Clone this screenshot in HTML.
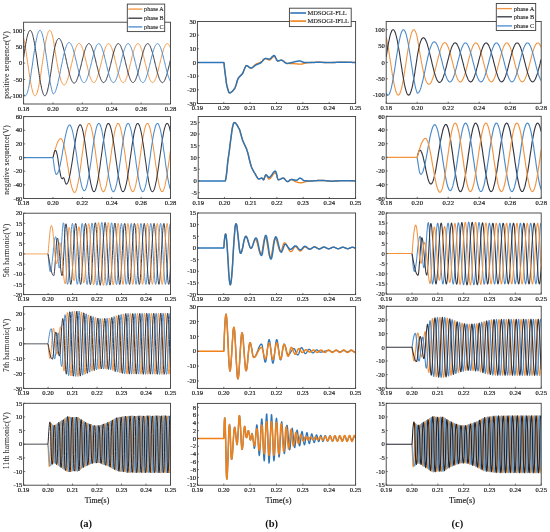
<!DOCTYPE html><html><head><meta charset="utf-8"><style>html,body{margin:0;padding:0;background:#fff;width:550px;height:532px;overflow:hidden}svg{display:block}</style></head><body><svg width="550" height="532" viewBox="0 0 550 532">
<rect width="550" height="532" fill="#fff"/>
<clipPath id="cpa0"><rect x="23.60" y="22.20" width="146.90" height="81.80"/></clipPath>
<g clip-path="url(#cpa0)" fill="none" stroke-linejoin="round">
<path d="M23.6 37.9L23.9 39.2 24.2 40.6 24.5 42.1 24.7 43.7 25.0 45.3 25.3 47.1 25.6 48.8 25.9 50.7 26.2 52.5 26.5 54.5 26.7 56.4 27.0 58.4 27.3 60.4 27.6 62.4 27.9 64.4 28.2 66.4 28.5 68.4 28.8 70.3 29.0 72.3 29.3 74.2 29.6 76.0 29.9 77.8 30.2 79.6 30.5 81.3 30.8 82.9 31.0 84.5 31.3 86.0 31.6 87.4 31.9 88.7 32.2 89.9 32.5 91.0 32.8 92.0 33.0 92.8 33.3 93.6 33.6 94.3 33.9 94.8 34.2 95.3 34.5 95.6 34.8 95.8 35.1 95.8 35.3 95.8 35.6 95.6 35.9 95.3 36.2 94.9 36.5 94.3 36.8 93.6 37.1 92.9 37.3 92.0 37.6 91.0 37.9 89.9 38.2 88.7 38.5 87.4 38.8 86.0 39.1 84.5 39.3 83.0 39.6 81.4 39.9 79.7 40.2 77.9 40.5 76.1 40.8 74.2 41.1 72.3 41.4 70.4 41.6 68.4 41.9 66.4 42.2 64.4 42.5 62.4 42.8 60.4 43.1 58.4 43.4 56.5 43.6 54.5 43.9 52.6 44.2 50.7 44.5 48.9 44.8 47.1 45.1 45.4 45.4 43.7 45.6 42.2 45.9 40.7 46.2 39.3 46.5 37.9 46.8 36.7 47.1 35.6 47.4 34.5 47.7 33.6 47.9 32.8 48.2 32.1 48.5 31.5 48.8 31.1 49.1 30.7 49.4 30.5 49.7 30.4 49.9 30.4 50.2 30.6 50.5 30.8 50.8 31.2 51.1 31.7 51.4 32.3 51.7 33.1 51.9 33.9 52.2 34.9 52.5 36.0 52.8 37.1 53.1 38.6 53.4 40.3 53.7 42.1 54.0 43.9 54.2 45.7 54.5 47.5 54.8 49.3 55.1 51.1 55.4 52.9 55.7 54.6 56.0 56.4 56.2 58.1 56.5 59.8 56.8 61.5 57.1 63.2 57.4 64.8 57.7 66.3 58.0 67.9 58.2 69.3 58.5 70.7 58.8 72.1 59.1 73.4 59.4 74.7 59.7 75.9 60.0 77.0 60.3 78.0 60.5 79.0 60.8 79.9 61.1 80.8 61.4 81.6 61.7 82.2 62.0 82.9 62.3 83.4 62.5 83.9 62.8 84.2 63.1 84.5 63.4 84.8 63.7 84.9 64.0 85.0 64.3 85.0 64.5 84.9 64.8 84.7 65.1 84.5 65.4 84.1 65.7 83.7 66.0 83.3 66.3 82.7 66.6 82.1 66.8 81.5 67.1 80.7 67.4 80.0 67.7 79.1 68.0 78.2 68.3 77.3 68.6 76.3 68.8 75.3 69.1 74.2 69.4 73.1 69.7 71.9 70.0 70.8 70.3 69.6 70.6 68.4 70.8 67.1 71.1 65.9 71.4 64.7 71.7 63.4 72.0 62.2 72.3 61.0 72.6 59.7 72.9 58.5 73.1 57.4 73.4 56.2 73.7 55.1 74.0 54.0 74.3 52.9 74.6 51.9 74.9 50.9 75.1 50.0 75.4 49.1 75.7 48.3 76.0 47.5 76.3 46.8 76.6 46.1 76.9 45.6 77.1 45.0 77.4 44.6 77.7 44.2 78.0 43.9 78.3 43.7 78.6 43.5 78.9 43.4 79.2 43.4 79.4 43.4 79.7 43.6 80.0 43.8 80.3 44.0 80.6 44.4 80.9 44.8 81.2 45.3 81.4 45.8 81.7 46.4 82.0 47.1 82.3 47.8 82.6 48.6 82.9 49.5 83.2 50.3 83.4 51.3 83.7 52.3 84.0 53.3 84.3 54.3 84.6 55.4 84.9 56.6 85.2 57.7 85.5 58.9 85.7 60.0 86.0 61.2 86.3 62.4 86.6 63.6 86.9 64.8 87.2 66.0 87.5 67.2 87.7 68.3 88.0 69.5 88.3 70.6 88.6 71.7 88.9 72.7 89.2 73.8 89.5 74.7 89.7 75.7 90.0 76.6 90.3 77.4 90.6 78.2 90.9 78.9 91.2 79.6 91.5 80.2 91.8 80.7 92.0 81.2 92.3 81.6 92.6 82.0 92.9 82.2 93.2 82.4 93.5 82.5 93.8 82.6 94.0 82.6 94.3 82.5 94.6 82.3 94.9 82.1 95.2 81.8 95.5 81.4 95.8 80.9 96.0 80.4 96.3 79.8 96.6 79.2 96.9 78.5 97.2 77.7 97.5 76.9 97.8 76.0 98.1 75.1 98.3 74.2 98.6 73.2 98.9 72.1 99.2 71.0 99.5 69.9 99.8 68.8 100.1 67.7 100.3 66.5 100.6 65.3 100.9 64.1 101.2 62.9 101.5 61.7 101.8 60.6 102.1 59.4 102.3 58.2 102.6 57.1 102.9 56.0 103.2 54.9 103.5 53.8 103.8 52.8 104.1 51.8 104.4 50.8 104.6 49.9 104.9 49.1 105.2 48.3 105.5 47.5 105.8 46.8 106.1 46.2 106.4 45.7 106.6 45.2 106.9 44.7 107.2 44.4 107.5 44.1 107.8 43.9 108.1 43.7 108.4 43.6 108.6 43.6 108.9 43.7 109.2 43.9 109.5 44.1 109.8 44.4 110.1 44.7 110.4 45.1 110.7 45.6 110.9 46.2 111.2 46.8 111.5 47.5 111.8 48.3 112.1 49.0 112.4 49.9 112.7 50.8 112.9 51.7 113.2 52.7 113.5 53.8 113.8 54.8 114.1 55.9 114.4 57.0 114.7 58.2 114.9 59.4 115.2 60.5 115.5 61.7 115.8 62.9 116.1 64.1 116.4 65.3 116.7 66.5 117.0 67.6 117.2 68.8 117.5 69.9 117.8 71.0 118.1 72.1 118.4 73.1 118.7 74.1 119.0 75.1 119.2 76.0 119.5 76.9 119.8 77.7 120.1 78.5 120.4 79.2 120.7 79.8 121.0 80.4 121.2 80.9 121.5 81.3 121.8 81.7 122.1 82.0 122.4 82.3 122.7 82.4 123.0 82.5 123.3 82.6 123.5 82.5 123.8 82.4 124.1 82.2 124.4 81.9 124.7 81.6 125.0 81.2 125.3 80.7 125.5 80.2 125.8 79.6 126.1 78.9 126.4 78.2 126.7 77.4 127.0 76.6 127.3 75.7 127.5 74.7 127.8 73.8 128.1 72.7 128.4 71.7 128.7 70.6 129.0 69.5 129.3 68.4 129.6 67.2 129.8 66.0 130.1 64.8 130.4 63.7 130.7 62.5 131.0 61.3 131.3 60.1 131.6 58.9 131.8 57.8 132.1 56.6 132.4 55.5 132.7 54.4 133.0 53.4 133.3 52.4 133.6 51.4 133.8 50.5 134.1 49.6 134.4 48.7 134.7 48.0 135.0 47.2 135.3 46.6 135.6 46.0 135.9 45.5 136.1 45.0 136.4 44.6 136.7 44.2 137.0 44.0 137.3 43.8 137.6 43.7 137.9 43.6 138.1 43.7 138.4 43.8 138.7 43.9 139.0 44.2 139.3 44.5 139.6 44.9 139.9 45.3 140.1 45.9 140.4 46.4 140.7 47.1 141.0 47.8 141.3 48.6 141.6 49.4 141.9 50.3 142.2 51.2 142.4 52.1 142.7 53.1 143.0 54.2 143.3 55.3 143.6 56.4 143.9 57.5 144.2 58.7 144.4 59.8 144.7 61.0 145.0 62.2 145.3 63.4 145.6 64.6 145.9 65.8 146.2 66.9 146.4 68.1 146.7 69.2 147.0 70.4 147.3 71.4 147.6 72.5 147.9 73.5 148.2 74.5 148.5 75.5 148.7 76.4 149.0 77.2 149.3 78.0 149.6 78.7 149.9 79.4 150.2 80.0 150.5 80.6 150.7 81.1 151.0 81.5 151.3 81.9 151.6 82.1 151.9 82.4 152.2 82.5 152.5 82.6 152.7 82.6 153.0 82.5 153.3 82.3 153.6 82.1 153.9 81.8 154.2 81.4 154.5 81.0 154.8 80.5 155.0 79.9 155.3 79.3 155.6 78.6 155.9 77.9 156.2 77.1 156.5 76.2 156.8 75.3 157.0 74.4 157.3 73.4 157.6 72.3 157.9 71.3 158.2 70.2 158.5 69.0 158.8 67.9 159.0 66.7 159.3 65.6 159.6 64.4 159.9 63.2 160.2 62.0 160.5 60.8 160.8 59.6 161.1 58.5 161.3 57.3 161.6 56.2 161.9 55.1 162.2 54.0 162.5 53.0 162.8 52.0 163.1 51.0 163.3 50.1 163.6 49.2 163.9 48.4 164.2 47.7 164.5 47.0 164.8 46.3 165.1 45.8 165.3 45.3 165.6 44.8 165.9 44.4 166.2 44.1 166.5 43.9 166.8 43.7 167.1 43.7 167.4 43.6 167.6 43.7 167.9 43.8 168.2 44.0 168.5 44.3 168.8 44.6 169.1 45.1 169.4 45.5 169.6 46.1 169.9 46.7 170.2 47.4 170.5 48.1" stroke="#F29440" stroke-width="1.0"/>
<path d="M23.6 57.6L23.9 55.7 24.2 53.7 24.5 51.8 24.7 50.0 25.0 48.2 25.3 46.4 25.6 44.7 25.9 43.1 26.2 41.6 26.5 40.1 26.7 38.7 27.0 37.4 27.3 36.2 27.6 35.1 27.9 34.1 28.2 33.3 28.5 32.5 28.8 31.9 29.0 31.3 29.3 30.9 29.6 30.6 29.9 30.4 30.2 30.4 30.5 30.5 30.8 30.6 31.0 31.0 31.3 31.4 31.6 32.0 31.9 32.6 32.2 33.4 32.5 34.3 32.8 35.3 33.0 36.4 33.3 37.6 33.6 38.9 33.9 40.3 34.2 41.8 34.5 43.4 34.8 45.0 35.1 46.7 35.3 48.5 35.6 50.3 35.9 52.2 36.2 54.1 36.5 56.0 36.8 58.0 37.1 60.0 37.3 62.0 37.6 64.0 37.9 66.0 38.2 68.0 38.5 69.9 38.8 71.9 39.1 73.8 39.3 75.7 39.6 77.5 39.9 79.3 40.2 81.0 40.5 82.6 40.8 84.2 41.1 85.7 41.4 87.1 41.6 88.4 41.9 89.6 42.2 90.7 42.5 91.8 42.8 92.7 43.1 93.5 43.4 94.2 43.6 94.7 43.9 95.2 44.2 95.5 44.5 95.7 44.8 95.8 45.1 95.8 45.4 95.6 45.6 95.3 45.9 94.9 46.2 94.4 46.5 93.8 46.8 93.0 47.1 92.2 47.4 91.2 47.7 90.1 47.9 88.9 48.2 87.7 48.5 86.3 48.8 84.8 49.1 83.3 49.4 81.7 49.7 80.0 49.9 78.3 50.2 76.5 50.5 74.6 50.8 72.7 51.1 70.8 51.4 68.8 51.7 66.8 51.9 64.8 52.2 62.8 52.5 60.8 52.8 58.8 53.1 56.9 53.4 55.1 53.7 53.4 54.0 51.8 54.2 50.2 54.5 48.8 54.8 47.4 55.1 46.2 55.4 45.0 55.7 44.0 56.0 43.0 56.2 42.1 56.5 41.3 56.8 40.7 57.1 40.1 57.4 39.6 57.7 39.2 58.0 38.8 58.2 38.6 58.5 38.5 58.8 38.5 59.1 38.5 59.4 38.6 59.7 38.8 60.0 39.1 60.3 39.5 60.5 39.9 60.8 40.5 61.1 41.1 61.4 41.7 61.7 42.5 62.0 43.3 62.3 44.1 62.5 45.0 62.8 46.0 63.1 47.0 63.4 48.0 63.7 49.1 64.0 50.3 64.3 51.5 64.5 52.7 64.8 53.9 65.1 55.1 65.4 56.4 65.7 57.7 66.0 59.0 66.3 60.3 66.6 61.6 66.8 62.9 67.1 64.2 67.4 65.5 67.7 66.7 68.0 68.0 68.3 69.2 68.6 70.3 68.8 71.5 69.1 72.6 69.4 73.7 69.7 74.7 70.0 75.7 70.3 76.6 70.6 77.5 70.8 78.4 71.1 79.1 71.4 79.8 71.7 80.5 72.0 81.0 72.3 81.6 72.6 82.0 72.9 82.4 73.1 82.7 73.4 82.9 73.7 83.0 74.0 83.1 74.3 83.1 74.6 83.0 74.9 82.9 75.1 82.7 75.4 82.4 75.7 82.0 76.0 81.6 76.3 81.1 76.6 80.5 76.9 79.9 77.1 79.2 77.4 78.4 77.7 77.6 78.0 76.8 78.3 75.9 78.6 74.9 78.9 73.9 79.2 72.9 79.4 71.8 79.7 70.7 80.0 69.6 80.3 68.4 80.6 67.2 80.9 66.1 81.2 64.9 81.4 63.7 81.7 62.5 82.0 61.3 82.3 60.1 82.6 58.9 82.9 57.7 83.2 56.6 83.4 55.5 83.7 54.4 84.0 53.3 84.3 52.3 84.6 51.3 84.9 50.4 85.2 49.5 85.5 48.7 85.7 47.9 86.0 47.2 86.3 46.5 86.6 45.9 86.9 45.4 87.2 44.9 87.5 44.5 87.7 44.2 88.0 43.9 88.3 43.7 88.6 43.6 88.9 43.6 89.2 43.6 89.5 43.7 89.7 43.9 90.0 44.1 90.3 44.5 90.6 44.8 90.9 45.3 91.2 45.8 91.5 46.4 91.8 47.1 92.0 47.8 92.3 48.5 92.6 49.4 92.9 50.2 93.2 51.2 93.5 52.1 93.8 53.1 94.0 54.2 94.3 55.3 94.6 56.4 94.9 57.5 95.2 58.6 95.5 59.8 95.8 61.0 96.0 62.2 96.3 63.4 96.6 64.6 96.9 65.8 97.2 66.9 97.5 68.1 97.8 69.2 98.1 70.4 98.3 71.5 98.6 72.5 98.9 73.5 99.2 74.5 99.5 75.5 99.8 76.4 100.1 77.2 100.3 78.0 100.6 78.7 100.9 79.4 101.2 80.0 101.5 80.6 101.8 81.1 102.1 81.5 102.3 81.9 102.6 82.2 102.9 82.4 103.2 82.5 103.5 82.6 103.8 82.6 104.1 82.5 104.4 82.3 104.6 82.1 104.9 81.8 105.2 81.4 105.5 81.0 105.8 80.5 106.1 79.9 106.4 79.3 106.6 78.6 106.9 77.9 107.2 77.1 107.5 76.2 107.8 75.3 108.1 74.4 108.4 73.4 108.6 72.3 108.9 71.3 109.2 70.2 109.5 69.0 109.8 67.9 110.1 66.7 110.4 65.6 110.7 64.4 110.9 63.2 111.2 62.0 111.5 60.8 111.8 59.6 112.1 58.5 112.4 57.3 112.7 56.2 112.9 55.1 113.2 54.0 113.5 53.0 113.8 52.0 114.1 51.0 114.4 50.1 114.7 49.2 114.9 48.4 115.2 47.7 115.5 47.0 115.8 46.3 116.1 45.8 116.4 45.3 116.7 44.8 117.0 44.4 117.2 44.1 117.5 43.9 117.8 43.7 118.1 43.6 118.4 43.6 118.7 43.7 119.0 43.8 119.2 44.0 119.5 44.3 119.8 44.6 120.1 45.1 120.4 45.5 120.7 46.1 121.0 46.7 121.2 47.4 121.5 48.1 121.8 48.9 122.1 49.7 122.4 50.6 122.7 51.6 123.0 52.5 123.3 53.6 123.5 54.6 123.8 55.7 124.1 56.8 124.4 58.0 124.7 59.1 125.0 60.3 125.3 61.5 125.5 62.7 125.8 63.9 126.1 65.0 126.4 66.2 126.7 67.4 127.0 68.6 127.3 69.7 127.5 70.8 127.8 71.9 128.1 72.9 128.4 73.9 128.7 74.9 129.0 75.8 129.3 76.7 129.6 77.5 129.8 78.3 130.1 79.0 130.4 79.7 130.7 80.3 131.0 80.8 131.3 81.3 131.6 81.7 131.8 82.0 132.1 82.2 132.4 82.4 132.7 82.5 133.0 82.6 133.3 82.5 133.6 82.4 133.8 82.2 134.1 82.0 134.4 81.7 134.7 81.3 135.0 80.8 135.3 80.3 135.6 79.7 135.9 79.0 136.1 78.3 136.4 77.6 136.7 76.7 137.0 75.9 137.3 74.9 137.6 74.0 137.9 73.0 138.1 71.9 138.4 70.8 138.7 69.7 139.0 68.6 139.3 67.4 139.6 66.3 139.9 65.1 140.1 63.9 140.4 62.7 140.7 61.5 141.0 60.3 141.3 59.2 141.6 58.0 141.9 56.9 142.2 55.7 142.4 54.6 142.7 53.6 143.0 52.6 143.3 51.6 143.6 50.6 143.9 49.8 144.2 48.9 144.4 48.1 144.7 47.4 145.0 46.7 145.3 46.1 145.6 45.6 145.9 45.1 146.2 44.7 146.4 44.3 146.7 44.0 147.0 43.8 147.3 43.7 147.6 43.6 147.9 43.6 148.2 43.7 148.5 43.9 148.7 44.1 149.0 44.4 149.3 44.8 149.6 45.2 149.9 45.7 150.2 46.3 150.5 47.0 150.7 47.7 151.0 48.4 151.3 49.2 151.6 50.1 151.9 51.0 152.2 51.9 152.5 52.9 152.7 54.0 153.0 55.0 153.3 56.1 153.6 57.3 153.9 58.4 154.2 59.6 154.5 60.8 154.8 62.0 155.0 63.1 155.3 64.3 155.6 65.5 155.9 66.7 156.2 67.9 156.5 69.0 156.8 70.1 157.0 71.2 157.3 72.3 157.6 73.3 157.9 74.3 158.2 75.3 158.5 76.2 158.8 77.0 159.0 77.8 159.3 78.6 159.6 79.3 159.9 79.9 160.2 80.5 160.5 81.0 160.8 81.4 161.1 81.8 161.3 82.1 161.6 82.3 161.9 82.5 162.2 82.6 162.5 82.6 162.8 82.5 163.1 82.4 163.3 82.2 163.6 81.9 163.9 81.5 164.2 81.1 164.5 80.6 164.8 80.1 165.1 79.4 165.3 78.8 165.6 78.0 165.9 77.2 166.2 76.4 166.5 75.5 166.8 74.5 167.1 73.6 167.4 72.5 167.6 71.5 167.9 70.4 168.2 69.3 168.5 68.1 168.8 67.0 169.1 65.8 169.4 64.6 169.6 63.4 169.9 62.2 170.2 61.0 170.5 59.9" stroke="#33353F" stroke-width="1.0"/>
<path d="M23.6 93.8L23.9 94.4 24.2 94.9 24.5 95.3 24.7 95.6 25.0 95.8 25.3 95.8 25.6 95.7 25.9 95.5 26.2 95.2 26.5 94.8 26.7 94.2 27.0 93.5 27.3 92.7 27.6 91.8 27.9 90.8 28.2 89.7 28.5 88.4 28.8 87.1 29.0 85.7 29.3 84.2 29.6 82.7 29.9 81.0 30.2 79.3 30.5 77.5 30.8 75.7 31.0 73.8 31.3 71.9 31.6 70.0 31.9 68.0 32.2 66.0 32.5 64.0 32.8 62.0 33.0 60.0 33.3 58.0 33.6 56.1 33.9 54.1 34.2 52.2 34.5 50.4 34.8 48.5 35.1 46.8 35.3 45.1 35.6 43.4 35.9 41.9 36.2 40.4 36.5 39.0 36.8 37.7 37.1 36.5 37.3 35.3 37.6 34.3 37.9 33.4 38.2 32.6 38.5 32.0 38.8 31.4 39.1 31.0 39.3 30.7 39.6 30.5 39.9 30.4 40.2 30.4 40.5 30.6 40.8 30.9 41.1 31.3 41.4 31.8 41.6 32.5 41.9 33.2 42.2 34.1 42.5 35.1 42.8 36.2 43.1 37.4 43.4 38.7 43.6 40.1 43.9 41.5 44.2 43.1 44.5 44.7 44.8 46.4 45.1 48.1 45.4 49.9 45.6 51.8 45.9 53.7 46.2 55.6 46.5 57.6 46.8 59.6 47.1 61.6 47.4 63.6 47.7 65.6 47.9 67.6 48.2 69.5 48.5 71.5 48.8 73.4 49.1 75.3 49.4 77.1 49.7 78.9 49.9 80.6 50.2 82.3 50.5 83.9 50.8 85.4 51.1 86.8 51.4 88.1 51.7 89.4 51.9 90.5 52.2 91.6 52.5 92.5 52.8 93.3 53.1 93.8 53.4 93.9 53.7 93.8 54.0 93.7 54.2 93.4 54.5 93.0 54.8 92.6 55.1 92.0 55.4 91.4 55.7 90.7 56.0 89.9 56.2 89.1 56.5 88.1 56.8 87.1 57.1 86.1 57.4 85.0 57.7 83.8 58.0 82.6 58.2 81.4 58.5 80.1 58.8 78.7 59.1 77.4 59.4 76.0 59.7 74.6 60.0 73.2 60.3 71.8 60.5 70.3 60.8 68.9 61.1 67.5 61.4 66.0 61.7 64.6 62.0 63.2 62.3 61.8 62.5 60.4 62.8 59.1 63.1 57.8 63.4 56.5 63.7 55.2 64.0 54.0 64.3 52.9 64.5 51.8 64.8 50.7 65.1 49.7 65.4 48.8 65.7 47.9 66.0 47.0 66.3 46.3 66.6 45.6 66.8 44.9 67.1 44.4 67.4 43.9 67.7 43.5 68.0 43.1 68.3 42.9 68.6 42.7 68.8 42.5 69.1 42.5 69.4 42.5 69.7 42.6 70.0 42.8 70.3 43.1 70.6 43.4 70.8 43.8 71.1 44.3 71.4 44.8 71.7 45.4 72.0 46.1 72.3 46.8 72.6 47.6 72.9 48.4 73.1 49.3 73.4 50.2 73.7 51.2 74.0 52.2 74.3 53.3 74.6 54.4 74.9 55.5 75.1 56.7 75.4 57.8 75.7 59.0 76.0 60.2 76.3 61.4 76.6 62.7 76.9 63.9 77.1 65.1 77.4 66.3 77.7 67.5 78.0 68.6 78.3 69.8 78.6 70.9 78.9 72.0 79.2 73.1 79.4 74.1 79.7 75.0 80.0 76.0 80.3 76.9 80.6 77.7 80.9 78.5 81.2 79.2 81.4 79.8 81.7 80.4 82.0 80.9 82.3 81.4 82.6 81.8 82.9 82.1 83.2 82.4 83.4 82.6 83.7 82.7 84.0 82.7 84.3 82.6 84.6 82.5 84.9 82.3 85.2 82.1 85.5 81.8 85.7 81.4 86.0 80.9 86.3 80.4 86.6 79.8 86.9 79.1 87.2 78.4 87.5 77.6 87.7 76.8 88.0 75.9 88.3 75.0 88.6 74.0 88.9 73.0 89.2 71.9 89.5 70.8 89.7 69.7 90.0 68.6 90.3 67.4 90.6 66.3 90.9 65.1 91.2 63.9 91.5 62.7 91.8 61.5 92.0 60.3 92.3 59.1 92.6 58.0 92.9 56.8 93.2 55.7 93.5 54.6 93.8 53.6 94.0 52.6 94.3 51.6 94.6 50.6 94.9 49.7 95.2 48.9 95.5 48.1 95.8 47.4 96.0 46.7 96.3 46.1 96.6 45.5 96.9 45.1 97.2 44.6 97.5 44.3 97.8 44.0 98.1 43.8 98.3 43.7 98.6 43.6 98.9 43.6 99.2 43.7 99.5 43.9 99.8 44.1 100.1 44.4 100.3 44.8 100.6 45.2 100.9 45.7 101.2 46.3 101.5 47.0 101.8 47.6 102.1 48.4 102.3 49.2 102.6 50.1 102.9 51.0 103.2 51.9 103.5 52.9 103.8 54.0 104.1 55.0 104.4 56.1 104.6 57.3 104.9 58.4 105.2 59.6 105.5 60.8 105.8 62.0 106.1 63.1 106.4 64.3 106.6 65.5 106.9 66.7 107.2 67.9 107.5 69.0 107.8 70.1 108.1 71.2 108.4 72.3 108.6 73.3 108.9 74.3 109.2 75.3 109.5 76.2 109.8 77.0 110.1 77.9 110.4 78.6 110.7 79.3 110.9 79.9 111.2 80.5 111.5 81.0 111.8 81.4 112.1 81.8 112.4 82.1 112.7 82.3 112.9 82.5 113.2 82.6 113.5 82.6 113.8 82.5 114.1 82.4 114.4 82.2 114.7 81.9 114.9 81.5 115.2 81.1 115.5 80.6 115.8 80.1 116.1 79.4 116.4 78.8 116.7 78.0 117.0 77.2 117.2 76.4 117.5 75.5 117.8 74.5 118.1 73.6 118.4 72.5 118.7 71.5 119.0 70.4 119.2 69.3 119.5 68.1 119.8 67.0 120.1 65.8 120.4 64.6 120.7 63.4 121.0 62.2 121.2 61.0 121.5 59.9 121.8 58.7 122.1 57.5 122.4 56.4 122.7 55.3 123.0 54.2 123.3 53.2 123.5 52.2 123.8 51.2 124.1 50.3 124.4 49.4 124.7 48.6 125.0 47.8 125.3 47.1 125.5 46.5 125.8 45.9 126.1 45.4 126.4 44.9 126.7 44.5 127.0 44.2 127.3 43.9 127.5 43.8 127.8 43.7 128.1 43.6 128.4 43.7 128.7 43.8 129.0 44.0 129.3 44.2 129.6 44.6 129.8 45.0 130.1 45.4 130.4 46.0 130.7 46.6 131.0 47.2 131.3 47.9 131.6 48.7 131.8 49.6 132.1 50.4 132.4 51.4 132.7 52.3 133.0 53.4 133.3 54.4 133.6 55.5 133.8 56.6 134.1 57.7 134.4 58.9 134.7 60.1 135.0 61.2 135.3 62.4 135.6 63.6 135.9 64.8 136.1 66.0 136.4 67.2 136.7 68.3 137.0 69.5 137.3 70.6 137.6 71.7 137.9 72.7 138.1 73.7 138.4 74.7 138.7 75.6 139.0 76.5 139.3 77.4 139.6 78.2 139.9 78.9 140.1 79.6 140.4 80.2 140.7 80.7 141.0 81.2 141.3 81.6 141.6 81.9 141.9 82.2 142.2 82.4 142.4 82.5 142.7 82.6 143.0 82.5 143.3 82.5 143.6 82.3 143.9 82.0 144.2 81.7 144.4 81.4 144.7 80.9 145.0 80.4 145.3 79.8 145.6 79.2 145.9 78.5 146.2 77.7 146.4 76.9 146.7 76.0 147.0 75.1 147.3 74.2 147.6 73.2 147.9 72.1 148.2 71.0 148.5 69.9 148.7 68.8 149.0 67.7 149.3 66.5 149.6 65.3 149.9 64.1 150.2 62.9 150.5 61.7 150.7 60.6 151.0 59.4 151.3 58.2 151.6 57.1 151.9 56.0 152.2 54.9 152.5 53.8 152.7 52.8 153.0 51.8 153.3 50.8 153.6 49.9 153.9 49.1 154.2 48.3 154.5 47.5 154.8 46.8 155.0 46.2 155.3 45.7 155.6 45.2 155.9 44.7 156.2 44.4 156.5 44.1 156.8 43.9 157.0 43.7 157.3 43.6 157.6 43.6 157.9 43.7 158.2 43.9 158.5 44.1 158.8 44.4 159.0 44.7 159.3 45.1 159.6 45.6 159.9 46.2 160.2 46.8 160.5 47.5 160.8 48.3 161.1 49.1 161.3 49.9 161.6 50.8 161.9 51.7 162.2 52.7 162.5 53.8 162.8 54.8 163.1 55.9 163.3 57.0 163.6 58.2 163.9 59.4 164.2 60.5 164.5 61.7 164.8 62.9 165.1 64.1 165.3 65.3 165.6 66.5 165.9 67.6 166.2 68.8 166.5 69.9 166.8 71.0 167.1 72.1 167.4 73.1 167.6 74.1 167.9 75.1 168.2 76.0 168.5 76.9 168.8 77.7 169.1 78.5 169.4 79.2 169.6 79.8 169.9 80.4 170.2 80.9 170.5 81.3" stroke="#4A8ACB" stroke-width="1.0"/>
</g>
<rect x="23.60" y="22.20" width="146.90" height="81.80" fill="none" stroke="#3C3C3C" stroke-width="0.9"/>
<path d="M23.60 95.82h1.6M23.60 79.46h1.6M23.60 63.10h1.6M23.60 46.74h1.6M23.60 30.38h1.6M23.60 104.00v-1.6M52.98 104.00v-1.6M82.36 104.00v-1.6M111.74 104.00v-1.6M141.12 104.00v-1.6M170.50 104.00v-1.6" stroke="#3C3C3C" stroke-width="0.7" fill="none"/>
<g font-family="'Liberation Serif','Times New Roman',serif" font-size="6.6" fill="#222" stroke="#222" stroke-width="0.2">
<text x="22.30" y="98.02" text-anchor="end">-100</text>
<text x="22.30" y="81.66" text-anchor="end">-50</text>
<text x="22.30" y="65.30" text-anchor="end">0</text>
<text x="22.30" y="48.94" text-anchor="end">50</text>
<text x="22.30" y="32.58" text-anchor="end">100</text>
<text x="23.60" y="110.60" text-anchor="middle">0.18</text>
<text x="52.98" y="110.60" text-anchor="middle">0.20</text>
<text x="82.36" y="110.60" text-anchor="middle">0.22</text>
<text x="111.74" y="110.60" text-anchor="middle">0.24</text>
<text x="141.12" y="110.60" text-anchor="middle">0.26</text>
<text x="170.50" y="110.60" text-anchor="middle">0.28</text>
</g>
<clipPath id="cpa1"><rect x="23.60" y="116.60" width="146.90" height="81.90"/></clipPath>
<g clip-path="url(#cpa1)" fill="none" stroke-linejoin="round">
<path d="M52.8 157.6L53.1 157.1 53.4 156.0 53.7 154.9 54.0 153.9 54.2 152.8 54.5 151.7 54.8 150.7 55.1 149.7 55.4 148.7 55.7 147.8 56.0 146.9 56.2 146.0 56.5 145.1 56.8 144.3 57.1 143.6 57.4 142.9 57.7 142.2 58.0 141.6 58.2 141.0 58.5 140.5 58.8 140.1 59.1 139.7 59.4 139.4 59.7 139.1 60.0 138.9 60.3 138.7 60.5 138.7 60.8 138.6 61.1 138.7 61.4 138.9 61.7 139.2 62.0 139.6 62.3 140.2 62.5 140.8 62.8 141.6 63.1 142.4 63.4 143.3 63.7 144.4 64.0 145.5 64.3 146.7 64.5 148.0 64.8 149.4 65.1 150.8 65.4 152.3 65.7 153.8 66.0 155.4 66.3 157.1 66.6 158.8 66.8 160.5 67.1 162.2 67.4 163.9 67.7 165.7 68.0 167.4 68.3 169.2 68.6 170.9 68.8 172.6 69.1 174.3 69.4 175.9 69.7 177.5 70.0 179.0 70.3 180.5 70.6 181.9 70.8 183.3 71.1 184.5 71.4 185.7 71.7 186.8 72.0 187.9 72.3 188.8 72.6 189.6 72.9 190.3 73.1 190.9 73.4 191.4 73.7 191.8 74.0 192.1 74.3 192.3 74.6 192.4 74.9 192.3 75.1 192.1 75.4 191.8 75.7 191.3 76.0 190.7 76.3 190.0 76.6 189.1 76.9 188.2 77.1 187.1 77.4 185.9 77.7 184.5 78.0 183.1 78.3 181.6 78.6 180.0 78.9 178.3 79.2 176.5 79.4 174.7 79.7 172.8 80.0 170.8 80.3 168.8 80.6 166.7 80.9 164.6 81.2 162.5 81.4 160.4 81.7 158.2 82.0 156.1 82.3 153.9 82.6 151.8 82.9 149.7 83.2 147.6 83.4 145.6 83.7 143.6 84.0 141.7 84.3 139.8 84.6 138.0 84.9 136.3 85.2 134.6 85.5 133.1 85.7 131.6 86.0 130.3 86.3 129.1 86.6 127.9 86.9 126.9 87.2 126.0 87.5 125.3 87.7 124.7 88.0 124.1 88.3 123.8 88.6 123.5 88.9 123.4 89.2 123.5 89.5 123.6 89.7 123.9 90.0 124.3 90.3 124.9 90.6 125.6 90.9 126.4 91.2 127.3 91.5 128.4 91.8 129.5 92.0 130.8 92.3 132.2 92.6 133.6 92.9 135.2 93.2 136.9 93.5 138.6 93.8 140.4 94.0 142.3 94.3 144.2 94.6 146.2 94.9 148.2 95.2 150.3 95.5 152.4 95.8 154.5 96.0 156.7 96.3 158.8 96.6 160.9 96.9 163.0 97.2 165.1 97.5 167.2 97.8 169.2 98.1 171.2 98.3 173.1 98.6 175.0 98.9 176.8 99.2 178.5 99.5 180.1 99.8 181.7 100.1 183.2 100.3 184.5 100.6 185.8 100.9 186.9 101.2 187.9 101.5 188.8 101.8 189.6 102.1 190.3 102.3 190.8 102.6 191.2 102.9 191.5 103.2 191.7 103.5 191.7 103.8 191.5 104.1 191.3 104.4 190.9 104.6 190.4 104.9 189.8 105.2 189.1 105.5 188.2 105.8 187.2 106.1 186.1 106.4 184.9 106.6 183.6 106.9 182.2 107.2 180.8 107.5 179.2 107.8 177.5 108.1 175.8 108.4 174.0 108.6 172.1 108.9 170.2 109.2 168.3 109.5 166.2 109.8 164.2 110.1 162.2 110.4 160.1 110.7 158.0 110.9 155.9 111.2 153.8 111.5 151.7 111.8 149.7 112.1 147.7 112.4 145.7 112.7 143.8 112.9 141.9 113.2 140.1 113.5 138.3 113.8 136.6 114.1 135.0 114.4 133.5 114.7 132.0 114.9 130.7 115.2 129.5 115.5 128.3 115.8 127.3 116.1 126.4 116.4 125.6 116.7 124.9 117.0 124.4 117.2 123.9 117.5 123.6 117.8 123.5 118.1 123.4 118.4 123.5 118.7 123.7 119.0 124.1 119.2 124.5 119.5 125.1 119.8 125.8 120.1 126.6 120.4 127.6 120.7 128.6 121.0 129.8 121.2 131.1 121.5 132.4 121.8 133.9 122.1 135.4 122.4 137.1 122.7 138.8 123.0 140.6 123.3 142.4 123.5 144.3 123.8 146.3 124.1 148.2 124.4 150.3 124.7 152.3 125.0 154.4 125.3 156.5 125.5 158.6 125.8 160.7 126.1 162.7 126.4 164.8 126.7 166.8 127.0 168.8 127.3 170.8 127.5 172.7 127.8 174.5 128.1 176.3 128.4 178.0 128.7 179.6 129.0 181.2 129.3 182.6 129.6 184.0 129.8 185.3 130.1 186.4 130.4 187.5 130.7 188.4 131.0 189.3 131.3 190.0 131.6 190.6 131.8 191.0 132.1 191.4 132.4 191.6 132.7 191.7 133.0 191.6 133.3 191.5 133.6 191.2 133.8 190.7 134.1 190.2 134.4 189.5 134.7 188.7 135.0 187.8 135.3 186.8 135.6 185.7 135.9 184.4 136.1 183.1 136.4 181.7 136.7 180.1 137.0 178.5 137.3 176.8 137.6 175.1 137.9 173.3 138.1 171.4 138.4 169.4 138.7 167.5 139.0 165.4 139.3 163.4 139.6 161.3 139.9 159.2 140.1 157.2 140.4 155.1 140.7 153.0 141.0 150.9 141.3 148.9 141.6 146.9 141.9 144.9 142.2 143.0 142.4 141.1 142.7 139.3 143.0 137.6 143.3 136.0 143.6 134.4 143.9 132.9 144.2 131.5 144.4 130.2 144.7 129.0 145.0 127.9 145.3 126.9 145.6 126.1 145.9 125.3 146.2 124.7 146.4 124.2 146.7 123.8 147.0 123.6 147.3 123.4 147.6 123.4 147.9 123.6 148.2 123.8 148.5 124.2 148.7 124.7 149.0 125.4 149.3 126.1 149.6 127.0 149.9 128.0 150.2 129.1 150.5 130.3 150.7 131.6 151.0 133.0 151.3 134.5 151.6 136.1 151.9 137.7 152.2 139.5 152.5 141.3 152.7 143.2 153.0 145.1 153.3 147.0 153.6 149.1 153.9 151.1 154.2 153.2 154.5 155.2 154.8 157.3 155.0 159.4 155.3 161.5 155.6 163.6 155.9 165.6 156.2 167.6 156.5 169.6 156.8 171.5 157.0 173.4 157.3 175.2 157.6 177.0 157.9 178.7 158.2 180.3 158.5 181.8 158.8 183.2 159.0 184.5 159.3 185.8 159.6 186.9 159.9 187.9 160.2 188.8 160.5 189.6 160.8 190.2 161.1 190.8 161.3 191.2 161.6 191.5 161.9 191.6 162.2 191.7 162.5 191.6 162.8 191.4 163.1 191.0 163.3 190.5 163.6 189.9 163.9 189.2 164.2 188.4 164.5 187.4 164.8 186.4 165.1 185.2 165.3 183.9 165.6 182.5 165.9 181.1 166.2 179.5 166.5 177.9 166.8 176.1 167.1 174.4 167.4 172.5 167.6 170.6 167.9 168.6 168.2 166.7 168.5 164.6 168.8 162.6 169.1 160.5 169.4 158.4 169.6 156.3 169.9 154.2 170.2 152.2 170.5 150.1" stroke="#F29440" stroke-width="1.05"/>
<path d="M52.8 157.6L53.1 157.0 53.4 155.8 53.7 154.5 54.0 153.4 54.2 152.4 54.5 151.6 54.8 151.0 55.1 150.6 55.4 150.4 55.7 150.4 56.0 150.8 56.2 151.3 56.5 152.1 56.8 153.2 57.1 154.4 57.4 155.8 57.7 157.4 58.0 159.2 58.2 161.0 58.5 162.9 58.8 164.8 59.1 166.7 59.4 168.6 59.7 170.4 60.0 172.1 60.3 173.7 60.5 175.0 60.8 176.2 61.1 177.2 61.4 178.0 61.7 178.4 62.0 178.7 62.3 178.7 62.5 178.4 62.8 178.1 63.1 177.8 63.4 177.7 63.7 177.8 64.0 178.3 64.3 178.9 64.5 179.8 64.8 180.8 65.1 181.8 65.4 182.7 65.7 183.4 66.0 183.9 66.3 184.2 66.6 184.1 66.8 184.0 67.1 183.7 67.4 183.3 67.7 182.8 68.0 182.1 68.3 181.4 68.6 180.5 68.8 179.5 69.1 178.4 69.4 177.2 69.7 175.9 70.0 174.5 70.3 173.1 70.6 171.5 70.8 169.9 71.1 168.2 71.4 166.5 71.7 164.7 72.0 162.9 72.3 161.0 72.6 159.1 72.9 157.2 73.1 155.2 73.4 153.3 73.7 151.4 74.0 149.5 74.3 147.6 74.6 145.7 74.9 143.9 75.1 142.1 75.4 140.4 75.7 138.7 76.0 137.1 76.3 135.6 76.6 134.1 76.9 132.7 77.1 131.5 77.4 130.3 77.7 129.2 78.0 128.3 78.3 127.4 78.6 126.7 78.9 126.1 79.2 125.6 79.4 125.2 79.7 124.9 80.0 124.8 80.3 124.8 80.6 124.9 80.9 125.2 81.2 125.7 81.4 126.2 81.7 126.9 82.0 127.7 82.3 128.7 82.6 129.8 82.9 131.0 83.2 132.3 83.4 133.7 83.7 135.3 84.0 136.9 84.3 138.6 84.6 140.4 84.9 142.3 85.2 144.3 85.5 146.3 85.7 148.3 86.0 150.4 86.3 152.6 86.6 154.7 86.9 156.9 87.2 159.1 87.5 161.2 87.7 163.4 88.0 165.5 88.3 167.7 88.6 169.7 88.9 171.7 89.2 173.7 89.5 175.6 89.7 177.4 90.0 179.2 90.3 180.8 90.6 182.4 90.9 183.8 91.2 185.2 91.5 186.4 91.8 187.5 92.0 188.5 92.3 189.4 92.6 190.1 92.9 190.7 93.2 191.1 93.5 191.5 93.8 191.6 94.0 191.7 94.3 191.6 94.6 191.3 94.9 191.0 95.2 190.5 95.5 189.8 95.8 189.1 96.0 188.2 96.3 187.2 96.6 186.1 96.9 184.9 97.2 183.6 97.5 182.1 97.8 180.6 98.1 179.0 98.3 177.3 98.6 175.5 98.9 173.7 99.2 171.7 99.5 169.8 99.8 167.8 100.1 165.7 100.3 163.6 100.6 161.5 100.9 159.4 101.2 157.3 101.5 155.1 101.8 153.0 102.1 150.9 102.3 148.8 102.6 146.8 102.9 144.8 103.2 142.8 103.5 140.9 103.8 139.1 104.1 137.4 104.4 135.7 104.6 134.1 104.9 132.6 105.2 131.2 105.5 129.9 105.8 128.7 106.1 127.6 106.4 126.6 106.6 125.8 106.9 125.1 107.2 124.5 107.5 124.0 107.8 123.7 108.1 123.5 108.4 123.4 108.6 123.5 108.9 123.7 109.2 124.0 109.5 124.4 109.8 125.0 110.1 125.7 110.4 126.5 110.7 127.4 110.9 128.5 111.2 129.6 111.5 130.9 111.8 132.2 112.1 133.7 112.4 135.2 112.7 136.8 112.9 138.5 113.2 140.3 113.5 142.1 113.8 144.0 114.1 146.0 114.4 148.0 114.7 150.0 114.9 152.0 115.2 154.1 115.5 156.2 115.8 158.3 116.1 160.4 116.4 162.4 116.7 164.5 117.0 166.5 117.2 168.5 117.5 170.5 117.8 172.4 118.1 174.2 118.4 176.0 118.7 177.8 119.0 179.4 119.2 181.0 119.5 182.4 119.8 183.8 120.1 185.1 120.4 186.3 120.7 187.4 121.0 188.3 121.2 189.2 121.5 189.9 121.8 190.5 122.1 191.0 122.4 191.3 122.7 191.6 123.0 191.7 123.3 191.6 123.5 191.5 123.8 191.2 124.1 190.8 124.4 190.3 124.7 189.6 125.0 188.8 125.3 188.0 125.5 186.9 125.8 185.8 126.1 184.6 126.4 183.3 126.7 181.9 127.0 180.4 127.3 178.8 127.5 177.1 127.8 175.3 128.1 173.5 128.4 171.6 128.7 169.7 129.0 167.7 129.3 165.7 129.6 163.7 129.8 161.6 130.1 159.5 130.4 157.4 130.7 155.4 131.0 153.3 131.3 151.2 131.6 149.2 131.8 147.2 132.1 145.2 132.4 143.3 132.7 141.4 133.0 139.6 133.3 137.9 133.6 136.2 133.8 134.6 134.1 133.1 134.4 131.7 134.7 130.4 135.0 129.2 135.3 128.1 135.6 127.1 135.9 126.2 136.1 125.4 136.4 124.8 136.7 124.3 137.0 123.9 137.3 123.6 137.6 123.4 137.9 123.4 138.1 123.6 138.4 123.8 138.7 124.2 139.0 124.7 139.3 125.3 139.6 126.0 139.9 126.9 140.1 127.8 140.4 128.9 140.7 130.1 141.0 131.4 141.3 132.8 141.6 134.3 141.9 135.9 142.2 137.5 142.4 139.2 142.7 141.0 143.0 142.9 143.3 144.8 143.6 146.8 143.9 148.8 144.2 150.8 144.4 152.9 144.7 154.9 145.0 157.0 145.3 159.1 145.6 161.2 145.9 163.3 146.2 165.3 146.4 167.3 146.7 169.3 147.0 171.3 147.3 173.1 147.6 175.0 147.9 176.7 148.2 178.4 148.5 180.0 148.7 181.6 149.0 183.0 149.3 184.3 149.6 185.6 149.9 186.7 150.2 187.8 150.5 188.7 150.7 189.5 151.0 190.1 151.3 190.7 151.6 191.1 151.9 191.4 152.2 191.6 152.5 191.7 152.7 191.6 153.0 191.4 153.3 191.1 153.6 190.6 153.9 190.0 154.2 189.3 154.5 188.5 154.8 187.6 155.0 186.5 155.3 185.4 155.6 184.1 155.9 182.7 156.2 181.3 156.5 179.7 156.8 178.1 157.0 176.4 157.3 174.6 157.6 172.8 157.9 170.9 158.2 168.9 158.5 166.9 158.8 164.9 159.0 162.9 159.3 160.8 159.6 158.7 159.9 156.6 160.2 154.5 160.5 152.5 160.8 150.4 161.1 148.4 161.3 146.4 161.6 144.4 161.9 142.5 162.2 140.7 162.5 138.9 162.8 137.2 163.1 135.5 163.3 134.0 163.6 132.5 163.9 131.1 164.2 129.9 164.5 128.7 164.8 127.6 165.1 126.7 165.3 125.9 165.6 125.1 165.9 124.5 166.2 124.1 166.5 123.7 166.8 123.5 167.1 123.4 167.4 123.5 167.6 123.6 167.9 123.9 168.2 124.3 168.5 124.9 168.8 125.6 169.1 126.3 169.4 127.2 169.6 128.3 169.9 129.4 170.2 130.6 170.5 132.0" stroke="#33353F" stroke-width="1.05"/>
<path d="M23.6 157.6L23.9 157.6 24.2 157.6 24.5 157.6 24.7 157.6 25.0 157.6 25.3 157.6 25.6 157.6 25.9 157.6 26.2 157.6 26.5 157.6 26.7 157.6 27.0 157.6 27.3 157.6 27.6 157.6 27.9 157.6 28.2 157.6 28.5 157.6 28.8 157.6 29.0 157.6 29.3 157.6 29.6 157.6 29.9 157.6 30.2 157.6 30.5 157.6 30.8 157.6 31.0 157.6 31.3 157.6 31.6 157.6 31.9 157.6 32.2 157.6 32.5 157.6 32.8 157.6 33.0 157.6 33.3 157.6 33.6 157.6 33.9 157.6 34.2 157.6 34.5 157.6 34.8 157.6 35.1 157.6 35.3 157.6 35.6 157.6 35.9 157.6 36.2 157.6 36.5 157.6 36.8 157.6 37.1 157.6 37.3 157.6 37.6 157.6 37.9 157.6 38.2 157.6 38.5 157.6 38.8 157.6 39.1 157.6 39.3 157.6 39.6 157.6 39.9 157.6 40.2 157.6 40.5 157.6 40.8 157.6 41.1 157.6 41.4 157.6 41.6 157.6 41.9 157.6 42.2 157.6 42.5 157.6 42.8 157.6 43.1 157.6 43.4 157.6 43.6 157.6 43.9 157.6 44.2 157.6 44.5 157.6 44.8 157.6 45.1 157.6 45.4 157.6 45.6 157.6 45.9 157.6 46.2 157.6 46.5 157.6 46.8 157.6 47.1 157.6 47.4 157.6 47.7 157.6 47.9 157.6 48.2 157.6 48.5 157.6 48.8 157.6 49.1 157.6 49.4 157.6 49.7 157.6 49.9 157.6 50.2 157.6 50.5 157.6 50.8 157.6 51.1 157.6 51.4 157.6 51.7 157.6 51.9 157.6 52.2 157.6 52.5 157.6 52.8 157.6 53.1 158.4 53.4 160.7 53.7 162.8 54.0 164.9 54.2 166.9 54.5 168.7 54.8 170.2 55.1 171.6 55.4 172.7 55.7 173.6 56.0 174.1 56.2 174.4 56.5 174.4 56.8 174.3 57.1 174.0 57.4 173.7 57.7 173.2 58.0 172.6 58.2 172.0 58.5 171.2 58.8 170.3 59.1 169.3 59.4 168.3 59.7 167.1 60.0 165.9 60.3 164.6 60.5 163.2 60.8 161.7 61.1 160.3 61.4 158.7 61.7 157.1 62.0 155.5 62.3 153.9 62.5 152.2 62.8 150.5 63.1 148.8 63.4 147.2 63.7 145.5 64.0 143.8 64.3 142.2 64.5 140.6 64.8 139.1 65.1 137.6 65.4 136.2 65.7 134.8 66.0 133.5 66.3 132.3 66.6 131.1 66.8 130.0 67.1 129.1 67.4 128.2 67.7 127.4 68.0 126.7 68.3 126.2 68.6 125.7 68.8 125.4 69.1 125.1 69.4 125.0 69.7 125.0 70.0 125.1 70.3 125.4 70.6 125.7 70.8 126.2 71.1 126.8 71.4 127.5 71.7 128.3 72.0 129.3 72.3 130.3 72.6 131.5 72.9 132.7 73.1 134.1 73.4 135.5 73.7 137.0 74.0 138.6 74.3 140.3 74.6 142.0 74.9 143.8 75.1 145.6 75.4 147.5 75.7 149.5 76.0 151.4 76.3 153.4 76.6 155.4 76.9 157.4 77.1 159.4 77.4 161.4 77.7 163.4 78.0 165.4 78.3 167.3 78.6 169.2 78.9 171.1 79.2 172.9 79.4 174.7 79.7 176.4 80.0 178.0 80.3 179.6 80.6 181.0 80.9 182.4 81.2 183.7 81.4 184.9 81.7 186.0 82.0 187.0 82.3 187.9 82.6 188.6 82.9 189.3 83.2 189.8 83.4 190.2 83.7 190.5 84.0 190.7 84.3 190.7 84.6 190.6 84.9 190.4 85.2 190.1 85.5 189.6 85.7 189.0 86.0 188.3 86.3 187.5 86.6 186.6 86.9 185.5 87.2 184.3 87.5 183.1 87.7 181.7 88.0 180.2 88.3 178.7 88.6 177.0 88.9 175.3 89.2 173.5 89.5 171.7 89.7 169.8 90.0 167.8 90.3 165.8 90.6 163.8 90.9 161.8 91.2 159.7 91.5 157.6 91.8 155.5 92.0 153.5 92.3 151.4 92.6 149.4 92.9 147.4 93.2 145.4 93.5 143.5 93.8 141.6 94.0 139.8 94.3 138.0 94.6 136.3 94.9 134.7 95.2 133.2 95.5 131.8 95.8 130.5 96.0 129.3 96.3 128.1 96.6 127.1 96.9 126.2 97.2 125.5 97.5 124.8 97.8 124.3 98.1 123.9 98.3 123.6 98.6 123.5 98.9 123.4 99.2 123.5 99.5 123.8 99.8 124.2 100.1 124.6 100.3 125.3 100.6 126.0 100.9 126.9 101.2 127.9 101.5 129.0 101.8 130.2 102.1 131.5 102.3 132.9 102.6 134.4 102.9 136.0 103.2 137.7 103.5 139.4 103.8 141.3 104.1 143.1 104.4 145.1 104.6 147.1 104.9 149.1 105.2 151.2 105.5 153.2 105.8 155.3 106.1 157.4 106.4 159.6 106.6 161.7 106.9 163.7 107.2 165.8 107.5 167.8 107.8 169.8 108.1 171.8 108.4 173.7 108.6 175.5 108.9 177.3 109.2 178.9 109.5 180.5 109.8 182.1 110.1 183.5 110.4 184.8 110.7 186.0 110.9 187.1 111.2 188.1 111.5 189.0 111.8 189.8 112.1 190.4 112.4 190.9 112.7 191.3 112.9 191.5 113.2 191.7 113.5 191.7 113.8 191.5 114.1 191.3 114.4 190.9 114.7 190.4 114.9 189.7 115.2 189.0 115.5 188.1 115.8 187.1 116.1 186.0 116.4 184.8 116.7 183.5 117.0 182.1 117.2 180.6 117.5 179.0 117.8 177.3 118.1 175.6 118.4 173.8 118.7 171.9 119.0 170.0 119.2 168.0 119.5 166.0 119.8 164.0 120.1 161.9 120.4 159.8 120.7 157.7 121.0 155.7 121.2 153.6 121.5 151.5 121.8 149.5 122.1 147.4 122.4 145.5 122.7 143.5 123.0 141.7 123.3 139.8 123.5 138.1 123.8 136.4 124.1 134.8 124.4 133.3 124.7 131.9 125.0 130.5 125.3 129.3 125.5 128.2 125.8 127.2 126.1 126.3 126.4 125.5 126.7 124.9 127.0 124.3 127.3 123.9 127.5 123.6 127.8 123.5 128.1 123.4 128.4 123.5 128.7 123.8 129.0 124.1 129.3 124.6 129.6 125.2 129.8 125.9 130.1 126.7 130.4 127.7 130.7 128.8 131.0 129.9 131.3 131.2 131.6 132.6 131.8 134.1 132.1 135.6 132.4 137.3 132.7 139.0 133.0 140.8 133.3 142.6 133.6 144.5 133.8 146.5 134.1 148.5 134.4 150.5 134.7 152.6 135.0 154.6 135.3 156.7 135.6 158.8 135.9 160.9 136.1 163.0 136.4 165.0 136.7 167.1 137.0 169.0 137.3 171.0 137.6 172.9 137.9 174.7 138.1 176.5 138.4 178.2 138.7 179.8 139.0 181.4 139.3 182.8 139.6 184.2 139.9 185.4 140.1 186.6 140.4 187.6 140.7 188.5 141.0 189.4 141.3 190.1 141.6 190.6 141.9 191.1 142.2 191.4 142.4 191.6 142.7 191.7 143.0 191.6 143.3 191.4 143.6 191.1 143.9 190.7 144.2 190.1 144.4 189.4 144.7 188.6 145.0 187.7 145.3 186.7 145.6 185.5 145.9 184.3 146.2 182.9 146.4 181.5 146.7 180.0 147.0 178.3 147.3 176.6 147.6 174.9 147.9 173.0 148.2 171.1 148.5 169.2 148.7 167.2 149.0 165.2 149.3 163.2 149.6 161.1 149.9 159.0 150.2 156.9 150.5 154.8 150.7 152.7 151.0 150.7 151.3 148.7 151.6 146.7 151.9 144.7 152.2 142.8 152.5 140.9 152.7 139.1 153.0 137.4 153.3 135.8 153.6 134.2 153.9 132.7 154.2 131.3 154.5 130.0 154.8 128.9 155.0 127.8 155.3 126.8 155.6 126.0 155.9 125.2 156.2 124.6 156.5 124.1 156.8 123.8 157.0 123.5 157.3 123.4 157.6 123.5 157.9 123.6 158.2 123.9 158.5 124.3 158.8 124.8 159.0 125.5 159.3 126.2 159.6 127.1 159.9 128.1 160.2 129.2 160.5 130.4 160.8 131.8 161.1 133.2 161.3 134.7 161.6 136.3 161.9 137.9 162.2 139.7 162.5 141.5 162.8 143.4 163.1 145.3 163.3 147.3 163.6 149.3 163.9 151.3 164.2 153.4 164.5 155.5 164.8 157.6 165.1 159.7 165.3 161.7 165.6 163.8 165.9 165.8 166.2 167.9 166.5 169.8 166.8 171.7 167.1 173.6 167.4 175.4 167.6 177.2 167.9 178.8 168.2 180.4 168.5 181.9 168.8 183.4 169.1 184.7 169.4 185.9 169.6 187.0 169.9 188.0 170.2 188.9 170.5 189.7" stroke="#4A8ACB" stroke-width="1.05"/>
</g>
<rect x="23.60" y="116.60" width="146.90" height="81.90" fill="none" stroke="#3C3C3C" stroke-width="0.9"/>
<path d="M23.60 198.50h1.6M23.60 184.85h1.6M23.60 171.20h1.6M23.60 157.55h1.6M23.60 143.90h1.6M23.60 130.25h1.6M23.60 116.60h1.6M23.60 198.50v-1.6M52.98 198.50v-1.6M82.36 198.50v-1.6M111.74 198.50v-1.6M141.12 198.50v-1.6M170.50 198.50v-1.6" stroke="#3C3C3C" stroke-width="0.7" fill="none"/>
<g font-family="'Liberation Serif','Times New Roman',serif" font-size="6.6" fill="#222" stroke="#222" stroke-width="0.2">
<text x="22.30" y="200.70" text-anchor="end">-60</text>
<text x="22.30" y="187.05" text-anchor="end">-40</text>
<text x="22.30" y="173.40" text-anchor="end">-20</text>
<text x="22.30" y="159.75" text-anchor="end">0</text>
<text x="22.30" y="146.10" text-anchor="end">20</text>
<text x="22.30" y="132.45" text-anchor="end">40</text>
<text x="22.30" y="118.80" text-anchor="end">60</text>
<text x="23.60" y="205.10" text-anchor="middle">0.18</text>
<text x="52.98" y="205.10" text-anchor="middle">0.20</text>
<text x="82.36" y="205.10" text-anchor="middle">0.22</text>
<text x="111.74" y="205.10" text-anchor="middle">0.24</text>
<text x="141.12" y="205.10" text-anchor="middle">0.26</text>
<text x="170.50" y="205.10" text-anchor="middle">0.28</text>
</g>
<clipPath id="cpa2"><rect x="23.60" y="213.20" width="146.90" height="81.40"/></clipPath>
<g clip-path="url(#cpa2)" fill="none" stroke-linejoin="round">
<path d="M47.9 253.9L48.2 255.7 48.5 259.3 48.8 262.6 49.1 265.6 49.4 268.1 49.7 270.0 49.9 271.3 50.2 271.8 50.5 271.6 50.8 271.0 51.1 269.9 51.4 268.4 51.7 266.4 51.9 264.2 52.2 261.6 52.5 258.9 52.8 256.0 53.1 253.0 53.4 250.1 53.7 247.3 54.0 244.7 54.2 242.4 54.5 240.4 54.8 238.8 55.1 237.6 55.4 236.8 55.7 236.6 56.0 237.1 56.2 238.4 56.5 240.7 56.8 243.6 57.1 247.0 57.4 250.8 57.7 254.6 58.0 258.3 58.2 261.7 58.5 264.5 58.8 266.6 59.1 267.8 59.4 268.1 59.7 267.4 60.0 265.7 60.3 263.0 60.5 259.5 60.8 255.4 61.1 250.8 61.4 245.9 61.7 241.1 62.0 236.4 62.3 232.1 62.5 228.5 62.8 225.7 63.1 223.7 63.4 222.8 63.7 223.1 64.0 224.8 64.3 228.0 64.5 232.4 64.8 237.9 65.1 244.2 65.4 251.0 65.7 257.9 66.0 264.6 66.3 270.7 66.6 276.0 66.8 280.1 67.1 282.9 67.4 284.3 67.7 284.2 68.0 283.1 68.3 281.0 68.6 277.9 68.8 274.1 69.1 269.6 69.4 264.5 69.7 259.1 70.0 253.5 70.3 248.0 70.6 242.6 70.8 237.6 71.1 233.2 71.4 229.4 71.7 226.5 72.0 224.5 72.3 223.5 72.6 223.5 72.9 224.5 73.1 226.6 73.4 229.5 73.7 233.3 74.0 237.7 74.3 242.7 74.6 248.1 74.9 253.7 75.1 259.3 75.4 264.7 75.7 269.7 76.0 274.2 76.3 278.0 76.6 281.0 76.9 283.1 77.1 284.2 77.4 284.3 77.7 283.4 78.0 281.5 78.3 278.6 78.6 274.9 78.9 270.5 79.2 265.6 79.4 260.2 79.7 254.7 80.0 249.1 80.3 243.7 80.6 238.6 80.9 234.0 81.2 230.1 81.4 227.0 81.7 224.8 82.0 223.6 82.3 223.4 82.6 224.3 82.9 226.1 83.2 228.9 83.4 232.5 83.7 236.8 84.0 241.7 84.3 247.0 84.6 252.6 84.9 258.2 85.2 263.6 85.5 268.8 85.7 273.4 86.0 277.4 86.3 280.6 86.6 282.8 86.9 284.2 87.2 284.5 87.5 283.7 87.7 282.0 88.0 279.3 88.3 275.7 88.6 271.4 88.9 266.5 89.2 261.2 89.5 255.6 89.7 250.0 90.0 244.5 90.3 239.3 90.6 234.6 90.9 230.5 91.2 227.2 91.5 224.8 91.8 223.4 92.0 223.0 92.3 223.6 92.6 225.3 92.9 227.9 93.2 231.5 93.5 235.7 93.8 240.6 94.0 246.0 94.3 251.6 94.6 257.3 94.9 262.9 95.2 268.2 95.5 273.1 95.8 277.2 96.0 280.7 96.3 283.2 96.6 284.7 96.9 285.2 97.2 284.7 97.5 283.1 97.8 280.5 98.1 277.1 98.3 272.8 98.6 267.9 98.9 262.6 99.2 256.9 99.5 251.1 99.8 245.4 100.1 240.0 100.3 235.1 100.6 230.8 100.9 227.3 101.2 224.6 101.5 223.0 101.8 222.4 102.1 222.8 102.3 224.3 102.6 226.8 102.9 230.1 103.2 234.3 103.5 239.2 103.8 244.5 104.1 250.2 104.4 255.9 104.6 261.6 104.9 267.1 105.2 272.1 105.5 276.4 105.8 280.1 106.1 282.8 106.4 284.6 106.6 285.3 106.9 285.0 107.2 283.6 107.5 281.2 107.8 277.9 108.1 273.9 108.4 269.1 108.6 263.8 108.9 258.3 109.2 252.5 109.5 246.8 109.8 241.4 110.1 236.4 110.4 232.0 110.7 228.3 110.9 225.5 111.2 223.6 111.5 222.8 111.8 223.0 112.1 224.3 112.4 226.5 112.7 229.7 112.9 233.7 113.2 238.3 113.5 243.5 113.8 249.0 114.1 254.6 114.4 260.3 114.7 265.7 114.9 270.7 115.2 275.2 115.5 278.9 115.8 281.8 116.1 283.7 116.4 284.6 116.7 284.5 117.0 283.3 117.2 281.2 117.5 278.2 117.8 274.3 118.1 269.8 118.4 264.7 118.7 259.3 119.0 253.7 119.2 248.1 119.5 242.7 119.8 237.7 120.1 233.2 120.4 229.5 120.7 226.5 121.0 224.5 121.2 223.5 121.5 223.5 121.8 224.5 122.1 226.6 122.4 229.5 122.7 233.3 123.0 237.7 123.3 242.7 123.5 248.1 123.8 253.7 124.1 259.3 124.4 264.7 124.7 269.7 125.0 274.2 125.3 278.0 125.5 281.0 125.8 283.1 126.1 284.2 126.4 284.3 126.7 283.4 127.0 281.5 127.3 278.6 127.5 274.9 127.8 270.5 128.1 265.6 128.4 260.2 128.7 254.7 129.0 249.1 129.3 243.7 129.6 238.6 129.8 234.0 130.1 230.1 130.4 227.0 130.7 224.8 131.0 223.6 131.3 223.4 131.6 224.3 131.8 226.1 132.1 228.9 132.4 232.5 132.7 236.8 133.0 241.7 133.3 247.0 133.6 252.6 133.8 258.2 134.1 263.6 134.4 268.7 134.7 273.4 135.0 277.3 135.3 280.5 135.6 282.8 135.9 284.1 136.1 284.4 136.4 283.7 136.7 281.9 137.0 279.3 137.3 275.7 137.6 271.5 137.9 266.6 138.1 261.3 138.4 255.8 138.7 250.2 139.0 244.7 139.3 239.6 139.6 234.9 139.9 230.8 140.1 227.6 140.4 225.2 140.7 223.8 141.0 223.4 141.3 224.0 141.6 225.6 141.9 228.2 142.2 231.7 142.4 235.9 142.7 240.7 143.0 245.9 143.3 251.5 143.6 257.1 143.9 262.5 144.2 267.7 144.4 272.5 144.7 276.6 145.0 279.9 145.3 282.4 145.6 283.9 145.9 284.4 146.2 283.9 146.4 282.4 146.7 279.9 147.0 276.5 147.3 272.4 147.6 267.6 147.9 262.4 148.2 256.9 148.5 251.3 148.7 245.8 149.0 240.6 149.3 235.8 149.6 231.6 149.9 228.2 150.2 225.6 150.5 224.0 150.7 223.4 151.0 223.8 151.3 225.2 151.6 227.6 151.9 230.9 152.2 235.0 152.5 239.7 152.7 244.9 153.0 250.3 153.3 255.9 153.6 261.5 153.9 266.7 154.2 271.6 154.5 275.8 154.8 279.3 155.0 282.0 155.3 283.7 155.6 284.4 155.9 284.1 156.2 282.7 156.5 280.4 156.8 277.2 157.0 273.2 157.3 268.6 157.6 263.5 157.9 258.0 158.2 252.4 158.5 246.9 158.8 241.6 159.0 236.7 159.3 232.4 159.6 228.8 159.9 226.0 160.2 224.2 160.5 223.4 160.8 223.6 161.1 224.9 161.3 227.1 161.6 230.2 161.9 234.1 162.2 238.7 162.5 243.8 162.8 249.2 163.1 254.8 163.3 260.4 163.6 265.7 163.9 270.7 164.2 275.0 164.5 278.7 164.8 281.5 165.1 283.4 165.3 284.3 165.6 284.2 165.9 283.1 166.2 281.0 166.5 277.9 166.8 274.1 167.1 269.6 167.4 264.5 167.6 259.1 167.9 253.5 168.2 248.0 168.5 242.6 168.8 237.6 169.1 233.2 169.4 229.4 169.6 226.5 169.9 224.5 170.2 223.5 170.5 223.5" stroke="#4A8ACB" stroke-width="0.95"/>
<path d="M47.9 253.9L48.2 254.8 48.5 256.5 48.8 258.2 49.1 259.9 49.4 261.6 49.7 263.2 49.9 264.7 50.2 266.2 50.5 267.6 50.8 268.9 51.1 270.1 51.4 271.2 51.7 272.2 51.9 273.1 52.2 273.8 52.5 274.5 52.8 275.0 53.1 275.3 53.4 275.6 53.7 275.7 54.0 275.3 54.2 273.8 54.5 271.3 54.8 268.0 55.1 263.9 55.4 259.5 55.7 254.9 56.0 250.4 56.2 246.3 56.5 242.9 56.8 240.2 57.1 238.6 57.4 238.0 57.7 238.4 58.0 239.4 58.2 241.1 58.5 243.4 58.8 246.2 59.1 249.4 59.4 252.8 59.7 256.4 60.0 260.1 60.3 263.6 60.5 266.8 60.8 269.7 61.1 272.1 61.4 273.9 61.7 275.1 62.0 275.7 62.3 275.3 62.5 273.6 62.8 270.6 63.1 266.6 63.4 261.6 63.7 256.1 64.0 250.2 64.3 244.3 64.5 238.6 64.8 233.6 65.1 229.4 65.4 226.3 65.7 224.4 66.0 223.8 66.3 224.4 66.6 226.0 66.8 228.6 67.1 232.1 67.4 236.3 67.7 241.1 68.0 246.4 68.3 252.0 68.6 257.6 68.8 263.1 69.1 268.3 69.4 273.0 69.7 277.0 70.0 280.3 70.3 282.7 70.6 284.1 70.8 284.4 71.1 283.7 71.4 282.1 71.7 279.4 72.0 276.0 72.3 271.7 72.6 266.9 72.9 261.6 73.1 256.1 73.4 250.5 73.7 245.0 74.0 239.8 74.3 235.1 74.6 231.0 74.9 227.7 75.1 225.3 75.4 223.8 75.7 223.4 76.0 223.9 76.3 225.5 76.6 228.1 76.9 231.5 77.1 235.6 77.4 240.4 77.7 245.6 78.0 251.1 78.3 256.7 78.6 262.2 78.9 267.5 79.2 272.2 79.4 276.4 79.7 279.8 80.0 282.3 80.3 283.9 80.6 284.4 80.9 284.0 81.2 282.5 81.4 280.0 81.7 276.7 82.0 272.6 82.3 267.9 82.6 262.7 82.9 257.2 83.2 251.6 83.4 246.1 83.7 240.8 84.0 236.0 84.3 231.8 84.6 228.3 84.9 225.7 85.2 224.0 85.5 223.4 85.7 223.7 86.0 225.1 86.3 227.5 86.6 230.7 86.9 234.8 87.2 239.5 87.5 244.6 87.7 250.1 88.0 255.7 88.3 261.3 88.6 266.6 88.9 271.5 89.2 275.8 89.5 279.4 89.7 282.1 90.0 283.9 90.3 284.6 90.6 284.4 90.9 283.1 91.2 280.8 91.5 277.6 91.8 273.6 92.0 268.9 92.3 263.7 92.6 258.2 92.9 252.5 93.2 246.9 93.5 241.5 93.8 236.5 94.0 232.1 94.3 228.4 94.6 225.5 94.9 223.6 95.2 222.8 95.5 222.9 95.8 224.1 96.0 226.4 96.3 229.5 96.6 233.5 96.9 238.2 97.2 243.4 97.5 248.9 97.8 254.7 98.1 260.4 98.3 265.9 98.6 271.0 98.9 275.5 99.2 279.3 99.5 282.3 99.8 284.3 100.1 285.3 100.3 285.2 100.6 284.1 100.9 282.0 101.2 278.9 101.5 275.0 101.8 270.4 102.1 265.2 102.3 259.6 102.6 253.9 102.9 248.1 103.2 242.6 103.5 237.4 103.8 232.8 104.1 228.9 104.4 225.8 104.6 223.7 104.9 222.6 105.2 222.5 105.5 223.5 105.8 225.6 106.1 228.5 106.4 232.4 106.6 236.9 106.9 242.0 107.2 247.5 107.5 253.2 107.8 259.0 108.1 264.5 108.4 269.7 108.6 274.4 108.9 278.4 109.2 281.5 109.5 283.7 109.8 284.9 110.1 285.1 110.4 284.2 110.7 282.3 110.9 279.4 111.2 275.7 111.5 271.3 111.8 266.2 112.1 260.8 112.4 255.2 112.7 249.5 112.9 243.9 113.2 238.7 113.5 234.1 113.8 230.0 114.1 226.8 114.4 224.6 114.7 223.3 114.9 223.0 115.2 223.8 115.5 225.6 115.8 228.3 116.1 231.9 116.4 236.2 116.7 241.1 117.0 246.5 117.2 252.1 117.5 257.7 117.8 263.2 118.1 268.4 118.4 273.1 118.7 277.1 119.0 280.4 119.2 282.7 119.5 284.1 119.8 284.5 120.1 283.8 120.4 282.1 120.7 279.5 121.0 276.0 121.2 271.8 121.5 266.9 121.8 261.7 122.1 256.1 122.4 250.5 122.7 245.0 123.0 239.8 123.3 235.1 123.5 231.0 123.8 227.7 124.1 225.3 124.4 223.8 124.7 223.4 125.0 223.9 125.3 225.5 125.5 228.1 125.8 231.5 126.1 235.6 126.4 240.4 126.7 245.6 127.0 251.1 127.3 256.7 127.5 262.2 127.8 267.5 128.1 272.2 128.4 276.4 128.7 279.8 129.0 282.3 129.3 283.9 129.6 284.4 129.8 284.0 130.1 282.5 130.4 280.0 130.7 276.7 131.0 272.6 131.3 267.9 131.6 262.7 131.8 257.2 132.1 251.6 132.4 246.1 132.7 240.8 133.0 236.0 133.3 231.8 133.6 228.3 133.8 225.7 134.1 224.0 134.4 223.4 134.7 223.8 135.0 225.1 135.3 227.5 135.6 230.7 135.9 234.7 136.1 239.4 136.4 244.6 136.7 250.0 137.0 255.6 137.3 261.2 137.6 266.4 137.9 271.3 138.1 275.6 138.4 279.2 138.7 281.9 139.0 283.6 139.3 284.4 139.6 284.1 139.9 282.9 140.1 280.6 140.4 277.4 140.7 273.5 141.0 268.9 141.3 263.8 141.6 258.3 141.9 252.7 142.2 247.2 142.4 241.9 142.7 236.9 143.0 232.6 143.3 229.0 143.6 226.2 143.9 224.3 144.2 223.4 144.4 223.6 144.7 224.8 145.0 226.9 145.3 230.0 145.6 233.9 145.9 238.4 146.2 243.5 146.4 248.9 146.7 254.5 147.0 260.1 147.3 265.4 147.6 270.4 147.9 274.8 148.2 278.5 148.5 281.4 148.7 283.4 149.0 284.3 149.3 284.3 149.6 283.2 149.9 281.1 150.2 278.1 150.5 274.3 150.7 269.9 151.0 264.8 151.3 259.4 151.6 253.9 151.9 248.3 152.2 242.9 152.5 237.9 152.7 233.4 153.0 229.6 153.3 226.6 153.6 224.6 153.9 223.5 154.2 223.5 154.5 224.5 154.8 226.4 155.0 229.3 155.3 233.0 155.6 237.5 155.9 242.4 156.2 247.8 156.5 253.4 156.8 259.0 157.0 264.4 157.3 269.4 157.6 274.0 157.9 277.8 158.2 280.9 158.5 283.0 158.8 284.2 159.0 284.4 159.3 283.5 159.6 281.6 159.9 278.8 160.2 275.2 160.5 270.8 160.8 265.9 161.1 260.5 161.3 255.0 161.6 249.4 161.9 244.0 162.2 238.9 162.5 234.3 162.8 230.3 163.1 227.2 163.3 224.9 163.6 223.7 163.9 223.4 164.2 224.2 164.5 226.0 164.8 228.7 165.1 232.2 165.3 236.5 165.6 241.4 165.9 246.7 166.2 252.3 166.5 257.8 166.8 263.3 167.1 268.5 167.4 273.1 167.6 277.1 167.9 280.4 168.2 282.7 168.5 284.1 168.8 284.4 169.1 283.7 169.4 282.1 169.6 279.4 169.9 276.0 170.2 271.7 170.5 266.9" stroke="#33353F" stroke-width="0.95"/>
<path d="M23.6 253.9L23.9 253.9 24.2 253.9 24.5 253.9 24.7 253.9 25.0 253.9 25.3 253.9 25.6 253.9 25.9 253.9 26.2 253.9 26.5 253.9 26.7 253.9 27.0 253.9 27.3 253.9 27.6 253.9 27.9 253.9 28.2 253.9 28.5 253.9 28.8 253.9 29.0 253.9 29.3 253.9 29.6 253.9 29.9 253.9 30.2 253.9 30.5 253.9 30.8 253.9 31.0 253.9 31.3 253.9 31.6 253.9 31.9 253.9 32.2 253.9 32.5 253.9 32.8 253.9 33.0 253.9 33.3 253.9 33.6 253.9 33.9 253.9 34.2 253.9 34.5 253.9 34.8 253.9 35.1 253.9 35.3 253.9 35.6 253.9 35.9 253.9 36.2 253.9 36.5 253.9 36.8 253.9 37.1 253.9 37.3 253.9 37.6 253.9 37.9 253.9 38.2 253.9 38.5 253.9 38.8 253.9 39.1 253.9 39.3 253.9 39.6 253.9 39.9 253.9 40.2 253.9 40.5 253.9 40.8 253.9 41.1 253.9 41.4 253.9 41.6 253.9 41.9 253.9 42.2 253.9 42.5 253.9 42.8 253.9 43.1 253.9 43.4 253.9 43.6 253.9 43.9 253.9 44.2 253.9 44.5 253.9 44.8 253.9 45.1 253.9 45.4 253.9 45.6 253.9 45.9 253.9 46.2 253.9 46.5 253.9 46.8 253.9 47.1 253.9 47.4 253.9 47.7 253.9 47.9 253.9 48.2 252.0 48.5 248.3 48.8 244.7 49.1 241.3 49.4 238.0 49.7 235.1 49.9 232.4 50.2 230.2 50.5 228.3 50.8 226.9 51.1 225.9 51.4 225.5 51.7 225.5 51.9 226.1 52.2 227.3 52.5 228.9 52.8 231.1 53.1 233.7 53.4 236.6 53.7 239.7 54.0 243.0 54.2 246.4 54.5 249.7 54.8 252.8 55.1 255.7 55.4 258.2 55.7 260.3 56.0 262.0 56.2 263.1 56.5 263.6 56.8 263.5 57.1 262.6 57.4 261.0 57.7 258.8 58.0 256.1 58.2 253.1 58.5 250.2 58.8 247.5 59.1 245.3 59.4 243.7 59.7 242.8 60.0 242.8 60.3 243.3 60.5 244.4 60.8 246.1 61.1 248.2 61.4 250.7 61.7 253.6 62.0 256.8 62.3 260.1 62.5 263.6 62.8 267.0 63.1 270.3 63.4 273.5 63.7 276.3 64.0 278.8 64.3 280.9 64.5 282.4 64.8 283.5 65.1 284.0 65.4 283.7 65.7 282.0 66.0 279.0 66.3 274.7 66.6 269.5 66.8 263.5 67.1 257.2 67.4 250.7 67.7 244.5 68.0 238.9 68.3 234.2 68.6 230.5 68.8 228.2 69.1 227.3 69.4 227.6 69.7 228.9 70.0 230.9 70.3 233.8 70.6 237.3 70.8 241.4 71.1 246.0 71.4 250.8 71.7 255.7 72.0 260.5 72.3 265.1 72.6 269.4 72.9 273.1 73.1 276.2 73.4 278.6 73.7 280.1 74.0 280.7 74.3 280.5 74.6 279.3 74.9 277.3 75.1 274.5 75.4 270.9 75.7 266.8 76.0 262.3 76.3 257.5 76.6 252.5 76.9 247.6 77.1 242.9 77.4 238.5 77.7 234.7 78.0 231.5 78.3 229.0 78.6 227.4 78.9 226.6 79.2 226.8 79.4 227.9 79.7 230.0 80.0 232.8 80.3 236.4 80.6 240.6 80.9 245.3 81.2 250.3 81.4 255.5 81.7 260.6 82.0 265.6 82.3 270.2 82.6 274.2 82.9 277.6 83.2 280.3 83.4 282.1 83.7 282.9 84.0 282.8 84.3 281.7 84.6 279.7 84.9 276.8 85.2 273.1 85.5 268.7 85.7 263.8 86.0 258.5 86.3 253.1 86.6 247.7 86.9 242.4 87.2 237.6 87.5 233.2 87.7 229.5 88.0 226.7 88.3 224.7 88.6 223.7 88.9 223.7 89.2 224.7 89.5 226.7 89.7 229.6 90.0 233.4 90.3 237.9 90.6 242.9 90.9 248.3 91.2 253.9 91.5 259.5 91.8 264.9 92.0 270.0 92.3 274.5 92.6 278.4 92.9 281.4 93.2 283.6 93.5 284.7 93.8 284.8 94.0 283.9 94.3 282.0 94.6 279.1 94.9 275.3 95.2 270.8 95.5 265.8 95.8 260.3 96.0 254.6 96.3 248.9 96.6 243.4 96.9 238.1 97.2 233.5 97.5 229.5 97.8 226.3 98.1 224.0 98.3 222.7 98.6 222.5 98.9 223.3 99.2 225.2 99.5 228.0 99.8 231.7 100.1 236.2 100.3 241.2 100.6 246.7 100.9 252.4 101.2 258.2 101.5 263.8 101.8 269.1 102.1 273.9 102.3 278.0 102.6 281.3 102.9 283.7 103.2 285.1 103.5 285.4 103.8 284.7 104.1 282.9 104.4 280.2 104.6 276.6 104.9 272.2 105.2 267.2 105.5 261.8 105.8 256.1 106.1 250.3 106.4 244.7 106.6 239.4 106.9 234.5 107.2 230.4 107.5 227.0 107.8 224.5 108.1 223.0 108.4 222.6 108.6 223.2 108.9 224.8 109.2 227.5 109.5 231.0 109.8 235.2 110.1 240.1 110.4 245.5 110.7 251.1 110.9 256.8 111.2 262.4 111.5 267.8 111.8 272.6 112.1 276.8 112.4 280.3 112.7 282.8 112.9 284.4 113.2 284.9 113.5 284.4 113.8 282.9 114.1 280.4 114.4 277.0 114.7 272.9 114.9 268.1 115.2 262.8 115.5 257.3 115.8 251.6 116.1 246.1 116.4 240.8 116.7 235.9 117.0 231.6 117.2 228.2 117.5 225.5 117.8 223.9 118.1 223.3 118.4 223.6 118.7 225.1 119.0 227.4 119.2 230.7 119.5 234.8 119.8 239.4 120.1 244.6 120.4 250.1 120.7 255.7 121.0 261.3 121.2 266.6 121.5 271.4 121.8 275.7 122.1 279.2 122.4 281.9 122.7 283.7 123.0 284.4 123.3 284.1 123.5 282.8 123.8 280.5 124.1 277.3 124.4 273.4 124.7 268.8 125.0 263.6 125.3 258.2 125.5 252.6 125.8 247.0 126.1 241.7 126.4 236.8 126.7 232.5 127.0 228.9 127.3 226.1 127.5 224.3 127.8 223.4 128.1 223.6 128.4 224.8 128.7 227.0 129.0 230.1 129.3 234.0 129.6 238.6 129.8 243.6 130.1 249.1 130.4 254.7 130.7 260.2 131.0 265.6 131.3 270.5 131.6 274.9 131.8 278.6 132.1 281.5 132.4 283.4 132.7 284.3 133.0 284.2 133.3 283.1 133.6 281.0 133.8 278.0 134.1 274.2 134.4 269.7 134.7 264.7 135.0 259.3 135.3 253.7 135.6 248.1 135.9 242.8 136.1 237.8 136.4 233.3 136.7 229.5 137.0 226.6 137.3 224.6 137.6 223.5 137.9 223.5 138.1 224.5 138.4 226.5 138.7 229.4 139.0 233.2 139.3 237.6 139.6 242.6 139.9 248.0 140.1 253.5 140.4 259.1 140.7 264.5 141.0 269.6 141.3 274.1 141.6 277.9 141.9 281.0 142.2 283.1 142.4 284.2 142.7 284.3 143.0 283.4 143.3 281.5 143.6 278.7 143.9 275.0 144.2 270.7 144.4 265.7 144.7 260.4 145.0 254.8 145.3 249.2 145.6 243.8 145.9 238.7 146.2 234.1 146.4 230.2 146.7 227.1 147.0 224.9 147.3 223.6 147.6 223.4 147.9 224.2 148.2 226.0 148.5 228.8 148.7 232.4 149.0 236.7 149.3 241.6 149.6 246.9 149.9 252.4 150.2 258.0 150.5 263.5 150.7 268.6 151.0 273.2 151.3 277.2 151.6 280.4 151.9 282.7 152.2 284.1 152.5 284.4 152.7 283.7 153.0 282.0 153.3 279.3 153.6 275.8 153.9 271.6 154.2 266.8 154.5 261.5 154.8 255.9 155.0 250.3 155.3 244.9 155.6 239.7 155.9 235.0 156.2 230.9 156.5 227.7 156.8 225.2 157.0 223.8 157.3 223.4 157.6 224.0 157.9 225.6 158.2 228.1 158.5 231.6 158.8 235.8 159.0 240.5 159.3 245.8 159.6 251.3 159.9 256.9 160.2 262.4 160.5 267.6 160.8 272.4 161.1 276.5 161.3 279.9 161.6 282.4 161.9 283.9 162.2 284.4 162.5 283.9 162.8 282.4 163.1 280.0 163.3 276.6 163.6 272.5 163.9 267.8 164.2 262.6 164.5 257.1 164.8 251.5 165.1 245.9 165.3 240.7 165.6 235.9 165.9 231.7 166.2 228.2 166.5 225.7 166.8 224.0 167.1 223.4 167.4 223.8 167.6 225.2 167.9 227.6 168.2 230.8 168.5 234.9 168.8 239.5 169.1 244.7 169.4 250.2 169.6 255.8 169.9 261.3 170.2 266.6 170.5 271.5" stroke="#F29440" stroke-width="0.95"/>
</g>
<rect x="23.60" y="213.20" width="146.90" height="81.40" fill="none" stroke="#3C3C3C" stroke-width="0.9"/>
<path d="M23.60 294.60h1.6M23.60 284.43h1.6M23.60 274.25h1.6M23.60 264.07h1.6M23.60 253.90h1.6M23.60 243.72h1.6M23.60 233.55h1.6M23.60 223.38h1.6M23.60 213.20h1.6M23.60 294.60v-1.6M48.08 294.60v-1.6M72.57 294.60v-1.6M97.05 294.60v-1.6M121.53 294.60v-1.6M146.02 294.60v-1.6M170.50 294.60v-1.6" stroke="#3C3C3C" stroke-width="0.7" fill="none"/>
<g font-family="'Liberation Serif','Times New Roman',serif" font-size="6.6" fill="#222" stroke="#222" stroke-width="0.2">
<text x="22.30" y="296.80" text-anchor="end">-20</text>
<text x="22.30" y="286.62" text-anchor="end">-15</text>
<text x="22.30" y="276.45" text-anchor="end">-10</text>
<text x="22.30" y="266.27" text-anchor="end">-5</text>
<text x="22.30" y="256.10" text-anchor="end">0</text>
<text x="22.30" y="245.92" text-anchor="end">5</text>
<text x="22.30" y="235.75" text-anchor="end">10</text>
<text x="22.30" y="225.57" text-anchor="end">15</text>
<text x="22.30" y="215.40" text-anchor="end">20</text>
<text x="23.60" y="301.20" text-anchor="middle">0.19</text>
<text x="48.08" y="301.20" text-anchor="middle">0.20</text>
<text x="72.57" y="301.20" text-anchor="middle">0.21</text>
<text x="97.05" y="301.20" text-anchor="middle">0.22</text>
<text x="121.53" y="301.20" text-anchor="middle">0.23</text>
<text x="146.02" y="301.20" text-anchor="middle">0.24</text>
<text x="170.50" y="301.20" text-anchor="middle">0.25</text>
</g>
<clipPath id="cpa3"><rect x="23.60" y="306.60" width="146.90" height="81.80"/></clipPath>
<g clip-path="url(#cpa3)" fill="none" stroke-linejoin="round">
<path d="M47.9 343.8L48.2 345.5 48.5 348.9 48.8 352.0 49.1 354.6 49.4 356.7 49.7 358.0 49.9 358.6 50.2 358.3 50.5 357.0 50.8 354.9 51.1 351.9 51.4 348.5 51.7 344.6 51.9 340.7 52.2 337.0 52.5 333.7 52.8 331.0 53.1 329.2 53.4 328.3 53.7 328.3 54.0 329.2 54.2 330.9 54.5 333.3 54.8 336.2 55.1 339.4 55.4 342.8 55.7 346.0 56.0 348.9 56.2 351.4 56.5 353.1 56.8 354.1 57.1 354.2 57.4 353.4 57.7 351.8 58.0 349.4 58.2 346.4 58.5 343.1 58.8 339.5 59.1 336.1 59.4 332.9 59.7 330.2 60.0 328.2 60.3 327.0 60.5 326.7 60.8 327.6 61.1 330.0 61.4 333.6 61.7 338.2 62.0 343.5 62.3 349.1 62.5 354.8 62.8 360.0 63.1 364.6 63.4 368.1 63.7 370.3 64.0 371.1 64.3 370.3 64.5 367.5 64.8 363.1 65.1 357.3 65.4 350.5 65.7 343.0 66.0 335.5 66.3 328.4 66.6 322.2 66.8 317.3 67.1 314.0 67.4 312.5 67.7 312.9 68.0 315.5 68.3 319.9 68.6 325.9 68.8 333.1 69.1 341.1 69.4 349.3 69.7 357.1 70.0 364.1 70.3 369.8 70.6 373.8 70.8 375.8 71.1 375.8 71.4 373.7 71.7 369.5 72.0 363.7 72.3 356.6 72.6 348.6 72.9 340.3 73.1 332.2 73.4 324.8 73.7 318.7 74.0 314.2 74.3 311.7 74.6 311.2 74.9 312.9 75.1 316.7 75.4 322.2 75.7 329.1 76.0 337.0 76.3 345.4 76.6 353.6 76.9 361.2 77.1 367.7 77.4 372.6 77.7 375.6 78.0 376.5 78.3 375.2 78.6 372.0 78.9 366.9 79.2 360.3 79.4 352.6 79.7 344.4 80.0 336.2 80.3 328.5 80.6 321.8 80.9 316.6 81.2 313.2 81.4 311.9 81.7 312.6 82.0 315.4 82.3 320.0 82.6 326.1 82.9 333.3 83.2 341.2 83.4 349.2 83.7 356.8 84.0 363.5 84.3 368.9 84.6 372.5 84.9 374.3 85.2 374.0 85.5 371.7 85.7 367.7 86.0 362.2 86.3 355.4 86.6 348.0 86.9 340.4 87.2 333.0 87.5 326.4 87.7 320.9 88.0 317.1 88.3 315.0 88.6 314.9 88.9 316.6 89.2 320.1 89.5 325.0 89.7 331.2 90.0 338.1 90.3 345.4 90.6 352.5 90.9 358.9 91.2 364.3 91.5 368.4 91.8 370.7 92.0 371.2 92.3 369.9 92.6 367.0 92.9 362.5 93.2 356.9 93.5 350.4 93.8 343.5 94.0 336.7 94.3 330.4 94.6 325.0 94.9 320.9 95.2 318.3 95.5 317.4 95.8 318.3 96.0 320.8 96.3 324.8 96.6 330.0 96.9 336.1 97.2 342.7 97.5 349.3 97.8 355.5 98.1 360.9 98.3 365.2 98.6 368.0 98.9 369.2 99.2 368.7 99.5 366.6 99.8 363.0 100.1 358.1 100.3 352.3 100.6 345.9 100.9 339.4 101.2 333.2 101.5 327.7 101.8 323.2 102.1 320.2 102.3 318.6 102.6 318.8 102.9 320.5 103.2 323.9 103.5 328.5 103.8 334.1 104.1 340.4 104.4 346.9 104.6 353.3 104.9 358.9 105.2 363.6 105.5 367.0 105.8 368.9 106.1 369.1 106.4 367.7 106.6 364.7 106.9 360.2 107.2 354.7 107.5 348.5 107.8 341.9 108.1 335.5 108.4 329.6 108.6 324.6 108.9 320.8 109.2 318.6 109.5 318.0 109.8 319.1 110.1 321.9 110.4 326.2 110.7 331.6 110.9 337.9 111.2 344.6 111.5 351.3 111.8 357.5 112.1 362.9 112.4 367.0 112.7 369.6 112.9 370.6 113.2 369.8 113.5 367.3 113.8 363.1 114.1 357.7 114.4 351.3 114.7 344.3 114.9 337.3 115.2 330.7 115.5 324.8 115.8 320.2 116.1 317.1 116.4 315.7 116.7 316.1 117.0 318.4 117.2 322.4 117.5 327.8 117.8 334.3 118.1 341.5 118.4 348.8 118.7 355.8 119.0 362.1 119.2 367.2 119.5 370.8 119.8 372.7 120.1 372.7 120.4 370.7 120.7 367.0 121.0 361.7 121.2 355.2 121.5 347.9 121.8 340.3 122.1 332.9 122.4 326.2 122.7 320.6 123.0 316.6 123.3 314.3 123.5 313.9 123.8 315.4 124.1 318.9 124.4 324.0 124.7 330.4 125.0 337.7 125.3 345.4 125.5 353.0 125.8 360.0 126.1 366.0 126.4 370.5 126.7 373.3 127.0 374.1 127.3 373.0 127.5 369.9 127.8 365.1 128.1 358.9 128.4 351.7 128.7 344.0 129.0 336.2 129.3 329.0 129.6 322.7 129.8 317.9 130.1 314.7 130.4 313.4 130.7 314.1 131.0 316.8 131.3 321.3 131.6 327.2 131.8 334.3 132.1 341.9 132.4 349.7 132.7 357.1 133.0 363.6 133.3 368.8 133.6 372.4 133.8 374.1 134.1 373.8 134.4 371.5 134.7 367.4 135.0 361.7 135.3 354.9 135.6 347.3 135.9 339.5 136.1 332.0 136.4 325.2 136.7 319.7 137.0 315.8 137.3 313.7 137.6 313.5 137.9 315.4 138.1 319.1 138.4 324.5 138.7 331.1 139.0 338.6 139.3 346.4 139.6 354.0 139.9 361.0 140.1 366.8 140.4 371.1 140.7 373.7 141.0 374.2 141.3 372.8 141.6 369.4 141.9 364.4 142.2 358.0 142.4 350.6 142.7 342.9 143.0 335.1 143.3 328.0 143.6 321.9 143.9 317.2 144.2 314.3 144.4 313.3 144.7 314.3 145.0 317.3 145.3 322.0 145.6 328.1 145.9 335.3 146.2 343.0 146.4 350.8 146.7 358.1 147.0 364.5 147.3 369.5 147.6 372.9 147.9 374.3 148.2 373.7 148.5 371.1 148.7 366.8 149.0 360.9 149.3 353.9 149.6 346.2 149.9 338.4 150.2 330.9 150.5 324.3 150.7 319.0 151.0 315.3 151.3 313.4 151.6 313.6 151.9 315.7 152.2 319.7 152.5 325.3 152.7 332.1 153.0 339.7 153.3 347.5 153.6 355.1 153.9 361.9 154.2 367.6 154.5 371.7 154.8 373.9 155.0 374.2 155.3 372.5 155.6 368.9 155.9 363.6 156.2 357.0 156.5 349.6 156.8 341.7 157.0 334.1 157.3 327.0 157.6 321.0 157.9 316.6 158.2 313.9 158.5 313.2 158.8 314.5 159.0 317.8 159.3 322.7 159.6 329.0 159.9 336.3 160.2 344.1 160.5 351.9 160.8 359.1 161.1 365.4 161.3 370.2 161.6 373.2 161.9 374.4 162.2 373.5 162.5 370.7 162.8 366.0 163.1 360.0 163.3 352.8 163.6 345.1 163.9 337.3 164.2 329.9 164.5 323.4 164.8 318.3 165.1 314.8 165.3 313.3 165.6 313.7 165.9 316.1 166.2 320.4 166.5 326.2 166.8 333.1 167.1 340.8 167.4 348.6 167.6 356.1 167.9 362.9 168.2 368.3 168.5 372.2 168.8 374.1 169.1 374.1 169.4 372.1 169.6 368.2 169.9 362.7 170.2 356.0 170.5 348.5" stroke="#F29440" stroke-width="1.0"/>
<path d="M47.9 343.8L48.2 342.7 48.5 340.5 48.8 338.3 49.1 336.3 49.4 334.5 49.7 332.8 49.9 331.4 50.2 330.2 50.5 329.4 50.8 328.8 51.1 328.6 51.4 328.8 51.7 330.0 51.9 332.1 52.2 335.0 52.5 338.4 52.8 342.2 53.1 346.1 53.4 349.9 53.7 353.2 54.0 355.9 54.2 357.8 54.5 358.8 54.8 358.8 55.1 357.9 55.4 356.3 55.7 353.9 56.0 351.1 56.2 347.8 56.5 344.5 56.8 341.2 57.1 338.2 57.4 335.8 57.7 334.0 58.0 333.0 58.2 332.8 58.5 333.7 58.8 335.6 59.1 338.4 59.4 342.0 59.7 346.1 60.0 350.4 60.3 354.7 60.5 358.6 60.8 362.0 61.1 364.5 61.4 366.0 61.7 366.5 62.0 365.5 62.3 362.9 62.5 358.8 62.8 353.5 63.1 347.4 63.4 340.8 63.7 334.2 64.0 328.0 64.3 322.7 64.5 318.5 64.8 315.8 65.1 314.7 65.4 315.5 65.7 318.2 66.0 322.6 66.3 328.6 66.6 335.6 66.8 343.3 67.1 351.1 67.4 358.5 67.7 365.1 68.0 370.3 68.3 373.9 68.6 375.6 68.8 375.3 69.1 372.8 69.4 368.5 69.7 362.5 70.0 355.3 70.3 347.3 70.6 339.0 70.8 331.1 71.1 323.9 71.4 318.1 71.7 313.9 72.0 311.7 72.3 311.6 72.6 313.6 72.9 317.5 73.1 323.3 73.4 330.4 73.7 338.3 74.0 346.7 74.3 354.8 74.6 362.3 74.9 368.5 75.1 373.1 75.4 375.8 75.7 376.4 76.0 374.9 76.3 371.3 76.6 365.9 76.9 359.0 77.1 351.2 77.4 342.9 77.7 334.6 78.0 327.0 78.3 320.4 78.6 315.4 78.9 312.3 79.2 311.2 79.4 312.3 79.7 315.4 80.0 320.3 80.3 326.8 80.6 334.3 80.9 342.4 81.2 350.6 81.4 358.3 81.7 365.0 82.0 370.2 82.3 373.7 82.6 375.2 82.9 374.6 83.2 372.0 83.4 367.6 83.7 361.7 84.0 354.6 84.3 346.9 84.6 339.0 84.9 331.5 85.2 324.8 85.5 319.4 85.7 315.6 86.0 313.8 86.3 313.9 86.6 316.0 86.9 319.8 87.2 325.2 87.5 331.7 87.7 339.0 88.0 346.5 88.3 353.8 88.6 360.4 88.9 365.8 89.2 369.8 89.5 371.9 89.7 372.2 90.0 370.6 90.3 367.3 90.6 362.5 90.9 356.5 91.2 349.8 91.5 342.7 91.8 335.7 92.0 329.3 92.3 323.8 92.6 319.8 92.9 317.4 93.2 316.7 93.5 317.9 93.8 320.7 94.0 325.0 94.3 330.5 94.6 336.8 94.9 343.5 95.2 350.3 95.5 356.6 95.8 362.0 96.0 366.1 96.3 368.8 96.6 369.8 96.9 369.0 97.2 366.7 97.5 362.8 97.8 357.7 98.1 351.7 98.3 345.2 98.6 338.7 98.9 332.5 99.2 327.1 99.5 322.7 99.8 319.8 100.1 318.5 100.3 318.9 100.6 320.9 100.9 324.4 101.2 329.2 101.5 335.0 101.8 341.3 102.1 347.8 102.3 354.0 102.6 359.6 102.9 364.1 103.2 367.3 103.5 368.9 103.8 368.9 104.1 367.2 104.4 364.0 104.6 359.4 104.9 353.8 105.2 347.6 105.5 341.0 105.8 334.7 106.1 328.9 106.4 324.1 106.6 320.6 106.9 318.6 107.2 318.3 107.5 319.6 107.8 322.6 108.1 326.9 108.4 332.4 108.6 338.7 108.9 345.3 109.2 351.8 109.5 357.8 109.8 362.9 110.1 366.7 110.4 369.1 110.7 369.8 110.9 368.8 111.2 366.1 111.5 361.9 111.8 356.4 112.1 350.1 112.4 343.3 112.7 336.5 112.9 330.2 113.2 324.7 113.5 320.4 113.8 317.6 114.1 316.5 114.4 317.2 114.7 319.6 114.9 323.7 115.2 329.2 115.5 335.6 115.8 342.6 116.1 349.8 116.4 356.5 116.7 362.5 117.0 367.3 117.2 370.6 117.5 372.1 117.8 371.8 118.1 369.7 118.4 365.8 118.7 360.4 119.0 353.9 119.2 346.7 119.5 339.2 119.8 332.1 120.1 325.7 120.4 320.4 120.7 316.6 121.0 314.6 121.2 314.5 121.5 316.3 121.8 320.0 122.1 325.2 122.4 331.7 122.7 339.0 123.0 346.7 123.3 354.2 123.5 361.0 123.8 366.7 124.1 370.9 124.4 373.4 124.7 373.9 125.0 372.5 125.3 369.2 125.5 364.2 125.8 357.8 126.1 350.5 126.4 342.8 126.7 335.1 127.0 328.0 127.3 322.0 127.5 317.3 127.8 314.4 128.1 313.4 128.4 314.4 128.7 317.4 129.0 322.1 129.3 328.2 129.6 335.3 129.8 343.0 130.1 350.8 130.4 358.1 130.7 364.4 131.0 369.4 131.3 372.7 131.6 374.1 131.8 373.5 132.1 371.0 132.4 366.7 132.7 360.8 133.0 353.8 133.3 346.2 133.6 338.4 133.8 331.0 134.1 324.4 134.4 319.1 134.7 315.4 135.0 313.5 135.3 313.7 135.6 315.8 135.9 319.8 136.1 325.4 136.4 332.1 136.7 339.7 137.0 347.5 137.3 355.1 137.6 361.9 137.9 367.5 138.1 371.6 138.4 373.8 138.7 374.1 139.0 372.4 139.3 368.8 139.6 363.5 139.9 357.0 140.1 349.5 140.4 341.7 140.7 334.1 141.0 327.0 141.3 321.1 141.6 316.7 141.9 314.0 142.2 313.3 142.4 314.6 142.7 317.8 143.0 322.8 143.3 329.1 143.6 336.4 143.9 344.1 144.2 351.9 144.4 359.1 144.7 365.3 145.0 370.1 145.3 373.2 145.6 374.3 145.9 373.4 146.2 370.6 146.4 366.0 146.7 359.9 147.0 352.8 147.3 345.1 147.6 337.3 147.9 329.9 148.2 323.5 148.5 318.3 148.7 314.9 149.0 313.3 149.3 313.8 149.6 316.2 149.9 320.4 150.2 326.2 150.5 333.1 150.7 340.8 151.0 348.6 151.3 356.1 151.6 362.8 151.9 368.3 152.2 372.1 152.5 374.1 152.7 374.1 153.0 372.1 153.3 368.2 153.6 362.7 153.9 356.0 154.2 348.5 154.5 340.6 154.8 333.0 155.0 326.1 155.3 320.3 155.6 316.1 155.9 313.7 156.2 313.3 156.5 314.9 156.8 318.4 157.0 323.5 157.3 330.0 157.6 337.4 157.9 345.3 158.2 353.0 158.5 360.1 158.8 366.1 159.0 370.7 159.3 373.5 159.6 374.4 159.9 373.2 160.2 370.1 160.5 365.3 160.8 359.0 161.1 351.8 161.3 344.0 161.6 336.2 161.9 328.9 162.2 322.6 162.5 317.7 162.8 314.5 163.1 313.2 163.3 313.9 163.6 316.6 163.9 321.1 164.2 327.1 164.5 334.2 164.8 341.9 165.1 349.7 165.3 357.2 165.6 363.7 165.9 369.0 166.2 372.6 166.5 374.3 166.8 374.0 167.1 371.7 167.4 367.5 167.6 361.9 167.9 355.0 168.2 347.4 168.5 339.5 168.8 331.9 169.1 325.1 169.4 319.6 169.6 315.6 169.9 313.5 170.2 313.4 170.5 315.2" stroke="#4A8ACB" stroke-width="1.0"/>
<path d="M23.6 343.8L23.9 343.8 24.2 343.8 24.5 343.8 24.7 343.8 25.0 343.8 25.3 343.8 25.6 343.8 25.9 343.8 26.2 343.8 26.5 343.8 26.7 343.8 27.0 343.8 27.3 343.8 27.6 343.8 27.9 343.8 28.2 343.8 28.5 343.8 28.8 343.8 29.0 343.8 29.3 343.8 29.6 343.8 29.9 343.8 30.2 343.8 30.5 343.8 30.8 343.8 31.0 343.8 31.3 343.8 31.6 343.8 31.9 343.8 32.2 343.8 32.5 343.8 32.8 343.8 33.0 343.8 33.3 343.8 33.6 343.8 33.9 343.8 34.2 343.8 34.5 343.8 34.8 343.8 35.1 343.8 35.3 343.8 35.6 343.8 35.9 343.8 36.2 343.8 36.5 343.8 36.8 343.8 37.1 343.8 37.3 343.8 37.6 343.8 37.9 343.8 38.2 343.8 38.5 343.8 38.8 343.8 39.1 343.8 39.3 343.8 39.6 343.8 39.9 343.8 40.2 343.8 40.5 343.8 40.8 343.8 41.1 343.8 41.4 343.8 41.6 343.8 41.9 343.8 42.2 343.8 42.5 343.8 42.8 343.8 43.1 343.8 43.4 343.8 43.6 343.8 43.9 343.8 44.2 343.8 44.5 343.8 44.8 343.8 45.1 343.8 45.4 343.8 45.6 343.8 45.9 343.8 46.2 343.8 46.5 343.8 46.8 343.8 47.1 343.8 47.4 343.8 47.7 343.8 47.9 343.8 48.2 344.6 48.5 346.2 48.8 347.8 49.1 349.4 49.4 350.9 49.7 352.3 49.9 353.6 50.2 354.8 50.5 355.9 50.8 356.9 51.1 357.7 51.4 358.3 51.7 358.8 51.9 359.1 52.2 359.3 52.5 359.1 52.8 358.1 53.1 356.2 53.4 353.7 53.7 350.6 54.0 347.2 54.2 343.7 54.5 340.4 54.8 337.3 55.1 334.9 55.4 333.1 55.7 332.2 56.0 332.1 56.2 332.8 56.5 334.3 56.8 336.4 57.1 339.0 57.4 342.0 57.7 345.1 58.0 348.1 58.2 350.8 58.5 353.1 58.8 354.8 59.1 355.8 59.4 356.0 59.7 355.1 60.0 353.1 60.3 350.0 60.5 346.0 60.8 341.5 61.1 336.7 61.4 331.9 61.7 327.5 62.0 323.8 62.3 320.9 62.5 319.1 62.8 318.5 63.1 319.4 63.4 322.1 63.7 326.4 64.0 332.0 64.3 338.6 64.5 345.6 64.8 352.7 65.1 359.4 65.4 365.3 65.7 369.8 66.0 372.9 66.3 374.2 66.6 373.6 66.8 370.9 67.1 366.5 67.4 360.5 67.7 353.3 68.0 345.4 68.3 337.4 68.6 329.8 68.8 323.0 69.1 317.5 69.4 313.7 69.7 311.8 70.0 312.0 70.3 314.3 70.6 318.5 70.8 324.4 71.1 331.6 71.4 339.6 71.7 347.9 72.0 355.9 72.3 363.2 72.6 369.2 72.9 373.5 73.1 375.9 73.4 376.2 73.7 374.3 74.0 370.5 74.3 364.8 74.6 357.8 74.9 349.9 75.1 341.5 75.4 333.3 75.7 325.8 76.0 319.4 76.3 314.7 76.6 311.8 76.9 311.1 77.1 312.5 77.4 315.9 77.7 321.2 78.0 327.9 78.3 335.7 78.6 343.9 78.9 352.2 79.2 359.9 79.4 366.5 79.7 371.6 80.0 374.9 80.3 376.1 80.6 375.1 80.9 372.2 81.2 367.4 81.4 361.2 81.7 353.8 82.0 345.8 82.3 337.7 82.6 330.0 82.9 323.3 83.2 318.0 83.4 314.4 83.7 312.8 84.0 313.3 84.3 315.7 84.6 319.9 84.9 325.6 85.2 332.5 85.5 340.1 85.7 347.9 86.0 355.3 86.3 362.0 86.6 367.4 86.9 371.2 87.2 373.2 87.5 373.2 87.7 371.3 88.0 367.6 88.3 362.5 88.6 356.1 88.9 349.0 89.2 341.7 89.5 334.5 89.7 327.9 90.0 322.5 90.3 318.5 90.6 316.3 90.9 315.9 91.2 317.3 91.5 320.4 91.8 325.1 92.0 330.9 92.3 337.5 92.6 344.5 92.9 351.4 93.2 357.7 93.5 363.1 93.8 367.2 94.0 369.7 94.3 370.5 94.6 369.5 94.9 366.8 95.2 362.7 95.5 357.3 95.8 351.1 96.0 344.5 96.3 337.8 96.6 331.6 96.9 326.2 97.2 321.9 97.5 319.2 97.8 318.1 98.1 318.7 98.3 321.0 98.6 324.7 98.9 329.7 99.2 335.6 99.5 342.0 99.8 348.5 100.1 354.7 100.3 360.2 100.6 364.6 100.9 367.5 101.2 369.0 101.5 368.7 101.8 366.8 102.1 363.4 102.3 358.7 102.6 353.0 102.9 346.7 103.2 340.2 103.5 333.9 103.8 328.3 104.1 323.7 104.4 320.4 104.6 318.6 104.9 318.5 105.2 320.1 105.5 323.2 105.8 327.7 106.1 333.3 106.4 339.5 106.6 346.1 106.9 352.5 107.2 358.3 107.5 363.2 107.8 366.8 108.1 368.9 108.4 369.4 108.6 368.2 108.9 365.3 109.2 361.0 109.5 355.5 109.8 349.3 110.1 342.6 110.4 336.0 110.7 329.9 110.9 324.7 111.2 320.7 111.5 318.2 111.8 317.4 112.1 318.3 112.4 320.9 112.7 325.1 112.9 330.5 113.2 336.9 113.5 343.8 113.8 350.7 114.1 357.2 114.4 362.8 114.7 367.3 114.9 370.2 115.2 371.5 115.5 370.9 115.8 368.6 116.1 364.5 116.4 359.1 116.7 352.6 117.0 345.5 117.2 338.3 117.5 331.4 117.8 325.2 118.1 320.3 118.4 316.9 118.7 315.2 119.0 315.3 119.2 317.4 119.5 321.2 119.8 326.5 120.1 333.1 120.4 340.3 120.7 347.8 121.0 355.1 121.2 361.7 121.5 367.1 121.8 371.0 122.1 373.1 122.4 373.4 122.7 371.7 123.0 368.1 123.3 363.0 123.5 356.5 123.8 349.2 124.1 341.5 124.4 333.9 124.7 327.0 125.0 321.2 125.3 316.8 125.5 314.2 125.8 313.5 126.1 314.8 126.4 318.0 126.7 322.9 127.0 329.2 127.3 336.4 127.5 344.2 127.8 351.9 128.1 359.0 128.4 365.2 128.7 370.0 129.0 373.0 129.3 374.1 129.6 373.3 129.8 370.5 130.1 365.9 130.4 359.9 130.7 352.8 131.0 345.1 131.3 337.3 131.6 330.0 131.8 323.5 132.1 318.4 132.4 315.0 132.7 313.5 133.0 313.9 133.3 316.3 133.6 320.5 133.8 326.3 134.1 333.2 134.4 340.8 134.7 348.6 135.0 356.1 135.3 362.8 135.6 368.2 135.9 372.0 136.1 374.0 136.4 374.0 136.7 372.0 137.0 368.1 137.3 362.6 137.6 355.9 137.9 348.4 138.1 340.6 138.4 333.0 138.7 326.1 139.0 320.4 139.3 316.2 139.6 313.8 139.9 313.4 140.1 315.0 140.4 318.5 140.7 323.6 141.0 330.1 141.3 337.5 141.6 345.3 141.9 353.0 142.2 360.1 142.4 366.1 142.7 370.6 143.0 373.4 143.3 374.3 143.6 373.1 143.9 370.0 144.2 365.2 144.4 359.0 144.7 351.7 145.0 344.0 145.3 336.2 145.6 328.9 145.9 322.7 146.2 317.7 146.4 314.6 146.7 313.3 147.0 314.0 147.3 316.7 147.6 321.2 147.9 327.2 148.2 334.2 148.5 341.9 148.7 349.7 149.0 357.1 149.3 363.7 149.6 368.9 149.9 372.5 150.2 374.2 150.5 373.9 150.7 371.6 151.0 367.5 151.3 361.8 151.6 354.9 151.9 347.3 152.2 339.5 152.5 332.0 152.7 325.2 153.0 319.6 153.3 315.7 153.6 313.5 153.9 313.4 154.2 315.3 154.5 319.0 154.8 324.4 155.0 331.1 155.3 338.5 155.6 346.4 155.9 354.0 156.2 361.0 156.5 366.9 156.8 371.2 157.0 373.7 157.3 374.3 157.6 372.9 157.9 369.5 158.2 364.4 158.5 358.0 158.8 350.7 159.0 342.9 159.3 335.1 159.6 327.9 159.9 321.8 160.2 317.1 160.5 314.2 160.8 313.2 161.1 314.2 161.3 317.2 161.6 321.9 161.9 328.1 162.2 335.3 162.5 343.0 162.8 350.8 163.1 358.2 163.3 364.6 163.6 369.6 163.9 372.9 164.2 374.3 164.5 373.7 164.8 371.2 165.1 366.8 165.3 360.9 165.6 353.9 165.9 346.2 166.2 338.4 166.5 330.9 166.8 324.3 167.1 318.9 167.4 315.2 167.6 313.4 167.9 313.5 168.2 315.7 168.5 319.7 168.8 325.3 169.1 332.1 169.4 339.6 169.6 347.5 169.9 355.1 170.2 362.0 170.5 367.6" stroke="#33353F" stroke-width="1.0"/>
</g>
<rect x="23.60" y="306.60" width="146.90" height="81.80" fill="none" stroke="#3C3C3C" stroke-width="0.9"/>
<path d="M23.60 388.40h1.6M23.60 373.53h1.6M23.60 358.65h1.6M23.60 343.78h1.6M23.60 328.91h1.6M23.60 314.04h1.6M23.60 388.40v-1.6M48.08 388.40v-1.6M72.57 388.40v-1.6M97.05 388.40v-1.6M121.53 388.40v-1.6M146.02 388.40v-1.6M170.50 388.40v-1.6" stroke="#3C3C3C" stroke-width="0.7" fill="none"/>
<g font-family="'Liberation Serif','Times New Roman',serif" font-size="6.6" fill="#222" stroke="#222" stroke-width="0.2">
<text x="22.30" y="390.60" text-anchor="end">-30</text>
<text x="22.30" y="375.73" text-anchor="end">-20</text>
<text x="22.30" y="360.85" text-anchor="end">-10</text>
<text x="22.30" y="345.98" text-anchor="end">0</text>
<text x="22.30" y="331.11" text-anchor="end">10</text>
<text x="22.30" y="316.24" text-anchor="end">20</text>
<text x="23.60" y="395.00" text-anchor="middle">0.19</text>
<text x="48.08" y="395.00" text-anchor="middle">0.20</text>
<text x="72.57" y="395.00" text-anchor="middle">0.21</text>
<text x="97.05" y="395.00" text-anchor="middle">0.22</text>
<text x="121.53" y="395.00" text-anchor="middle">0.23</text>
<text x="146.02" y="395.00" text-anchor="middle">0.24</text>
<text x="170.50" y="395.00" text-anchor="middle">0.25</text>
</g>
<clipPath id="cpa4"><rect x="23.60" y="403.30" width="146.90" height="81.90"/></clipPath>
<g clip-path="url(#cpa4)" fill="none" stroke-linejoin="round">
<path d="M47.9 444.2L48.2 448.8 48.5 457.2 48.8 463.4 49.1 466.6 49.4 466.5 49.7 464.3 49.9 459.9 50.2 451.6 50.5 434.0 50.8 428.0 51.1 424.6 51.4 423.3 51.7 423.9 51.9 426.4 52.2 431.0 52.5 441.1 52.8 455.1 53.1 460.0 53.4 462.6 53.7 463.4 54.0 462.4 54.2 459.6 54.5 454.4 54.8 439.3 55.1 431.2 55.4 427.0 55.7 424.8 56.0 424.5 56.2 426.0 56.5 429.5 56.8 435.7 57.1 452.7 57.4 459.8 57.7 463.7 58.0 465.5 58.2 465.5 58.5 463.4 58.8 459.1 59.1 451.3 59.4 433.1 59.7 426.6 60.0 422.9 60.3 421.4 60.5 422.0 60.8 424.7 61.1 429.9 61.4 440.2 61.7 458.0 62.0 464.1 62.3 467.4 62.5 468.5 62.8 467.5 63.1 464.0 63.4 457.7 63.7 439.4 64.0 427.7 64.3 422.1 64.5 419.1 64.8 418.4 65.1 420.1 65.4 424.4 65.7 432.0 66.0 453.7 66.3 463.4 66.6 468.7 66.8 471.3 67.1 471.5 67.4 469.1 67.7 464.1 68.0 454.9 68.3 432.1 68.6 423.5 68.8 418.7 69.1 416.6 69.4 417.0 69.7 419.9 70.0 425.7 70.3 436.6 70.6 458.3 70.8 465.8 71.1 469.9 71.4 471.4 71.7 470.5 72.0 467.0 72.3 460.6 72.6 444.3 72.9 428.1 73.1 421.6 73.4 418.2 73.7 417.2 74.0 418.7 74.3 422.8 74.6 430.2 74.9 451.6 75.1 462.4 75.4 468.1 75.7 471.0 76.0 471.3 76.3 469.3 76.6 464.6 76.9 456.1 77.1 433.7 77.4 424.7 77.7 419.7 78.0 417.4 78.3 417.5 78.6 420.1 78.9 425.3 79.2 434.9 79.4 456.3 79.7 463.8 80.0 468.0 80.3 469.7 80.6 469.0 80.9 466.1 81.2 460.5 81.4 449.0 81.7 431.0 82.0 424.8 82.3 421.4 82.6 420.4 82.9 421.5 83.2 424.8 83.4 430.7 83.7 448.3 84.0 458.5 84.3 463.6 84.6 466.3 84.9 466.8 85.2 465.3 85.5 461.7 85.7 455.2 86.0 437.1 86.3 429.4 86.6 425.1 86.9 423.0 87.2 423.0 87.5 424.8 87.7 428.8 88.0 436.0 88.3 453.3 88.6 459.6 88.9 463.2 89.2 464.7 89.5 464.3 89.7 462.1 90.0 457.8 90.3 449.4 90.6 433.8 90.9 428.5 91.2 425.6 91.5 424.5 91.8 425.3 92.0 427.8 92.3 432.6 92.6 446.0 92.9 455.7 93.2 460.2 93.5 462.6 93.8 463.2 94.0 462.0 94.3 459.1 94.6 453.9 94.9 438.7 95.2 431.5 95.5 427.7 95.8 425.7 96.0 425.5 96.3 427.1 96.6 430.4 96.9 436.5 97.2 452.0 97.5 458.1 97.8 461.4 98.1 463.0 98.3 462.8 98.6 460.8 98.9 457.0 99.2 449.8 99.5 434.5 99.8 429.3 100.1 426.3 100.3 425.2 100.6 425.8 100.9 428.2 101.2 432.7 101.5 442.6 101.8 456.2 102.1 460.9 102.3 463.5 102.6 464.3 102.9 463.2 103.2 460.3 103.5 454.9 103.8 439.0 104.1 430.5 104.4 426.1 104.6 423.8 104.9 423.5 105.2 425.0 105.5 428.6 105.8 435.0 106.1 452.5 106.4 459.8 106.6 463.8 106.9 465.7 107.2 465.6 107.5 463.5 107.8 459.3 108.1 451.4 108.4 433.4 108.6 426.9 108.9 423.2 109.2 421.7 109.5 422.2 109.8 424.9 110.1 430.0 110.4 440.2 110.7 457.8 110.9 463.8 111.2 467.0 111.5 468.1 111.8 467.1 112.1 463.7 112.4 457.6 112.7 439.6 112.9 428.3 113.2 422.7 113.5 419.8 113.8 419.2 114.1 420.8 114.4 424.9 114.7 432.3 114.9 453.2 115.2 462.6 115.5 467.7 115.8 470.2 116.1 470.4 116.4 468.1 116.7 463.2 117.0 454.4 117.2 432.4 117.5 424.1 117.8 419.4 118.1 417.4 118.4 417.8 118.7 420.7 119.0 426.4 119.2 437.1 119.5 458.6 119.8 466.0 120.1 470.1 120.4 471.6 120.7 470.7 121.0 467.1 121.2 460.6 121.5 444.1 121.8 427.6 122.1 421.0 122.4 417.5 122.7 416.6 123.0 418.1 123.3 422.3 123.5 429.9 123.8 451.9 124.1 462.9 124.4 468.8 124.7 471.7 125.0 472.1 125.3 470.0 125.5 465.1 125.8 456.3 126.1 433.1 126.4 423.7 126.7 418.6 127.0 416.2 127.3 416.4 127.5 419.1 127.8 424.8 128.1 435.1 128.4 458.2 128.7 466.3 129.0 470.8 129.3 472.6 129.6 471.8 129.8 468.5 130.1 462.0 130.4 448.9 130.7 428.1 131.0 420.9 131.3 417.1 131.6 415.8 131.8 417.2 132.1 421.2 132.4 428.5 132.7 450.0 133.0 462.4 133.3 468.7 133.6 472.0 133.8 472.6 134.1 470.7 134.4 466.0 134.7 457.6 135.0 434.3 135.3 424.3 135.6 418.8 135.9 416.1 136.1 416.1 136.4 418.6 136.7 424.0 137.0 433.7 137.3 457.1 137.6 465.7 137.9 470.6 138.1 472.6 138.4 472.1 138.7 468.9 139.0 462.8 139.3 451.0 139.6 428.9 139.9 421.4 140.1 417.2 140.4 415.8 140.7 416.9 141.0 420.6 141.3 427.6 141.6 447.4 141.9 461.7 142.2 468.3 142.4 471.9 142.7 472.7 143.0 471.0 143.3 466.6 143.6 458.7 143.9 435.8 144.2 424.9 144.4 419.1 144.7 416.2 145.0 415.9 145.3 418.2 145.6 423.3 145.9 432.5 146.2 456.1 146.4 465.2 146.7 470.3 147.0 472.6 147.3 472.3 147.6 469.4 147.9 463.6 148.2 452.7 148.5 429.8 148.7 421.9 149.0 417.4 149.3 415.7 149.6 416.6 149.9 420.1 150.2 426.8 150.5 441.1 150.7 460.9 151.0 467.9 151.3 471.7 151.6 472.8 151.9 471.3 152.2 467.2 152.5 459.6 152.7 437.4 153.0 425.6 153.3 419.5 153.6 416.3 153.9 415.8 154.2 417.8 154.5 422.7 154.8 431.3 155.0 454.9 155.3 464.6 155.6 470.0 155.9 472.5 156.2 472.5 156.5 469.8 156.8 464.3 157.0 454.2 157.3 430.8 157.6 422.4 157.9 417.7 158.2 415.7 158.5 416.4 158.8 419.7 159.0 426.0 159.3 438.4 159.6 460.1 159.9 467.5 160.2 471.5 160.5 472.9 160.8 471.6 161.1 467.7 161.3 460.5 161.6 439.6 161.9 426.3 162.2 419.9 162.5 416.4 162.8 415.7 163.1 417.5 163.3 422.1 163.6 430.3 163.9 453.5 164.2 464.0 164.5 469.7 164.8 472.5 165.1 472.6 165.3 470.2 165.6 464.9 165.9 455.5 166.2 431.8 166.5 422.9 166.8 418.0 167.1 415.8 167.4 416.2 167.6 419.2 167.9 425.2 168.2 436.6 168.5 459.2 168.8 467.0 169.1 471.3 169.4 472.9 169.6 471.9 169.9 468.2 170.2 461.4 170.5 444.2" stroke="#F08A25" stroke-width="1.0"/>
<path d="M47.9 444.2L48.2 446.1 48.5 449.8 48.8 453.4 49.1 456.6 49.4 459.5 49.7 462.0 49.9 463.9 50.2 465.2 50.5 465.9 50.8 465.8 51.1 464.1 51.4 460.3 51.7 453.5 51.9 436.4 52.2 430.0 52.5 426.4 52.8 424.8 53.1 425.1 53.4 427.2 53.7 431.2 54.0 439.0 54.2 454.4 54.5 459.6 54.8 462.6 55.1 463.6 55.4 462.9 55.7 460.4 56.0 455.6 56.2 443.5 56.5 431.4 56.8 426.6 57.1 424.0 57.4 423.3 57.7 424.5 58.0 427.8 58.2 433.7 58.5 450.8 58.8 459.4 59.1 464.0 59.4 466.3 59.7 466.6 60.0 464.8 60.3 460.8 60.5 453.6 60.8 434.5 61.1 426.8 61.4 422.6 61.7 420.6 62.0 420.8 62.3 423.2 62.5 428.1 62.8 437.0 63.1 457.0 63.4 464.0 63.7 467.9 64.0 469.5 64.3 468.8 64.5 465.7 64.8 459.8 65.1 447.6 65.4 428.5 65.7 421.9 66.0 418.4 66.3 417.2 66.6 418.5 66.8 422.4 67.1 429.5 67.4 450.2 67.7 462.2 68.0 468.3 68.3 471.4 68.6 472.0 68.8 470.1 69.1 465.6 69.4 457.5 69.7 434.9 70.0 425.1 70.3 419.8 70.6 417.2 70.8 417.1 71.1 419.5 71.4 424.7 71.7 434.0 72.0 456.4 72.3 464.6 72.6 469.2 72.9 471.2 73.1 470.7 73.4 467.7 73.7 461.9 74.0 450.6 74.3 429.6 74.6 422.4 74.9 418.5 75.1 417.1 75.4 418.1 75.7 421.7 76.0 428.4 76.3 447.3 76.6 461.0 76.9 467.3 77.1 470.7 77.4 471.5 77.7 469.9 78.0 465.8 78.3 458.4 78.6 436.9 78.9 426.8 79.2 421.3 79.4 418.6 79.7 418.3 80.0 420.4 80.3 424.9 80.6 432.9 80.9 453.8 81.2 461.9 81.4 466.4 81.7 468.4 82.0 468.2 82.3 465.8 82.6 460.9 82.9 451.9 83.2 432.9 83.4 426.4 83.7 422.7 84.0 421.3 84.3 422.0 84.6 424.7 84.9 429.9 85.2 441.2 85.5 456.8 85.7 462.2 86.0 465.2 86.3 466.1 86.6 465.0 86.9 461.9 87.2 456.2 87.5 439.7 87.7 430.8 88.0 426.2 88.3 423.9 88.6 423.5 88.9 425.0 89.2 428.4 89.5 434.6 89.7 451.4 90.0 458.4 90.3 462.2 90.6 464.0 90.9 464.0 91.2 462.2 91.5 458.4 91.8 451.5 92.0 435.5 92.3 429.7 92.6 426.5 92.9 425.2 93.2 425.6 93.5 427.8 93.8 431.9 94.0 440.2 94.3 454.6 94.6 459.5 94.9 462.2 95.2 463.1 95.5 462.3 95.8 459.7 96.0 455.0 96.3 441.2 96.6 432.5 96.9 428.2 97.2 426.0 97.5 425.4 97.8 426.7 98.1 429.7 98.3 435.1 98.6 450.4 98.9 457.3 99.2 461.0 99.5 462.9 99.8 463.0 100.1 461.3 100.3 457.8 100.6 451.4 100.9 435.5 101.2 429.5 101.5 426.1 101.8 424.7 102.1 424.9 102.3 427.1 102.6 431.3 102.9 439.3 103.2 455.3 103.5 460.7 103.8 463.7 104.1 464.9 104.4 464.1 104.6 461.4 104.9 456.4 105.2 443.9 105.5 431.3 105.8 426.3 106.1 423.6 106.4 422.9 106.6 424.1 106.9 427.4 107.2 433.3 107.5 450.5 107.8 459.2 108.1 463.7 108.4 466.0 108.6 466.3 108.9 464.6 109.2 460.6 109.5 453.5 109.8 434.7 110.1 427.1 110.4 422.9 110.7 421.0 110.9 421.2 111.2 423.5 111.5 428.3 111.8 437.1 112.1 456.7 112.4 463.5 112.7 467.4 112.9 468.9 113.2 468.2 113.5 465.2 113.8 459.5 114.1 447.7 114.4 429.2 114.7 422.8 114.9 419.4 115.2 418.3 115.5 419.5 115.8 423.3 116.1 430.0 116.4 450.0 116.7 461.6 117.0 467.4 117.2 470.4 117.5 471.0 117.8 469.2 118.1 464.7 118.4 456.8 118.7 434.6 119.0 425.1 119.2 419.8 119.5 417.3 119.8 417.3 120.1 419.7 120.4 424.9 120.7 434.2 121.0 456.8 121.2 465.1 121.5 469.8 121.8 471.7 122.1 471.2 122.4 468.2 122.7 462.2 123.0 450.7 123.3 429.1 123.5 421.8 123.8 417.8 124.1 416.3 124.4 417.4 124.7 421.1 125.0 428.0 125.3 447.5 125.5 461.6 125.8 468.1 126.1 471.6 126.4 472.4 126.7 470.8 127.0 466.4 127.3 458.5 127.5 435.8 127.8 425.0 128.1 419.2 128.4 416.3 128.7 416.1 129.0 418.3 129.3 423.4 129.6 432.5 129.8 456.0 130.1 465.1 130.4 470.2 130.7 472.5 131.0 472.2 131.3 469.3 131.6 463.5 131.8 452.7 132.1 429.9 132.4 421.9 132.7 417.5 133.0 415.8 133.3 416.7 133.6 420.2 133.8 426.8 134.1 441.1 134.4 460.9 134.7 467.8 135.0 471.6 135.3 472.7 135.6 471.2 135.9 467.1 136.1 459.6 136.4 437.5 136.7 425.7 137.0 419.6 137.3 416.4 137.6 415.9 137.9 417.9 138.1 422.8 138.4 431.4 138.7 454.8 139.0 464.5 139.3 469.9 139.6 472.5 139.9 472.4 140.1 469.7 140.4 464.2 140.7 454.1 141.0 430.8 141.3 422.4 141.6 417.8 141.9 415.8 142.2 416.5 142.4 419.7 142.7 426.0 143.0 438.5 143.3 460.1 143.6 467.4 143.9 471.4 144.2 472.8 144.4 471.5 144.7 467.6 145.0 460.5 145.3 439.6 145.6 426.4 145.9 419.9 146.2 416.5 146.4 415.8 146.7 417.6 147.0 422.1 147.3 430.3 147.6 453.5 147.9 463.9 148.2 469.6 148.5 472.4 148.7 472.6 149.0 470.1 149.3 464.9 149.6 455.5 149.9 431.9 150.2 423.0 150.5 418.0 150.7 415.8 151.0 416.2 151.3 419.3 151.6 425.3 151.9 436.6 152.2 459.2 152.5 466.9 152.7 471.2 153.0 472.8 153.3 471.8 153.6 468.2 153.9 461.4 154.2 444.2 154.5 427.1 154.8 420.3 155.0 416.7 155.3 415.7 155.6 417.3 155.9 421.6 156.2 429.3 156.5 451.9 156.8 463.3 157.0 469.3 157.3 472.3 157.6 472.7 157.9 470.5 158.2 465.5 158.5 456.6 158.8 433.0 159.0 423.6 159.3 418.3 159.6 415.9 159.9 416.1 160.2 418.8 160.5 424.5 160.8 435.0 161.1 458.2 161.3 466.4 161.6 471.0 161.9 472.8 162.2 472.1 162.5 468.6 162.8 462.2 163.1 448.9 163.3 427.9 163.6 420.8 163.9 416.9 164.2 415.6 164.5 417.0 164.8 421.0 165.1 428.4 165.3 450.1 165.6 462.6 165.9 468.9 166.2 472.2 166.5 472.8 166.8 470.9 167.1 466.1 167.4 457.7 167.6 434.3 167.9 424.2 168.2 418.6 168.5 416.0 168.8 415.9 169.1 418.5 169.4 423.9 169.6 433.6 169.9 457.2 170.2 465.9 170.5 470.7" stroke="#5E9DD8" stroke-width="1.0"/>
<path d="M23.6 444.2L23.9 444.2 24.2 444.2 24.5 444.2 24.7 444.2 25.0 444.2 25.3 444.2 25.6 444.2 25.9 444.2 26.2 444.2 26.5 444.2 26.7 444.2 27.0 444.2 27.3 444.2 27.6 444.2 27.9 444.2 28.2 444.2 28.5 444.2 28.8 444.2 29.0 444.2 29.3 444.2 29.6 444.2 29.9 444.2 30.2 444.2 30.5 444.2 30.8 444.2 31.0 444.2 31.3 444.2 31.6 444.2 31.9 444.2 32.2 444.2 32.5 444.2 32.8 444.2 33.0 444.2 33.3 444.2 33.6 444.2 33.9 444.2 34.2 444.2 34.5 444.2 34.8 444.2 35.1 444.2 35.3 444.2 35.6 444.2 35.9 444.2 36.2 444.2 36.5 444.2 36.8 444.2 37.1 444.2 37.3 444.2 37.6 444.2 37.9 444.2 38.2 444.2 38.5 444.2 38.8 444.2 39.1 444.2 39.3 444.2 39.6 444.2 39.9 444.2 40.2 444.2 40.5 444.2 40.8 444.2 41.1 444.2 41.4 444.2 41.6 444.2 41.9 444.2 42.2 444.2 42.5 444.2 42.8 444.2 43.1 444.2 43.4 444.2 43.6 444.2 43.9 444.2 44.2 444.2 44.5 444.2 44.8 444.2 45.1 444.2 45.4 444.2 45.6 444.2 45.9 444.2 46.2 444.2 46.5 444.2 46.8 444.2 47.1 444.2 47.4 444.2 47.7 444.2 47.9 444.2 48.2 441.5 48.5 436.3 48.8 431.5 49.1 427.5 49.4 424.4 49.7 422.5 49.9 421.9 50.2 422.9 50.5 425.9 50.8 431.4 51.1 447.5 51.4 456.8 51.7 461.5 51.9 463.9 52.2 464.4 52.5 463.0 52.8 459.8 53.1 454.0 53.4 437.9 53.7 431.0 54.0 427.2 54.2 425.3 54.5 425.3 54.8 427.1 55.1 430.8 55.4 437.5 55.7 453.8 56.0 459.8 56.2 463.1 56.5 464.5 56.8 464.1 57.1 461.8 57.4 457.3 57.7 448.5 58.0 432.0 58.2 426.5 58.5 423.4 58.8 422.3 59.1 423.2 59.4 426.2 59.7 431.7 60.0 447.5 60.3 458.8 60.5 464.1 60.8 466.9 61.1 467.6 61.4 466.1 61.7 462.4 62.0 455.7 62.3 436.4 62.5 427.3 62.8 422.4 63.1 419.9 63.4 419.7 63.7 421.7 64.0 426.3 64.3 434.5 64.5 455.7 64.8 463.9 65.1 468.5 65.4 470.6 65.7 470.3 66.0 467.5 66.3 462.0 66.6 451.7 66.8 429.9 67.1 422.3 67.4 418.1 67.7 416.5 68.0 417.4 68.3 420.8 68.6 427.2 68.8 441.1 69.1 460.3 69.4 467.1 69.7 470.8 70.0 471.9 70.3 470.4 70.6 466.5 70.8 459.2 71.1 438.0 71.4 426.7 71.7 420.8 72.0 417.8 72.3 417.3 72.6 419.2 72.9 423.8 73.1 432.0 73.4 454.3 73.7 463.6 74.0 468.7 74.3 471.1 74.6 471.0 74.9 468.5 75.1 463.2 75.4 453.6 75.7 431.4 76.0 423.4 76.3 418.9 76.6 417.0 76.9 417.6 77.1 420.7 77.4 426.7 77.7 438.5 78.0 458.9 78.3 465.8 78.6 469.6 78.9 470.9 79.2 469.8 79.4 466.3 79.7 459.8 80.0 441.0 80.3 429.0 80.6 423.2 80.9 420.1 81.2 419.5 81.4 421.0 81.7 424.9 82.0 431.8 82.3 451.3 82.6 460.2 82.9 465.0 83.2 467.3 83.4 467.5 83.7 465.6 84.0 461.4 84.3 453.8 84.6 435.0 84.9 427.9 85.2 423.9 85.5 422.2 85.7 422.5 86.0 424.8 86.3 429.3 86.6 437.9 86.9 455.1 87.2 460.9 87.5 464.2 87.7 465.4 88.0 464.7 88.3 462.0 88.6 457.1 88.9 444.7 89.2 432.3 89.5 427.4 89.7 424.7 90.0 424.0 90.3 425.1 90.6 428.1 90.9 433.5 91.2 449.2 91.5 457.0 91.8 461.2 92.0 463.3 92.3 463.6 92.6 462.1 92.9 458.8 93.2 452.8 93.5 437.0 93.8 430.7 94.0 427.2 94.3 425.6 94.6 425.7 94.9 427.5 95.2 431.3 95.5 438.2 95.8 453.5 96.0 458.8 96.3 461.8 96.6 463.1 96.9 462.5 97.2 460.3 97.5 456.0 97.8 447.3 98.1 433.5 98.3 428.8 98.6 426.2 98.9 425.4 99.2 426.3 99.5 429.0 99.8 433.9 100.1 448.4 100.3 456.7 100.6 460.9 100.9 463.1 101.2 463.6 101.5 462.2 101.8 458.9 102.1 453.1 102.3 436.8 102.6 429.8 102.9 426.0 103.2 424.1 103.5 424.1 103.8 425.9 104.1 429.9 104.4 436.9 104.6 454.0 104.9 460.3 105.2 463.8 105.5 465.3 105.8 464.9 106.1 462.5 106.4 457.9 106.6 449.0 106.9 432.3 107.2 426.6 107.5 423.5 107.8 422.4 108.1 423.2 108.4 426.2 108.6 431.7 108.9 447.3 109.2 458.6 109.5 463.8 109.8 466.5 110.1 467.2 110.4 465.8 110.7 462.2 110.9 455.6 111.2 436.6 111.5 427.6 111.8 422.7 112.1 420.3 112.4 420.1 112.7 422.1 112.9 426.6 113.2 434.6 113.5 455.2 113.8 463.2 114.1 467.6 114.4 469.6 114.7 469.4 114.9 466.7 115.2 461.4 115.5 451.5 115.8 430.5 116.1 423.3 116.4 419.2 116.7 417.7 117.0 418.5 117.2 421.8 117.5 428.0 117.8 441.5 118.1 460.2 118.4 466.8 118.7 470.3 119.0 471.4 119.2 470.0 119.5 466.0 119.8 458.8 120.1 437.6 120.4 426.3 120.7 420.4 121.0 417.4 121.2 416.9 121.5 418.9 121.8 423.5 122.1 431.9 122.4 454.7 122.7 464.1 123.0 469.3 123.3 471.8 123.5 471.7 123.8 469.1 124.1 463.7 124.4 453.8 124.7 430.9 125.0 422.7 125.3 418.1 125.5 416.2 125.8 416.8 126.1 420.1 126.4 426.3 126.7 438.6 127.0 460.0 127.3 467.3 127.5 471.3 127.8 472.6 128.1 471.4 128.4 467.5 128.7 460.4 129.0 439.6 129.3 426.5 129.6 420.0 129.8 416.7 130.1 415.9 130.4 417.7 130.7 422.2 131.0 430.4 131.3 453.4 131.6 463.8 131.8 469.5 132.1 472.3 132.4 472.4 132.7 470.0 133.0 464.8 133.3 455.4 133.6 431.9 133.8 423.1 134.1 418.1 134.4 416.0 134.7 416.4 135.0 419.4 135.3 425.3 135.6 436.6 135.9 459.1 136.1 466.8 136.4 471.1 136.7 472.7 137.0 471.7 137.3 468.1 137.6 461.3 137.9 444.2 138.1 427.2 138.4 420.4 138.7 416.8 139.0 415.8 139.3 417.4 139.6 421.6 139.9 429.4 140.1 451.9 140.4 463.2 140.7 469.2 141.0 472.2 141.3 472.6 141.6 470.4 141.9 465.5 142.2 456.6 142.4 433.0 142.7 423.6 143.0 418.4 143.3 416.0 143.6 416.1 143.9 418.9 144.2 424.6 144.4 435.0 144.7 458.2 145.0 466.4 145.3 470.9 145.6 472.7 145.9 472.0 146.2 468.6 146.4 462.1 146.7 448.9 147.0 428.0 147.3 420.8 147.6 416.9 147.9 415.7 148.2 417.0 148.5 421.1 148.7 428.4 149.0 450.1 149.3 462.5 149.6 468.8 149.9 472.1 150.2 472.7 150.5 470.8 150.7 466.1 151.0 457.7 151.3 434.3 151.6 424.2 151.9 418.7 152.2 416.0 152.5 416.0 152.7 418.5 153.0 423.9 153.3 433.7 153.6 457.2 153.9 465.8 154.2 470.7 154.5 472.7 154.8 472.2 155.0 469.0 155.3 462.9 155.6 451.0 155.9 428.8 156.2 421.3 156.5 417.1 156.8 415.7 157.0 416.8 157.3 420.6 157.6 427.5 157.9 447.4 158.2 461.8 158.5 468.4 158.8 471.9 159.0 472.8 159.3 471.1 159.6 466.7 159.9 458.7 160.2 435.7 160.5 424.9 160.8 419.0 161.1 416.1 161.3 415.8 161.6 418.1 161.9 423.3 162.2 432.4 162.5 456.1 162.8 465.3 163.1 470.4 163.3 472.7 163.6 472.4 163.9 469.5 164.2 463.6 164.5 452.7 164.8 429.8 165.1 421.8 165.3 417.4 165.6 415.7 165.9 416.5 166.2 420.1 166.5 426.7 166.8 441.1 167.1 461.0 167.4 468.0 167.6 471.8 167.9 472.9 168.2 471.4 168.5 467.2 168.8 459.7 169.1 437.4 169.4 425.6 169.6 419.4 169.9 416.2 170.2 415.7 170.5 417.8" stroke="#23242c" stroke-width="1.0"/>
</g>
<rect x="23.60" y="403.30" width="146.90" height="81.90" fill="none" stroke="#3C3C3C" stroke-width="0.9"/>
<path d="M23.60 485.20h1.6M23.60 471.55h1.6M23.60 457.90h1.6M23.60 444.25h1.6M23.60 430.60h1.6M23.60 416.95h1.6M23.60 403.30h1.6M23.60 485.20v-1.6M48.08 485.20v-1.6M72.57 485.20v-1.6M97.05 485.20v-1.6M121.53 485.20v-1.6M146.02 485.20v-1.6M170.50 485.20v-1.6" stroke="#3C3C3C" stroke-width="0.7" fill="none"/>
<g font-family="'Liberation Serif','Times New Roman',serif" font-size="6.6" fill="#222" stroke="#222" stroke-width="0.2">
<text x="22.30" y="487.40" text-anchor="end">-15</text>
<text x="22.30" y="473.75" text-anchor="end">-10</text>
<text x="22.30" y="460.10" text-anchor="end">-5</text>
<text x="22.30" y="446.45" text-anchor="end">0</text>
<text x="22.30" y="432.80" text-anchor="end">5</text>
<text x="22.30" y="419.15" text-anchor="end">10</text>
<text x="22.30" y="405.50" text-anchor="end">15</text>
<text x="23.60" y="491.80" text-anchor="middle">0.19</text>
<text x="48.08" y="491.80" text-anchor="middle">0.20</text>
<text x="72.57" y="491.80" text-anchor="middle">0.21</text>
<text x="97.05" y="491.80" text-anchor="middle">0.22</text>
<text x="121.53" y="491.80" text-anchor="middle">0.23</text>
<text x="146.02" y="491.80" text-anchor="middle">0.24</text>
<text x="170.50" y="491.80" text-anchor="middle">0.25</text>
</g>
<clipPath id="cpb0"><rect x="197.40" y="21.50" width="158.20" height="82.00"/></clipPath>
<g clip-path="url(#cpb0)" fill="none" stroke-linejoin="round">
<path d="M223.8 62.5L224.1 63.6 224.3 66.1 224.6 69.0 224.9 71.4 225.2 73.7 225.5 76.0 225.8 78.3 226.1 80.5 226.3 82.5 226.6 84.3 226.9 85.7 227.2 86.9 227.5 88.0 227.8 89.1 228.1 90.1 228.4 91.0 228.6 91.8 228.9 92.4 229.2 92.7 229.5 92.8 229.8 92.8 230.1 92.8 230.4 92.7 230.6 92.6 230.9 92.4 231.2 92.2 231.5 92.0 231.8 91.8 232.1 91.5 232.4 91.2 232.7 90.9 232.9 90.6 233.2 90.3 233.5 90.0 233.8 89.6 234.1 89.2 234.4 88.9 234.7 88.5 234.9 88.0 235.2 87.3 235.5 86.5 235.8 85.7 236.1 84.7 236.4 83.8 236.7 82.8 237.0 81.8 237.2 80.9 237.5 80.1 237.8 79.3 238.1 78.7 238.4 78.2 238.7 77.7 239.0 77.4 239.2 77.0 239.5 76.7 239.8 76.4 240.1 76.1 240.4 75.9 240.7 75.6 241.0 75.3 241.2 75.0 241.5 74.7 241.8 74.4 242.1 74.1 242.4 73.7 242.7 73.3 243.0 72.7 243.3 72.1 243.5 71.4 243.8 70.6 244.1 69.8 244.4 69.1 244.7 68.3 245.0 67.6 245.3 67.0 245.5 66.4 245.8 66.0 246.1 65.8 246.4 65.6 246.7 65.7 247.0 65.7 247.3 65.9 247.6 66.0 247.8 66.2 248.1 66.4 248.4 66.7 248.7 66.9 249.0 67.1 249.3 67.3 249.6 67.6 249.8 67.7 250.1 67.9 250.4 68.0 250.7 68.1 251.0 68.1 251.3 68.1 251.6 68.0 251.9 67.8 252.1 67.6 252.4 67.4 252.7 67.2 253.0 66.9 253.3 66.6 253.6 66.3 253.9 66.0 254.1 65.7 254.4 65.4 254.7 65.1 255.0 64.8 255.3 64.6 255.6 64.4 255.9 64.2 256.2 64.0 256.4 63.9 256.7 63.7 257.0 63.6 257.3 63.5 257.6 63.4 257.9 63.3 258.2 63.2 258.4 63.1 258.7 63.0 259.0 62.8 259.3 62.7 259.6 62.6 259.9 62.5 260.2 62.4 260.5 62.2 260.7 62.1 261.0 61.9 261.3 61.7 261.6 61.4 261.9 61.2 262.2 60.9 262.5 60.6 262.7 60.3 263.0 60.0 263.3 59.7 263.6 59.5 263.9 59.2 264.2 59.0 264.5 58.8 264.7 58.7 265.0 58.6 265.3 58.5 265.6 58.5 265.9 58.6 266.2 58.7 266.5 58.8 266.8 58.9 267.0 59.1 267.3 59.2 267.6 59.4 267.9 59.6 268.2 59.7 268.5 59.8 268.8 59.9 269.0 60.0 269.3 60.0 269.6 60.0 269.9 59.9 270.2 59.8 270.5 59.6 270.8 59.3 271.1 59.0 271.3 58.7 271.6 58.4 271.9 58.1 272.2 57.8 272.5 57.5 272.8 57.2 273.1 56.9 273.3 56.7 273.6 56.6 273.9 56.5 274.2 56.5 274.5 56.6 274.8 56.9 275.1 57.2 275.4 57.6 275.6 58.1 275.9 58.7 276.2 59.2 276.5 59.7 276.8 60.1 277.1 60.5 277.4 60.8 277.6 61.0 277.9 61.0 278.2 61.0 278.5 60.9 278.8 60.8 279.1 60.7 279.4 60.6 279.7 60.5 279.9 60.4 280.2 60.4 280.5 60.3 280.8 60.2 281.1 60.2 281.4 60.2 281.7 60.2 281.9 60.3 282.2 60.4 282.5 60.5 282.8 60.7 283.1 60.9 283.4 61.1 283.7 61.3 284.0 61.5 284.2 61.8 284.5 62.0 284.8 62.2 285.1 62.4 285.4 62.6 285.7 62.8 286.0 63.0 286.2 63.1 286.5 63.2 286.8 63.3 287.1 63.3 287.4 63.3 287.7 63.4 288.0 63.4 288.3 63.4 288.5 63.4 288.8 63.4 289.1 63.4 289.4 63.5 289.7 63.5 290.0 63.5 290.3 63.5 290.5 63.5 290.8 63.5 291.1 63.5 291.4 63.5 291.7 63.5 292.0 63.6 292.3 63.6 292.5 63.6 292.8 63.6 293.1 63.6 293.4 63.6 293.7 63.6 294.0 63.7 294.3 63.7 294.6 63.7 294.8 63.7 295.1 63.8 295.4 63.8 295.7 63.8 296.0 63.8 296.3 63.9 296.6 63.9 296.8 63.9 297.1 63.9 297.4 64.0 297.7 64.0 298.0 64.0 298.3 64.0 298.6 64.1 298.9 64.1 299.1 64.1 299.4 64.1 299.7 64.1 300.0 64.1 300.3 64.1 300.6 64.1 300.9 64.1 301.1 64.1 301.4 64.1 301.7 64.1 302.0 64.0 302.3 64.0 302.6 63.9 302.9 63.8 303.2 63.7 303.4 63.6 303.7 63.5 304.0 63.4 304.3 63.3 304.6 63.3 304.9 63.2 305.2 63.1 305.4 63.1 305.7 63.0 306.0 63.0 306.3 62.9 306.6 62.9 306.9 62.9 307.2 62.8 307.5 62.8 307.7 62.8 308.0 62.7 308.3 62.7 308.6 62.7 308.9 62.6 309.2 62.6 309.5 62.6 309.7 62.6 310.0 62.5 310.3 62.5 310.6 62.5 310.9 62.5 311.2 62.5 311.5 62.5 311.8 62.4 312.0 62.4 312.3 62.4 312.6 62.4 312.9 62.4 313.2 62.4 313.5 62.4 313.8 62.4 314.0 62.3 314.3 62.3 314.6 62.3 314.9 62.3 315.2 62.3 315.5 62.3 315.8 62.3 316.0 62.3 316.3 62.3 316.6 62.3 316.9 62.2 317.2 62.2 317.5 62.2 317.8 62.2 318.1 62.2 318.3 62.2 318.6 62.2 318.9 62.2 319.2 62.2 319.5 62.2 319.8 62.2 320.1 62.2 320.3 62.3 320.6 62.3 320.9 62.3 321.2 62.3 321.5 62.3 321.8 62.3 322.1 62.3 322.4 62.3 322.6 62.4 322.9 62.4 323.2 62.4 323.5 62.4 323.8 62.4 324.1 62.4 324.4 62.5 324.6 62.5 324.9 62.5 325.2 62.5 325.5 62.5 325.8 62.5 326.1 62.5 326.4 62.6 326.7 62.6 326.9 62.6 327.2 62.6 327.5 62.6 327.8 62.6 328.1 62.6 328.4 62.6 328.7 62.6 328.9 62.6 329.2 62.6 329.5 62.6 329.8 62.6 330.1 62.6 330.4 62.6 330.7 62.6 331.0 62.6 331.2 62.6 331.5 62.6 331.8 62.6 332.1 62.6 332.4 62.5 332.7 62.5 333.0 62.5 333.2 62.5 333.5 62.5 333.8 62.5 334.1 62.5 334.4 62.4 334.7 62.4 335.0 62.4 335.3 62.4 335.5 62.4 335.8 62.4 336.1 62.3 336.4 62.3 336.7 62.3 337.0 62.3 337.3 62.3 337.5 62.3 337.8 62.3 338.1 62.3 338.4 62.2 338.7 62.2 339.0 62.2 339.3 62.2 339.6 62.2 339.8 62.2 340.1 62.2 340.4 62.2 340.7 62.2 341.0 62.2 341.3 62.2 341.6 62.2 341.8 62.2 342.1 62.2 342.4 62.2 342.7 62.2 343.0 62.2 343.3 62.2 343.6 62.2 343.8 62.2 344.1 62.2 344.4 62.2 344.7 62.2 345.0 62.2 345.3 62.2 345.6 62.2 345.9 62.2 346.1 62.2 346.4 62.2 346.7 62.3 347.0 62.3 347.3 62.3 347.6 62.3 347.9 62.3 348.1 62.3 348.4 62.3 348.7 62.3 349.0 62.3 349.3 62.3 349.6 62.3 349.9 62.3 350.2 62.3 350.4 62.3 350.7 62.3 351.0 62.3 351.3 62.3 351.6 62.3 351.9 62.4 352.2 62.4 352.4 62.4 352.7 62.4 353.0 62.4 353.3 62.4 353.6 62.4 353.9 62.4 354.2 62.4 354.5 62.4 354.7 62.5 355.0 62.5 355.3 62.5 355.6 62.5" stroke="#F08018" stroke-width="1.3"/>
<path d="M197.4 62.5L197.7 62.5 198.0 62.5 198.3 62.5 198.5 62.5 198.8 62.5 199.1 62.5 199.4 62.5 199.7 62.5 200.0 62.5 200.3 62.5 200.6 62.5 200.8 62.5 201.1 62.5 201.4 62.5 201.7 62.5 202.0 62.5 202.3 62.5 202.6 62.5 202.8 62.5 203.1 62.5 203.4 62.5 203.7 62.5 204.0 62.5 204.3 62.5 204.6 62.5 204.9 62.5 205.1 62.5 205.4 62.5 205.7 62.5 206.0 62.5 206.3 62.5 206.6 62.5 206.9 62.5 207.1 62.5 207.4 62.5 207.7 62.5 208.0 62.5 208.3 62.5 208.6 62.5 208.9 62.5 209.2 62.5 209.4 62.5 209.7 62.5 210.0 62.5 210.3 62.5 210.6 62.5 210.9 62.5 211.2 62.5 211.4 62.5 211.7 62.5 212.0 62.5 212.3 62.5 212.6 62.5 212.9 62.5 213.2 62.5 213.4 62.5 213.7 62.5 214.0 62.5 214.3 62.5 214.6 62.5 214.9 62.5 215.2 62.5 215.5 62.5 215.7 62.5 216.0 62.5 216.3 62.5 216.6 62.5 216.9 62.5 217.2 62.5 217.5 62.5 217.7 62.5 218.0 62.5 218.3 62.5 218.6 62.5 218.9 62.5 219.2 62.5 219.5 62.5 219.8 62.5 220.0 62.5 220.3 62.5 220.6 62.5 220.9 62.5 221.2 62.5 221.5 62.5 221.8 62.5 222.0 62.5 222.3 62.5 222.6 62.5 222.9 62.5 223.2 62.5 223.5 62.5 223.8 62.5 224.1 63.6 224.3 66.1 224.6 69.0 224.9 71.4 225.2 73.7 225.5 76.0 225.8 78.3 226.1 80.5 226.3 82.5 226.6 84.3 226.9 85.7 227.2 86.9 227.5 88.0 227.8 89.1 228.1 90.1 228.4 91.0 228.6 91.8 228.9 92.4 229.2 92.7 229.5 92.8 229.8 92.8 230.1 92.8 230.4 92.7 230.6 92.6 230.9 92.4 231.2 92.2 231.5 92.0 231.8 91.8 232.1 91.5 232.4 91.2 232.7 90.9 232.9 90.6 233.2 90.3 233.5 90.0 233.8 89.6 234.1 89.2 234.4 88.9 234.7 88.5 234.9 88.0 235.2 87.3 235.5 86.5 235.8 85.7 236.1 84.7 236.4 83.8 236.7 82.8 237.0 81.8 237.2 80.9 237.5 80.1 237.8 79.3 238.1 78.7 238.4 78.2 238.7 77.7 239.0 77.4 239.2 77.0 239.5 76.7 239.8 76.4 240.1 76.1 240.4 75.9 240.7 75.6 241.0 75.3 241.2 75.0 241.5 74.7 241.8 74.4 242.1 74.1 242.4 73.7 242.7 73.3 243.0 72.7 243.3 72.1 243.5 71.4 243.8 70.6 244.1 69.8 244.4 69.1 244.7 68.3 245.0 67.6 245.3 67.0 245.5 66.4 245.8 66.0 246.1 65.8 246.4 65.6 246.7 65.7 247.0 65.7 247.3 65.9 247.6 66.0 247.8 66.2 248.1 66.4 248.4 66.7 248.7 66.9 249.0 67.1 249.3 67.3 249.6 67.6 249.8 67.7 250.1 67.9 250.4 68.0 250.7 68.1 251.0 68.1 251.3 68.1 251.6 68.0 251.9 67.9 252.1 67.8 252.4 67.6 252.7 67.4 253.0 67.2 253.3 67.0 253.6 66.7 253.9 66.5 254.1 66.3 254.4 66.0 254.7 65.8 255.0 65.6 255.3 65.4 255.6 65.2 255.9 65.0 256.2 64.9 256.4 64.7 256.7 64.6 257.0 64.5 257.3 64.4 257.6 64.3 257.9 64.1 258.2 64.0 258.4 63.9 258.7 63.8 259.0 63.7 259.3 63.6 259.6 63.5 259.9 63.3 260.2 63.2 260.5 63.0 260.7 62.9 261.0 62.7 261.3 62.4 261.6 62.1 261.9 61.8 262.2 61.5 262.5 61.1 262.7 60.8 263.0 60.4 263.3 60.1 263.6 59.7 263.9 59.4 264.2 59.1 264.5 58.9 264.7 58.7 265.0 58.6 265.3 58.5 265.6 58.5 265.9 58.6 266.2 58.6 266.5 58.6 266.8 58.7 267.0 58.7 267.3 58.8 267.6 58.9 267.9 58.9 268.2 59.0 268.5 59.0 268.8 59.0 269.0 59.1 269.3 59.1 269.6 59.1 269.9 59.0 270.2 58.8 270.5 58.6 270.8 58.4 271.1 58.1 271.3 57.8 271.6 57.4 271.9 57.1 272.2 56.8 272.5 56.5 272.8 56.2 273.1 56.0 273.3 55.8 273.6 55.6 273.9 55.5 274.2 55.5 274.5 55.7 274.8 56.0 275.1 56.4 275.4 56.9 275.6 57.5 275.9 58.2 276.2 58.8 276.5 59.4 276.8 60.0 277.1 60.4 277.4 60.8 277.6 61.0 277.9 61.0 278.2 61.0 278.5 60.9 278.8 60.8 279.1 60.7 279.4 60.6 279.7 60.5 279.9 60.4 280.2 60.4 280.5 60.3 280.8 60.2 281.1 60.2 281.4 60.2 281.7 60.2 281.9 60.3 282.2 60.4 282.5 60.6 282.8 60.8 283.1 61.0 283.4 61.2 283.7 61.4 284.0 61.7 284.2 61.9 284.5 62.1 284.8 62.4 285.1 62.6 285.4 62.8 285.7 63.0 286.0 63.2 286.2 63.3 286.5 63.4 286.8 63.4 287.1 63.5 287.4 63.4 287.7 63.4 288.0 63.4 288.3 63.4 288.5 63.3 288.8 63.3 289.1 63.2 289.4 63.1 289.7 63.1 290.0 63.0 290.3 62.9 290.5 62.8 290.8 62.7 291.1 62.7 291.4 62.6 291.7 62.5 292.0 62.4 292.3 62.4 292.5 62.3 292.8 62.2 293.1 62.2 293.4 62.1 293.7 62.0 294.0 62.0 294.3 61.9 294.6 61.8 294.8 61.8 295.1 61.7 295.4 61.6 295.7 61.6 296.0 61.5 296.3 61.4 296.6 61.4 296.8 61.3 297.1 61.3 297.4 61.2 297.7 61.2 298.0 61.1 298.3 61.1 298.6 61.1 298.9 61.0 299.1 61.0 299.4 61.0 299.7 61.0 300.0 61.0 300.3 61.1 300.6 61.1 300.9 61.2 301.1 61.3 301.4 61.4 301.7 61.6 302.0 61.7 302.3 61.8 302.6 61.9 302.9 62.1 303.2 62.2 303.4 62.2 303.7 62.3 304.0 62.4 304.3 62.4 304.6 62.4 304.9 62.4 305.2 62.4 305.4 62.4 305.7 62.4 306.0 62.4 306.3 62.4 306.6 62.4 306.9 62.5 307.2 62.5 307.5 62.5 307.7 62.5 308.0 62.5 308.3 62.5 308.6 62.5 308.9 62.5 309.2 62.5 309.5 62.5 309.7 62.5 310.0 62.5 310.3 62.5 310.6 62.5 310.9 62.5 311.2 62.5 311.5 62.5 311.8 62.5 312.0 62.5 312.3 62.5 312.6 62.5 312.9 62.5 313.2 62.4 313.5 62.4 313.8 62.4 314.0 62.4 314.3 62.4 314.6 62.4 314.9 62.4 315.2 62.3 315.5 62.3 315.8 62.3 316.0 62.3 316.3 62.3 316.6 62.3 316.9 62.3 317.2 62.3 317.5 62.2 317.8 62.2 318.1 62.2 318.3 62.2 318.6 62.2 318.9 62.2 319.2 62.2 319.5 62.2 319.8 62.2 320.1 62.2 320.3 62.3 320.6 62.3 320.9 62.3 321.2 62.3 321.5 62.3 321.8 62.3 322.1 62.3 322.4 62.3 322.6 62.4 322.9 62.4 323.2 62.4 323.5 62.4 323.8 62.4 324.1 62.4 324.4 62.5 324.6 62.5 324.9 62.5 325.2 62.5 325.5 62.5 325.8 62.5 326.1 62.5 326.4 62.6 326.7 62.6 326.9 62.6 327.2 62.6 327.5 62.6 327.8 62.6 328.1 62.6 328.4 62.6 328.7 62.6 328.9 62.6 329.2 62.6 329.5 62.6 329.8 62.6 330.1 62.6 330.4 62.6 330.7 62.6 331.0 62.6 331.2 62.6 331.5 62.6 331.8 62.6 332.1 62.6 332.4 62.5 332.7 62.5 333.0 62.5 333.2 62.5 333.5 62.5 333.8 62.5 334.1 62.5 334.4 62.4 334.7 62.4 335.0 62.4 335.3 62.4 335.5 62.4 335.8 62.4 336.1 62.3 336.4 62.3 336.7 62.3 337.0 62.3 337.3 62.3 337.5 62.3 337.8 62.3 338.1 62.3 338.4 62.2 338.7 62.2 339.0 62.2 339.3 62.2 339.6 62.2 339.8 62.2 340.1 62.2 340.4 62.2 340.7 62.2 341.0 62.2 341.3 62.2 341.6 62.2 341.8 62.2 342.1 62.2 342.4 62.2 342.7 62.2 343.0 62.2 343.3 62.2 343.6 62.2 343.8 62.2 344.1 62.2 344.4 62.2 344.7 62.2 345.0 62.2 345.3 62.2 345.6 62.2 345.9 62.2 346.1 62.2 346.4 62.2 346.7 62.3 347.0 62.3 347.3 62.3 347.6 62.3 347.9 62.3 348.1 62.3 348.4 62.3 348.7 62.3 349.0 62.3 349.3 62.3 349.6 62.3 349.9 62.3 350.2 62.3 350.4 62.3 350.7 62.3 351.0 62.3 351.3 62.3 351.6 62.3 351.9 62.4 352.2 62.4 352.4 62.4 352.7 62.4 353.0 62.4 353.3 62.4 353.6 62.4 353.9 62.4 354.2 62.4 354.5 62.4 354.7 62.5 355.0 62.5 355.3 62.5 355.6 62.5" stroke="#2E75B6" stroke-width="1.5"/>
</g>
<rect x="197.40" y="21.50" width="158.20" height="82.00" fill="none" stroke="#3C3C3C" stroke-width="0.9"/>
<path d="M197.40 103.50h1.6M197.40 89.83h1.6M197.40 76.17h1.6M197.40 62.50h1.6M197.40 48.83h1.6M197.40 35.17h1.6M197.40 21.50h1.6M197.40 103.50v-1.6M223.77 103.50v-1.6M250.13 103.50v-1.6M276.50 103.50v-1.6M302.87 103.50v-1.6M329.23 103.50v-1.6M355.60 103.50v-1.6" stroke="#3C3C3C" stroke-width="0.7" fill="none"/>
<g font-family="'Liberation Serif','Times New Roman',serif" font-size="6.6" fill="#222" stroke="#222" stroke-width="0.2">
<text x="196.10" y="105.70" text-anchor="end">-30</text>
<text x="196.10" y="92.03" text-anchor="end">-20</text>
<text x="196.10" y="78.37" text-anchor="end">-10</text>
<text x="196.10" y="64.70" text-anchor="end">0</text>
<text x="196.10" y="51.03" text-anchor="end">10</text>
<text x="196.10" y="37.37" text-anchor="end">20</text>
<text x="196.10" y="23.70" text-anchor="end">30</text>
<text x="197.40" y="110.10" text-anchor="middle">0.19</text>
<text x="223.77" y="110.10" text-anchor="middle">0.20</text>
<text x="250.13" y="110.10" text-anchor="middle">0.21</text>
<text x="276.50" y="110.10" text-anchor="middle">0.22</text>
<text x="302.87" y="110.10" text-anchor="middle">0.23</text>
<text x="329.23" y="110.10" text-anchor="middle">0.24</text>
<text x="355.60" y="110.10" text-anchor="middle">0.25</text>
</g>
<clipPath id="cpb1"><rect x="198.20" y="116.50" width="157.40" height="82.00"/></clipPath>
<g clip-path="url(#cpb1)" fill="none" stroke-linejoin="round">
<path d="M224.9 180.9L225.2 180.9 225.4 180.5 225.7 179.4 226.0 177.8 226.3 175.7 226.6 173.3 226.9 170.7 227.2 168.0 227.4 165.2 227.7 162.6 228.0 160.1 228.3 157.9 228.6 156.0 228.9 154.0 229.2 151.8 229.5 149.6 229.7 147.4 230.0 145.1 230.3 142.8 230.6 140.5 230.9 138.3 231.2 136.1 231.5 134.0 231.7 132.1 232.0 130.2 232.3 128.5 232.6 127.0 232.9 125.6 233.2 124.5 233.5 123.6 233.8 123.0 234.0 122.7 234.3 122.6 234.6 122.6 234.9 122.8 235.2 122.9 235.5 123.1 235.8 123.4 236.0 123.7 236.3 124.1 236.6 124.5 236.9 124.9 237.2 125.3 237.5 125.8 237.8 126.3 238.1 126.8 238.3 127.3 238.6 127.9 238.9 128.4 239.2 129.0 239.5 129.6 239.8 130.3 240.1 131.2 240.3 132.2 240.6 133.2 240.9 134.3 241.2 135.4 241.5 136.5 241.8 137.5 242.1 138.5 242.4 139.4 242.6 140.2 242.9 140.9 243.2 141.6 243.5 142.3 243.8 142.9 244.1 143.6 244.4 144.2 244.6 144.8 244.9 145.4 245.2 146.0 245.5 146.6 245.8 147.3 246.1 147.9 246.4 148.6 246.7 149.4 246.9 150.2 247.2 151.0 247.5 151.9 247.8 153.0 248.1 154.1 248.4 155.2 248.7 156.4 248.9 157.6 249.2 158.8 249.5 160.0 249.8 161.2 250.1 162.3 250.4 163.5 250.7 164.5 251.0 165.5 251.2 166.3 251.5 167.1 251.8 167.8 252.1 168.4 252.4 169.0 252.7 169.6 253.0 170.1 253.2 170.7 253.5 171.2 253.8 171.7 254.1 172.1 254.4 172.6 254.7 173.1 255.0 173.5 255.3 174.0 255.5 174.5 255.8 175.0 256.1 175.6 256.4 176.1 256.7 176.6 257.0 177.1 257.3 177.6 257.5 178.0 257.8 178.3 258.1 178.6 258.4 178.8 258.7 178.9 259.0 178.9 259.3 178.9 259.6 178.8 259.8 178.7 260.1 178.6 260.4 178.5 260.7 178.4 261.0 178.3 261.3 178.2 261.6 178.2 261.8 178.1 262.1 178.2 262.4 178.5 262.7 178.9 263.0 179.3 263.3 179.7 263.6 179.8 263.9 179.5 264.1 178.9 264.4 178.1 264.7 177.3 265.0 176.4 265.3 175.6 265.6 175.1 265.9 174.8 266.1 174.9 266.4 175.2 266.7 175.6 267.0 176.1 267.3 176.6 267.6 177.2 267.9 177.8 268.2 178.3 268.4 178.7 268.7 178.9 269.0 179.1 269.3 179.0 269.6 178.9 269.9 178.7 270.2 178.5 270.4 178.2 270.7 177.9 271.0 177.6 271.3 177.2 271.6 176.8 271.9 176.3 272.2 175.9 272.5 175.5 272.7 175.0 273.0 174.6 273.3 174.3 273.6 173.9 273.9 173.6 274.2 173.3 274.5 173.1 274.7 172.9 275.0 172.8 275.3 172.7 275.6 172.9 275.9 173.3 276.2 174.0 276.5 174.8 276.8 175.8 277.0 176.7 277.3 177.6 277.6 178.5 277.9 179.1 278.2 179.6 278.5 179.8 278.8 179.7 279.1 179.7 279.3 179.6 279.6 179.5 279.9 179.4 280.2 179.3 280.5 179.1 280.8 179.0 281.1 178.8 281.3 178.7 281.6 178.5 281.9 178.4 282.2 178.3 282.5 178.2 282.8 178.2 283.1 178.1 283.4 178.1 283.6 178.2 283.9 178.4 284.2 178.6 284.5 178.8 284.8 179.1 285.1 179.5 285.4 179.8 285.6 180.1 285.9 180.5 286.2 180.8 286.5 181.0 286.8 181.3 287.1 181.5 287.4 181.6 287.7 181.6 287.9 181.6 288.2 181.5 288.5 181.3 288.8 181.1 289.1 180.8 289.4 180.6 289.7 180.3 289.9 180.1 290.2 179.8 290.5 179.7 290.8 179.6 291.1 179.5 291.4 179.5 291.7 179.6 292.0 179.7 292.2 179.8 292.5 179.9 292.8 180.1 293.1 180.2 293.4 180.4 293.7 180.6 294.0 180.7 294.2 180.9 294.5 181.1 294.8 181.3 295.1 181.5 295.4 181.6 295.7 181.8 296.0 181.9 296.3 182.0 296.5 182.1 296.8 182.2 297.1 182.2 297.4 182.3 297.7 182.3 298.0 182.4 298.3 182.5 298.5 182.5 298.8 182.6 299.1 182.6 299.4 182.7 299.7 182.7 300.0 182.7 300.3 182.8 300.6 182.8 300.8 182.8 301.1 182.8 301.4 182.8 301.7 182.8 302.0 182.7 302.3 182.7 302.6 182.6 302.8 182.5 303.1 182.5 303.4 182.4 303.7 182.3 304.0 182.2 304.3 182.0 304.6 182.0 304.9 181.9 305.1 181.8 305.4 181.7 305.7 181.6 306.0 181.6 306.3 181.5 306.6 181.5 306.9 181.4 307.1 181.4 307.4 181.3 307.7 181.3 308.0 181.3 308.3 181.2 308.6 181.2 308.9 181.1 309.2 181.1 309.4 181.1 309.7 181.0 310.0 181.0 310.3 181.0 310.6 181.0 310.9 180.9 311.2 180.9 311.4 180.9 311.7 180.9 312.0 180.9 312.3 180.8 312.6 180.8 312.9 180.8 313.2 180.8 313.5 180.8 313.7 180.7 314.0 180.7 314.3 180.7 314.6 180.7 314.9 180.7 315.2 180.7 315.5 180.6 315.7 180.6 316.0 180.6 316.3 180.6 316.6 180.6 316.9 180.6 317.2 180.6 317.5 180.5 317.8 180.5 318.0 180.5 318.3 180.5 318.6 180.5 318.9 180.5 319.2 180.5 319.5 180.5 319.8 180.5 320.0 180.5 320.3 180.5 320.6 180.5 320.9 180.5 321.2 180.5 321.5 180.5 321.8 180.5 322.1 180.5 322.3 180.5 322.6 180.5 322.9 180.5 323.2 180.5 323.5 180.5 323.8 180.5 324.1 180.6 324.3 180.6 324.6 180.6 324.9 180.6 325.2 180.7 325.5 180.7 325.8 180.7 326.1 180.7 326.4 180.8 326.6 180.8 326.9 180.8 327.2 180.9 327.5 180.9 327.8 180.9 328.1 180.9 328.4 181.0 328.6 181.0 328.9 181.0 329.2 181.0 329.5 181.1 329.8 181.1 330.1 181.1 330.4 181.1 330.7 181.1 330.9 181.1 331.2 181.2 331.5 181.2 331.8 181.2 332.1 181.2 332.4 181.2 332.7 181.2 333.0 181.2 333.2 181.1 333.5 181.1 333.8 181.1 334.1 181.1 334.4 181.1 334.7 181.1 335.0 181.1 335.2 181.1 335.5 181.0 335.8 181.0 336.1 181.0 336.4 181.0 336.7 181.0 337.0 180.9 337.3 180.9 337.5 180.9 337.8 180.9 338.1 180.9 338.4 180.9 338.7 180.8 339.0 180.8 339.3 180.8 339.5 180.8 339.8 180.8 340.1 180.8 340.4 180.7 340.7 180.7 341.0 180.7 341.3 180.7 341.6 180.7 341.8 180.7 342.1 180.7 342.4 180.7 342.7 180.7 343.0 180.7 343.3 180.7 343.6 180.7 343.8 180.7 344.1 180.7 344.4 180.7 344.7 180.7 345.0 180.7 345.3 180.7 345.6 180.7 345.9 180.7 346.1 180.7 346.4 180.7 346.7 180.7 347.0 180.7 347.3 180.7 347.6 180.7 347.9 180.7 348.1 180.7 348.4 180.7 348.7 180.7 349.0 180.7 349.3 180.7 349.6 180.7 349.9 180.7 350.2 180.7 350.4 180.7 350.7 180.8 351.0 180.8 351.3 180.8 351.6 180.8 351.9 180.8 352.2 180.8 352.4 180.8 352.7 180.8 353.0 180.8 353.3 180.8 353.6 180.8 353.9 180.8 354.2 180.9 354.5 180.9 354.7 180.9 355.0 180.9 355.3 180.9 355.6 180.9" stroke="#F08018" stroke-width="1.3"/>
<path d="M198.2 180.9L198.5 180.9 198.8 180.9 199.1 180.9 199.3 180.9 199.6 180.9 199.9 180.9 200.2 180.9 200.5 180.9 200.8 180.9 201.1 180.9 201.4 180.9 201.6 180.9 201.9 180.9 202.2 180.9 202.5 180.9 202.8 180.9 203.1 180.9 203.4 180.9 203.6 180.9 203.9 180.9 204.2 180.9 204.5 180.9 204.8 180.9 205.1 180.9 205.4 180.9 205.7 180.9 205.9 180.9 206.2 180.9 206.5 180.9 206.8 180.9 207.1 180.9 207.4 180.9 207.7 180.9 207.9 180.9 208.2 180.9 208.5 180.9 208.8 180.9 209.1 180.9 209.4 180.9 209.7 180.9 210.0 180.9 210.2 180.9 210.5 180.9 210.8 180.9 211.1 180.9 211.4 180.9 211.7 180.9 212.0 180.9 212.2 180.9 212.5 180.9 212.8 180.9 213.1 180.9 213.4 180.9 213.7 180.9 214.0 180.9 214.3 180.9 214.5 180.9 214.8 180.9 215.1 180.9 215.4 180.9 215.7 180.9 216.0 180.9 216.3 180.9 216.5 180.9 216.8 180.9 217.1 180.9 217.4 180.9 217.7 180.9 218.0 180.9 218.3 180.9 218.6 180.9 218.8 180.9 219.1 180.9 219.4 180.9 219.7 180.9 220.0 180.9 220.3 180.9 220.6 180.9 220.8 180.9 221.1 180.9 221.4 180.9 221.7 180.9 222.0 180.9 222.3 180.9 222.6 180.9 222.9 180.9 223.1 180.9 223.4 180.9 223.7 180.9 224.0 180.9 224.3 180.9 224.6 180.9 224.9 180.9 225.2 180.9 225.4 180.5 225.7 179.4 226.0 177.8 226.3 175.7 226.6 173.3 226.9 170.7 227.2 168.0 227.4 165.2 227.7 162.6 228.0 160.1 228.3 157.9 228.6 156.0 228.9 154.0 229.2 151.8 229.5 149.6 229.7 147.4 230.0 145.1 230.3 142.8 230.6 140.5 230.9 138.3 231.2 136.1 231.5 134.0 231.7 132.1 232.0 130.2 232.3 128.5 232.6 127.0 232.9 125.6 233.2 124.5 233.5 123.6 233.8 123.0 234.0 122.7 234.3 122.6 234.6 122.6 234.9 122.8 235.2 122.9 235.5 123.1 235.8 123.4 236.0 123.7 236.3 124.1 236.6 124.5 236.9 124.9 237.2 125.3 237.5 125.8 237.8 126.3 238.1 126.8 238.3 127.3 238.6 127.9 238.9 128.4 239.2 129.0 239.5 129.6 239.8 130.3 240.1 131.2 240.3 132.2 240.6 133.2 240.9 134.3 241.2 135.4 241.5 136.5 241.8 137.5 242.1 138.5 242.4 139.4 242.6 140.2 242.9 140.9 243.2 141.6 243.5 142.3 243.8 142.9 244.1 143.6 244.4 144.2 244.6 144.8 244.9 145.4 245.2 146.0 245.5 146.6 245.8 147.3 246.1 147.9 246.4 148.6 246.7 149.4 246.9 150.2 247.2 151.0 247.5 151.9 247.8 153.0 248.1 154.1 248.4 155.2 248.7 156.4 248.9 157.6 249.2 158.8 249.5 160.0 249.8 161.2 250.1 162.3 250.4 163.5 250.7 164.5 251.0 165.5 251.2 166.3 251.5 167.1 251.8 167.8 252.1 168.4 252.4 169.0 252.7 169.6 253.0 170.1 253.2 170.7 253.5 171.2 253.8 171.7 254.1 172.1 254.4 172.6 254.7 173.1 255.0 173.5 255.3 174.0 255.5 174.5 255.8 175.0 256.1 175.6 256.4 176.1 256.7 176.6 257.0 177.1 257.3 177.6 257.5 178.0 257.8 178.3 258.1 178.6 258.4 178.8 258.7 178.9 259.0 178.9 259.3 178.9 259.6 178.8 259.8 178.7 260.1 178.6 260.4 178.5 260.7 178.4 261.0 178.3 261.3 178.2 261.6 178.2 261.8 178.1 262.1 178.2 262.4 178.5 262.7 178.9 263.0 179.3 263.3 179.7 263.6 179.8 263.9 179.5 264.1 178.9 264.4 178.1 264.7 177.3 265.0 176.4 265.3 175.6 265.6 175.1 265.9 174.8 266.1 174.9 266.4 175.0 266.7 175.3 267.0 175.6 267.3 175.9 267.6 176.3 267.9 176.6 268.2 176.9 268.4 177.2 268.7 177.3 269.0 177.4 269.3 177.4 269.6 177.3 269.9 177.1 270.2 176.9 270.4 176.6 270.7 176.3 271.0 175.9 271.3 175.5 271.6 175.1 271.9 174.7 272.2 174.3 272.5 173.8 272.7 173.4 273.0 173.0 273.3 172.6 273.6 172.3 273.9 171.9 274.2 171.6 274.5 171.4 274.7 171.2 275.0 171.1 275.3 171.1 275.6 171.3 275.9 171.8 276.2 172.7 276.5 173.7 276.8 174.8 277.0 176.0 277.3 177.2 277.6 178.2 277.9 179.0 278.2 179.6 278.5 179.8 278.8 179.7 279.1 179.7 279.3 179.6 279.6 179.5 279.9 179.4 280.2 179.3 280.5 179.1 280.8 179.0 281.1 178.8 281.3 178.7 281.6 178.5 281.9 178.4 282.2 178.3 282.5 178.2 282.8 178.2 283.1 178.1 283.4 178.1 283.6 178.2 283.9 178.4 284.2 178.6 284.5 178.8 284.8 179.1 285.1 179.5 285.4 179.8 285.6 180.1 285.9 180.5 286.2 180.8 286.5 181.0 286.8 181.3 287.1 181.5 287.4 181.6 287.7 181.6 287.9 181.6 288.2 181.5 288.5 181.3 288.8 181.1 289.1 180.8 289.4 180.6 289.7 180.3 289.9 180.1 290.2 179.8 290.5 179.7 290.8 179.6 291.1 179.5 291.4 179.5 291.7 179.5 292.0 179.6 292.2 179.6 292.5 179.6 292.8 179.7 293.1 179.7 293.4 179.8 293.7 179.8 294.0 179.9 294.2 180.0 294.5 180.0 294.8 180.1 295.1 180.1 295.4 180.1 295.7 180.2 296.0 180.2 296.3 180.2 296.5 180.2 296.8 180.2 297.1 180.1 297.4 179.9 297.7 179.7 298.0 179.5 298.3 179.2 298.5 178.9 298.8 178.7 299.1 178.5 299.4 178.3 299.7 178.2 300.0 178.1 300.3 178.1 300.6 178.2 300.8 178.4 301.1 178.5 301.4 178.7 301.7 178.9 302.0 179.2 302.3 179.4 302.6 179.7 302.8 179.9 303.1 180.1 303.4 180.3 303.7 180.5 304.0 180.6 304.3 180.7 304.6 180.7 304.9 180.7 305.1 180.7 305.4 180.8 305.7 180.8 306.0 180.8 306.3 180.8 306.6 180.8 306.9 180.8 307.1 180.8 307.4 180.9 307.7 180.9 308.0 180.9 308.3 180.9 308.6 180.9 308.9 180.9 309.2 180.9 309.4 180.9 309.7 180.9 310.0 180.9 310.3 180.9 310.6 180.9 310.9 180.9 311.2 180.9 311.4 180.9 311.7 180.9 312.0 180.9 312.3 180.9 312.6 180.9 312.9 180.9 313.2 180.9 313.5 180.9 313.7 180.8 314.0 180.8 314.3 180.8 314.6 180.8 314.9 180.8 315.2 180.8 315.5 180.7 315.7 180.7 316.0 180.7 316.3 180.7 316.6 180.7 316.9 180.7 317.2 180.6 317.5 180.6 317.8 180.6 318.0 180.6 318.3 180.6 318.6 180.5 318.9 180.5 319.2 180.5 319.5 180.5 319.8 180.5 320.0 180.5 320.3 180.5 320.6 180.5 320.9 180.5 321.2 180.5 321.5 180.5 321.8 180.5 322.1 180.5 322.3 180.5 322.6 180.5 322.9 180.5 323.2 180.5 323.5 180.5 323.8 180.5 324.1 180.6 324.3 180.6 324.6 180.6 324.9 180.6 325.2 180.7 325.5 180.7 325.8 180.7 326.1 180.7 326.4 180.8 326.6 180.8 326.9 180.8 327.2 180.9 327.5 180.9 327.8 180.9 328.1 180.9 328.4 181.0 328.6 181.0 328.9 181.0 329.2 181.0 329.5 181.1 329.8 181.1 330.1 181.1 330.4 181.1 330.7 181.1 330.9 181.1 331.2 181.2 331.5 181.2 331.8 181.2 332.1 181.2 332.4 181.2 332.7 181.2 333.0 181.2 333.2 181.1 333.5 181.1 333.8 181.1 334.1 181.1 334.4 181.1 334.7 181.1 335.0 181.1 335.2 181.1 335.5 181.0 335.8 181.0 336.1 181.0 336.4 181.0 336.7 181.0 337.0 180.9 337.3 180.9 337.5 180.9 337.8 180.9 338.1 180.9 338.4 180.9 338.7 180.8 339.0 180.8 339.3 180.8 339.5 180.8 339.8 180.8 340.1 180.8 340.4 180.7 340.7 180.7 341.0 180.7 341.3 180.7 341.6 180.7 341.8 180.7 342.1 180.7 342.4 180.7 342.7 180.7 343.0 180.7 343.3 180.7 343.6 180.7 343.8 180.7 344.1 180.7 344.4 180.7 344.7 180.7 345.0 180.7 345.3 180.7 345.6 180.7 345.9 180.7 346.1 180.7 346.4 180.7 346.7 180.7 347.0 180.7 347.3 180.7 347.6 180.7 347.9 180.7 348.1 180.7 348.4 180.7 348.7 180.7 349.0 180.7 349.3 180.7 349.6 180.7 349.9 180.7 350.2 180.7 350.4 180.7 350.7 180.8 351.0 180.8 351.3 180.8 351.6 180.8 351.9 180.8 352.2 180.8 352.4 180.8 352.7 180.8 353.0 180.8 353.3 180.8 353.6 180.8 353.9 180.8 354.2 180.9 354.5 180.9 354.7 180.9 355.0 180.9 355.3 180.9 355.6 180.9" stroke="#2E75B6" stroke-width="1.5"/>
</g>
<rect x="198.20" y="116.50" width="157.40" height="82.00" fill="none" stroke="#3C3C3C" stroke-width="0.9"/>
<path d="M198.20 192.64h1.6M198.20 180.93h1.6M198.20 169.21h1.6M198.20 157.50h1.6M198.20 145.79h1.6M198.20 134.07h1.6M198.20 122.36h1.6M198.20 198.50v-1.6M224.43 198.50v-1.6M250.67 198.50v-1.6M276.90 198.50v-1.6M303.13 198.50v-1.6M329.37 198.50v-1.6M355.60 198.50v-1.6" stroke="#3C3C3C" stroke-width="0.7" fill="none"/>
<g font-family="'Liberation Serif','Times New Roman',serif" font-size="6.6" fill="#222" stroke="#222" stroke-width="0.2">
<text x="196.90" y="194.84" text-anchor="end">-5</text>
<text x="196.90" y="183.13" text-anchor="end">0</text>
<text x="196.90" y="171.41" text-anchor="end">5</text>
<text x="196.90" y="159.70" text-anchor="end">10</text>
<text x="196.90" y="147.99" text-anchor="end">15</text>
<text x="196.90" y="136.27" text-anchor="end">20</text>
<text x="196.90" y="124.56" text-anchor="end">25</text>
<text x="198.20" y="205.10" text-anchor="middle">0.19</text>
<text x="224.43" y="205.10" text-anchor="middle">0.20</text>
<text x="250.67" y="205.10" text-anchor="middle">0.21</text>
<text x="276.90" y="205.10" text-anchor="middle">0.22</text>
<text x="303.13" y="205.10" text-anchor="middle">0.23</text>
<text x="329.37" y="205.10" text-anchor="middle">0.24</text>
<text x="355.60" y="205.10" text-anchor="middle">0.25</text>
</g>
<clipPath id="cpb2"><rect x="197.40" y="213.00" width="158.20" height="81.60"/></clipPath>
<g clip-path="url(#cpb2)" fill="none" stroke-linejoin="round">
<path d="M223.8 248.0L224.1 244.5 224.3 241.3 224.6 238.5 224.9 236.3 225.2 234.8 225.5 234.0 225.8 234.2 226.1 235.2 226.3 237.2 226.6 239.9 226.9 243.4 227.2 247.4 227.5 251.8 227.8 256.6 228.1 261.4 228.4 266.2 228.6 270.7 228.9 274.8 229.2 278.4 229.5 281.2 229.8 283.3 230.1 284.5 230.4 284.8 230.6 284.3 230.9 283.0 231.2 281.0 231.5 278.4 231.8 275.1 232.1 271.3 232.4 267.1 232.7 262.6 232.9 257.9 233.2 253.1 233.5 248.3 233.8 243.6 234.1 239.3 234.4 235.3 234.7 231.7 234.9 228.8 235.2 226.4 235.5 224.8 235.8 223.9 236.1 223.8 236.4 224.2 236.7 225.2 237.0 226.7 237.2 228.7 237.5 231.1 237.8 233.7 238.1 236.5 238.4 239.4 238.7 242.3 239.0 245.0 239.2 247.5 239.5 249.6 239.8 251.3 240.1 252.5 240.4 253.2 240.7 253.3 241.0 253.1 241.2 252.7 241.5 252.0 241.8 251.1 242.1 250.0 242.4 248.8 242.7 247.4 243.0 246.0 243.3 244.5 243.5 243.1 243.8 241.7 244.1 240.4 244.4 239.2 244.7 238.2 245.0 237.4 245.3 236.8 245.5 236.4 245.8 236.3 246.1 236.4 246.4 236.7 246.7 237.1 247.0 237.7 247.3 238.5 247.6 239.3 247.8 240.3 248.1 241.3 248.4 242.3 248.7 243.3 249.0 244.3 249.3 245.2 249.6 246.1 249.8 246.8 250.1 247.4 250.4 247.8 250.7 248.1 251.0 248.2 251.3 248.1 251.6 247.9 251.9 247.4 252.1 246.8 252.4 246.1 252.7 245.3 253.0 244.5 253.3 243.6 253.6 242.7 253.9 241.9 254.1 241.1 254.4 240.5 254.7 240.0 255.0 239.6 255.3 239.5 255.6 239.5 255.9 239.7 256.2 240.1 256.4 240.7 256.7 241.5 257.0 242.4 257.3 243.4 257.6 244.5 257.9 245.7 258.2 246.9 258.4 248.1 258.7 249.3 259.0 250.4 259.3 251.4 259.6 252.3 259.9 253.1 260.2 253.7 260.5 254.1 260.7 254.3 261.0 254.3 261.3 253.9 261.6 253.2 261.9 252.2 262.2 250.9 262.5 249.4 262.7 247.7 263.0 245.9 263.3 244.2 263.6 242.5 263.9 240.9 264.2 239.6 264.5 238.5 264.7 237.8 265.0 237.3 265.3 237.3 265.6 237.6 265.9 238.1 266.2 239.0 266.5 240.1 266.8 241.4 267.0 242.9 267.3 244.5 267.6 246.3 267.9 248.0 268.2 249.7 268.5 251.4 268.8 253.0 269.0 254.3 269.3 255.5 269.6 256.4 269.9 257.1 270.2 257.4 270.5 257.5 270.8 257.2 271.1 256.5 271.3 255.6 271.6 254.4 271.9 253.0 272.2 251.3 272.5 249.6 272.8 247.8 273.1 246.0 273.3 244.2 273.6 242.7 273.9 241.3 274.2 240.1 274.5 239.2 274.8 238.7 275.1 238.5 275.4 238.5 275.6 238.8 275.9 239.2 276.2 239.7 276.5 240.4 276.8 241.2 277.1 242.2 277.4 243.2 277.6 244.2 277.9 245.3 278.2 246.3 278.5 247.4 278.8 248.3 279.1 249.2 279.4 250.0 279.7 250.6 279.9 251.1 280.2 251.4 280.5 251.5 280.8 251.5 281.1 251.2 281.4 250.7 281.7 250.0 281.9 249.2 282.2 248.2 282.5 247.2 282.8 246.1 283.1 245.2 283.4 244.3 283.7 243.6 284.0 243.2 284.2 242.9 284.5 242.8 284.8 242.9 285.1 243.1 285.4 243.3 285.7 243.6 286.0 244.0 286.2 244.4 286.5 244.9 286.8 245.5 287.1 246.0 287.4 246.6 287.7 247.2 288.0 247.8 288.3 248.4 288.5 249.0 288.8 249.5 289.1 250.0 289.4 250.5 289.7 250.9 290.0 251.2 290.3 251.4 290.5 251.6 290.8 251.7 291.1 251.7 291.4 251.6 291.7 251.4 292.0 251.1 292.3 250.8 292.5 250.3 292.8 249.9 293.1 249.4 293.4 248.8 293.7 248.3 294.0 247.9 294.3 247.4 294.6 247.1 294.8 246.8 295.1 246.7 295.4 246.6 295.7 246.6 296.0 246.7 296.3 246.9 296.6 247.1 296.8 247.4 297.1 247.8 297.4 248.2 297.7 248.6 298.0 249.0 298.3 249.4 298.6 249.8 298.9 250.1 299.1 250.5 299.4 250.7 299.7 250.9 300.0 251.0 300.3 251.0 300.6 251.0 300.9 250.8 301.1 250.6 301.4 250.4 301.7 250.1 302.0 249.8 302.3 249.4 302.6 249.1 302.9 248.7 303.2 248.3 303.4 248.0 303.7 247.7 304.0 247.4 304.3 247.2 304.6 247.1 304.9 247.0 305.2 247.0 305.4 247.1 305.7 247.2 306.0 247.3 306.3 247.4 306.6 247.6 306.9 247.8 307.2 248.0 307.5 248.2 307.7 248.4 308.0 248.6 308.3 248.7 308.6 248.9 308.9 249.0 309.2 249.1 309.5 249.1 309.7 249.2 310.0 249.1 310.3 249.1 310.6 249.0 310.9 248.8 311.2 248.7 311.5 248.5 311.8 248.3 312.0 248.1 312.3 247.9 312.6 247.7 312.9 247.5 313.2 247.3 313.5 247.1 313.8 247.0 314.0 246.9 314.3 246.9 314.6 246.9 314.9 246.9 315.2 247.0 315.5 247.1 315.8 247.3 316.0 247.4 316.3 247.6 316.6 247.8 316.9 248.0 317.2 248.2 317.5 248.3 317.8 248.5 318.1 248.6 318.3 248.8 318.6 248.9 318.9 248.9 319.2 248.9 319.5 248.9 319.8 248.9 320.1 248.8 320.3 248.7 320.6 248.6 320.9 248.4 321.2 248.2 321.5 248.1 321.8 247.9 322.1 247.7 322.4 247.6 322.6 247.4 322.9 247.3 323.2 247.2 323.5 247.1 323.8 247.1 324.1 247.1 324.4 247.1 324.6 247.2 324.9 247.3 325.2 247.4 325.5 247.5 325.8 247.6 326.1 247.8 326.4 248.0 326.7 248.1 326.9 248.3 327.2 248.4 327.5 248.5 327.8 248.6 328.1 248.7 328.4 248.8 328.7 248.8 328.9 248.8 329.2 248.7 329.5 248.7 329.8 248.6 330.1 248.5 330.4 248.3 330.7 248.2 331.0 248.1 331.2 247.9 331.5 247.8 331.8 247.6 332.1 247.5 332.4 247.4 332.7 247.3 333.0 247.2 333.2 247.2 333.5 247.2 333.8 247.2 334.1 247.3 334.4 247.3 334.7 247.4 335.0 247.5 335.3 247.7 335.5 247.8 335.8 248.0 336.1 248.1 336.4 248.2 336.7 248.4 337.0 248.5 337.3 248.6 337.5 248.7 337.8 248.7 338.1 248.7 338.4 248.7 338.7 248.7 339.0 248.6 339.3 248.5 339.6 248.4 339.8 248.3 340.1 248.2 340.4 248.1 340.7 247.9 341.0 247.8 341.3 247.7 341.6 247.5 341.8 247.4 342.1 247.3 342.4 247.3 342.7 247.2 343.0 247.2 343.3 247.3 343.6 247.3 343.8 247.4 344.1 247.5 344.4 247.6 344.7 247.7 345.0 247.8 345.3 247.9 345.6 248.1 345.9 248.2 346.1 248.3 346.4 248.4 346.7 248.5 347.0 248.6 347.3 248.7 347.6 248.7 347.9 248.7 348.1 248.7 348.4 248.6 348.7 248.5 349.0 248.4 349.3 248.3 349.6 248.2 349.9 248.1 350.2 247.9 350.4 247.8 350.7 247.7 351.0 247.6 351.3 247.5 351.6 247.4 351.9 247.3 352.2 247.3 352.4 247.3 352.7 247.3 353.0 247.3 353.3 247.4 353.6 247.5 353.9 247.6 354.2 247.7 354.5 247.8 354.7 247.9 355.0 248.1 355.3 248.2 355.6 248.3" stroke="#F08018" stroke-width="1.3"/>
<path d="M197.4 248.0L197.7 248.0 198.0 248.0 198.3 248.0 198.5 248.0 198.8 248.0 199.1 248.0 199.4 248.0 199.7 248.0 200.0 248.0 200.3 248.0 200.6 248.0 200.8 248.0 201.1 248.0 201.4 248.0 201.7 248.0 202.0 248.0 202.3 248.0 202.6 248.0 202.8 248.0 203.1 248.0 203.4 248.0 203.7 248.0 204.0 248.0 204.3 248.0 204.6 248.0 204.9 248.0 205.1 248.0 205.4 248.0 205.7 248.0 206.0 248.0 206.3 248.0 206.6 248.0 206.9 248.0 207.1 248.0 207.4 248.0 207.7 248.0 208.0 248.0 208.3 248.0 208.6 248.0 208.9 248.0 209.2 248.0 209.4 248.0 209.7 248.0 210.0 248.0 210.3 248.0 210.6 248.0 210.9 248.0 211.2 248.0 211.4 248.0 211.7 248.0 212.0 248.0 212.3 248.0 212.6 248.0 212.9 248.0 213.2 248.0 213.4 248.0 213.7 248.0 214.0 248.0 214.3 248.0 214.6 248.0 214.9 248.0 215.2 248.0 215.5 248.0 215.7 248.0 216.0 248.0 216.3 248.0 216.6 248.0 216.9 248.0 217.2 248.0 217.5 248.0 217.7 248.0 218.0 248.0 218.3 248.0 218.6 248.0 218.9 248.0 219.2 248.0 219.5 248.0 219.8 248.0 220.0 248.0 220.3 248.0 220.6 248.0 220.9 248.0 221.2 248.0 221.5 248.0 221.8 248.0 222.0 248.0 222.3 248.0 222.6 248.0 222.9 248.0 223.2 248.0 223.5 248.0 223.8 248.0 224.1 244.5 224.3 241.3 224.6 238.5 224.9 236.3 225.2 234.8 225.5 234.0 225.8 234.2 226.1 235.2 226.3 237.2 226.6 239.9 226.9 243.4 227.2 247.4 227.5 251.8 227.8 256.6 228.1 261.4 228.4 266.2 228.6 270.7 228.9 274.8 229.2 278.4 229.5 281.2 229.8 283.3 230.1 284.5 230.4 284.8 230.6 284.3 230.9 283.0 231.2 281.0 231.5 278.4 231.8 275.1 232.1 271.3 232.4 267.1 232.7 262.6 232.9 257.9 233.2 253.1 233.5 248.3 233.8 243.6 234.1 239.3 234.4 235.3 234.7 231.7 234.9 228.8 235.2 226.4 235.5 224.8 235.8 223.9 236.1 223.8 236.4 224.2 236.7 225.2 237.0 226.7 237.2 228.7 237.5 231.1 237.8 233.7 238.1 236.5 238.4 239.4 238.7 242.3 239.0 245.0 239.2 247.5 239.5 249.6 239.8 251.3 240.1 252.5 240.4 253.2 240.7 253.3 241.0 253.1 241.2 252.7 241.5 252.0 241.8 251.1 242.1 250.0 242.4 248.8 242.7 247.4 243.0 246.0 243.3 244.5 243.5 243.1 243.8 241.7 244.1 240.4 244.4 239.2 244.7 238.2 245.0 237.4 245.3 236.8 245.5 236.4 245.8 236.3 246.1 236.4 246.4 236.7 246.7 237.1 247.0 237.7 247.3 238.5 247.6 239.3 247.8 240.3 248.1 241.3 248.4 242.3 248.7 243.3 249.0 244.3 249.3 245.2 249.6 246.1 249.8 246.8 250.1 247.4 250.4 247.8 250.7 248.1 251.0 248.2 251.3 248.1 251.6 247.9 251.9 247.5 252.1 246.9 252.4 246.3 252.7 245.5 253.0 244.7 253.3 243.7 253.6 242.8 253.9 241.9 254.1 241.0 254.4 240.2 254.7 239.5 255.0 238.9 255.3 238.4 255.6 238.1 255.9 238.0 256.2 238.0 256.4 238.2 256.7 238.7 257.0 239.4 257.3 240.3 257.6 241.4 257.9 242.6 258.2 243.9 258.4 245.3 258.7 246.7 259.0 248.1 259.3 249.5 259.6 250.8 259.9 252.0 260.2 253.1 260.5 254.0 260.7 254.7 261.0 255.1 261.3 255.4 261.6 255.4 261.9 255.0 262.2 254.2 262.5 253.0 262.7 251.4 263.0 249.7 263.3 247.7 263.6 245.6 263.9 243.5 264.2 241.6 264.5 239.7 264.7 238.1 265.0 236.9 265.3 236.0 265.6 235.5 265.9 235.4 266.2 235.7 266.5 236.4 266.8 237.4 267.0 238.6 267.3 240.2 267.6 241.9 267.9 243.9 268.2 245.9 268.5 248.0 268.8 250.0 269.0 252.0 269.3 253.8 269.6 255.4 269.9 256.8 270.2 257.9 270.5 258.7 270.8 259.1 271.1 259.1 271.3 258.8 271.6 258.1 271.9 257.0 272.2 255.6 272.5 253.9 272.8 252.0 273.1 249.9 273.3 247.8 273.6 245.7 273.9 243.6 274.2 241.8 274.5 240.1 274.8 238.7 275.1 237.7 275.4 237.0 275.6 236.8 275.9 236.9 276.2 237.1 276.5 237.6 276.8 238.3 277.1 239.1 277.4 240.0 277.6 241.1 277.9 242.3 278.2 243.5 278.5 244.8 278.8 246.0 279.1 247.2 279.4 248.4 279.7 249.4 279.9 250.3 280.2 251.0 280.5 251.6 280.8 252.0 281.1 252.2 281.4 252.1 281.7 251.9 281.9 251.5 282.2 250.9 282.5 250.2 282.8 249.4 283.1 248.5 283.4 247.6 283.7 246.8 284.0 246.0 284.2 245.3 284.5 244.8 284.8 244.4 285.1 244.3 285.4 244.3 285.7 244.3 286.0 244.5 286.2 244.7 286.5 245.0 286.8 245.3 287.1 245.7 287.4 246.1 287.7 246.6 288.0 247.0 288.3 247.4 288.5 247.8 288.8 248.2 289.1 248.6 289.4 248.9 289.7 249.1 290.0 249.3 290.3 249.3 290.5 249.4 290.8 249.3 291.1 249.2 291.4 249.1 291.7 248.9 292.0 248.7 292.3 248.4 292.5 248.1 292.8 247.8 293.1 247.5 293.4 247.2 293.7 246.9 294.0 246.6 294.3 246.4 294.6 246.2 294.8 246.0 295.1 245.9 295.4 245.9 295.7 245.9 296.0 246.0 296.3 246.1 296.6 246.4 296.8 246.6 297.1 246.9 297.4 247.3 297.7 247.7 298.0 248.0 298.3 248.4 298.6 248.8 298.9 249.1 299.1 249.3 299.4 249.6 299.7 249.7 300.0 249.8 300.3 249.8 300.6 249.8 300.9 249.7 301.1 249.5 301.4 249.3 301.7 249.1 302.0 248.8 302.3 248.4 302.6 248.1 302.9 247.8 303.2 247.5 303.4 247.2 303.7 246.9 304.0 246.7 304.3 246.5 304.6 246.4 304.9 246.3 305.2 246.3 305.4 246.4 305.7 246.5 306.0 246.7 306.3 246.9 306.6 247.1 306.9 247.3 307.2 247.6 307.5 247.8 307.7 248.1 308.0 248.4 308.3 248.6 308.6 248.8 308.9 249.0 309.2 249.1 309.5 249.1 309.7 249.2 310.0 249.1 310.3 249.1 310.6 249.0 310.9 248.8 311.2 248.7 311.5 248.5 311.8 248.3 312.0 248.1 312.3 247.9 312.6 247.7 312.9 247.5 313.2 247.3 313.5 247.1 313.8 247.0 314.0 246.9 314.3 246.9 314.6 246.9 314.9 246.9 315.2 247.0 315.5 247.1 315.8 247.3 316.0 247.4 316.3 247.6 316.6 247.8 316.9 248.0 317.2 248.2 317.5 248.3 317.8 248.5 318.1 248.6 318.3 248.8 318.6 248.9 318.9 248.9 319.2 248.9 319.5 248.9 319.8 248.9 320.1 248.8 320.3 248.7 320.6 248.6 320.9 248.4 321.2 248.2 321.5 248.1 321.8 247.9 322.1 247.7 322.4 247.6 322.6 247.4 322.9 247.3 323.2 247.2 323.5 247.1 323.8 247.1 324.1 247.1 324.4 247.1 324.6 247.2 324.9 247.3 325.2 247.4 325.5 247.5 325.8 247.6 326.1 247.8 326.4 248.0 326.7 248.1 326.9 248.3 327.2 248.4 327.5 248.5 327.8 248.6 328.1 248.7 328.4 248.8 328.7 248.8 328.9 248.8 329.2 248.7 329.5 248.7 329.8 248.6 330.1 248.5 330.4 248.3 330.7 248.2 331.0 248.1 331.2 247.9 331.5 247.8 331.8 247.6 332.1 247.5 332.4 247.4 332.7 247.3 333.0 247.2 333.2 247.2 333.5 247.2 333.8 247.2 334.1 247.3 334.4 247.3 334.7 247.4 335.0 247.5 335.3 247.7 335.5 247.8 335.8 248.0 336.1 248.1 336.4 248.2 336.7 248.4 337.0 248.5 337.3 248.6 337.5 248.7 337.8 248.7 338.1 248.7 338.4 248.7 338.7 248.7 339.0 248.6 339.3 248.5 339.6 248.4 339.8 248.3 340.1 248.2 340.4 248.1 340.7 247.9 341.0 247.8 341.3 247.7 341.6 247.5 341.8 247.4 342.1 247.3 342.4 247.3 342.7 247.2 343.0 247.2 343.3 247.3 343.6 247.3 343.8 247.4 344.1 247.5 344.4 247.6 344.7 247.7 345.0 247.8 345.3 247.9 345.6 248.1 345.9 248.2 346.1 248.3 346.4 248.4 346.7 248.5 347.0 248.6 347.3 248.7 347.6 248.7 347.9 248.7 348.1 248.7 348.4 248.6 348.7 248.5 349.0 248.4 349.3 248.3 349.6 248.2 349.9 248.1 350.2 247.9 350.4 247.8 350.7 247.7 351.0 247.6 351.3 247.5 351.6 247.4 351.9 247.3 352.2 247.3 352.4 247.3 352.7 247.3 353.0 247.3 353.3 247.4 353.6 247.5 353.9 247.6 354.2 247.7 354.5 247.8 354.7 247.9 355.0 248.1 355.3 248.2 355.6 248.3" stroke="#2E75B6" stroke-width="1.5"/>
</g>
<rect x="197.40" y="213.00" width="158.20" height="81.60" fill="none" stroke="#3C3C3C" stroke-width="0.9"/>
<path d="M197.40 294.60h1.6M197.40 282.94h1.6M197.40 271.29h1.6M197.40 259.63h1.6M197.40 247.97h1.6M197.40 236.31h1.6M197.40 224.66h1.6M197.40 213.00h1.6M197.40 294.60v-1.6M223.77 294.60v-1.6M250.13 294.60v-1.6M276.50 294.60v-1.6M302.87 294.60v-1.6M329.23 294.60v-1.6M355.60 294.60v-1.6" stroke="#3C3C3C" stroke-width="0.7" fill="none"/>
<g font-family="'Liberation Serif','Times New Roman',serif" font-size="6.6" fill="#222" stroke="#222" stroke-width="0.2">
<text x="196.10" y="296.80" text-anchor="end">-20</text>
<text x="196.10" y="285.14" text-anchor="end">-15</text>
<text x="196.10" y="273.49" text-anchor="end">-10</text>
<text x="196.10" y="261.83" text-anchor="end">-5</text>
<text x="196.10" y="250.17" text-anchor="end">0</text>
<text x="196.10" y="238.51" text-anchor="end">5</text>
<text x="196.10" y="226.86" text-anchor="end">10</text>
<text x="196.10" y="215.20" text-anchor="end">15</text>
<text x="197.40" y="301.20" text-anchor="middle">0.19</text>
<text x="223.77" y="301.20" text-anchor="middle">0.20</text>
<text x="250.13" y="301.20" text-anchor="middle">0.21</text>
<text x="276.50" y="301.20" text-anchor="middle">0.22</text>
<text x="302.87" y="301.20" text-anchor="middle">0.23</text>
<text x="329.23" y="301.20" text-anchor="middle">0.24</text>
<text x="355.60" y="301.20" text-anchor="middle">0.25</text>
</g>
<clipPath id="cpb3"><rect x="197.40" y="306.60" width="158.20" height="81.80"/></clipPath>
<g clip-path="url(#cpb3)" fill="none" stroke-linejoin="round">
<path d="M223.8 351.2L224.1 343.8 224.3 336.7 224.6 330.2 224.9 324.6 225.2 320.0 225.5 316.6 225.8 314.7 226.1 314.2 226.3 315.2 226.6 317.6 226.9 321.2 227.2 326.0 227.5 331.5 227.8 337.7 228.1 344.1 228.4 350.4 228.6 356.3 228.9 361.6 229.2 365.8 229.5 368.9 229.8 370.6 230.1 371.0 230.4 370.0 230.6 368.0 230.9 365.0 231.2 361.1 231.5 356.6 231.8 351.8 232.1 346.7 232.4 341.8 232.7 337.3 232.9 333.4 233.2 330.4 233.5 328.3 233.8 327.3 234.1 327.6 234.4 329.1 234.7 331.8 234.9 335.6 235.2 340.2 235.5 345.5 235.8 351.2 236.1 357.0 236.4 362.6 236.7 367.7 237.0 372.1 237.2 375.5 237.5 377.8 237.8 378.8 238.1 378.6 238.4 377.4 238.7 375.1 239.0 372.0 239.2 368.2 239.5 363.7 239.8 358.9 240.1 354.0 240.4 349.1 240.7 344.6 241.0 340.5 241.2 337.2 241.5 334.7 241.8 333.2 242.1 332.8 242.4 333.3 242.7 334.8 243.0 337.1 243.3 340.1 243.5 343.8 243.8 347.8 244.1 352.0 244.4 356.2 244.7 360.2 245.0 363.8 245.3 366.8 245.5 369.0 245.8 370.3 246.1 370.7 246.4 370.3 246.7 369.1 247.0 367.3 247.3 364.9 247.6 362.1 247.8 359.0 248.1 355.8 248.4 352.6 248.7 349.6 249.0 347.0 249.3 344.9 249.6 343.5 249.8 342.7 250.1 342.6 250.4 343.0 250.7 343.8 251.0 345.0 251.3 346.4 251.6 348.0 251.9 349.7 252.1 351.5 252.4 353.2 252.7 354.7 253.0 355.9 253.3 356.8 253.6 357.3 253.9 357.5 254.1 357.4 254.4 357.2 254.7 357.0 255.0 356.7 255.3 356.3 255.6 355.8 255.9 355.2 256.2 354.6 256.4 353.9 256.7 353.2 257.0 352.5 257.3 351.7 257.6 350.9 257.9 350.2 258.2 349.4 258.4 348.6 258.7 347.9 259.0 347.2 259.3 346.6 259.6 346.0 259.9 345.5 260.2 345.0 260.5 344.7 260.7 344.4 261.0 344.2 261.3 344.1 261.6 344.1 261.9 344.5 262.2 345.4 262.5 346.8 262.7 348.4 263.0 350.4 263.3 352.5 263.6 354.6 263.9 356.6 264.2 358.5 264.5 360.1 264.7 361.2 265.0 362.0 265.3 362.2 265.6 361.9 265.9 361.0 266.2 359.5 266.5 357.5 266.8 355.1 267.0 352.6 267.3 349.9 267.6 347.3 267.9 344.9 268.2 342.8 268.5 341.2 268.8 340.1 269.0 339.6 269.3 339.8 269.6 340.6 269.9 342.0 270.2 344.0 270.5 346.3 270.8 348.9 271.1 351.7 271.3 354.4 271.6 357.0 271.9 359.3 272.2 361.1 272.5 362.5 272.8 363.2 273.1 363.2 273.3 362.6 273.6 361.4 273.9 359.6 274.2 357.3 274.5 354.8 274.8 352.0 275.1 349.2 275.4 346.6 275.6 344.2 275.9 342.2 276.2 340.7 276.5 339.8 276.8 339.6 277.1 340.0 277.4 340.9 277.6 342.3 277.9 344.1 278.2 346.2 278.5 348.5 278.8 350.9 279.1 353.2 279.4 355.4 279.7 357.2 279.9 358.6 280.2 359.5 280.5 359.8 280.8 359.7 281.1 359.0 281.4 357.9 281.7 356.4 281.9 354.7 282.2 352.7 282.5 350.7 282.8 348.8 283.1 347.1 283.4 345.7 283.7 344.7 284.0 344.2 284.2 344.1 284.5 344.3 284.8 344.8 285.1 345.5 285.4 346.4 285.7 347.5 286.0 348.6 286.2 349.8 286.5 351.0 286.8 352.1 287.1 353.0 287.4 353.8 287.7 354.4 288.0 354.7 288.3 354.8 288.5 354.7 288.8 354.6 289.1 354.4 289.4 354.1 289.7 353.8 290.0 353.4 290.3 353.0 290.5 352.5 290.8 352.0 291.1 351.5 291.4 351.0 291.7 350.6 292.0 350.1 292.3 349.7 292.5 349.4 292.8 349.1 293.1 348.8 293.4 348.7 293.7 348.6 294.0 348.5 294.3 348.7 294.6 349.0 294.8 349.4 295.1 350.0 295.4 350.7 295.7 351.4 296.0 352.2 296.3 352.9 296.6 353.6 296.8 354.1 297.1 354.6 297.4 354.8 297.7 354.9 298.0 354.8 298.3 354.6 298.6 354.1 298.9 353.5 299.1 352.7 299.4 351.9 299.7 351.0 300.0 350.2 300.3 349.4 300.6 348.7 300.9 348.2 301.1 347.8 301.4 347.7 301.7 347.7 302.0 347.9 302.3 348.2 302.6 348.7 302.9 349.3 303.2 349.9 303.4 350.6 303.7 351.3 304.0 351.9 304.3 352.5 304.6 353.0 304.9 353.4 305.2 353.6 305.4 353.6 305.7 353.5 306.0 353.3 306.3 353.0 306.6 352.6 306.9 352.1 307.2 351.6 307.5 351.1 307.7 350.7 308.0 350.2 308.3 349.8 308.6 349.5 308.9 349.4 309.2 349.3 309.5 349.3 309.7 349.5 310.0 349.7 310.3 350.0 310.6 350.4 310.9 350.8 311.2 351.3 311.5 351.7 311.8 352.1 312.0 352.4 312.3 352.7 312.6 352.8 312.9 352.9 313.2 352.8 313.5 352.7 313.8 352.5 314.0 352.2 314.3 351.9 314.6 351.5 314.9 351.2 315.2 350.8 315.5 350.5 315.8 350.2 316.0 350.0 316.3 349.9 316.6 349.9 316.9 349.9 317.2 350.0 317.5 350.2 317.8 350.4 318.1 350.7 318.3 350.9 318.6 351.2 318.9 351.4 319.2 351.7 319.5 351.9 319.8 352.0 320.1 352.1 320.3 352.1 320.6 352.1 320.9 352.1 321.2 352.1 321.5 352.0 321.8 352.0 322.1 351.9 322.4 351.9 322.6 351.8 322.9 351.7 323.2 351.7 323.5 351.6 323.8 351.5 324.1 351.4 324.4 351.3 324.6 351.2 324.9 351.1 325.2 351.1 325.5 351.0 325.8 350.9 326.1 350.8 326.4 350.8 326.7 350.7 326.9 350.6 327.2 350.6 327.5 350.5 327.8 350.5 328.1 350.5 328.4 350.5 328.7 350.5 328.9 350.5 329.2 350.6 329.5 350.7 329.8 350.8 330.1 351.0 330.4 351.1 330.7 351.3 331.0 351.5 331.2 351.6 331.5 351.8 331.8 351.9 332.1 351.9 332.4 352.0 332.7 351.9 333.0 351.9 333.2 351.8 333.5 351.7 333.8 351.5 334.1 351.3 334.4 351.1 334.7 351.0 335.0 350.8 335.3 350.7 335.5 350.6 335.8 350.5 336.1 350.5 336.4 350.5 336.7 350.5 337.0 350.6 337.3 350.8 337.5 350.9 337.8 351.1 338.1 351.3 338.4 351.4 338.7 351.6 339.0 351.7 339.3 351.8 339.6 351.9 339.8 352.0 340.1 352.0 340.4 351.9 340.7 351.8 341.0 351.7 341.3 351.5 341.6 351.4 341.8 351.2 342.1 351.0 342.4 350.9 342.7 350.7 343.0 350.6 343.3 350.5 343.6 350.5 343.8 350.5 344.1 350.5 344.4 350.6 344.7 350.7 345.0 350.9 345.3 351.0 345.6 351.2 345.9 351.4 346.1 351.6 346.4 351.7 346.7 351.8 347.0 351.9 347.3 352.0 347.6 352.0 347.9 351.9 348.1 351.8 348.4 351.7 348.7 351.6 349.0 351.4 349.3 351.3 349.6 351.1 349.9 350.9 350.2 350.8 350.4 350.6 350.7 350.5 351.0 350.5 351.3 350.5 351.6 350.5 351.9 350.6 352.2 350.7 352.4 350.8 352.7 351.0 353.0 351.2 353.3 351.3 353.6 351.5 353.9 351.7 354.2 351.8 354.5 351.9 354.7 351.9 355.0 352.0 355.3 351.9 355.6 351.9" stroke="#2E75B6" stroke-width="1.3"/>
<path d="M197.4 351.2L197.7 351.2 198.0 351.2 198.3 351.2 198.5 351.2 198.8 351.2 199.1 351.2 199.4 351.2 199.7 351.2 200.0 351.2 200.3 351.2 200.6 351.2 200.8 351.2 201.1 351.2 201.4 351.2 201.7 351.2 202.0 351.2 202.3 351.2 202.6 351.2 202.8 351.2 203.1 351.2 203.4 351.2 203.7 351.2 204.0 351.2 204.3 351.2 204.6 351.2 204.9 351.2 205.1 351.2 205.4 351.2 205.7 351.2 206.0 351.2 206.3 351.2 206.6 351.2 206.9 351.2 207.1 351.2 207.4 351.2 207.7 351.2 208.0 351.2 208.3 351.2 208.6 351.2 208.9 351.2 209.2 351.2 209.4 351.2 209.7 351.2 210.0 351.2 210.3 351.2 210.6 351.2 210.9 351.2 211.2 351.2 211.4 351.2 211.7 351.2 212.0 351.2 212.3 351.2 212.6 351.2 212.9 351.2 213.2 351.2 213.4 351.2 213.7 351.2 214.0 351.2 214.3 351.2 214.6 351.2 214.9 351.2 215.2 351.2 215.5 351.2 215.7 351.2 216.0 351.2 216.3 351.2 216.6 351.2 216.9 351.2 217.2 351.2 217.5 351.2 217.7 351.2 218.0 351.2 218.3 351.2 218.6 351.2 218.9 351.2 219.2 351.2 219.5 351.2 219.8 351.2 220.0 351.2 220.3 351.2 220.6 351.2 220.9 351.2 221.2 351.2 221.5 351.2 221.8 351.2 222.0 351.2 222.3 351.2 222.6 351.2 222.9 351.2 223.2 351.2 223.5 351.2 223.8 351.2 224.1 343.8 224.3 336.7 224.6 330.2 224.9 324.6 225.2 320.0 225.5 316.6 225.8 314.7 226.1 314.2 226.3 315.2 226.6 317.6 226.9 321.2 227.2 326.0 227.5 331.5 227.8 337.7 228.1 344.1 228.4 350.4 228.6 356.3 228.9 361.6 229.2 365.8 229.5 368.9 229.8 370.6 230.1 371.0 230.4 370.0 230.6 368.0 230.9 365.0 231.2 361.1 231.5 356.6 231.8 351.8 232.1 346.7 232.4 341.8 232.7 337.3 232.9 333.4 233.2 330.4 233.5 328.3 233.8 327.3 234.1 327.6 234.4 329.1 234.7 331.8 234.9 335.6 235.2 340.2 235.5 345.5 235.8 351.2 236.1 357.0 236.4 362.6 236.7 367.7 237.0 372.1 237.2 375.5 237.5 377.8 237.8 378.8 238.1 378.6 238.4 377.4 238.7 375.1 239.0 372.0 239.2 368.2 239.5 363.7 239.8 358.9 240.1 354.0 240.4 349.1 240.7 344.6 241.0 340.5 241.2 337.2 241.5 334.7 241.8 333.2 242.1 332.8 242.4 333.3 242.7 334.8 243.0 337.1 243.3 340.1 243.5 343.8 243.8 347.8 244.1 352.0 244.4 356.2 244.7 360.2 245.0 363.8 245.3 366.8 245.5 369.0 245.8 370.3 246.1 370.7 246.4 370.3 246.7 369.1 247.0 367.3 247.3 364.9 247.6 362.1 247.8 359.0 248.1 355.8 248.4 352.6 248.7 349.6 249.0 347.0 249.3 344.9 249.6 343.5 249.8 342.7 250.1 342.6 250.4 343.0 250.7 343.8 251.0 345.0 251.3 346.4 251.6 348.0 251.9 349.7 252.1 351.5 252.4 353.2 252.7 354.7 253.0 355.9 253.3 356.8 253.6 357.3 253.9 357.5 254.1 357.4 254.4 357.3 254.7 357.1 255.0 356.9 255.3 356.6 255.6 356.2 255.9 355.8 256.2 355.3 256.4 354.8 256.7 354.3 257.0 353.7 257.3 353.1 257.6 352.5 257.9 351.9 258.2 351.4 258.4 350.8 258.7 350.2 259.0 349.7 259.3 349.2 259.6 348.8 259.9 348.4 260.2 348.1 260.5 347.8 260.7 347.6 261.0 347.4 261.3 347.4 261.6 347.4 261.9 347.6 262.2 348.2 262.5 349.0 262.7 350.1 263.0 351.3 263.3 352.6 263.6 354.0 263.9 355.3 264.2 356.5 264.5 357.4 264.7 358.2 265.0 358.6 265.3 358.8 265.6 358.6 265.9 357.9 266.2 356.9 266.5 355.5 266.8 353.9 267.0 352.1 267.3 350.3 267.6 348.5 267.9 346.8 268.2 345.4 268.5 344.3 268.8 343.5 269.0 343.2 269.3 343.3 269.6 343.9 269.9 344.8 270.2 346.2 270.5 347.8 270.8 349.6 271.1 351.5 271.3 353.4 271.6 355.1 271.9 356.7 272.2 357.9 272.5 358.8 272.8 359.3 273.1 359.4 273.3 358.9 273.6 358.1 273.9 356.8 274.2 355.3 274.5 353.5 274.8 351.5 275.1 349.6 275.4 347.7 275.6 346.1 275.9 344.7 276.2 343.7 276.5 343.0 276.8 342.9 277.1 343.2 277.4 343.9 277.6 345.0 277.9 346.5 278.2 348.2 278.5 350.0 278.8 352.0 279.1 353.8 279.4 355.5 279.7 356.9 279.9 358.1 280.2 358.8 280.5 359.1 280.8 358.9 281.1 358.3 281.4 357.3 281.7 355.9 281.9 354.3 282.2 352.4 282.5 350.6 282.8 348.8 283.1 347.2 283.4 345.9 283.7 345.0 284.0 344.5 284.2 344.4 284.5 344.7 284.8 345.2 285.1 346.0 285.4 347.0 285.7 348.2 286.0 349.4 286.2 350.8 286.5 352.1 286.8 353.3 287.1 354.3 287.4 355.2 287.7 355.8 288.0 356.2 288.3 356.3 288.5 356.0 288.8 355.4 289.1 354.5 289.4 353.4 289.7 352.2 290.0 351.0 290.3 349.8 290.5 348.8 290.8 348.0 291.1 347.5 291.4 347.4 291.7 347.5 292.0 347.8 292.3 348.2 292.5 348.9 292.8 349.6 293.1 350.4 293.4 351.2 293.7 352.0 294.0 352.7 294.3 353.4 294.6 353.9 294.8 354.2 295.1 354.3 295.4 354.3 295.7 354.1 296.0 353.7 296.3 353.3 296.6 352.7 296.8 352.0 297.1 351.3 297.4 350.7 297.7 350.0 298.0 349.5 298.3 349.0 298.6 348.7 298.9 348.6 299.1 348.6 299.4 348.7 299.7 349.0 300.0 349.5 300.3 350.0 300.6 350.6 300.9 351.1 301.1 351.6 301.4 352.1 301.7 352.4 302.0 352.5 302.3 352.5 302.6 352.5 302.9 352.3 303.2 352.1 303.4 351.9 303.7 351.6 304.0 351.2 304.3 350.9 304.6 350.6 304.9 350.3 305.2 350.1 305.4 349.9 305.7 349.8 306.0 349.7 306.3 349.8 306.6 349.9 306.9 350.0 307.2 350.2 307.5 350.5 307.7 350.7 308.0 351.0 308.3 351.3 308.6 351.5 308.9 351.8 309.2 351.9 309.5 352.1 309.7 352.1 310.0 352.1 310.3 352.0 310.6 351.9 310.9 351.7 311.2 351.5 311.5 351.3 311.8 351.0 312.0 350.8 312.3 350.6 312.6 350.4 312.9 350.2 313.2 350.1 313.5 350.1 313.8 350.1 314.0 350.2 314.3 350.3 314.6 350.5 314.9 350.7 315.2 351.0 315.5 351.3 315.8 351.5 316.0 351.8 316.3 352.0 316.6 352.2 316.9 352.3 317.2 352.4 317.5 352.4 317.8 352.3 318.1 352.2 318.3 352.0 318.6 351.8 318.9 351.5 319.2 351.2 319.5 350.9 319.8 350.7 320.1 350.4 320.3 350.2 320.6 350.1 320.9 350.0 321.2 350.0 321.5 350.1 321.8 350.2 322.1 350.4 322.4 350.6 322.6 350.9 322.9 351.2 323.2 351.5 323.5 351.7 323.8 352.0 324.1 352.2 324.4 352.3 324.6 352.4 324.9 352.4 325.2 352.4 325.5 352.3 325.8 352.1 326.1 351.9 326.4 351.6 326.7 351.3 326.9 351.0 327.2 350.7 327.5 350.5 327.8 350.3 328.1 350.1 328.4 350.0 328.7 350.0 328.9 350.0 329.2 350.1 329.5 350.3 329.8 350.5 330.1 350.8 330.4 351.1 330.7 351.4 331.0 351.7 331.2 351.9 331.5 352.1 331.8 352.3 332.1 352.4 332.4 352.5 332.7 352.4 333.0 352.3 333.2 352.2 333.5 351.9 333.8 351.7 334.1 351.4 334.4 351.1 334.7 350.8 335.0 350.5 335.3 350.3 335.5 350.1 335.8 350.0 336.1 350.0 336.4 350.0 336.7 350.1 337.0 350.2 337.3 350.5 337.5 350.7 337.8 351.0 338.1 351.3 338.4 351.6 338.7 351.9 339.0 352.1 339.3 352.3 339.6 352.4 339.8 352.5 340.1 352.5 340.4 352.4 340.7 352.2 341.0 352.0 341.3 351.8 341.6 351.5 341.8 351.2 342.1 350.9 342.4 350.6 342.7 350.4 343.0 350.2 343.3 350.0 343.6 350.0 343.8 350.0 344.1 350.0 344.4 350.2 344.7 350.4 345.0 350.6 345.3 350.9 345.6 351.2 345.9 351.5 346.1 351.8 346.4 352.0 346.7 352.2 347.0 352.4 347.3 352.5 347.6 352.5 347.9 352.4 348.1 352.3 348.4 352.1 348.7 351.8 349.0 351.6 349.3 351.3 349.6 351.0 349.9 350.7 350.2 350.4 350.4 350.2 350.7 350.1 351.0 350.0 351.3 350.0 351.6 350.0 351.9 350.1 352.2 350.3 352.4 350.6 352.7 350.8 353.0 351.1 353.3 351.4 353.6 351.7 353.9 352.0 354.2 352.2 354.5 352.4 354.7 352.5 355.0 352.5 355.3 352.4 355.6 352.3" stroke="#F08018" stroke-width="1.5"/>
</g>
<rect x="197.40" y="306.60" width="158.20" height="81.80" fill="none" stroke="#3C3C3C" stroke-width="0.9"/>
<path d="M197.40 380.96h1.6M197.40 366.09h1.6M197.40 351.22h1.6M197.40 336.35h1.6M197.40 321.47h1.6M197.40 306.60h1.6M197.40 388.40v-1.6M223.77 388.40v-1.6M250.13 388.40v-1.6M276.50 388.40v-1.6M302.87 388.40v-1.6M329.23 388.40v-1.6M355.60 388.40v-1.6" stroke="#3C3C3C" stroke-width="0.7" fill="none"/>
<g font-family="'Liberation Serif','Times New Roman',serif" font-size="6.6" fill="#222" stroke="#222" stroke-width="0.2">
<text x="196.10" y="383.16" text-anchor="end">-20</text>
<text x="196.10" y="368.29" text-anchor="end">-10</text>
<text x="196.10" y="353.42" text-anchor="end">0</text>
<text x="196.10" y="338.55" text-anchor="end">10</text>
<text x="196.10" y="323.67" text-anchor="end">20</text>
<text x="196.10" y="308.80" text-anchor="end">30</text>
<text x="197.40" y="395.00" text-anchor="middle">0.19</text>
<text x="223.77" y="395.00" text-anchor="middle">0.20</text>
<text x="250.13" y="395.00" text-anchor="middle">0.21</text>
<text x="276.50" y="395.00" text-anchor="middle">0.22</text>
<text x="302.87" y="395.00" text-anchor="middle">0.23</text>
<text x="329.23" y="395.00" text-anchor="middle">0.24</text>
<text x="355.60" y="395.00" text-anchor="middle">0.25</text>
</g>
<clipPath id="cpb4"><rect x="197.40" y="403.40" width="158.20" height="81.80"/></clipPath>
<g clip-path="url(#cpb4)" fill="none" stroke-linejoin="round">
<path d="M223.8 438.5L224.1 429.5 224.3 422.3 224.6 418.1 224.9 418.0 225.2 423.4 225.5 433.9 225.8 447.2 226.1 460.8 226.3 471.9 226.6 478.3 226.9 479.1 227.2 476.3 227.5 470.8 227.8 463.2 228.1 454.4 228.4 445.3 228.6 436.9 228.9 430.2 229.2 425.9 229.5 424.4 229.8 426.1 230.1 430.6 230.4 437.2 230.6 444.6 230.9 451.6 231.2 456.8 231.5 459.3 231.8 459.2 232.1 457.6 232.4 454.8 232.7 451.0 232.9 446.6 233.2 441.9 233.5 437.4 233.8 433.3 234.1 430.1 234.4 428.0 234.7 427.2 234.9 427.7 235.2 429.3 235.5 431.9 235.8 435.0 236.1 438.3 236.4 441.2 236.7 443.4 237.0 444.6 237.2 444.4 237.5 442.2 237.8 438.3 238.1 433.2 238.4 427.6 238.7 422.4 239.0 418.3 239.2 415.9 239.5 415.6 239.8 417.2 240.1 420.6 240.4 425.2 240.7 430.7 241.0 436.4 241.2 441.7 241.5 445.8 241.8 448.5 242.1 449.4 242.4 448.6 242.7 446.6 243.0 443.5 243.3 439.8 243.5 435.9 243.8 432.2 244.1 429.1 244.4 427.1 244.7 426.4 245.0 427.0 245.3 428.9 245.5 431.5 245.8 434.3 246.1 436.5 246.4 437.6 246.7 437.5 247.0 436.6 247.3 435.2 247.6 433.5 247.8 432.0 248.1 431.0 248.4 430.7 248.7 431.2 249.0 432.4 249.3 434.2 249.6 436.2 249.8 438.1 250.1 439.4 250.4 440.0 250.7 439.7 251.0 438.3 251.3 436.4 251.6 434.6 251.9 433.5 252.1 433.5 252.4 434.5 252.7 436.3 253.0 438.7 253.3 441.4 253.6 444.1 253.9 446.3 254.1 447.8 254.4 448.3 254.7 447.6 255.0 445.4 255.3 441.9 255.6 437.8 255.9 433.4 256.2 429.5 256.4 426.5 256.7 424.8 257.0 424.8 257.3 426.8 257.6 430.5 257.9 435.5 258.2 441.2 258.4 446.7 258.7 451.3 259.0 454.4 259.3 455.5 259.6 454.4 259.9 451.0 260.2 445.7 260.5 439.2 260.7 432.5 261.0 426.3 261.3 421.7 261.6 419.0 261.9 418.9 262.2 421.5 262.5 426.6 262.7 433.4 263.0 441.1 263.3 448.6 263.6 454.9 263.9 459.2 264.2 460.9 264.5 459.5 264.7 455.2 265.0 448.4 265.3 440.2 265.6 431.6 265.9 423.7 266.2 417.6 266.5 414.2 266.8 414.0 267.0 417.0 267.3 422.8 267.6 430.8 267.9 439.8 268.2 448.7 268.5 456.1 268.8 461.2 269.0 463.2 269.3 461.9 269.6 457.4 269.9 450.5 270.2 442.0 270.5 433.1 270.8 424.9 271.1 418.6 271.3 415.0 271.6 414.6 271.9 417.4 272.2 422.9 272.5 430.3 272.8 438.8 273.1 447.1 273.3 454.1 273.6 458.9 273.9 460.8 274.2 459.8 274.5 456.1 274.8 450.3 275.1 443.1 275.4 435.4 275.6 428.3 275.9 422.6 276.2 419.1 276.5 418.2 276.8 419.8 277.1 423.5 277.4 428.9 277.6 435.4 277.9 442.2 278.2 448.4 278.5 453.3 278.8 456.3 279.1 457.0 279.4 455.6 279.7 452.3 279.9 447.5 280.2 441.7 280.5 435.7 280.8 430.1 281.1 425.5 281.4 422.6 281.7 421.6 281.9 422.5 282.2 425.2 282.5 429.2 282.8 434.2 283.1 439.6 283.4 444.8 283.7 449.1 284.0 452.1 284.2 453.5 284.5 453.2 284.8 451.2 285.1 447.9 285.4 443.7 285.7 438.9 286.0 434.2 286.2 430.1 286.5 427.1 286.8 425.4 287.1 425.3 287.4 426.7 287.7 429.3 288.0 432.9 288.3 437.0 288.5 441.2 288.8 445.0 289.1 447.9 289.4 449.6 289.7 449.9 290.0 448.9 290.3 446.7 290.5 443.6 290.8 440.0 291.1 436.2 291.4 432.8 291.7 430.1 292.0 428.6 292.3 428.3 292.5 429.2 292.8 431.3 293.1 434.2 293.4 437.7 293.7 441.1 294.0 444.1 294.3 446.4 294.6 447.5 294.8 447.5 295.1 446.2 295.4 444.0 295.7 441.1 296.0 437.9 296.3 434.8 296.6 432.3 296.8 430.7 297.1 430.1 297.4 430.7 297.7 432.3 298.0 434.7 298.3 437.5 298.6 440.4 298.9 443.0 299.1 444.9 299.4 445.9 299.7 445.9 300.0 444.9 300.3 443.0 300.6 440.6 300.9 438.0 301.1 435.4 301.4 433.3 301.7 431.9 302.0 431.5 302.3 432.0 302.6 433.3 302.9 435.3 303.2 437.6 303.4 440.1 303.7 442.3 304.0 443.9 304.3 444.8 304.6 444.8 304.9 444.0 305.2 442.4 305.4 440.4 305.7 438.1 306.0 436.0 306.3 434.2 306.6 433.0 306.9 432.6 307.2 433.0 307.5 434.1 307.7 435.7 308.0 437.7 308.3 439.7 308.6 441.5 308.9 442.9 309.2 443.6 309.5 443.6 309.7 442.9 310.0 441.7 310.3 440.1 310.6 438.3 310.9 436.6 311.2 435.1 311.5 434.2 311.8 433.8 312.0 434.1 312.3 435.0 312.6 436.2 312.9 437.8 313.2 439.4 313.5 440.8 313.8 441.9 314.0 442.5 314.3 442.5 314.6 442.0 314.9 441.0 315.2 439.6 315.5 438.2 315.8 436.8 316.0 435.7 316.3 435.1 316.6 434.9 316.9 435.3 317.2 436.2 317.5 437.5 317.8 438.8 318.1 440.1 318.3 441.1 318.6 441.6 318.9 441.5 319.2 441.0 319.5 439.9 319.8 438.7 320.1 437.4 320.3 436.3 320.6 435.6 320.9 435.4 321.2 435.8 321.5 436.6 321.8 437.8 322.1 439.0 322.4 440.2 322.6 441.0 322.9 441.4 323.2 441.2 323.5 440.7 323.8 439.7 324.1 438.6 324.4 437.5 324.6 436.5 324.9 435.8 325.2 435.6 325.5 435.8 325.8 436.4 326.1 437.2 326.4 438.3 326.7 439.3 326.9 440.2 327.2 440.9 327.5 441.2 327.8 441.1 328.1 440.7 328.4 440.0 328.7 439.1 328.9 438.1 329.2 437.1 329.5 436.4 329.8 435.9 330.1 435.8 330.4 436.0 330.7 436.6 331.0 437.4 331.2 438.3 331.5 439.3 331.8 440.1 332.1 440.7 332.4 441.1 332.7 441.0 333.0 440.6 333.2 439.9 333.5 439.1 333.8 438.1 334.1 437.2 334.4 436.5 334.7 436.0 335.0 435.9 335.3 436.1 335.5 436.6 335.8 437.4 336.1 438.3 336.4 439.2 336.7 440.0 337.0 440.6 337.3 440.9 337.5 440.9 337.8 440.5 338.1 439.9 338.4 439.1 338.7 438.1 339.0 437.3 339.3 436.6 339.6 436.1 339.8 436.0 340.1 436.2 340.4 436.7 340.7 437.4 341.0 438.3 341.3 439.2 341.6 440.0 341.8 440.6 342.1 440.9 342.4 440.8 342.7 440.5 343.0 439.9 343.3 439.1 343.6 438.2 343.8 437.3 344.1 436.6 344.4 436.2 344.7 436.1 345.0 436.3 345.3 436.7 345.6 437.4 345.9 438.3 346.1 439.2 346.4 439.9 346.7 440.5 347.0 440.8 347.3 440.8 347.6 440.4 347.9 439.8 348.1 439.1 348.4 438.2 348.7 437.4 349.0 436.7 349.3 436.2 349.6 436.1 349.9 436.3 350.2 436.8 350.4 437.5 350.7 438.3 351.0 439.1 351.3 439.9 351.6 440.5 351.9 440.8 352.2 440.8 352.4 440.4 352.7 439.8 353.0 439.1 353.3 438.2 353.6 437.4 353.9 436.7 354.2 436.3 354.5 436.1 354.7 436.3 355.0 436.8 355.3 437.4 355.6 438.3" stroke="#2E75B6" stroke-width="1.3"/>
<path d="M197.4 438.5L197.7 438.5 198.0 438.5 198.3 438.5 198.5 438.5 198.8 438.5 199.1 438.5 199.4 438.5 199.7 438.5 200.0 438.5 200.3 438.5 200.6 438.5 200.8 438.5 201.1 438.5 201.4 438.5 201.7 438.5 202.0 438.5 202.3 438.5 202.6 438.5 202.8 438.5 203.1 438.5 203.4 438.5 203.7 438.5 204.0 438.5 204.3 438.5 204.6 438.5 204.9 438.5 205.1 438.5 205.4 438.5 205.7 438.5 206.0 438.5 206.3 438.5 206.6 438.5 206.9 438.5 207.1 438.5 207.4 438.5 207.7 438.5 208.0 438.5 208.3 438.5 208.6 438.5 208.9 438.5 209.2 438.5 209.4 438.5 209.7 438.5 210.0 438.5 210.3 438.5 210.6 438.5 210.9 438.5 211.2 438.5 211.4 438.5 211.7 438.5 212.0 438.5 212.3 438.5 212.6 438.5 212.9 438.5 213.2 438.5 213.4 438.5 213.7 438.5 214.0 438.5 214.3 438.5 214.6 438.5 214.9 438.5 215.2 438.5 215.5 438.5 215.7 438.5 216.0 438.5 216.3 438.5 216.6 438.5 216.9 438.5 217.2 438.5 217.5 438.5 217.7 438.5 218.0 438.5 218.3 438.5 218.6 438.5 218.9 438.5 219.2 438.5 219.5 438.5 219.8 438.5 220.0 438.5 220.3 438.5 220.6 438.5 220.9 438.5 221.2 438.5 221.5 438.5 221.8 438.5 222.0 438.5 222.3 438.5 222.6 438.5 222.9 438.5 223.2 438.5 223.5 438.5 223.8 438.5 224.1 429.5 224.3 422.3 224.6 418.1 224.9 418.0 225.2 423.4 225.5 433.9 225.8 447.2 226.1 460.8 226.3 471.9 226.6 478.3 226.9 479.1 227.2 476.3 227.5 470.8 227.8 463.2 228.1 454.4 228.4 445.3 228.6 436.9 228.9 430.2 229.2 425.9 229.5 424.4 229.8 426.1 230.1 430.6 230.4 437.2 230.6 444.6 230.9 451.6 231.2 456.8 231.5 459.3 231.8 459.2 232.1 457.6 232.4 454.8 232.7 451.0 232.9 446.6 233.2 441.9 233.5 437.4 233.8 433.3 234.1 430.1 234.4 428.0 234.7 427.2 234.9 427.7 235.2 429.3 235.5 431.9 235.8 435.0 236.1 438.3 236.4 441.2 236.7 443.4 237.0 444.6 237.2 444.4 237.5 442.2 237.8 438.3 238.1 433.2 238.4 427.6 238.7 422.4 239.0 418.3 239.2 415.9 239.5 415.6 239.8 417.2 240.1 420.6 240.4 425.2 240.7 430.7 241.0 436.4 241.2 441.7 241.5 445.8 241.8 448.5 242.1 449.4 242.4 448.6 242.7 446.6 243.0 443.5 243.3 439.8 243.5 435.9 243.8 432.2 244.1 429.1 244.4 427.1 244.7 426.4 245.0 427.0 245.3 428.9 245.5 431.5 245.8 434.3 246.1 436.5 246.4 437.6 246.7 437.5 247.0 436.6 247.3 435.2 247.6 433.5 247.8 432.0 248.1 431.0 248.4 430.7 248.7 431.2 249.0 432.4 249.3 434.2 249.6 436.2 249.8 438.1 250.1 439.4 250.4 440.0 250.7 439.7 251.0 438.4 251.3 436.7 251.6 435.0 251.9 434.0 252.1 434.0 252.4 434.7 252.7 436.2 253.0 438.2 253.3 440.4 253.6 442.5 253.9 444.3 254.1 445.5 254.4 445.9 254.7 445.4 255.0 443.7 255.3 441.2 255.6 438.2 255.9 435.0 256.2 432.1 256.4 430.0 256.7 428.8 257.0 428.7 257.3 430.1 257.6 432.7 257.9 436.3 258.2 440.3 258.4 444.1 258.7 447.4 259.0 449.6 259.3 450.4 259.6 449.6 259.9 447.2 260.2 443.6 260.5 439.1 260.7 434.4 261.0 430.1 261.3 426.8 261.6 425.0 261.9 424.9 262.2 426.7 262.5 430.2 262.7 434.9 263.0 440.2 263.3 445.4 263.6 449.8 263.9 452.8 264.2 453.9 264.5 453.0 264.7 450.0 265.0 445.4 265.3 439.7 265.6 433.7 265.9 428.3 266.2 424.1 266.5 421.8 266.8 421.6 267.0 423.7 267.3 427.7 267.6 433.3 267.9 439.5 268.2 445.6 268.5 450.7 268.8 454.2 269.0 455.6 269.3 454.7 269.6 451.6 269.9 446.7 270.2 440.7 270.5 434.4 270.8 428.7 271.1 424.3 271.3 421.8 271.6 421.5 271.9 423.5 272.2 427.5 272.5 433.0 272.8 439.2 273.1 445.2 273.3 450.4 273.6 453.9 273.9 455.3 274.2 454.5 274.5 451.5 274.8 446.8 275.1 441.0 275.4 434.9 275.6 429.3 275.9 425.0 276.2 422.5 276.5 422.2 276.8 424.1 277.1 427.8 277.4 433.0 277.6 438.8 277.9 444.5 278.2 449.4 278.5 452.8 278.8 454.2 279.1 453.4 279.4 450.7 279.7 446.5 279.9 441.2 280.2 435.6 280.5 430.4 280.8 426.4 281.1 424.1 281.4 423.8 281.7 425.4 281.9 428.6 282.2 433.1 282.5 438.2 282.8 443.2 283.1 447.5 283.4 450.4 283.7 451.7 284.0 451.1 284.2 449.0 284.5 445.5 284.8 441.2 285.1 436.6 285.4 432.4 285.7 429.2 286.0 427.2 286.2 426.9 286.5 428.2 286.8 430.7 287.1 434.1 287.4 438.1 287.7 442.0 288.0 445.4 288.3 447.7 288.5 448.8 288.8 448.3 289.1 446.7 289.4 444.0 289.7 440.6 290.0 437.1 290.3 433.8 290.5 431.2 290.8 429.7 291.1 429.4 291.4 430.3 291.7 432.2 292.0 434.9 292.3 437.9 292.5 440.9 292.8 443.5 293.1 445.3 293.4 446.1 293.7 445.8 294.0 444.7 294.3 442.7 294.6 440.3 294.8 437.8 295.1 435.4 295.4 433.5 295.7 432.4 296.0 432.2 296.3 432.8 296.6 434.1 296.8 435.9 297.1 437.9 297.4 439.9 297.7 441.7 298.0 442.9 298.3 443.5 298.6 443.3 298.9 442.6 299.1 441.3 299.4 439.8 299.7 438.2 300.0 436.7 300.3 435.5 300.6 434.7 300.9 434.6 301.1 434.9 301.4 435.7 301.7 436.7 302.0 437.9 302.3 439.1 302.6 440.1 302.9 440.8 303.2 441.1 303.4 441.1 303.7 440.7 304.0 440.1 304.3 439.3 304.6 438.4 304.9 437.6 305.2 437.0 305.4 436.6 305.7 436.5 306.0 436.7 306.3 437.1 306.6 437.7 306.9 438.3 307.2 439.0 307.5 439.5 307.7 439.9 308.0 440.1 308.3 440.0 308.6 439.8 308.9 439.4 309.2 438.8 309.5 438.3 309.7 437.7 310.0 437.3 310.3 437.1 310.6 437.0 310.9 437.1 311.2 437.5 311.5 437.9 311.8 438.4 312.0 438.9 312.3 439.4 312.6 439.7 312.9 439.8 313.2 439.8 313.5 439.6 313.8 439.2 314.0 438.7 314.3 438.2 314.6 437.7 314.9 437.3 315.2 437.1 315.5 437.1 315.8 437.2 316.0 437.5 316.3 438.0 316.6 438.5 316.9 439.0 317.2 439.5 317.5 439.8 317.8 440.0 318.1 439.9 318.3 439.7 318.6 439.2 318.9 438.7 319.2 438.1 319.5 437.6 319.8 437.1 320.1 436.8 320.3 436.8 320.6 436.9 320.9 437.3 321.2 437.9 321.5 438.5 321.8 439.1 322.1 439.7 322.4 440.1 322.6 440.3 322.9 440.3 323.2 440.0 323.5 439.4 323.8 438.8 324.1 438.1 324.4 437.4 324.6 436.9 324.9 436.5 325.2 436.4 325.5 436.6 325.8 437.1 326.1 437.7 326.4 438.5 326.7 439.3 326.9 439.9 327.2 440.4 327.5 440.7 327.8 440.6 328.1 440.3 328.4 439.7 328.7 438.9 328.9 438.0 329.2 437.2 329.5 436.5 329.8 436.1 330.1 436.0 330.4 436.2 330.7 436.8 331.0 437.5 331.2 438.4 331.5 439.4 331.8 440.2 332.1 440.8 332.4 441.1 332.7 441.0 333.0 440.6 333.2 439.9 333.5 439.0 333.8 438.0 334.1 437.1 334.4 436.3 334.7 435.9 335.0 435.7 335.3 436.0 335.5 436.5 335.8 437.4 336.1 438.4 336.4 439.4 336.7 440.3 337.0 440.9 337.3 441.2 337.5 441.2 337.8 440.8 338.1 440.0 338.4 439.1 338.7 438.1 339.0 437.1 339.3 436.3 339.6 435.8 339.8 435.6 340.1 435.8 340.4 436.4 340.7 437.3 341.0 438.3 341.3 439.4 341.6 440.3 341.8 441.0 342.1 441.3 342.4 441.3 342.7 440.9 343.0 440.1 343.3 439.1 343.6 438.1 343.8 437.0 344.1 436.2 344.4 435.7 344.7 435.5 345.0 435.7 345.3 436.3 345.6 437.2 345.9 438.3 346.1 439.4 346.4 440.3 346.7 441.0 347.0 441.4 347.3 441.4 347.6 440.9 347.9 440.2 348.1 439.2 348.4 438.1 348.7 437.0 349.0 436.2 349.3 435.6 349.6 435.4 349.9 435.7 350.2 436.3 350.4 437.2 350.7 438.3 351.0 439.4 351.3 440.3 351.6 441.1 351.9 441.4 352.2 441.4 352.4 441.0 352.7 440.2 353.0 439.2 353.3 438.1 353.6 437.0 353.9 436.2 354.2 435.6 354.5 435.4 354.7 435.6 355.0 436.2 355.3 437.1 355.6 438.2" stroke="#F08018" stroke-width="1.5"/>
</g>
<rect x="197.40" y="403.40" width="158.20" height="81.80" fill="none" stroke="#3C3C3C" stroke-width="0.9"/>
<path d="M197.40 485.20h1.6M197.40 477.41h1.6M197.40 469.62h1.6M197.40 461.83h1.6M197.40 454.04h1.6M197.40 446.25h1.6M197.40 438.46h1.6M197.40 430.67h1.6M197.40 422.88h1.6M197.40 415.09h1.6M197.40 407.30h1.6M197.40 485.20v-1.6M223.77 485.20v-1.6M250.13 485.20v-1.6M276.50 485.20v-1.6M302.87 485.20v-1.6M329.23 485.20v-1.6M355.60 485.20v-1.6" stroke="#3C3C3C" stroke-width="0.7" fill="none"/>
<g font-family="'Liberation Serif','Times New Roman',serif" font-size="6.6" fill="#222" stroke="#222" stroke-width="0.2">
<text x="196.10" y="487.40" text-anchor="end">-12</text>
<text x="196.10" y="479.61" text-anchor="end">-10</text>
<text x="196.10" y="471.82" text-anchor="end">-8</text>
<text x="196.10" y="464.03" text-anchor="end">-6</text>
<text x="196.10" y="456.24" text-anchor="end">-4</text>
<text x="196.10" y="448.45" text-anchor="end">-2</text>
<text x="196.10" y="440.66" text-anchor="end">0</text>
<text x="196.10" y="432.87" text-anchor="end">2</text>
<text x="196.10" y="425.08" text-anchor="end">4</text>
<text x="196.10" y="417.29" text-anchor="end">6</text>
<text x="196.10" y="409.50" text-anchor="end">8</text>
<text x="197.40" y="491.80" text-anchor="middle">0.19</text>
<text x="223.77" y="491.80" text-anchor="middle">0.20</text>
<text x="250.13" y="491.80" text-anchor="middle">0.21</text>
<text x="276.50" y="491.80" text-anchor="middle">0.22</text>
<text x="302.87" y="491.80" text-anchor="middle">0.23</text>
<text x="329.23" y="491.80" text-anchor="middle">0.24</text>
<text x="355.60" y="491.80" text-anchor="middle">0.25</text>
</g>
<clipPath id="cpc0"><rect x="386.20" y="21.50" width="155.00" height="81.80"/></clipPath>
<g clip-path="url(#cpc0)" fill="none" stroke-linejoin="round">
<path d="M386.2 37.2L386.5 38.4 386.8 39.8 387.1 41.2 387.3 42.7 387.6 44.2 387.9 45.8 388.2 47.5 388.5 49.2 388.8 51.0 389.1 52.8 389.4 54.6 389.6 56.5 389.9 58.3 390.2 60.2 390.5 62.1 390.8 64.0 391.1 65.9 391.4 67.8 391.6 69.7 391.9 71.5 392.2 73.3 392.5 75.1 392.8 76.8 393.1 78.5 393.4 80.1 393.6 81.7 393.9 83.2 394.2 84.6 394.5 86.0 394.8 87.2 395.1 88.4 395.4 89.5 395.7 90.6 395.9 91.5 396.2 92.3 396.5 93.0 396.8 93.6 397.1 94.2 397.4 94.6 397.7 94.9 397.9 95.0 398.2 95.1 398.5 95.1 398.8 94.9 399.1 94.7 399.4 94.3 399.7 93.9 400.0 93.3 400.2 92.6 400.5 91.8 400.8 90.9 401.1 90.0 401.4 88.9 401.7 87.7 402.0 86.5 402.2 85.2 402.5 83.8 402.8 82.3 403.1 80.7 403.4 79.1 403.7 77.5 404.0 75.8 404.2 74.0 404.5 72.2 404.8 70.4 405.1 68.5 405.4 66.7 405.7 64.8 406.0 62.9 406.3 61.0 406.5 59.1 406.8 57.2 407.1 55.3 407.4 53.5 407.7 51.7 408.0 49.9 408.3 48.2 408.5 46.5 408.8 44.8 409.1 43.3 409.4 41.8 409.7 40.3 410.0 39.0 410.3 37.7 410.6 36.5 410.8 35.4 411.1 34.3 411.4 33.4 411.7 32.6 412.0 31.8 412.3 31.2 412.6 30.7 412.8 30.3 413.1 30.0 413.4 29.8 413.7 29.7 414.0 29.7 414.3 29.8 414.6 30.1 414.9 30.4 415.1 30.9 415.4 31.5 415.7 32.1 416.0 32.9 416.3 33.8 416.6 34.7 416.9 35.8 417.1 36.9 417.4 38.5 417.7 40.2 418.0 41.8 418.3 43.5 418.6 45.2 418.9 46.9 419.1 48.7 419.4 50.4 419.7 52.1 420.0 53.7 420.3 55.4 420.6 57.1 420.9 58.7 421.2 60.3 421.4 61.9 421.7 63.4 422.0 64.9 422.3 66.4 422.6 67.8 422.9 69.2 423.2 70.5 423.4 71.8 423.7 73.0 424.0 74.2 424.3 75.3 424.6 76.4 424.9 77.4 425.2 78.3 425.5 79.2 425.7 80.0 426.0 80.7 426.3 81.4 426.6 82.0 426.9 82.5 427.2 83.0 427.5 83.4 427.7 83.7 428.0 84.0 428.3 84.1 428.6 84.2 428.9 84.3 429.2 84.2 429.5 84.1 429.7 84.0 430.0 83.7 430.3 83.4 430.6 83.0 430.9 82.6 431.2 82.1 431.5 81.6 431.8 80.9 432.0 80.3 432.3 79.5 432.6 78.8 432.9 77.9 433.2 77.0 433.5 76.1 433.8 75.2 434.0 74.2 434.3 73.1 434.6 72.1 434.9 71.0 435.2 69.9 435.5 68.8 435.8 67.6 436.1 66.4 436.3 65.3 436.6 64.1 436.9 62.9 437.2 61.8 437.5 60.6 437.8 59.4 438.1 58.3 438.3 57.1 438.6 56.0 438.9 55.0 439.2 53.9 439.5 52.9 439.8 51.9 440.1 50.9 440.3 50.0 440.6 49.1 440.9 48.3 441.2 47.5 441.5 46.8 441.8 46.1 442.1 45.5 442.4 44.9 442.6 44.4 442.9 44.0 443.2 43.6 443.5 43.3 443.8 43.0 444.1 42.9 444.4 42.7 444.6 42.7 444.9 42.7 445.2 42.8 445.5 42.9 445.8 43.1 446.1 43.4 446.4 43.7 446.7 44.1 446.9 44.6 447.2 45.1 447.5 45.7 447.8 46.3 448.1 47.0 448.4 47.7 448.7 48.5 448.9 49.3 449.2 50.2 449.5 51.1 449.8 52.1 450.1 53.1 450.4 54.1 450.7 55.1 451.0 56.2 451.2 57.3 451.5 58.4 451.8 59.5 452.1 60.6 452.4 61.8 452.7 62.9 453.0 64.0 453.2 65.2 453.5 66.3 453.8 67.4 454.1 68.5 454.4 69.5 454.7 70.6 455.0 71.6 455.2 72.6 455.5 73.5 455.8 74.4 456.1 75.3 456.4 76.1 456.7 76.9 457.0 77.7 457.3 78.3 457.5 79.0 457.8 79.5 458.1 80.0 458.4 80.5 458.7 80.9 459.0 81.2 459.3 81.5 459.5 81.7 459.8 81.8 460.1 81.9 460.4 81.9 460.7 81.8 461.0 81.7 461.3 81.5 461.6 81.3 461.8 80.9 462.1 80.6 462.4 80.1 462.7 79.6 463.0 79.1 463.3 78.4 463.6 77.8 463.8 77.0 464.1 76.3 464.4 75.5 464.7 74.6 465.0 73.7 465.3 72.8 465.6 71.8 465.8 70.8 466.1 69.7 466.4 68.7 466.7 67.6 467.0 66.5 467.3 65.4 467.6 64.3 467.9 63.1 468.1 62.0 468.4 60.9 468.7 59.7 469.0 58.6 469.3 57.5 469.6 56.4 469.9 55.4 470.1 54.3 470.4 53.3 470.7 52.3 471.0 51.4 471.3 50.5 471.6 49.6 471.9 48.8 472.2 48.0 472.4 47.2 472.7 46.6 473.0 45.9 473.3 45.4 473.6 44.8 473.9 44.4 474.2 44.0 474.4 43.6 474.7 43.4 475.0 43.2 475.3 43.0 475.6 42.9 475.9 42.9 476.2 43.0 476.4 43.1 476.7 43.3 477.0 43.5 477.3 43.8 477.6 44.2 477.9 44.7 478.2 45.1 478.5 45.7 478.7 46.3 479.0 47.0 479.3 47.7 479.6 48.5 479.9 49.3 480.2 50.1 480.5 51.0 480.7 52.0 481.0 52.9 481.3 53.9 481.6 55.0 481.9 56.0 482.2 57.1 482.5 58.2 482.8 59.3 483.0 60.4 483.3 61.6 483.6 62.7 483.9 63.8 484.2 64.9 484.5 66.1 484.8 67.2 485.0 68.2 485.3 69.3 485.6 70.4 485.9 71.4 486.2 72.4 486.5 73.3 486.8 74.2 487.1 75.1 487.3 75.9 487.6 76.7 487.9 77.5 488.2 78.2 488.5 78.8 488.8 79.4 489.1 79.9 489.3 80.4 489.6 80.8 489.9 81.1 490.2 81.4 490.5 81.6 490.8 81.8 491.1 81.8 491.3 81.9 491.6 81.8 491.9 81.7 492.2 81.5 492.5 81.3 492.8 81.0 493.1 80.6 493.4 80.2 493.6 79.7 493.9 79.2 494.2 78.6 494.5 77.9 494.8 77.2 495.1 76.4 495.4 75.6 495.6 74.8 495.9 73.9 496.2 72.9 496.5 72.0 496.8 71.0 497.1 69.9 497.4 68.9 497.7 67.8 497.9 66.7 498.2 65.6 498.5 64.5 498.8 63.4 499.1 62.2 499.4 61.1 499.7 60.0 499.9 58.9 500.2 57.8 500.5 56.7 500.8 55.6 501.1 54.5 501.4 53.5 501.7 52.5 501.9 51.6 502.2 50.7 502.5 49.8 502.8 48.9 503.1 48.1 503.4 47.4 503.7 46.7 504.0 46.1 504.2 45.5 504.5 44.9 504.8 44.5 505.1 44.1 505.4 43.7 505.7 43.4 506.0 43.2 506.2 43.0 506.5 43.0 506.8 42.9 507.1 43.0 507.4 43.1 507.7 43.2 508.0 43.5 508.3 43.8 508.5 44.1 508.8 44.6 509.1 45.0 509.4 45.6 509.7 46.2 510.0 46.8 510.3 47.5 510.5 48.3 510.8 49.1 511.1 50.0 511.4 50.8 511.7 51.8 512.0 52.7 512.3 53.7 512.5 54.8 512.8 55.8 513.1 56.9 513.4 58.0 513.7 59.1 514.0 60.2 514.3 61.3 514.6 62.5 514.8 63.6 515.1 64.7 515.4 65.8 515.7 66.9 516.0 68.0 516.3 69.1 516.6 70.2 516.8 71.2 517.1 72.2 517.4 73.1 517.7 74.1 518.0 74.9 518.3 75.8 518.6 76.6 518.9 77.3 519.1 78.0 519.4 78.7 519.7 79.3 520.0 79.8 520.3 80.3 520.6 80.7 520.9 81.1 521.1 81.3 521.4 81.6 521.7 81.7 522.0 81.8 522.3 81.9 522.6 81.8 522.9 81.7 523.2 81.6 523.4 81.3 523.7 81.1 524.0 80.7 524.3 80.3 524.6 79.8 524.9 79.3 525.2 78.7 525.4 78.0 525.7 77.3 526.0 76.6 526.3 75.8 526.6 74.9 526.9 74.1 527.2 73.1 527.4 72.2 527.7 71.2 528.0 70.1 528.3 69.1 528.6 68.0 528.9 66.9 529.2 65.8 529.5 64.7 529.7 63.6 530.0 62.5 530.3 61.3 530.6 60.2 530.9 59.1 531.2 58.0 531.5 56.9 531.7 55.8 532.0 54.8 532.3 53.7 532.6 52.7 532.9 51.8 533.2 50.8 533.5 49.9 533.8 49.1 534.0 48.3 534.3 47.5 534.6 46.8 534.9 46.2 535.2 45.6 535.5 45.0 535.8 44.6 536.0 44.1 536.3 43.8 536.6 43.5 536.9 43.2 537.2 43.1 537.5 43.0 537.8 42.9 538.0 43.0 538.3 43.1 538.6 43.2 538.9 43.4 539.2 43.7 539.5 44.1 539.8 44.5 540.1 44.9 540.3 45.5 540.6 46.1 540.9 46.7 541.2 47.4" stroke="#F29440" stroke-width="1.1"/>
<path d="M386.2 56.9L386.5 55.1 386.8 53.2 387.1 51.4 387.3 49.7 387.6 47.9 387.9 46.3 388.2 44.6 388.5 43.1 388.8 41.6 389.1 40.1 389.4 38.8 389.6 37.5 389.9 36.3 390.2 35.2 390.5 34.2 390.8 33.3 391.1 32.5 391.4 31.8 391.6 31.1 391.9 30.6 392.2 30.2 392.5 29.9 392.8 29.8 393.1 29.7 393.4 29.7 393.6 29.9 393.9 30.1 394.2 30.5 394.5 31.0 394.8 31.5 395.1 32.2 395.4 33.0 395.7 33.9 395.9 34.9 396.2 35.9 396.5 37.1 396.8 38.4 397.1 39.7 397.4 41.1 397.7 42.6 397.9 44.1 398.2 45.7 398.5 47.4 398.8 49.1 399.1 50.8 399.4 52.6 399.7 54.5 400.0 56.3 400.2 58.2 400.5 60.1 400.8 62.0 401.1 63.9 401.4 65.8 401.7 67.7 402.0 69.5 402.2 71.4 402.5 73.2 402.8 75.0 403.1 76.7 403.4 78.4 403.7 80.0 404.0 81.6 404.2 83.1 404.5 84.5 404.8 85.9 405.1 87.2 405.4 88.4 405.7 89.5 406.0 90.5 406.3 91.4 406.5 92.3 406.8 93.0 407.1 93.6 407.4 94.1 407.7 94.5 408.0 94.8 408.3 95.0 408.5 95.1 408.8 95.1 409.1 95.0 409.4 94.7 409.7 94.4 410.0 93.9 410.3 93.3 410.6 92.6 410.8 91.9 411.1 91.0 411.4 90.0 411.7 89.0 412.0 87.8 412.3 86.6 412.6 85.3 412.8 83.9 413.1 82.4 413.4 80.8 413.7 79.2 414.0 77.6 414.3 75.9 414.6 74.1 414.9 72.3 415.1 70.5 415.4 68.7 415.7 66.8 416.0 64.9 416.3 63.0 416.6 61.1 416.9 59.2 417.1 57.3 417.4 55.5 417.7 53.9 418.0 52.3 418.3 50.7 418.6 49.3 418.9 47.9 419.1 46.7 419.4 45.5 419.7 44.4 420.0 43.4 420.3 42.4 420.6 41.6 420.9 40.8 421.2 40.2 421.4 39.6 421.7 39.1 422.0 38.6 422.3 38.3 422.6 38.0 422.9 37.9 423.2 37.8 423.4 37.8 423.7 37.8 424.0 38.0 424.3 38.2 424.6 38.4 424.9 38.8 425.2 39.2 425.5 39.7 425.7 40.3 426.0 40.9 426.3 41.6 426.6 42.3 426.9 43.1 427.2 43.9 427.5 44.8 427.7 45.8 428.0 46.8 428.3 47.8 428.6 48.8 428.9 49.9 429.2 51.0 429.5 52.2 429.7 53.4 430.0 54.5 430.3 55.8 430.6 57.0 430.9 58.2 431.2 59.4 431.5 60.7 431.8 61.9 432.0 63.1 432.3 64.3 432.6 65.5 432.9 66.7 433.2 67.9 433.5 69.0 433.8 70.1 434.0 71.2 434.3 72.3 434.6 73.3 434.9 74.2 435.2 75.2 435.5 76.0 435.8 76.9 436.1 77.7 436.3 78.4 436.6 79.1 436.9 79.7 437.2 80.2 437.5 80.7 437.8 81.2 438.1 81.5 438.3 81.8 438.6 82.1 438.9 82.3 439.2 82.4 439.5 82.4 439.8 82.4 440.1 82.3 440.3 82.1 440.6 81.9 440.9 81.6 441.2 81.3 441.5 80.9 441.8 80.4 442.1 79.9 442.4 79.3 442.6 78.6 442.9 77.9 443.2 77.2 443.5 76.4 443.8 75.5 444.1 74.6 444.4 73.7 444.6 72.8 444.9 71.8 445.2 70.7 445.5 69.7 445.8 68.6 446.1 67.5 446.4 66.4 446.7 65.3 446.9 64.1 447.2 63.0 447.5 61.8 447.8 60.7 448.1 59.6 448.4 58.5 448.7 57.3 448.9 56.3 449.2 55.2 449.5 54.1 449.8 53.1 450.1 52.1 450.4 51.2 450.7 50.3 451.0 49.4 451.2 48.6 451.5 47.8 451.8 47.1 452.1 46.4 452.4 45.8 452.7 45.2 453.0 44.7 453.2 44.3 453.5 43.9 453.8 43.5 454.1 43.3 454.4 43.1 454.7 43.0 455.0 42.9 455.2 42.9 455.5 42.9 455.8 43.1 456.1 43.3 456.4 43.5 456.7 43.8 457.0 44.2 457.3 44.7 457.5 45.2 457.8 45.7 458.1 46.4 458.4 47.0 458.7 47.8 459.0 48.5 459.3 49.4 459.5 50.2 459.8 51.1 460.1 52.1 460.4 53.0 460.7 54.1 461.0 55.1 461.3 56.2 461.6 57.2 461.8 58.3 462.1 59.5 462.4 60.6 462.7 61.7 463.0 62.8 463.3 64.0 463.6 65.1 463.8 66.2 464.1 67.3 464.4 68.4 464.7 69.5 465.0 70.5 465.3 71.5 465.6 72.5 465.8 73.4 466.1 74.4 466.4 75.2 466.7 76.1 467.0 76.8 467.3 77.6 467.6 78.3 467.9 78.9 468.1 79.5 468.4 80.0 468.7 80.4 469.0 80.8 469.3 81.2 469.6 81.4 469.9 81.6 470.1 81.8 470.4 81.9 470.7 81.9 471.0 81.8 471.3 81.7 471.6 81.5 471.9 81.3 472.2 80.9 472.4 80.6 472.7 80.1 473.0 79.6 473.3 79.1 473.6 78.5 473.9 77.8 474.2 77.1 474.4 76.3 474.7 75.5 475.0 74.6 475.3 73.7 475.6 72.8 475.9 71.8 476.2 70.8 476.4 69.8 476.7 68.7 477.0 67.7 477.3 66.6 477.6 65.5 477.9 64.3 478.2 63.2 478.5 62.1 478.7 60.9 479.0 59.8 479.3 58.7 479.6 57.6 479.9 56.5 480.2 55.5 480.5 54.4 480.7 53.4 481.0 52.4 481.3 51.5 481.6 50.5 481.9 49.7 482.2 48.8 482.5 48.0 482.8 47.3 483.0 46.6 483.3 46.0 483.6 45.4 483.9 44.9 484.2 44.4 484.5 44.0 484.8 43.7 485.0 43.4 485.3 43.2 485.6 43.0 485.9 43.0 486.2 42.9 486.5 43.0 486.8 43.1 487.1 43.3 487.3 43.5 487.6 43.8 487.9 44.2 488.2 44.6 488.5 45.1 488.8 45.7 489.1 46.3 489.3 46.9 489.6 47.6 489.9 48.4 490.2 49.2 490.5 50.1 490.8 51.0 491.1 51.9 491.3 52.9 491.6 53.9 491.9 54.9 492.2 56.0 492.5 57.0 492.8 58.1 493.1 59.2 493.4 60.4 493.6 61.5 493.9 62.6 494.2 63.7 494.5 64.9 494.8 66.0 495.1 67.1 495.4 68.2 495.6 69.2 495.9 70.3 496.2 71.3 496.5 72.3 496.8 73.3 497.1 74.2 497.4 75.1 497.7 75.9 497.9 76.7 498.2 77.4 498.5 78.1 498.8 78.8 499.1 79.3 499.4 79.9 499.7 80.3 499.9 80.8 500.2 81.1 500.5 81.4 500.8 81.6 501.1 81.8 501.4 81.8 501.7 81.9 501.9 81.8 502.2 81.7 502.5 81.5 502.8 81.3 503.1 81.0 503.4 80.6 503.7 80.2 504.0 79.7 504.2 79.2 504.5 78.6 504.8 77.9 505.1 77.2 505.4 76.5 505.7 75.7 506.0 74.8 506.2 73.9 506.5 73.0 506.8 72.0 507.1 71.0 507.4 70.0 507.7 69.0 508.0 67.9 508.3 66.8 508.5 65.7 508.8 64.6 509.1 63.4 509.4 62.3 509.7 61.2 510.0 60.0 510.3 58.9 510.5 57.8 510.8 56.7 511.1 55.7 511.4 54.6 511.7 53.6 512.0 52.6 512.3 51.6 512.5 50.7 512.8 49.8 513.1 49.0 513.4 48.2 513.7 47.4 514.0 46.7 514.3 46.1 514.6 45.5 514.8 45.0 515.1 44.5 515.4 44.1 515.7 43.7 516.0 43.4 516.3 43.2 516.6 43.1 516.8 43.0 517.1 42.9 517.4 43.0 517.7 43.1 518.0 43.2 518.3 43.5 518.6 43.8 518.9 44.1 519.1 44.5 519.4 45.0 519.7 45.6 520.0 46.1 520.3 46.8 520.6 47.5 520.9 48.2 521.1 49.0 521.4 49.9 521.7 50.8 522.0 51.7 522.3 52.7 522.6 53.7 522.9 54.7 523.2 55.7 523.4 56.8 523.7 57.9 524.0 59.0 524.3 60.1 524.6 61.3 524.9 62.4 525.2 63.5 525.4 64.6 525.7 65.8 526.0 66.9 526.3 68.0 526.6 69.0 526.9 70.1 527.2 71.1 527.4 72.1 527.7 73.1 528.0 74.0 528.3 74.9 528.6 75.7 528.9 76.5 529.2 77.3 529.5 78.0 529.7 78.6 530.0 79.2 530.3 79.8 530.6 80.3 530.9 80.7 531.2 81.0 531.5 81.3 531.7 81.6 532.0 81.7 532.3 81.8 532.6 81.9 532.9 81.8 533.2 81.7 533.5 81.6 533.8 81.4 534.0 81.1 534.3 80.7 534.6 80.3 534.9 79.8 535.2 79.3 535.5 78.7 535.8 78.1 536.0 77.4 536.3 76.6 536.6 75.8 536.9 75.0 537.2 74.1 537.5 73.2 537.8 72.2 538.0 71.2 538.3 70.2 538.6 69.2 538.9 68.1 539.2 67.0 539.5 65.9 539.8 64.8 540.1 63.7 540.3 62.5 540.6 61.4 540.9 60.3 541.2 59.2" stroke="#33353F" stroke-width="1.1"/>
<path d="M386.2 93.1L386.5 93.7 386.8 94.2 387.1 94.6 387.3 94.9 387.6 95.0 387.9 95.1 388.2 95.1 388.5 94.9 388.8 94.7 389.1 94.3 389.4 93.8 389.6 93.2 389.9 92.6 390.2 91.8 390.5 90.9 390.8 89.9 391.1 88.8 391.4 87.7 391.6 86.4 391.9 85.1 392.2 83.7 392.5 82.2 392.8 80.6 393.1 79.0 393.4 77.4 393.6 75.7 393.9 73.9 394.2 72.1 394.5 70.3 394.8 68.4 395.1 66.5 395.4 64.6 395.7 62.7 395.9 60.8 396.2 59.0 396.5 57.1 396.8 55.2 397.1 53.4 397.4 51.6 397.7 49.8 397.9 48.0 398.2 46.4 398.5 44.7 398.8 43.2 399.1 41.7 399.4 40.2 399.7 38.9 400.0 37.6 400.2 36.4 400.5 35.3 400.8 34.3 401.1 33.3 401.4 32.5 401.7 31.8 402.0 31.2 402.2 30.7 402.5 30.3 402.8 30.0 403.1 29.8 403.4 29.7 403.7 29.7 404.0 29.9 404.2 30.1 404.5 30.5 404.8 30.9 405.1 31.5 405.4 32.2 405.7 33.0 406.0 33.8 406.3 34.8 406.5 35.9 406.8 37.0 407.1 38.3 407.4 39.6 407.7 41.0 408.0 42.5 408.3 44.0 408.5 45.6 408.8 47.3 409.1 49.0 409.4 50.7 409.7 52.5 410.0 54.3 410.3 56.2 410.6 58.1 410.8 60.0 411.1 61.9 411.4 63.8 411.7 65.7 412.0 67.5 412.3 69.4 412.6 71.3 412.8 73.1 413.1 74.8 413.4 76.6 413.7 78.3 414.0 79.9 414.3 81.5 414.6 83.0 414.9 84.4 415.1 85.8 415.4 87.1 415.7 88.3 416.0 89.4 416.3 90.4 416.6 91.4 416.9 92.2 417.1 92.9 417.4 93.2 417.7 93.2 418.0 93.1 418.3 92.9 418.6 92.7 418.9 92.3 419.1 91.9 419.4 91.4 419.7 90.8 420.0 90.1 420.3 89.4 420.6 88.5 420.9 87.7 421.2 86.8 421.4 85.8 421.7 84.7 422.0 83.7 422.3 82.5 422.6 81.4 422.9 80.2 423.2 78.9 423.4 77.7 423.7 76.4 424.0 75.1 424.3 73.7 424.6 72.4 424.9 71.0 425.2 69.7 425.5 68.3 425.7 67.0 426.0 65.6 426.3 64.2 426.6 62.9 426.9 61.6 427.2 60.3 427.5 59.0 427.7 57.7 428.0 56.5 428.3 55.3 428.6 54.1 428.9 53.0 429.2 51.9 429.5 50.9 429.7 49.9 430.0 48.9 430.3 48.0 430.6 47.2 430.9 46.4 431.2 45.7 431.5 45.0 431.8 44.4 432.0 43.8 432.3 43.3 432.6 42.9 432.9 42.6 433.2 42.3 433.5 42.1 433.8 41.9 434.0 41.8 434.3 41.8 434.6 41.9 434.9 42.0 435.2 42.2 435.5 42.4 435.8 42.7 436.1 43.1 436.3 43.5 436.6 44.0 436.9 44.6 437.2 45.2 437.5 45.9 437.8 46.6 438.1 47.4 438.3 48.2 438.6 49.1 438.9 50.0 439.2 50.9 439.5 51.9 439.8 52.9 440.1 54.0 440.3 55.1 440.6 56.2 440.9 57.3 441.2 58.4 441.5 59.5 441.8 60.7 442.1 61.8 442.4 63.0 442.6 64.1 442.9 65.3 443.2 66.4 443.5 67.5 443.8 68.6 444.1 69.7 444.4 70.7 444.6 71.8 444.9 72.8 445.2 73.7 445.5 74.6 445.8 75.5 446.1 76.3 446.4 77.1 446.7 77.8 446.9 78.5 447.2 79.1 447.5 79.7 447.8 80.2 448.1 80.6 448.4 81.0 448.7 81.3 448.9 81.6 449.2 81.8 449.5 81.9 449.8 82.0 450.1 82.0 450.4 81.9 450.7 81.8 451.0 81.6 451.2 81.3 451.5 81.0 451.8 80.6 452.1 80.1 452.4 79.6 452.7 79.1 453.0 78.4 453.2 77.8 453.5 77.0 453.8 76.3 454.1 75.4 454.4 74.6 454.7 73.7 455.0 72.7 455.2 71.7 455.5 70.7 455.8 69.7 456.1 68.6 456.4 67.5 456.7 66.4 457.0 65.3 457.3 64.2 457.5 63.1 457.8 61.9 458.1 60.8 458.4 59.7 458.7 58.6 459.0 57.5 459.3 56.4 459.5 55.3 459.8 54.3 460.1 53.2 460.4 52.3 460.7 51.3 461.0 50.4 461.3 49.5 461.6 48.7 461.8 47.9 462.1 47.2 462.4 46.5 462.7 45.9 463.0 45.3 463.3 44.8 463.6 44.3 463.8 43.9 464.1 43.6 464.4 43.3 464.7 43.1 465.0 43.0 465.3 42.9 465.6 42.9 465.8 43.0 466.1 43.1 466.4 43.3 466.7 43.5 467.0 43.9 467.3 44.2 467.6 44.7 467.9 45.2 468.1 45.7 468.4 46.3 468.7 47.0 469.0 47.7 469.3 48.5 469.6 49.3 469.9 50.2 470.1 51.1 470.4 52.0 470.7 53.0 471.0 54.0 471.3 55.0 471.6 56.1 471.9 57.2 472.2 58.3 472.4 59.4 472.7 60.5 473.0 61.6 473.3 62.8 473.6 63.9 473.9 65.0 474.2 66.1 474.4 67.2 474.7 68.3 475.0 69.4 475.3 70.4 475.6 71.4 475.9 72.4 476.2 73.4 476.4 74.3 476.7 75.2 477.0 76.0 477.3 76.8 477.6 77.5 477.9 78.2 478.2 78.8 478.5 79.4 478.7 79.9 479.0 80.4 479.3 80.8 479.6 81.1 479.9 81.4 480.2 81.6 480.5 81.8 480.7 81.9 481.0 81.9 481.3 81.8 481.6 81.7 481.9 81.5 482.2 81.3 482.5 81.0 482.8 80.6 483.0 80.2 483.3 79.7 483.6 79.1 483.9 78.5 484.2 77.8 484.5 77.1 484.8 76.4 485.0 75.6 485.3 74.7 485.6 73.8 485.9 72.9 486.2 71.9 486.5 70.9 486.8 69.9 487.1 68.8 487.3 67.7 487.6 66.6 487.9 65.5 488.2 64.4 488.5 63.3 488.8 62.2 489.1 61.0 489.3 59.9 489.6 58.8 489.9 57.7 490.2 56.6 490.5 55.5 490.8 54.5 491.1 53.5 491.3 52.5 491.6 51.5 491.9 50.6 492.2 49.7 492.5 48.9 492.8 48.1 493.1 47.3 493.4 46.7 493.6 46.0 493.9 45.4 494.2 44.9 494.5 44.4 494.8 44.0 495.1 43.7 495.4 43.4 495.6 43.2 495.9 43.0 496.2 43.0 496.5 42.9 496.8 43.0 497.1 43.1 497.4 43.3 497.7 43.5 497.9 43.8 498.2 44.2 498.5 44.6 498.8 45.1 499.1 45.6 499.4 46.2 499.7 46.9 499.9 47.6 500.2 48.4 500.5 49.2 500.8 50.0 501.1 50.9 501.4 51.8 501.7 52.8 501.9 53.8 502.2 54.8 502.5 55.9 502.8 57.0 503.1 58.0 503.4 59.2 503.7 60.3 504.0 61.4 504.2 62.5 504.5 63.7 504.8 64.8 505.1 65.9 505.4 67.0 505.7 68.1 506.0 69.2 506.2 70.2 506.5 71.2 506.8 72.2 507.1 73.2 507.4 74.1 507.7 75.0 508.0 75.8 508.3 76.6 508.5 77.4 508.8 78.1 509.1 78.7 509.4 79.3 509.7 79.8 510.0 80.3 510.3 80.7 510.5 81.1 510.8 81.4 511.1 81.6 511.4 81.7 511.7 81.8 512.0 81.9 512.3 81.8 512.5 81.7 512.8 81.6 513.1 81.3 513.4 81.0 513.7 80.7 514.0 80.3 514.3 79.8 514.6 79.2 514.8 78.6 515.1 78.0 515.4 77.3 515.7 76.5 516.0 75.7 516.3 74.9 516.6 74.0 516.8 73.1 517.1 72.1 517.4 71.1 517.7 70.1 518.0 69.0 518.3 68.0 518.6 66.9 518.9 65.8 519.1 64.6 519.4 63.5 519.7 62.4 520.0 61.2 520.3 60.1 520.6 59.0 520.9 57.9 521.1 56.8 521.4 55.7 521.7 54.7 522.0 53.7 522.3 52.7 522.6 51.7 522.9 50.8 523.2 49.9 523.4 49.0 523.7 48.2 524.0 47.5 524.3 46.8 524.6 46.1 524.9 45.5 525.2 45.0 525.4 44.5 525.7 44.1 526.0 43.8 526.3 43.5 526.6 43.2 526.9 43.1 527.2 43.0 527.4 42.9 527.7 43.0 528.0 43.1 528.3 43.2 528.6 43.4 528.9 43.7 529.2 44.1 529.5 44.5 529.7 45.0 530.0 45.5 530.3 46.1 530.6 46.7 530.9 47.4 531.2 48.2 531.5 49.0 531.7 49.8 532.0 50.7 532.3 51.6 532.6 52.6 532.9 53.6 533.2 54.6 533.5 55.7 533.8 56.7 534.0 57.8 534.3 58.9 534.6 60.1 534.9 61.2 535.2 62.3 535.5 63.4 535.8 64.6 536.0 65.7 536.3 66.8 536.6 67.9 536.9 69.0 537.2 70.0 537.5 71.0 537.8 72.0 538.0 73.0 538.3 73.9 538.6 74.8 538.9 75.7 539.2 76.5 539.5 77.2 539.8 77.9 540.1 78.6 540.3 79.2 540.6 79.7 540.9 80.2 541.2 80.6" stroke="#4A8ACB" stroke-width="1.1"/>
</g>
<rect x="386.20" y="21.50" width="155.00" height="81.80" fill="none" stroke="#3C3C3C" stroke-width="0.9"/>
<path d="M386.20 95.12h1.6M386.20 78.76h1.6M386.20 62.40h1.6M386.20 46.04h1.6M386.20 29.68h1.6M386.20 103.30v-1.6M417.20 103.30v-1.6M448.20 103.30v-1.6M479.20 103.30v-1.6M510.20 103.30v-1.6M541.20 103.30v-1.6" stroke="#3C3C3C" stroke-width="0.7" fill="none"/>
<g font-family="'Liberation Serif','Times New Roman',serif" font-size="6.6" fill="#222" stroke="#222" stroke-width="0.2">
<text x="384.90" y="97.32" text-anchor="end">-100</text>
<text x="384.90" y="80.96" text-anchor="end">-50</text>
<text x="384.90" y="64.60" text-anchor="end">0</text>
<text x="384.90" y="48.24" text-anchor="end">50</text>
<text x="384.90" y="31.88" text-anchor="end">100</text>
<text x="386.20" y="109.90" text-anchor="middle">0.18</text>
<text x="417.20" y="109.90" text-anchor="middle">0.20</text>
<text x="448.20" y="109.90" text-anchor="middle">0.22</text>
<text x="479.20" y="109.90" text-anchor="middle">0.24</text>
<text x="510.20" y="109.90" text-anchor="middle">0.26</text>
<text x="541.20" y="109.90" text-anchor="middle">0.28</text>
</g>
<clipPath id="cpc1"><rect x="386.20" y="116.30" width="155.00" height="82.10"/></clipPath>
<g clip-path="url(#cpc1)" fill="none" stroke-linejoin="round">
<path d="M417.1 157.3L417.4 156.4 417.7 155.2 418.0 154.0 418.3 153.0 418.6 152.1 418.9 151.3 419.1 150.8 419.4 150.4 419.7 150.2 420.0 150.2 420.3 150.3 420.6 150.5 420.9 150.9 421.2 151.4 421.4 151.9 421.7 152.6 422.0 153.3 422.3 154.2 422.6 155.1 422.9 156.1 423.2 157.2 423.4 158.4 423.7 159.6 424.0 160.9 424.3 162.2 424.6 163.5 424.9 164.9 425.2 166.3 425.5 167.6 425.7 169.0 426.0 170.4 426.3 171.7 426.6 173.1 426.9 174.3 427.2 175.6 427.5 176.7 427.7 177.8 428.0 178.9 428.3 179.8 428.6 180.7 428.9 181.5 429.2 182.2 429.5 182.7 429.7 183.2 430.0 183.6 430.3 183.8 430.6 184.0 430.9 184.0 431.2 184.0 431.5 183.8 431.8 183.5 432.0 183.1 432.3 182.6 432.6 182.0 432.9 181.3 433.2 180.5 433.5 179.6 433.8 178.7 434.0 177.6 434.3 176.5 434.6 175.2 434.9 173.9 435.2 172.5 435.5 171.1 435.8 169.6 436.1 168.1 436.3 166.5 436.6 164.8 436.9 163.1 437.2 161.4 437.5 159.7 437.8 157.9 438.1 156.1 438.3 154.4 438.6 152.6 438.9 150.8 439.2 149.0 439.5 147.3 439.8 145.6 440.1 143.9 440.3 142.2 440.6 140.6 440.9 139.1 441.2 137.6 441.5 136.1 441.8 134.7 442.1 133.4 442.4 132.2 442.6 131.0 442.9 130.0 443.2 129.0 443.5 128.1 443.8 127.3 444.1 126.6 444.4 126.0 444.6 125.5 444.9 125.1 445.2 124.8 445.5 124.6 445.8 124.5 446.1 124.5 446.4 124.7 446.7 125.0 446.9 125.4 447.2 125.9 447.5 126.6 447.8 127.4 448.1 128.2 448.4 129.3 448.7 130.4 448.9 131.6 449.2 132.9 449.5 134.3 449.8 135.8 450.1 137.4 450.4 139.1 450.7 140.9 451.0 142.7 451.2 144.5 451.5 146.4 451.8 148.4 452.1 150.4 452.4 152.4 452.7 154.5 453.0 156.6 453.2 158.6 453.5 160.7 453.8 162.8 454.1 164.8 454.4 166.8 454.7 168.8 455.0 170.7 455.2 172.6 455.5 174.5 455.8 176.2 456.1 177.9 456.4 179.6 456.7 181.1 457.0 182.6 457.3 183.9 457.5 185.2 457.8 186.4 458.1 187.4 458.4 188.4 458.7 189.2 459.0 189.9 459.3 190.5 459.5 190.9 459.8 191.3 460.1 191.5 460.4 191.6 460.7 191.5 461.0 191.4 461.3 191.1 461.6 190.7 461.8 190.1 462.1 189.5 462.4 188.8 462.7 187.9 463.0 187.0 463.3 185.9 463.6 184.7 463.8 183.5 464.1 182.1 464.4 180.7 464.7 179.1 465.0 177.5 465.3 175.9 465.6 174.1 465.8 172.3 466.1 170.5 466.4 168.6 466.7 166.7 467.0 164.7 467.3 162.7 467.6 160.7 467.9 158.7 468.1 156.6 468.4 154.6 468.7 152.6 469.0 150.6 469.3 148.6 469.6 146.7 469.9 144.8 470.1 142.9 470.4 141.1 470.7 139.3 471.0 137.7 471.3 136.0 471.6 134.5 471.9 133.0 472.2 131.6 472.4 130.3 472.7 129.2 473.0 128.1 473.3 127.1 473.6 126.2 473.9 125.4 474.2 124.7 474.4 124.2 474.7 123.7 475.0 123.4 475.3 123.2 475.6 123.1 475.9 123.2 476.2 123.3 476.4 123.6 476.7 124.0 477.0 124.5 477.3 125.1 477.6 125.8 477.9 126.6 478.2 127.6 478.5 128.6 478.7 129.7 479.0 130.9 479.3 132.2 479.6 133.6 479.9 135.1 480.2 136.6 480.5 138.2 480.7 139.9 481.0 141.7 481.3 143.4 481.6 145.3 481.9 147.2 482.2 149.1 482.5 151.0 482.8 153.0 483.0 155.0 483.3 156.9 483.6 158.9 483.9 160.9 484.2 162.9 484.5 164.8 484.8 166.7 485.0 168.6 485.3 170.5 485.6 172.3 485.9 174.1 486.2 175.8 486.5 177.4 486.8 179.0 487.1 180.5 487.3 181.9 487.6 183.3 487.9 184.5 488.2 185.7 488.5 186.7 488.8 187.7 489.1 188.6 489.3 189.3 489.6 190.0 489.9 190.5 490.2 190.9 490.5 191.3 490.8 191.5 491.1 191.6 491.3 191.5 491.6 191.4 491.9 191.1 492.2 190.8 492.5 190.3 492.8 189.7 493.1 189.0 493.4 188.2 493.6 187.2 493.9 186.2 494.2 185.1 494.5 183.9 494.8 182.6 495.1 181.2 495.4 179.8 495.6 178.2 495.9 176.6 496.2 175.0 496.5 173.2 496.8 171.4 497.1 169.6 497.4 167.7 497.7 165.8 497.9 163.9 498.2 161.9 498.5 159.9 498.8 158.0 499.1 156.0 499.4 154.0 499.7 152.0 499.9 150.1 500.2 148.1 500.5 146.2 500.8 144.4 501.1 142.6 501.4 140.8 501.7 139.1 501.9 137.4 502.2 135.9 502.5 134.4 502.8 132.9 503.1 131.6 503.4 130.3 503.7 129.1 504.0 128.1 504.2 127.1 504.5 126.2 504.8 125.4 505.1 124.8 505.4 124.2 505.7 123.8 506.0 123.5 506.2 123.2 506.5 123.1 506.8 123.2 507.1 123.3 507.4 123.5 507.7 123.9 508.0 124.4 508.3 125.0 508.5 125.7 508.8 126.5 509.1 127.4 509.4 128.4 509.7 129.5 510.0 130.7 510.3 132.0 510.5 133.3 510.8 134.8 511.1 136.3 511.4 137.9 511.7 139.6 512.0 141.3 512.3 143.1 512.5 144.9 512.8 146.8 513.1 148.7 513.4 150.6 513.7 152.6 514.0 154.6 514.3 156.5 514.6 158.5 514.8 160.5 515.1 162.5 515.4 164.4 515.7 166.4 516.0 168.3 516.3 170.1 516.6 171.9 516.8 173.7 517.1 175.4 517.4 177.1 517.7 178.7 518.0 180.2 518.3 181.6 518.6 183.0 518.9 184.3 519.1 185.4 519.4 186.5 519.7 187.5 520.0 188.4 520.3 189.2 520.6 189.9 520.9 190.4 521.1 190.9 521.4 191.2 521.7 191.4 522.0 191.5 522.3 191.5 522.6 191.4 522.9 191.2 523.2 190.8 523.4 190.4 523.7 189.8 524.0 189.1 524.3 188.3 524.6 187.4 524.9 186.4 525.2 185.3 525.4 184.2 525.7 182.9 526.0 181.5 526.3 180.1 526.6 178.5 526.9 177.0 527.2 175.3 527.4 173.6 527.7 171.8 528.0 170.0 528.3 168.1 528.6 166.2 528.9 164.3 529.2 162.3 529.5 160.3 529.7 158.4 530.0 156.4 530.3 154.4 530.6 152.4 530.9 150.5 531.2 148.5 531.5 146.6 531.7 144.8 532.0 142.9 532.3 141.2 532.6 139.4 532.9 137.8 533.2 136.2 533.5 134.7 533.8 133.2 534.0 131.8 534.3 130.6 534.6 129.4 534.9 128.3 535.2 127.3 535.5 126.4 535.8 125.6 536.0 124.9 536.3 124.3 536.6 123.9 536.9 123.5 537.2 123.3 537.5 123.2 537.8 123.2 538.0 123.3 538.3 123.5 538.6 123.8 538.9 124.3 539.2 124.8 539.5 125.5 539.8 126.3 540.1 127.2 540.3 128.2 540.6 129.2 540.9 130.4 541.2 131.7" stroke="#33353F" stroke-width="1.155"/>
<path d="M417.1 157.3L417.4 159.1 417.7 161.2 418.0 163.2 418.3 165.1 418.6 167.0 418.9 168.6 419.1 170.1 419.4 171.4 419.7 172.5 420.0 173.3 420.3 173.9 420.6 174.2 420.9 174.2 421.2 174.2 421.4 174.0 421.7 173.7 422.0 173.3 422.3 172.8 422.6 172.2 422.9 171.5 423.2 170.7 423.4 169.9 423.7 168.9 424.0 167.9 424.3 166.8 424.6 165.6 424.9 164.4 425.2 163.1 425.5 161.7 425.7 160.3 426.0 158.8 426.3 157.3 426.6 155.8 426.9 154.2 427.2 152.7 427.5 151.1 427.7 149.5 428.0 147.9 428.3 146.3 428.6 144.7 428.9 143.1 429.2 141.6 429.5 140.1 429.7 138.7 430.0 137.2 430.3 135.9 430.6 134.6 430.9 133.3 431.2 132.2 431.5 131.0 431.8 130.0 432.0 129.1 432.3 128.2 432.6 127.4 432.9 126.8 433.2 126.2 433.5 125.7 433.8 125.3 434.0 125.0 434.3 124.8 434.6 124.7 434.9 124.7 435.2 124.9 435.5 125.1 435.8 125.5 436.1 125.9 436.3 126.5 436.6 127.2 436.9 127.9 437.2 128.8 437.5 129.8 437.8 130.8 438.1 132.0 438.3 133.2 438.6 134.6 438.9 136.0 439.2 137.4 439.5 139.0 439.8 140.6 440.1 142.2 440.3 144.0 440.6 145.7 440.9 147.5 441.2 149.4 441.5 151.2 441.8 153.1 442.1 155.0 442.4 156.9 442.6 158.8 442.9 160.7 443.2 162.6 443.5 164.5 443.8 166.4 444.1 168.2 444.4 170.0 444.6 171.8 444.9 173.5 445.2 175.1 445.5 176.7 445.8 178.2 446.1 179.7 446.4 181.1 446.7 182.4 446.9 183.6 447.2 184.7 447.5 185.8 447.8 186.7 448.1 187.6 448.4 188.3 448.7 189.0 448.9 189.5 449.2 189.9 449.5 190.3 449.8 190.5 450.1 190.6 450.4 190.6 450.7 190.5 451.0 190.2 451.2 189.9 451.5 189.4 451.8 188.8 452.1 188.1 452.4 187.3 452.7 186.4 453.0 185.4 453.2 184.3 453.5 183.1 453.8 181.8 454.1 180.5 454.4 179.0 454.7 177.5 455.0 175.9 455.2 174.2 455.5 172.5 455.8 170.7 456.1 168.9 456.4 167.0 456.7 165.1 457.0 163.2 457.3 161.2 457.5 159.3 457.8 157.3 458.1 155.3 458.4 153.3 458.7 151.4 459.0 149.4 459.3 147.5 459.5 145.6 459.8 143.8 460.1 142.0 460.4 140.2 460.7 138.6 461.0 136.9 461.3 135.4 461.6 133.9 461.8 132.5 462.1 131.1 462.4 129.9 462.7 128.8 463.0 127.7 463.3 126.8 463.6 125.9 463.8 125.2 464.1 124.6 464.4 124.1 464.7 123.7 465.0 123.4 465.3 123.2 465.6 123.1 465.8 123.2 466.1 123.4 466.4 123.7 466.7 124.1 467.0 124.6 467.3 125.2 467.6 126.0 467.9 126.8 468.1 127.8 468.4 128.9 468.7 130.0 469.0 131.3 469.3 132.6 469.6 134.1 469.9 135.6 470.1 137.1 470.4 138.8 470.7 140.5 471.0 142.3 471.3 144.1 471.6 146.0 471.9 147.9 472.2 149.8 472.4 151.8 472.7 153.8 473.0 155.8 473.3 157.8 473.6 159.8 473.9 161.8 474.2 163.8 474.4 165.7 474.7 167.7 475.0 169.6 475.3 171.4 475.6 173.2 475.9 175.0 476.2 176.7 476.4 178.3 476.7 179.8 477.0 181.3 477.3 182.7 477.6 184.0 477.9 185.2 478.2 186.3 478.5 187.3 478.7 188.3 479.0 189.1 479.3 189.8 479.6 190.3 479.9 190.8 480.2 191.2 480.5 191.4 480.7 191.5 481.0 191.5 481.3 191.4 481.6 191.2 481.9 190.9 482.2 190.4 482.5 189.9 482.8 189.2 483.0 188.4 483.3 187.5 483.6 186.5 483.9 185.5 484.2 184.3 484.5 183.0 484.8 181.6 485.0 180.2 485.3 178.7 485.6 177.1 485.9 175.4 486.2 173.7 486.5 172.0 486.8 170.1 487.1 168.3 487.3 166.4 487.6 164.5 487.9 162.5 488.2 160.5 488.5 158.5 488.8 156.6 489.1 154.6 489.3 152.6 489.6 150.6 489.9 148.7 490.2 146.8 490.5 144.9 490.8 143.1 491.1 141.3 491.3 139.6 491.6 137.9 491.9 136.3 492.2 134.8 492.5 133.3 492.8 132.0 493.1 130.7 493.4 129.5 493.6 128.4 493.9 127.4 494.2 126.5 494.5 125.7 494.8 125.0 495.1 124.4 495.4 123.9 495.6 123.5 495.9 123.3 496.2 123.2 496.5 123.1 496.8 123.2 497.1 123.5 497.4 123.8 497.7 124.2 497.9 124.8 498.2 125.4 498.5 126.2 498.8 127.1 499.1 128.1 499.4 129.1 499.7 130.3 499.9 131.6 500.2 132.9 500.5 134.3 500.8 135.9 501.1 137.4 501.4 139.1 501.7 140.8 501.9 142.6 502.2 144.4 502.5 146.2 502.8 148.1 503.1 150.1 503.4 152.0 503.7 154.0 504.0 156.0 504.2 157.9 504.5 159.9 504.8 161.9 505.1 163.9 505.4 165.8 505.7 167.7 506.0 169.6 506.2 171.4 506.5 173.2 506.8 174.9 507.1 176.6 507.4 178.2 507.7 179.8 508.0 181.2 508.3 182.6 508.5 183.9 508.8 185.1 509.1 186.2 509.4 187.2 509.7 188.2 510.0 189.0 510.3 189.7 510.5 190.3 510.8 190.8 511.1 191.1 511.4 191.4 511.7 191.5 512.0 191.6 512.3 191.5 512.5 191.3 512.8 191.0 513.1 190.5 513.4 190.0 513.7 189.3 514.0 188.6 514.3 187.7 514.6 186.7 514.8 185.7 515.1 184.5 515.4 183.3 515.7 181.9 516.0 180.5 516.3 179.0 516.6 177.4 516.8 175.8 517.1 174.1 517.4 172.3 517.7 170.5 518.0 168.7 518.3 166.8 518.6 164.8 518.9 162.9 519.1 160.9 519.4 158.9 519.7 157.0 520.0 155.0 520.3 153.0 520.6 151.0 520.9 149.1 521.1 147.2 521.4 145.3 521.7 143.5 522.0 141.7 522.3 139.9 522.6 138.3 522.9 136.6 523.2 135.1 523.4 133.6 523.7 132.2 524.0 130.9 524.3 129.7 524.6 128.6 524.9 127.6 525.2 126.6 525.4 125.8 525.7 125.1 526.0 124.5 526.3 124.0 526.6 123.6 526.9 123.3 527.2 123.2 527.4 123.1 527.7 123.2 528.0 123.4 528.3 123.7 528.6 124.1 528.9 124.7 529.2 125.3 529.5 126.0 529.7 126.9 530.0 127.9 530.3 128.9 530.6 130.1 530.9 131.3 531.2 132.6 531.5 134.1 531.7 135.5 532.0 137.1 532.3 138.7 532.6 140.4 532.9 142.2 533.2 144.0 533.5 145.9 533.8 147.7 534.0 149.7 534.3 151.6 534.6 153.6 534.9 155.6 535.2 157.5 535.5 159.5 535.8 161.5 536.0 163.5 536.3 165.4 536.6 167.3 536.9 169.2 537.2 171.1 537.5 172.9 537.8 174.6 538.0 176.3 538.3 177.9 538.6 179.5 538.9 180.9 539.2 182.3 539.5 183.6 539.8 184.9 540.1 186.0 540.3 187.0 540.6 188.0 540.9 188.8 541.2 189.5" stroke="#4A8ACB" stroke-width="1.155"/>
<path d="M386.2 157.3L386.5 157.4 386.8 157.4 387.1 157.4 387.3 157.4 387.6 157.4 387.9 157.4 388.2 157.4 388.5 157.4 388.8 157.4 389.1 157.4 389.4 157.4 389.6 157.4 389.9 157.4 390.2 157.4 390.5 157.4 390.8 157.4 391.1 157.4 391.4 157.4 391.6 157.4 391.9 157.4 392.2 157.4 392.5 157.4 392.8 157.4 393.1 157.4 393.4 157.4 393.6 157.4 393.9 157.4 394.2 157.4 394.5 157.4 394.8 157.4 395.1 157.4 395.4 157.4 395.7 157.4 395.9 157.4 396.2 157.4 396.5 157.4 396.8 157.4 397.1 157.4 397.4 157.4 397.7 157.4 397.9 157.4 398.2 157.4 398.5 157.4 398.8 157.4 399.1 157.4 399.4 157.4 399.7 157.4 400.0 157.4 400.2 157.4 400.5 157.4 400.8 157.4 401.1 157.4 401.4 157.4 401.7 157.4 402.0 157.4 402.2 157.4 402.5 157.4 402.8 157.4 403.1 157.4 403.4 157.4 403.7 157.4 404.0 157.4 404.2 157.4 404.5 157.4 404.8 157.4 405.1 157.4 405.4 157.4 405.7 157.4 406.0 157.4 406.3 157.4 406.5 157.4 406.8 157.4 407.1 157.4 407.4 157.4 407.7 157.4 408.0 157.4 408.3 157.4 408.5 157.4 408.8 157.4 409.1 157.4 409.4 157.4 409.7 157.4 410.0 157.4 410.3 157.4 410.6 157.4 410.8 157.4 411.1 157.4 411.4 157.4 411.7 157.4 412.0 157.4 412.3 157.4 412.6 157.4 412.8 157.4 413.1 157.4 413.4 157.4 413.7 157.4 414.0 157.4 414.3 157.4 414.6 157.4 414.9 157.4 415.1 157.4 415.4 157.4 415.7 157.4 416.0 157.4 416.3 157.4 416.6 157.4 416.9 157.4 417.1 157.4 417.4 156.5 417.7 155.5 418.0 154.5 418.3 153.4 418.6 152.4 418.9 151.4 419.1 150.5 419.4 149.5 419.7 148.6 420.0 147.7 420.3 146.8 420.6 145.9 420.9 145.1 421.2 144.3 421.4 143.6 421.7 142.9 422.0 142.3 422.3 141.7 422.6 141.1 422.9 140.6 423.2 140.1 423.4 139.7 423.7 139.4 424.0 139.1 424.3 138.8 424.6 138.6 424.9 138.5 425.2 138.4 425.5 138.4 425.7 138.5 426.0 138.6 426.3 138.9 426.6 139.3 426.9 139.7 427.2 140.3 427.5 141.0 427.7 141.7 428.0 142.6 428.3 143.5 428.6 144.5 428.9 145.6 429.2 146.8 429.5 148.0 429.7 149.3 430.0 150.7 430.3 152.1 430.6 153.6 430.9 155.1 431.2 156.7 431.5 158.3 431.8 159.9 432.0 161.5 432.3 163.2 432.6 164.8 432.9 166.5 433.2 168.1 433.5 169.8 433.8 171.4 434.0 173.0 434.3 174.6 434.6 176.1 434.9 177.6 435.2 179.1 435.5 180.5 435.8 181.8 436.1 183.1 436.3 184.3 436.6 185.5 436.9 186.5 437.2 187.5 437.5 188.4 437.8 189.2 438.1 190.0 438.3 190.6 438.6 191.1 438.9 191.5 439.2 191.9 439.5 192.1 439.8 192.2 440.1 192.2 440.3 192.1 440.6 191.9 440.9 191.6 441.2 191.1 441.5 190.6 441.8 189.9 442.1 189.1 442.4 188.2 442.6 187.2 442.9 186.0 443.2 184.8 443.5 183.5 443.8 182.1 444.1 180.6 444.4 179.0 444.6 177.4 444.9 175.7 445.2 173.9 445.5 172.1 445.8 170.2 446.1 168.2 446.4 166.3 446.7 164.3 446.9 162.3 447.2 160.2 447.5 158.2 447.8 156.1 448.1 154.1 448.4 152.1 448.7 150.0 448.9 148.1 449.2 146.1 449.5 144.2 449.8 142.4 450.1 140.5 450.4 138.8 450.7 137.1 451.0 135.5 451.2 134.0 451.5 132.5 451.8 131.2 452.1 129.9 452.4 128.7 452.7 127.7 453.0 126.7 453.2 125.9 453.5 125.1 453.8 124.5 454.1 124.0 454.4 123.6 454.7 123.3 455.0 123.2 455.2 123.1 455.5 123.2 455.8 123.4 456.1 123.8 456.4 124.2 456.7 124.8 457.0 125.5 457.3 126.3 457.5 127.2 457.8 128.2 458.1 129.3 458.4 130.5 458.7 131.8 459.0 133.2 459.3 134.6 459.5 136.2 459.8 137.8 460.1 139.5 460.4 141.3 460.7 143.1 461.0 145.0 461.3 146.9 461.6 148.8 461.8 150.8 462.1 152.8 462.4 154.8 462.7 156.8 463.0 158.9 463.3 160.9 463.6 162.9 463.8 164.9 464.1 166.8 464.4 168.8 464.7 170.7 465.0 172.5 465.3 174.3 465.6 176.0 465.8 177.7 466.1 179.3 466.4 180.8 466.7 182.2 467.0 183.6 467.3 184.8 467.6 186.0 467.9 187.0 468.1 188.0 468.4 188.8 468.7 189.6 469.0 190.2 469.3 190.7 469.6 191.1 469.9 191.4 470.1 191.5 470.4 191.6 470.7 191.5 471.0 191.3 471.3 191.0 471.6 190.5 471.9 190.0 472.2 189.3 472.4 188.6 472.7 187.7 473.0 186.8 473.3 185.7 473.6 184.5 473.9 183.3 474.2 181.9 474.4 180.5 474.7 179.0 475.0 177.4 475.3 175.8 475.6 174.1 475.9 172.3 476.2 170.5 476.4 168.7 476.7 166.8 477.0 164.9 477.3 162.9 477.6 160.9 477.9 159.0 478.2 157.0 478.5 155.0 478.7 153.0 479.0 151.1 479.3 149.1 479.6 147.2 479.9 145.3 480.2 143.5 480.5 141.7 480.7 140.0 481.0 138.3 481.3 136.7 481.6 135.1 481.9 133.6 482.2 132.2 482.5 130.9 482.8 129.7 483.0 128.6 483.3 127.6 483.6 126.6 483.9 125.8 484.2 125.1 484.5 124.5 484.8 124.0 485.0 123.6 485.3 123.3 485.6 123.2 485.9 123.1 486.2 123.2 486.5 123.4 486.8 123.7 487.1 124.1 487.3 124.7 487.6 125.3 487.9 126.0 488.2 126.9 488.5 127.8 488.8 128.9 489.1 130.0 489.3 131.3 489.6 132.6 489.9 134.0 490.2 135.5 490.5 137.1 490.8 138.7 491.1 140.4 491.3 142.2 491.6 144.0 491.9 145.8 492.2 147.7 492.5 149.6 492.8 151.6 493.1 153.6 493.4 155.5 493.6 157.5 493.9 159.5 494.2 161.5 494.5 163.4 494.8 165.4 495.1 167.3 495.4 169.2 495.6 171.0 495.9 172.8 496.2 174.6 496.5 176.3 496.8 177.9 497.1 179.4 497.4 180.9 497.7 182.3 497.9 183.6 498.2 184.9 498.5 186.0 498.8 187.0 499.1 188.0 499.4 188.8 499.7 189.5 499.9 190.1 500.2 190.7 500.5 191.1 500.8 191.3 501.1 191.5 501.4 191.6 501.7 191.5 501.9 191.3 502.2 191.0 502.5 190.6 502.8 190.1 503.1 189.5 503.4 188.7 503.7 187.9 504.0 187.0 504.2 185.9 504.5 184.8 504.8 183.5 505.1 182.2 505.4 180.8 505.7 179.3 506.0 177.8 506.2 176.1 506.5 174.4 506.8 172.7 507.1 170.9 507.4 169.1 507.7 167.2 508.0 165.2 508.3 163.3 508.5 161.3 508.8 159.4 509.1 157.4 509.4 155.4 509.7 153.4 510.0 151.4 510.3 149.5 510.5 147.6 510.8 145.7 511.1 143.8 511.4 142.0 511.7 140.3 512.0 138.6 512.3 137.0 512.5 135.4 512.8 133.9 513.1 132.5 513.4 131.2 513.7 130.0 514.0 128.8 514.3 127.8 514.6 126.8 514.8 126.0 515.1 125.2 515.4 124.6 515.7 124.1 516.0 123.7 516.3 123.4 516.6 123.2 516.8 123.1 517.1 123.2 517.4 123.4 517.7 123.6 518.0 124.0 518.3 124.5 518.6 125.2 518.9 125.9 519.1 126.7 519.4 127.6 519.7 128.7 520.0 129.8 520.3 131.0 520.6 132.3 520.9 133.7 521.1 135.2 521.4 136.8 521.7 138.4 522.0 140.1 522.3 141.8 522.6 143.6 522.9 145.5 523.2 147.3 523.4 149.3 523.7 151.2 524.0 153.2 524.3 155.1 524.6 157.1 524.9 159.1 525.2 161.1 525.4 163.1 525.7 165.0 526.0 166.9 526.3 168.8 526.6 170.7 526.9 172.5 527.2 174.2 527.4 175.9 527.7 177.6 528.0 179.1 528.3 180.6 528.6 182.0 528.9 183.4 529.2 184.6 529.5 185.8 529.7 186.8 530.0 187.8 530.3 188.6 530.6 189.4 530.9 190.0 531.2 190.6 531.5 191.0 531.7 191.3 532.0 191.5 532.3 191.6 532.6 191.5 532.9 191.4 533.2 191.1 533.5 190.7 533.8 190.2 534.0 189.6 534.3 188.9 534.6 188.1 534.9 187.2 535.2 186.1 535.5 185.0 535.8 183.8 536.0 182.5 536.3 181.1 536.6 179.6 536.9 178.1 537.2 176.5 537.5 174.8 537.8 173.1 538.0 171.3 538.3 169.4 538.6 167.5 538.9 165.6 539.2 163.7 539.5 161.7 539.8 159.8 540.1 157.8 540.3 155.8 540.6 153.8 540.9 151.8 541.2 149.9" stroke="#F29440" stroke-width="1.155"/>
</g>
<rect x="386.20" y="116.30" width="155.00" height="82.10" fill="none" stroke="#3C3C3C" stroke-width="0.9"/>
<path d="M386.20 198.40h1.6M386.20 184.72h1.6M386.20 171.03h1.6M386.20 157.35h1.6M386.20 143.67h1.6M386.20 129.98h1.6M386.20 116.30h1.6M386.20 198.40v-1.6M417.20 198.40v-1.6M448.20 198.40v-1.6M479.20 198.40v-1.6M510.20 198.40v-1.6M541.20 198.40v-1.6" stroke="#3C3C3C" stroke-width="0.7" fill="none"/>
<g font-family="'Liberation Serif','Times New Roman',serif" font-size="6.6" fill="#222" stroke="#222" stroke-width="0.2">
<text x="384.90" y="200.60" text-anchor="end">-60</text>
<text x="384.90" y="186.92" text-anchor="end">-40</text>
<text x="384.90" y="173.23" text-anchor="end">-20</text>
<text x="384.90" y="159.55" text-anchor="end">0</text>
<text x="384.90" y="145.87" text-anchor="end">20</text>
<text x="384.90" y="132.18" text-anchor="end">40</text>
<text x="384.90" y="118.50" text-anchor="end">60</text>
<text x="386.20" y="205.00" text-anchor="middle">0.18</text>
<text x="417.20" y="205.00" text-anchor="middle">0.20</text>
<text x="448.20" y="205.00" text-anchor="middle">0.22</text>
<text x="479.20" y="205.00" text-anchor="middle">0.24</text>
<text x="510.20" y="205.00" text-anchor="middle">0.26</text>
<text x="541.20" y="205.00" text-anchor="middle">0.28</text>
</g>
<clipPath id="cpc2"><rect x="386.20" y="213.00" width="155.00" height="81.10"/></clipPath>
<g clip-path="url(#cpc2)" fill="none" stroke-linejoin="round">
<path d="M412.0 253.6L412.3 256.4 412.6 259.7 412.8 262.9 413.1 265.6 413.4 267.9 413.7 269.7 414.0 270.8 414.3 271.4 414.6 271.3 414.9 270.7 415.1 269.8 415.4 268.4 415.7 266.7 416.0 264.7 416.3 262.4 416.6 259.8 416.9 257.2 417.1 254.4 417.4 251.6 417.7 248.9 418.0 246.3 418.3 243.9 418.6 241.8 418.9 239.9 419.1 238.4 419.4 237.3 419.7 236.6 420.0 236.3 420.3 236.6 420.6 237.8 420.9 239.7 421.2 242.3 421.4 245.4 421.7 248.8 422.0 252.5 422.3 256.1 422.6 259.5 422.9 262.4 423.2 264.9 423.4 266.6 423.7 267.6 424.0 267.7 424.3 266.9 424.6 265.2 424.9 262.6 425.2 259.3 425.5 255.4 425.7 251.1 426.0 246.6 426.3 241.9 426.6 237.5 426.9 233.3 427.2 229.6 427.5 226.6 427.7 224.4 428.0 223.0 428.3 222.5 428.6 223.3 428.9 225.3 429.2 228.7 429.5 233.1 429.7 238.5 430.0 244.5 430.3 250.9 430.6 257.4 430.9 263.7 431.2 269.6 431.5 274.7 431.8 278.8 432.0 281.8 432.3 283.6 432.6 283.9 432.9 283.3 433.2 281.7 433.5 279.2 433.8 276.0 434.0 272.1 434.3 267.7 434.6 262.8 434.9 257.6 435.2 252.4 435.5 247.1 435.8 242.1 436.1 237.4 436.3 233.1 436.6 229.5 436.9 226.7 437.2 224.6 437.5 223.4 437.8 223.2 438.1 223.8 438.3 225.4 438.6 227.8 438.9 230.9 439.2 234.8 439.5 239.3 439.8 244.1 440.1 249.3 440.3 254.6 440.6 259.8 440.9 264.9 441.2 269.6 441.5 273.8 441.8 277.5 442.1 280.4 442.4 282.4 442.6 283.6 442.9 283.9 443.2 283.3 443.5 281.8 443.8 279.4 444.1 276.3 444.4 272.4 444.6 268.0 444.9 263.1 445.2 258.0 445.5 252.7 445.8 247.5 446.1 242.4 446.4 237.7 446.7 233.4 446.9 229.8 447.2 226.8 447.5 224.7 447.8 223.5 448.1 223.1 448.4 223.7 448.7 225.2 448.9 227.6 449.2 230.7 449.5 234.6 449.8 239.0 450.1 243.8 450.4 248.9 450.7 254.2 451.0 259.5 451.2 264.6 451.5 269.3 451.8 273.6 452.1 277.3 452.4 280.2 452.7 282.4 453.0 283.6 453.2 284.0 453.5 283.4 453.8 282.0 454.1 279.6 454.4 276.5 454.7 272.7 455.0 268.2 455.2 263.4 455.5 258.2 455.8 252.9 456.1 247.6 456.4 242.5 456.7 237.7 457.0 233.4 457.3 229.6 457.5 226.6 457.8 224.5 458.1 223.1 458.4 222.8 458.7 223.3 459.0 224.8 459.3 227.1 459.5 230.2 459.8 234.1 460.1 238.6 460.4 243.5 460.7 248.7 461.0 254.1 461.3 259.4 461.6 264.6 461.8 269.5 462.1 273.9 462.4 277.7 462.7 280.7 463.0 283.0 463.3 284.3 463.6 284.8 463.8 284.3 464.1 282.8 464.4 280.5 464.7 277.3 465.0 273.4 465.3 269.0 465.6 264.0 465.8 258.7 466.1 253.3 466.4 247.9 466.7 242.6 467.0 237.7 467.3 233.2 467.6 229.4 467.9 226.3 468.1 224.0 468.4 222.6 468.7 222.1 469.0 222.6 469.3 224.0 469.6 226.3 469.9 229.5 470.1 233.3 470.4 237.8 470.7 242.7 471.0 248.0 471.3 253.4 471.6 258.9 471.9 264.1 472.2 269.1 472.4 273.6 472.7 277.4 473.0 280.6 473.3 282.9 473.6 284.3 473.9 284.8 474.2 284.4 474.4 283.0 474.7 280.8 475.0 277.7 475.3 273.9 475.6 269.4 475.9 264.5 476.2 259.3 476.4 253.9 476.7 248.5 477.0 243.3 477.3 238.3 477.6 233.9 477.9 230.0 478.2 226.8 478.5 224.5 478.7 223.1 479.0 222.5 479.3 222.9 479.6 224.3 479.9 226.5 480.2 229.5 480.5 233.3 480.7 237.6 481.0 242.5 481.3 247.6 481.6 253.0 481.9 258.3 482.2 263.5 482.5 268.4 482.8 272.9 483.0 276.7 483.3 279.8 483.6 282.2 483.9 283.7 484.2 284.2 484.5 283.8 484.8 282.5 485.0 280.4 485.3 277.4 485.6 273.7 485.9 269.4 486.2 264.6 486.5 259.5 486.8 254.3 487.1 249.0 487.3 243.8 487.6 238.9 487.9 234.5 488.2 230.7 488.5 227.6 488.8 225.2 489.1 223.7 489.3 223.1 489.6 223.5 489.9 224.7 490.2 226.9 490.5 229.8 490.8 233.5 491.1 237.7 491.3 242.5 491.6 247.5 491.9 252.8 492.2 258.1 492.5 263.2 492.8 268.1 493.1 272.5 493.4 276.3 493.6 279.5 493.9 281.8 494.2 283.3 494.5 284.0 494.8 283.6 495.1 282.4 495.4 280.3 495.6 277.4 495.9 273.8 496.2 269.5 496.5 264.8 496.8 259.7 497.1 254.5 497.4 249.2 497.7 244.0 497.9 239.2 498.2 234.8 498.5 230.9 498.8 227.7 499.1 225.3 499.4 223.8 499.7 223.2 499.9 223.4 500.2 224.6 500.5 226.7 500.8 229.6 501.1 233.2 501.4 237.4 501.7 242.1 501.9 247.2 502.2 252.4 502.5 257.7 502.8 262.9 503.1 267.8 503.4 272.2 503.7 276.1 504.0 279.3 504.2 281.7 504.5 283.3 504.8 283.9 505.1 283.7 505.4 282.5 505.7 280.5 506.0 277.6 506.2 274.0 506.5 269.8 506.8 265.1 507.1 260.1 507.4 254.8 507.7 249.5 508.0 244.4 508.3 239.5 508.5 235.0 508.8 231.1 509.1 227.9 509.4 225.5 509.7 223.9 510.0 223.2 510.3 223.4 510.5 224.5 510.8 226.5 511.1 229.4 511.4 232.9 511.7 237.1 512.0 241.8 512.3 246.8 512.5 252.1 512.8 257.4 513.1 262.5 513.4 267.4 513.7 271.9 514.0 275.8 514.3 279.1 514.6 281.6 514.8 283.2 515.1 283.9 515.4 283.7 515.7 282.6 516.0 280.6 516.3 277.8 516.6 274.3 516.8 270.1 517.1 265.5 517.4 260.4 517.7 255.2 518.0 249.9 518.3 244.7 518.6 239.8 518.9 235.3 519.1 231.4 519.4 228.1 519.7 225.6 520.0 223.9 520.3 223.2 520.6 223.3 520.9 224.4 521.1 226.4 521.4 229.2 521.7 232.7 522.0 236.8 522.3 241.5 522.6 246.5 522.9 251.7 523.2 257.0 523.4 262.2 523.7 267.1 524.0 271.6 524.3 275.6 524.6 278.9 524.9 281.4 525.2 283.1 525.4 283.9 525.7 283.8 526.0 282.7 526.3 280.8 526.6 278.0 526.9 274.6 527.2 270.4 527.4 265.8 527.7 260.8 528.0 255.5 528.3 250.2 528.6 245.1 528.9 240.1 529.2 235.6 529.5 231.6 529.7 228.3 530.0 225.7 530.3 224.0 530.6 223.2 530.9 223.3 531.2 224.3 531.5 226.2 531.7 228.9 532.0 232.4 532.3 236.5 532.6 241.2 532.9 246.2 533.2 251.4 533.5 256.7 533.8 261.9 534.0 266.8 534.3 271.4 534.6 275.4 534.9 278.7 535.2 281.3 535.5 283.0 535.8 283.9 536.0 283.8 536.3 282.8 536.6 281.0 536.9 278.3 537.2 274.8 537.5 270.7 537.8 266.1 538.0 261.1 538.3 255.9 538.6 250.6 538.9 245.4 539.2 240.4 539.5 235.9 539.8 231.9 540.1 228.5 540.3 225.9 540.6 224.1 540.9 223.2 541.2 223.3" stroke="#4A8ACB" stroke-width="1.045"/>
<path d="M412.0 253.6L412.3 254.9 412.6 256.6 412.8 258.2 413.1 259.8 413.4 261.3 413.7 262.8 414.0 264.3 414.3 265.7 414.6 267.0 414.9 268.3 415.1 269.4 415.4 270.5 415.7 271.5 416.0 272.3 416.3 273.1 416.6 273.8 416.9 274.3 417.1 274.7 417.4 275.0 417.7 275.2 418.0 275.2 418.3 274.6 418.6 273.1 418.9 270.6 419.1 267.4 419.4 263.6 419.7 259.4 420.0 255.0 420.3 250.8 420.6 246.8 420.9 243.4 421.2 240.6 421.4 238.8 421.7 237.8 422.0 237.8 422.3 238.5 422.6 239.8 422.9 241.6 423.2 243.9 423.4 246.7 423.7 249.8 424.0 253.1 424.3 256.5 424.6 259.9 424.9 263.2 425.2 266.3 425.5 269.1 425.7 271.4 426.0 273.2 426.3 274.5 426.6 275.1 426.9 275.1 427.2 274.0 427.5 271.7 427.7 268.3 428.0 264.1 428.3 259.1 428.6 253.7 428.9 248.1 429.2 242.6 429.5 237.4 429.7 232.7 430.0 228.8 430.3 225.9 430.6 224.1 430.9 223.5 431.2 224.0 431.5 225.4 431.8 227.7 432.0 230.8 432.3 234.5 432.6 238.9 432.9 243.8 433.2 248.9 433.5 254.2 433.8 259.5 434.0 264.6 434.3 269.4 434.6 273.6 434.9 277.3 435.2 280.3 435.5 282.4 435.8 283.6 436.1 284.0 436.3 283.3 436.6 281.8 436.9 279.5 437.2 276.3 437.5 272.5 437.8 268.1 438.1 263.2 438.3 258.1 438.6 252.8 438.9 247.5 439.2 242.5 439.5 237.7 439.8 233.5 440.1 229.8 440.3 226.9 440.6 224.7 440.9 223.5 441.2 223.1 441.5 223.7 441.8 225.2 442.1 227.5 442.4 230.7 442.6 234.5 442.9 238.9 443.2 243.7 443.5 248.8 443.8 254.1 444.1 259.4 444.4 264.5 444.6 269.2 444.9 273.5 445.2 277.2 445.5 280.1 445.8 282.3 446.1 283.6 446.4 284.0 446.7 283.4 446.9 282.0 447.2 279.7 447.5 276.6 447.8 272.8 448.1 268.4 448.4 263.6 448.7 258.4 448.9 253.1 449.2 247.9 449.5 242.8 449.8 238.0 450.1 233.7 450.4 230.0 450.7 227.0 451.0 224.9 451.2 223.5 451.5 223.1 451.8 223.7 452.1 225.1 452.4 227.4 452.7 230.5 453.0 234.2 453.2 238.6 453.5 243.5 453.8 248.6 454.1 253.9 454.4 259.2 454.7 264.3 455.0 269.1 455.2 273.4 455.5 277.2 455.8 280.2 456.1 282.4 456.4 283.8 456.7 284.2 457.0 283.7 457.3 282.3 457.5 280.0 457.8 276.9 458.1 273.1 458.4 268.7 458.7 263.8 459.0 258.6 459.3 253.3 459.5 247.9 459.8 242.8 460.1 237.9 460.4 233.5 460.7 229.7 461.0 226.6 461.3 224.3 461.6 222.9 461.8 222.5 462.1 222.9 462.4 224.3 462.7 226.6 463.0 229.7 463.3 233.6 463.6 238.0 463.8 242.9 464.1 248.2 464.4 253.6 464.7 259.0 465.0 264.2 465.3 269.2 465.6 273.7 465.8 277.5 466.1 280.7 466.4 283.0 466.7 284.4 467.0 284.9 467.3 284.5 467.6 283.1 467.9 280.9 468.1 277.8 468.4 273.9 468.7 269.5 469.0 264.6 469.3 259.3 469.6 253.9 469.9 248.4 470.1 243.2 470.4 238.2 470.7 233.7 471.0 229.8 471.3 226.6 471.6 224.2 471.9 222.7 472.2 222.2 472.4 222.6 472.7 223.9 473.0 226.2 473.3 229.2 473.6 233.0 473.9 237.4 474.2 242.3 474.4 247.5 474.7 252.9 475.0 258.4 475.3 263.6 475.6 268.6 475.9 273.1 476.2 277.0 476.4 280.2 476.7 282.6 477.0 284.1 477.3 284.7 477.6 284.3 477.9 283.0 478.2 280.8 478.5 277.8 478.7 274.1 479.0 269.7 479.3 264.9 479.6 259.7 479.9 254.4 480.2 249.0 480.5 243.8 480.7 238.8 481.0 234.4 481.3 230.5 481.6 227.3 481.9 224.9 482.2 223.4 482.5 222.8 482.8 223.1 483.0 224.3 483.3 226.5 483.6 229.4 483.9 233.1 484.2 237.4 484.5 242.1 484.8 247.2 485.0 252.5 485.3 257.9 485.6 263.0 485.9 267.9 486.2 272.4 486.5 276.3 486.8 279.4 487.1 281.8 487.3 283.4 487.6 284.0 487.9 283.7 488.2 282.5 488.5 280.4 488.8 277.5 489.1 273.9 489.3 269.6 489.6 264.9 489.9 259.8 490.2 254.6 490.5 249.3 490.8 244.1 491.1 239.3 491.3 234.8 491.6 231.0 491.9 227.8 492.2 225.4 492.5 223.8 492.8 223.2 493.1 223.4 493.4 224.6 493.6 226.7 493.9 229.5 494.2 233.1 494.5 237.3 494.8 242.1 495.1 247.1 495.4 252.4 495.6 257.6 495.9 262.8 496.2 267.7 496.5 272.1 496.8 276.0 497.1 279.2 497.4 281.7 497.7 283.3 497.9 283.9 498.2 283.7 498.5 282.5 498.8 280.5 499.1 277.7 499.4 274.1 499.7 269.9 499.9 265.2 500.2 260.2 500.5 254.9 500.8 249.6 501.1 244.5 501.4 239.6 501.7 235.1 501.9 231.2 502.2 228.0 502.5 225.5 502.8 223.9 503.1 223.2 503.4 223.4 503.7 224.5 504.0 226.5 504.2 229.3 504.5 232.9 504.8 237.1 505.1 241.7 505.4 246.8 505.7 252.0 506.0 257.3 506.2 262.5 506.5 267.4 506.8 271.9 507.1 275.8 507.4 279.1 507.7 281.5 508.0 283.2 508.3 283.9 508.5 283.7 508.8 282.7 509.1 280.7 509.4 277.9 509.7 274.4 510.0 270.2 510.3 265.5 510.5 260.5 510.8 255.3 511.1 250.0 511.4 244.8 511.7 239.9 512.0 235.4 512.3 231.4 512.5 228.1 512.8 225.6 513.1 224.0 513.4 223.2 513.7 223.3 514.0 224.4 514.3 226.3 514.6 229.1 514.8 232.6 515.1 236.8 515.4 241.4 515.7 246.4 516.0 251.7 516.3 256.9 516.6 262.1 516.8 267.1 517.1 271.6 517.4 275.5 517.7 278.9 518.0 281.4 518.3 283.1 518.6 283.9 518.9 283.8 519.1 282.8 519.4 280.8 519.7 278.1 520.0 274.6 520.3 270.5 520.6 265.9 520.9 260.8 521.1 255.6 521.4 250.3 521.7 245.1 522.0 240.2 522.3 235.7 522.6 231.7 522.9 228.3 523.2 225.8 523.4 224.0 523.7 223.2 524.0 223.3 524.3 224.3 524.6 226.2 524.9 228.9 525.2 232.4 525.4 236.5 525.7 241.1 526.0 246.1 526.3 251.3 526.6 256.6 526.9 261.8 527.2 266.7 527.4 271.3 527.7 275.3 528.0 278.7 528.3 281.3 528.6 283.0 528.9 283.9 529.2 283.8 529.5 282.8 529.7 281.0 530.0 278.3 530.3 274.9 530.6 270.8 530.9 266.2 531.2 261.2 531.5 256.0 531.7 250.7 532.0 245.5 532.3 240.5 532.6 236.0 532.9 231.9 533.2 228.5 533.5 225.9 533.8 224.1 534.0 223.2 534.3 223.3 534.6 224.2 534.9 226.0 535.2 228.7 535.5 232.1 535.8 236.2 536.0 240.8 536.3 245.7 536.6 251.0 536.9 256.2 537.2 261.5 537.5 266.4 537.8 271.0 538.0 275.1 538.3 278.5 538.6 281.1 538.9 282.9 539.2 283.8 539.5 283.9 539.8 282.9 540.1 281.1 540.3 278.5 540.6 275.1 540.9 271.1 541.2 266.5" stroke="#33353F" stroke-width="1.045"/>
<path d="M386.2 253.6L386.5 253.6 386.8 253.6 387.1 253.6 387.3 253.6 387.6 253.6 387.9 253.6 388.2 253.6 388.5 253.6 388.8 253.6 389.1 253.6 389.4 253.6 389.6 253.6 389.9 253.6 390.2 253.6 390.5 253.6 390.8 253.6 391.1 253.6 391.4 253.6 391.6 253.6 391.9 253.6 392.2 253.6 392.5 253.6 392.8 253.6 393.1 253.6 393.4 253.6 393.6 253.6 393.9 253.6 394.2 253.6 394.5 253.6 394.8 253.6 395.1 253.6 395.4 253.6 395.7 253.6 395.9 253.6 396.2 253.6 396.5 253.6 396.8 253.6 397.1 253.6 397.4 253.6 397.7 253.6 397.9 253.6 398.2 253.6 398.5 253.6 398.8 253.6 399.1 253.6 399.4 253.6 399.7 253.6 400.0 253.6 400.2 253.6 400.5 253.6 400.8 253.6 401.1 253.6 401.4 253.6 401.7 253.6 402.0 253.6 402.2 253.6 402.5 253.6 402.8 253.6 403.1 253.6 403.4 253.6 403.7 253.6 404.0 253.6 404.2 253.6 404.5 253.6 404.8 253.6 405.1 253.6 405.4 253.6 405.7 253.6 406.0 253.6 406.3 253.6 406.5 253.6 406.8 253.6 407.1 253.6 407.4 253.6 407.7 253.6 408.0 253.6 408.3 253.6 408.5 253.6 408.8 253.6 409.1 253.6 409.4 253.6 409.7 253.6 410.0 253.6 410.3 253.6 410.6 253.6 410.8 253.6 411.1 253.6 411.4 253.6 411.7 253.6 412.0 253.6 412.3 250.6 412.6 247.1 412.8 243.7 413.1 240.5 413.4 237.5 413.7 234.7 414.0 232.2 414.3 230.1 414.6 228.3 414.9 226.9 415.1 225.9 415.4 225.3 415.7 225.2 416.0 225.5 416.3 226.4 416.6 227.8 416.9 229.6 417.1 231.9 417.4 234.4 417.7 237.3 418.0 240.3 418.3 243.4 418.6 246.6 418.9 249.7 419.1 252.6 419.4 255.3 419.7 257.7 420.0 259.8 420.3 261.4 420.6 262.5 420.9 263.1 421.2 263.3 421.4 262.7 421.7 261.4 422.0 259.5 422.3 257.1 422.6 254.5 422.9 251.7 423.2 249.0 423.4 246.5 423.7 244.6 424.0 243.2 424.3 242.5 424.6 242.5 424.9 243.0 425.2 244.1 425.5 245.6 425.7 247.5 426.0 249.9 426.3 252.5 426.6 255.4 426.9 258.6 427.2 261.8 427.5 265.0 427.7 268.2 428.0 271.3 428.3 274.2 428.6 276.8 428.9 279.0 429.2 280.8 429.5 282.2 429.7 283.1 430.0 283.5 430.3 283.2 430.6 281.6 430.9 278.8 431.2 274.9 431.5 270.1 431.8 264.5 432.0 258.6 432.3 252.5 432.6 246.5 432.9 241.0 433.2 236.1 433.5 232.1 433.8 229.1 434.0 227.4 434.3 227.0 434.6 227.6 434.9 229.0 435.2 231.1 435.5 233.8 435.8 237.2 436.1 241.1 436.3 245.4 436.6 249.9 436.9 254.5 437.2 259.1 437.5 263.6 437.8 267.7 438.1 271.4 438.3 274.6 438.6 277.1 438.9 279.0 439.2 280.0 439.5 280.3 439.8 279.7 440.1 278.4 440.3 276.3 440.6 273.5 440.9 270.1 441.2 266.2 441.5 261.9 441.8 257.3 442.1 252.6 442.4 248.0 442.6 243.5 442.9 239.3 443.2 235.5 443.5 232.2 443.8 229.6 444.1 227.8 444.4 226.7 444.6 226.4 444.9 226.9 445.2 228.3 445.5 230.4 445.8 233.3 446.1 236.9 446.4 240.9 446.7 245.4 446.9 250.1 447.2 255.0 447.5 259.9 447.8 264.6 448.1 269.0 448.4 272.9 448.7 276.3 448.9 279.0 449.2 281.0 449.5 282.2 449.8 282.5 450.1 282.0 450.4 280.6 450.7 278.3 451.0 275.3 451.2 271.6 451.5 267.3 451.8 262.6 452.1 257.6 452.4 252.5 452.7 247.4 453.0 242.4 453.2 237.8 453.5 233.6 453.8 230.0 454.1 227.1 454.4 225.0 454.7 223.7 455.0 223.3 455.2 223.8 455.5 225.3 455.8 227.6 456.1 230.7 456.4 234.5 456.7 238.9 457.0 243.7 457.3 248.8 457.5 254.1 457.8 259.4 458.1 264.6 458.4 269.4 458.7 273.7 459.0 277.4 459.3 280.4 459.5 282.7 459.8 284.0 460.1 284.4 460.4 283.9 460.7 282.5 461.0 280.2 461.3 277.1 461.6 273.2 461.8 268.8 462.1 263.9 462.4 258.6 462.7 253.2 463.0 247.9 463.3 242.6 463.6 237.7 463.8 233.3 464.1 229.5 464.4 226.4 464.7 224.1 465.0 222.7 465.3 222.2 465.6 222.7 465.8 224.1 466.1 226.4 466.4 229.5 466.7 233.4 467.0 237.9 467.3 242.8 467.6 248.1 467.9 253.5 468.1 258.9 468.4 264.2 468.7 269.2 469.0 273.7 469.3 277.5 469.6 280.7 469.9 283.0 470.1 284.5 470.4 285.0 470.7 284.5 471.0 283.1 471.3 280.9 471.6 277.8 471.9 274.0 472.2 269.5 472.4 264.6 472.7 259.3 473.0 253.9 473.3 248.5 473.6 243.2 473.9 238.3 474.2 233.8 474.4 229.9 474.7 226.7 475.0 224.4 475.3 222.9 475.6 222.3 475.9 222.8 476.2 224.1 476.4 226.3 476.7 229.4 477.0 233.1 477.3 237.5 477.6 242.4 477.9 247.6 478.2 253.0 478.5 258.4 478.7 263.6 479.0 268.5 479.3 273.0 479.6 276.9 479.9 280.1 480.2 282.4 480.5 283.9 480.7 284.5 481.0 284.1 481.3 282.8 481.6 280.6 481.9 277.7 482.2 273.9 482.5 269.6 482.8 264.8 483.0 259.7 483.3 254.4 483.6 249.0 483.9 243.8 484.2 238.9 484.5 234.5 484.8 230.6 485.0 227.5 485.3 225.1 485.6 223.6 485.9 223.0 486.2 223.4 486.5 224.6 486.8 226.7 487.1 229.7 487.3 233.3 487.6 237.6 487.9 242.3 488.2 247.4 488.5 252.7 488.8 258.0 489.1 263.1 489.3 268.0 489.6 272.4 489.9 276.3 490.2 279.4 490.5 281.8 490.8 283.3 491.1 283.9 491.3 283.6 491.6 282.4 491.9 280.3 492.2 277.4 492.5 273.8 492.8 269.6 493.1 264.8 493.4 259.8 493.6 254.5 493.9 249.2 494.2 244.1 494.5 239.2 494.8 234.8 495.1 230.9 495.4 227.7 495.6 225.3 495.9 223.8 496.2 223.2 496.5 223.4 496.8 224.6 497.1 226.7 497.4 229.6 497.7 233.2 497.9 237.4 498.2 242.1 498.5 247.2 498.8 252.4 499.1 257.7 499.4 262.8 499.7 267.7 499.9 272.2 500.2 276.1 500.5 279.3 500.8 281.7 501.1 283.3 501.4 283.9 501.7 283.7 501.9 282.5 502.2 280.5 502.5 277.6 502.8 274.1 503.1 269.9 503.4 265.2 503.7 260.1 504.0 254.9 504.2 249.6 504.5 244.4 504.8 239.5 505.1 235.1 505.4 231.2 505.7 227.9 506.0 225.5 506.2 223.9 506.5 223.2 506.8 223.4 507.1 224.5 507.4 226.5 507.7 229.3 508.0 232.9 508.3 237.1 508.5 241.8 508.8 246.8 509.1 252.0 509.4 257.3 509.7 262.5 510.0 267.4 510.3 271.9 510.5 275.8 510.8 279.1 511.1 281.6 511.4 283.2 511.7 283.9 512.0 283.7 512.3 282.6 512.5 280.7 512.8 277.9 513.1 274.3 513.4 270.2 513.7 265.5 514.0 260.5 514.3 255.2 514.6 249.9 514.8 244.8 515.1 239.8 515.4 235.3 515.7 231.4 516.0 228.1 516.3 225.6 516.6 224.0 516.8 223.2 517.1 223.3 517.4 224.4 517.7 226.4 518.0 229.1 518.3 232.6 518.6 236.8 518.9 241.4 519.1 246.5 519.4 251.7 519.7 257.0 520.0 262.2 520.3 267.1 520.6 271.6 520.9 275.6 521.1 278.9 521.4 281.4 521.7 283.1 522.0 283.9 522.3 283.8 522.6 282.7 522.9 280.8 523.2 278.1 523.4 274.6 523.7 270.5 524.0 265.8 524.3 260.8 524.6 255.6 524.9 250.3 525.2 245.1 525.4 240.2 525.7 235.6 526.0 231.6 526.3 228.3 526.6 225.8 526.9 224.0 527.2 223.2 527.4 223.3 527.7 224.3 528.0 226.2 528.3 228.9 528.6 232.4 528.9 236.5 529.2 241.1 529.5 246.1 529.7 251.3 530.0 256.6 530.3 261.8 530.6 266.8 530.9 271.3 531.2 275.3 531.5 278.7 531.7 281.3 532.0 283.0 532.3 283.9 532.6 283.8 532.9 282.8 533.2 281.0 533.5 278.3 533.8 274.8 534.0 270.7 534.3 266.1 534.6 261.2 534.9 255.9 535.2 250.6 535.5 245.4 535.8 240.5 536.0 235.9 536.3 231.9 536.6 228.5 536.9 225.9 537.2 224.1 537.5 223.2 537.8 223.3 538.0 224.2 538.3 226.1 538.6 228.7 538.9 232.1 539.2 236.2 539.5 240.8 539.8 245.8 540.1 251.0 540.3 256.3 540.6 261.5 540.9 266.5 541.2 271.0" stroke="#F29440" stroke-width="1.045"/>
</g>
<rect x="386.20" y="213.00" width="155.00" height="81.10" fill="none" stroke="#3C3C3C" stroke-width="0.9"/>
<path d="M386.20 294.10h1.6M386.20 283.96h1.6M386.20 273.83h1.6M386.20 263.69h1.6M386.20 253.55h1.6M386.20 243.41h1.6M386.20 233.28h1.6M386.20 223.14h1.6M386.20 213.00h1.6M386.20 294.10v-1.6M412.03 294.10v-1.6M437.87 294.10v-1.6M463.70 294.10v-1.6M489.53 294.10v-1.6M515.37 294.10v-1.6M541.20 294.10v-1.6" stroke="#3C3C3C" stroke-width="0.7" fill="none"/>
<g font-family="'Liberation Serif','Times New Roman',serif" font-size="6.6" fill="#222" stroke="#222" stroke-width="0.2">
<text x="384.90" y="296.30" text-anchor="end">-20</text>
<text x="384.90" y="286.16" text-anchor="end">-15</text>
<text x="384.90" y="276.03" text-anchor="end">-10</text>
<text x="384.90" y="265.89" text-anchor="end">-5</text>
<text x="384.90" y="255.75" text-anchor="end">0</text>
<text x="384.90" y="245.61" text-anchor="end">5</text>
<text x="384.90" y="235.47" text-anchor="end">10</text>
<text x="384.90" y="225.34" text-anchor="end">15</text>
<text x="384.90" y="215.20" text-anchor="end">20</text>
<text x="386.20" y="300.70" text-anchor="middle">0.19</text>
<text x="412.03" y="300.70" text-anchor="middle">0.20</text>
<text x="437.87" y="300.70" text-anchor="middle">0.21</text>
<text x="463.70" y="300.70" text-anchor="middle">0.22</text>
<text x="489.53" y="300.70" text-anchor="middle">0.23</text>
<text x="515.37" y="300.70" text-anchor="middle">0.24</text>
<text x="541.20" y="300.70" text-anchor="middle">0.25</text>
</g>
<clipPath id="cpc3"><rect x="386.20" y="306.30" width="155.00" height="82.00"/></clipPath>
<g clip-path="url(#cpc3)" fill="none" stroke-linejoin="round">
<path d="M412.0 347.3L412.3 349.8 412.6 352.7 412.8 355.3 413.1 357.6 413.4 359.3 413.7 360.4 414.0 360.9 414.3 360.7 414.6 359.7 414.9 357.9 415.1 355.5 415.4 352.5 415.7 349.3 416.0 345.9 416.3 342.5 416.6 339.5 416.9 336.8 417.1 334.8 417.4 333.5 417.7 333.0 418.0 333.2 418.3 334.2 418.6 335.8 418.9 337.9 419.1 340.5 419.4 343.3 419.7 346.2 420.0 349.1 420.3 351.6 420.6 353.8 420.9 355.5 421.2 356.5 421.4 356.9 421.7 356.5 422.0 355.4 422.3 353.7 422.6 351.3 422.9 348.6 423.2 345.6 423.4 342.5 423.7 339.5 424.0 336.8 424.3 334.6 424.6 332.9 424.9 331.9 425.2 331.6 425.5 332.3 425.7 334.2 426.0 337.2 426.3 341.0 426.6 345.5 426.9 350.4 427.2 355.4 427.5 360.1 427.7 364.4 428.0 368.0 428.3 370.6 428.6 372.1 428.9 372.4 429.2 371.2 429.5 368.5 429.7 364.4 430.0 359.2 430.3 353.2 430.6 346.8 430.9 340.2 431.2 334.0 431.5 328.4 431.8 323.9 432.0 320.6 432.3 318.8 432.6 318.6 432.9 320.0 433.2 323.2 433.5 327.7 433.8 333.5 434.0 340.1 434.3 347.1 434.6 354.2 434.9 360.9 435.2 366.8 435.5 371.6 435.8 375.0 436.1 376.7 436.3 376.8 436.6 375.1 436.9 371.7 437.2 366.9 437.5 360.9 437.8 354.1 438.1 346.9 438.3 339.7 438.6 332.9 438.9 327.0 439.2 322.3 439.5 319.1 439.8 317.5 440.1 317.6 440.3 319.6 440.6 323.1 440.9 328.1 441.2 334.3 441.5 341.2 441.8 348.5 442.1 355.7 442.4 362.4 442.6 368.2 442.9 372.8 443.2 375.9 443.5 377.3 443.8 376.9 444.1 374.8 444.4 371.1 444.6 366.0 444.9 359.8 445.2 352.9 445.5 345.7 445.8 338.6 446.1 332.0 446.4 326.4 446.7 322.0 446.9 319.2 447.2 318.0 447.5 318.6 447.8 320.8 448.1 324.6 448.4 329.6 448.7 335.7 448.9 342.5 449.2 349.4 449.5 356.3 449.8 362.5 450.1 367.8 450.4 371.9 450.7 374.5 451.0 375.4 451.2 374.7 451.5 372.4 451.8 368.6 452.1 363.6 452.4 357.7 452.7 351.2 453.0 344.6 453.2 338.1 453.5 332.2 453.8 327.3 454.1 323.5 454.4 321.3 454.7 320.6 455.0 321.4 455.2 323.8 455.5 327.5 455.8 332.4 456.1 338.0 456.4 344.2 456.7 350.5 457.0 356.6 457.3 362.1 457.5 366.7 457.8 370.1 458.1 372.0 458.4 372.5 458.7 371.5 459.0 369.1 459.3 365.4 459.5 360.7 459.8 355.2 460.1 349.3 460.4 343.3 460.7 337.6 461.0 332.5 461.3 328.2 461.6 325.2 461.8 323.4 462.1 323.2 462.4 324.3 462.7 326.8 463.0 330.4 463.3 335.1 463.6 340.4 463.8 346.1 464.1 351.9 464.4 357.4 464.7 362.2 465.0 366.2 465.3 369.0 465.6 370.5 465.8 370.6 466.1 369.3 466.4 366.7 466.7 363.0 467.0 358.4 467.3 353.1 467.6 347.4 467.9 341.8 468.1 336.5 468.4 331.8 468.7 328.1 469.0 325.5 469.3 324.2 469.6 324.3 469.9 325.7 470.1 328.4 470.4 332.2 470.7 337.0 471.0 342.3 471.3 348.0 471.6 353.6 471.9 358.8 472.2 363.4 472.4 367.0 472.7 369.5 473.0 370.6 473.3 370.4 473.6 368.8 473.9 365.9 474.2 361.9 474.4 357.0 474.7 351.6 475.0 345.9 475.3 340.2 475.6 335.0 475.9 330.5 476.2 327.0 476.4 324.6 476.7 323.6 477.0 324.1 477.3 325.9 477.6 329.0 477.9 333.2 478.2 338.3 478.5 343.9 478.7 349.8 479.0 355.6 479.3 360.9 479.6 365.4 479.9 368.9 480.2 371.1 480.5 371.9 480.7 371.3 481.0 369.3 481.3 365.9 481.6 361.3 481.9 355.9 482.2 350.0 482.5 343.8 482.8 337.9 483.0 332.4 483.3 327.8 483.6 324.3 483.9 322.2 484.2 321.4 484.5 322.3 484.8 324.6 485.0 328.3 485.3 333.1 485.6 338.8 485.9 345.1 486.2 351.5 486.5 357.7 486.8 363.3 487.1 367.9 487.3 371.4 487.6 373.5 487.9 374.1 488.2 373.0 488.5 370.4 488.8 366.5 489.1 361.3 489.3 355.4 489.6 348.9 489.9 342.3 490.2 335.9 490.5 330.3 490.8 325.6 491.1 322.1 491.3 320.2 491.6 319.8 491.9 321.0 492.2 323.8 492.5 328.0 492.8 333.4 493.1 339.6 493.4 346.2 493.6 353.0 493.9 359.4 494.2 365.1 494.5 369.7 494.8 373.1 495.1 374.9 495.4 375.1 495.6 373.6 495.9 370.6 496.2 366.2 496.5 360.7 496.8 354.4 497.1 347.7 497.4 340.9 497.7 334.6 497.9 328.9 498.2 324.4 498.5 321.2 498.8 319.6 499.1 319.6 499.4 321.2 499.7 324.4 499.9 329.0 500.2 334.6 500.5 341.0 500.8 347.7 501.1 354.5 501.4 360.8 501.7 366.3 501.9 370.7 502.2 373.7 502.5 375.1 502.8 374.9 503.1 373.1 503.4 369.7 503.7 365.0 504.0 359.3 504.2 352.9 504.5 346.1 504.8 339.4 505.1 333.1 505.4 327.7 505.7 323.5 506.0 320.6 506.2 319.4 506.5 319.8 506.8 321.8 507.1 325.3 507.4 330.2 507.7 336.0 508.0 342.5 508.3 349.3 508.5 356.0 508.8 362.2 509.1 367.5 509.4 371.6 509.7 374.2 510.0 375.3 510.3 374.7 510.5 372.5 510.8 368.8 511.1 363.8 511.4 357.8 511.7 351.3 512.0 344.4 512.3 337.8 512.5 331.7 512.8 326.6 513.1 322.6 513.4 320.1 513.7 319.3 514.0 320.1 514.3 322.5 514.6 326.3 514.8 331.5 515.1 337.5 515.4 344.1 515.7 351.0 516.0 357.6 516.3 363.6 516.6 368.6 516.8 372.4 517.1 374.7 517.4 375.3 517.7 374.4 518.0 371.8 518.3 367.7 518.6 362.5 518.9 356.3 519.1 349.7 519.4 342.8 519.7 336.3 520.0 330.4 520.3 325.5 520.6 321.9 520.9 319.7 521.1 319.3 521.4 320.5 521.7 323.2 522.0 327.4 522.3 332.8 522.6 339.0 522.9 345.8 523.2 352.6 523.4 359.1 523.7 364.9 524.0 369.7 524.3 373.1 524.6 375.0 524.9 375.3 525.2 373.9 525.4 371.0 525.7 366.6 526.0 361.1 526.3 354.8 526.6 348.0 526.9 341.2 527.2 334.8 527.4 329.1 527.7 324.5 528.0 321.2 528.3 319.5 528.6 319.4 528.9 320.9 529.2 324.1 529.5 328.6 529.7 334.2 530.0 340.6 530.3 347.4 530.6 354.2 530.9 360.5 531.2 366.1 531.5 370.6 531.7 373.7 532.0 375.3 532.3 375.1 532.6 373.4 532.9 370.1 533.2 365.4 533.5 359.7 533.8 353.2 534.0 346.4 534.3 339.6 534.6 333.3 534.9 327.9 535.2 323.5 535.5 320.6 535.8 319.3 536.0 319.6 536.3 321.5 536.6 325.0 536.9 329.8 537.2 335.7 537.5 342.2 537.8 349.0 538.0 355.7 538.3 362.0 538.6 367.3 538.9 371.5 539.2 374.3 539.5 375.4 539.8 374.9 540.1 372.7 540.3 369.1 540.6 364.1 540.9 358.2 541.2 351.6" stroke="#F29440" stroke-width="1.1"/>
<path d="M412.0 347.3L412.3 345.7 412.6 343.8 412.8 342.0 413.1 340.2 413.4 338.6 413.7 337.2 414.0 336.0 414.3 334.9 414.6 334.1 414.9 333.6 415.1 333.3 415.4 333.4 415.7 334.2 416.0 335.7 416.3 338.0 416.6 340.8 416.9 344.0 417.1 347.3 417.4 350.7 417.7 353.9 418.0 356.6 418.3 358.9 418.6 360.4 418.9 361.1 419.1 361.1 419.4 360.3 419.7 358.9 420.0 356.9 420.3 354.4 420.6 351.7 420.9 348.7 421.2 345.9 421.4 343.2 421.7 340.8 422.0 339.0 422.3 337.7 422.6 337.2 422.9 337.4 423.2 338.5 423.4 340.4 423.7 343.1 424.0 346.3 424.3 349.9 424.6 353.7 424.9 357.4 425.2 360.8 425.5 363.8 425.7 366.1 426.0 367.6 426.3 368.2 426.6 367.7 426.9 365.9 427.2 362.8 427.5 358.6 427.7 353.5 428.0 348.0 428.3 342.2 428.6 336.5 428.9 331.3 429.2 326.9 429.5 323.5 429.7 321.4 430.0 320.6 430.3 321.3 430.6 323.7 430.9 327.5 431.2 332.6 431.5 338.6 431.8 345.2 432.0 352.1 432.3 358.7 432.6 364.7 432.9 369.8 433.2 373.6 433.5 375.9 433.8 376.6 434.0 375.6 434.3 373.0 434.6 368.8 434.9 363.3 435.2 356.8 435.5 349.8 435.8 342.6 436.1 335.7 436.3 329.4 436.6 324.2 436.9 320.4 437.2 318.1 437.5 317.5 437.8 318.7 438.1 321.6 438.3 326.1 438.6 331.8 438.9 338.4 439.2 345.5 439.5 352.8 439.8 359.7 440.1 366.0 440.3 371.1 440.6 374.8 440.9 376.9 441.2 377.3 441.5 375.8 441.8 372.7 442.1 368.1 442.4 362.3 442.6 355.6 442.9 348.4 443.2 341.1 443.5 334.2 443.8 328.1 444.1 323.1 444.4 319.6 444.6 317.7 444.9 317.5 445.2 319.1 445.5 322.4 445.8 327.0 446.1 332.9 446.4 339.6 446.7 346.7 446.9 353.8 447.2 360.5 447.5 366.4 447.8 371.1 448.1 374.4 448.4 376.0 448.7 376.0 448.9 374.3 449.2 371.0 449.5 366.3 449.8 360.6 450.1 354.1 450.4 347.2 450.7 340.4 451.0 334.0 451.2 328.5 451.5 324.1 451.8 321.1 452.1 319.7 452.4 319.9 452.7 321.8 453.0 325.0 453.2 329.6 453.5 335.2 453.8 341.4 454.1 348.0 454.4 354.4 454.7 360.4 455.0 365.6 455.2 369.6 455.5 372.3 455.8 373.5 456.1 373.1 456.4 371.1 456.7 367.9 457.0 363.4 457.3 358.0 457.5 352.1 457.8 345.9 458.1 339.8 458.4 334.2 458.7 329.4 459.0 325.7 459.3 323.3 459.5 322.4 459.8 323.0 460.1 325.0 460.4 328.3 460.7 332.6 461.0 337.8 461.3 343.6 461.6 349.5 461.8 355.3 462.1 360.6 462.4 365.0 462.7 368.4 463.0 370.5 463.3 371.2 463.6 370.5 463.8 368.4 464.1 365.1 464.4 360.8 464.7 355.6 465.0 350.1 465.3 344.3 465.6 338.8 465.8 333.8 466.1 329.6 466.4 326.4 466.7 324.6 467.0 324.0 467.3 324.9 467.6 327.1 467.9 330.5 468.1 334.9 468.4 340.0 468.7 345.6 469.0 351.2 469.3 356.7 469.6 361.5 469.9 365.6 470.1 368.5 470.4 370.2 470.7 370.5 471.0 369.5 471.3 367.1 471.6 363.6 471.9 359.1 472.2 353.9 472.4 348.3 472.7 342.6 473.0 337.2 473.3 332.4 473.6 328.5 473.9 325.6 474.2 324.1 474.4 323.9 474.7 325.1 475.0 327.7 475.3 331.4 475.6 336.1 475.9 341.4 476.2 347.1 476.4 352.9 476.7 358.3 477.0 363.1 477.3 366.9 477.6 369.6 477.9 371.0 478.2 371.0 478.5 369.6 478.7 366.8 479.0 362.9 479.3 357.9 479.6 352.3 479.9 346.4 480.2 340.5 480.5 335.0 480.7 330.1 481.0 326.3 481.3 323.6 481.6 322.3 481.9 322.5 482.2 324.2 482.5 327.2 482.8 331.5 483.0 336.8 483.3 342.7 483.6 348.9 483.9 355.0 484.2 360.8 484.5 365.7 484.8 369.6 485.0 372.2 485.3 373.4 485.6 373.0 485.9 371.1 486.2 367.8 486.5 363.2 486.8 357.6 487.1 351.4 487.3 345.0 487.6 338.6 487.9 332.7 488.2 327.7 488.5 323.8 488.8 321.3 489.1 320.2 489.3 320.8 489.6 323.0 489.9 326.6 490.2 331.4 490.5 337.3 490.8 343.7 491.1 350.4 491.3 356.9 491.6 362.8 491.9 367.9 492.2 371.8 492.5 374.2 492.8 375.1 493.1 374.3 493.4 371.9 493.6 368.1 493.9 363.0 494.2 357.0 494.5 350.4 494.8 343.7 495.1 337.1 495.4 331.1 495.6 326.1 495.9 322.4 496.2 320.1 496.5 319.4 496.8 320.4 497.1 322.9 497.4 326.9 497.7 332.2 497.9 338.3 498.2 344.9 498.5 351.7 498.8 358.2 499.1 364.1 499.4 369.0 499.7 372.6 499.9 374.7 500.2 375.2 500.5 374.0 500.8 371.3 501.1 367.1 501.4 361.8 501.7 355.6 501.9 348.9 502.2 342.1 502.5 335.6 502.8 329.8 503.1 325.1 503.4 321.6 503.7 319.7 504.0 319.4 504.2 320.8 504.5 323.7 504.8 328.0 505.1 333.5 505.4 339.8 505.7 346.5 506.0 353.3 506.2 359.7 506.5 365.4 506.8 370.0 507.1 373.3 507.4 375.0 507.7 375.1 508.0 373.6 508.3 370.5 508.5 366.0 508.8 360.4 509.1 354.0 509.4 347.3 509.7 340.5 510.0 334.1 510.3 328.6 510.5 324.1 510.8 321.0 511.1 319.4 511.4 319.6 511.7 321.3 512.0 324.6 512.3 329.2 512.5 334.9 512.8 341.4 513.1 348.2 513.4 354.9 513.7 361.2 514.0 366.7 514.3 371.0 514.6 373.9 514.8 375.3 515.1 374.9 515.4 373.0 515.7 369.5 516.0 364.8 516.3 359.0 516.6 352.4 516.8 345.6 517.1 338.9 517.4 332.7 517.7 327.4 518.0 323.2 518.3 320.4 518.6 319.3 518.9 319.8 519.1 321.9 519.4 325.5 519.7 330.5 520.0 336.4 520.3 343.0 520.6 349.8 520.9 356.5 521.1 362.6 521.4 367.8 521.7 371.8 522.0 374.4 522.3 375.4 522.6 374.7 522.9 372.3 523.2 368.5 523.4 363.5 523.7 357.5 524.0 350.8 524.3 344.0 524.6 337.4 524.9 331.3 525.2 326.2 525.4 322.4 525.7 320.0 526.0 319.2 526.3 320.1 526.6 322.6 526.9 326.6 527.2 331.8 527.4 337.9 527.7 344.6 528.0 351.4 528.3 358.0 528.6 363.9 528.9 368.9 529.2 372.6 529.5 374.8 529.7 375.4 530.0 374.3 530.3 371.6 530.6 367.5 530.9 362.1 531.2 355.9 531.5 349.2 531.7 342.4 532.0 335.9 532.3 330.0 532.6 325.2 532.9 321.6 533.2 319.6 533.5 319.3 533.8 320.5 534.0 323.4 534.3 327.7 534.6 333.2 534.9 339.4 535.2 346.2 535.5 353.0 535.8 359.5 536.0 365.2 536.3 369.9 536.6 373.3 536.9 375.1 537.2 375.3 537.5 373.8 537.8 370.8 538.0 366.3 538.3 360.7 538.6 354.4 538.9 347.6 539.2 340.8 539.5 334.4 539.8 328.7 540.1 324.2 540.3 321.0 540.6 319.4 540.9 319.4 541.2 321.1" stroke="#4A8ACB" stroke-width="1.1"/>
<path d="M386.2 347.3L386.5 347.3 386.8 347.3 387.1 347.3 387.3 347.3 387.6 347.3 387.9 347.3 388.2 347.3 388.5 347.3 388.8 347.3 389.1 347.3 389.4 347.3 389.6 347.3 389.9 347.3 390.2 347.3 390.5 347.3 390.8 347.3 391.1 347.3 391.4 347.3 391.6 347.3 391.9 347.3 392.2 347.3 392.5 347.3 392.8 347.3 393.1 347.3 393.4 347.3 393.6 347.3 393.9 347.3 394.2 347.3 394.5 347.3 394.8 347.3 395.1 347.3 395.4 347.3 395.7 347.3 395.9 347.3 396.2 347.3 396.5 347.3 396.8 347.3 397.1 347.3 397.4 347.3 397.7 347.3 397.9 347.3 398.2 347.3 398.5 347.3 398.8 347.3 399.1 347.3 399.4 347.3 399.7 347.3 400.0 347.3 400.2 347.3 400.5 347.3 400.8 347.3 401.1 347.3 401.4 347.3 401.7 347.3 402.0 347.3 402.2 347.3 402.5 347.3 402.8 347.3 403.1 347.3 403.4 347.3 403.7 347.3 404.0 347.3 404.2 347.3 404.5 347.3 404.8 347.3 405.1 347.3 405.4 347.3 405.7 347.3 406.0 347.3 406.3 347.3 406.5 347.3 406.8 347.3 407.1 347.3 407.4 347.3 407.7 347.3 408.0 347.3 408.3 347.3 408.5 347.3 408.8 347.3 409.1 347.3 409.4 347.3 409.7 347.3 410.0 347.3 410.3 347.3 410.6 347.3 410.8 347.3 411.1 347.3 411.4 347.3 411.7 347.3 412.0 347.3 412.3 348.5 412.6 349.9 412.8 351.3 413.1 352.6 413.4 353.9 413.7 355.2 414.0 356.3 414.3 357.4 414.6 358.3 414.9 359.2 415.1 359.9 415.4 360.5 415.7 361.0 416.0 361.3 416.3 361.5 416.6 361.5 416.9 361.0 417.1 359.8 417.4 358.0 417.7 355.6 418.0 352.8 418.3 349.8 418.6 346.8 418.9 343.9 419.1 341.3 419.4 339.1 419.7 337.6 420.0 336.7 420.3 336.5 420.6 337.0 420.9 338.2 421.2 339.9 421.4 342.0 421.7 344.5 422.0 347.1 422.3 349.8 422.6 352.4 422.9 354.6 423.2 356.5 423.4 357.8 423.7 358.5 424.0 358.5 424.3 357.6 424.6 355.7 424.9 352.9 425.2 349.5 425.5 345.6 425.7 341.4 426.0 337.3 426.3 333.3 426.6 329.9 426.9 327.1 427.2 325.1 427.5 324.2 427.7 324.3 428.0 325.8 428.3 328.8 428.6 333.0 428.9 338.2 429.2 344.0 429.5 350.2 429.7 356.4 430.0 362.1 430.3 367.2 430.6 371.2 430.9 373.9 431.2 375.2 431.5 374.9 431.8 373.0 432.0 369.5 432.3 364.6 432.6 358.7 432.9 352.0 433.2 345.0 433.5 338.2 433.8 331.8 434.0 326.2 434.3 321.9 434.6 319.1 434.9 317.8 435.2 318.3 435.5 320.5 435.8 324.3 436.1 329.5 436.3 335.7 436.6 342.7 436.9 349.9 437.2 357.0 437.5 363.5 437.8 369.0 438.1 373.3 438.3 376.1 438.6 377.2 438.9 376.5 439.2 374.1 439.5 370.1 439.8 364.7 440.1 358.3 440.3 351.2 440.6 343.9 440.9 336.8 441.2 330.4 441.5 324.9 441.8 320.7 442.1 318.1 442.4 317.2 442.6 318.1 442.9 320.7 443.2 324.9 443.5 330.4 443.8 336.9 444.1 344.0 444.4 351.2 444.6 358.2 444.9 364.6 445.2 369.9 445.5 373.9 445.8 376.3 446.1 376.9 446.4 375.9 446.7 373.1 446.9 368.9 447.2 363.4 447.5 357.0 447.8 350.1 448.1 343.0 448.4 336.2 448.7 330.1 448.9 325.1 449.2 321.4 449.5 319.3 449.8 318.8 450.1 320.1 450.4 322.9 450.7 327.1 451.0 332.4 451.2 338.7 451.5 345.3 451.8 352.1 452.1 358.6 452.4 364.3 452.7 369.0 453.0 372.4 453.2 374.2 453.5 374.4 453.8 373.1 454.1 370.3 454.4 366.1 454.7 360.9 455.0 354.9 455.2 348.6 455.5 342.2 455.8 336.1 456.1 330.8 456.4 326.4 456.7 323.4 457.0 321.8 457.3 321.8 457.5 323.2 457.8 326.1 458.1 330.1 458.4 335.2 458.7 340.9 459.0 347.0 459.3 353.0 459.5 358.7 459.8 363.7 460.1 367.7 460.4 370.4 460.7 371.7 461.0 371.6 461.3 370.0 461.6 367.1 461.8 363.1 462.1 358.2 462.4 352.6 462.7 346.8 463.0 341.0 463.3 335.6 463.6 331.0 463.8 327.3 464.1 324.9 464.4 323.7 464.7 324.1 465.0 325.7 465.3 328.7 465.6 332.7 465.8 337.6 466.1 343.0 466.4 348.7 466.7 354.3 467.0 359.5 467.3 363.9 467.6 367.4 467.9 369.6 468.1 370.5 468.4 370.0 468.7 368.2 469.0 365.2 469.3 361.0 469.6 356.1 469.9 350.6 470.1 345.0 470.4 339.4 470.7 334.4 471.0 330.1 471.3 326.8 471.6 324.7 471.9 324.0 472.2 324.6 472.4 326.6 472.7 329.8 473.0 334.1 473.3 339.1 473.6 344.7 473.9 350.4 474.2 355.9 474.4 360.9 474.7 365.2 475.0 368.4 475.3 370.3 475.6 370.9 475.9 370.1 476.2 367.9 476.4 364.4 476.7 360.0 477.0 354.8 477.3 349.1 477.6 343.3 477.9 337.7 478.2 332.6 478.5 328.4 478.7 325.3 479.0 323.5 479.3 323.1 479.6 324.1 479.9 326.5 480.2 330.2 480.5 335.0 480.7 340.5 481.0 346.5 481.3 352.5 481.6 358.3 481.9 363.4 482.2 367.7 482.5 370.7 482.8 372.5 483.0 372.7 483.3 371.5 483.6 368.8 483.9 364.7 484.2 359.7 484.5 353.8 484.8 347.6 485.0 341.3 485.3 335.3 485.6 330.1 485.9 325.8 486.2 322.7 486.5 321.1 486.8 321.0 487.1 322.5 487.3 325.5 487.6 329.8 487.9 335.1 488.2 341.2 488.5 347.7 488.8 354.2 489.1 360.3 489.3 365.7 489.6 370.0 489.9 373.0 490.2 374.5 490.5 374.4 490.8 372.7 491.1 369.5 491.3 364.9 491.6 359.3 491.9 353.0 492.2 346.3 492.5 339.6 492.8 333.4 493.1 328.0 493.4 323.8 493.6 320.9 493.9 319.5 494.2 319.8 494.5 321.7 494.8 325.2 495.1 329.9 495.4 335.7 495.6 342.1 495.9 348.9 496.2 355.6 496.5 361.8 496.8 367.1 497.1 371.3 497.4 374.0 497.7 375.2 497.9 374.7 498.2 372.6 498.5 369.0 498.8 364.1 499.1 358.2 499.4 351.7 499.7 344.9 499.9 338.2 500.2 332.1 500.5 326.9 500.8 322.9 501.1 320.3 501.4 319.4 501.7 320.0 501.9 322.3 502.2 326.1 502.5 331.1 502.8 337.1 503.1 343.7 503.4 350.5 503.7 357.1 504.0 363.2 504.2 368.3 504.5 372.1 504.8 374.5 505.1 375.3 505.4 374.4 505.7 371.9 506.0 368.0 506.2 362.8 506.5 356.7 506.8 350.1 507.1 343.3 507.4 336.7 507.7 330.8 508.0 325.8 508.3 322.1 508.5 319.9 508.8 319.3 509.1 320.4 509.4 323.1 509.7 327.2 510.0 332.5 510.3 338.6 510.5 345.3 510.8 352.1 511.1 358.7 511.4 364.5 511.7 369.3 512.0 372.9 512.3 374.9 512.5 375.3 512.8 374.0 513.1 371.1 513.4 366.9 513.7 361.4 514.0 355.2 514.3 348.5 514.6 341.7 514.8 335.2 515.1 329.4 515.4 324.8 515.7 321.4 516.0 319.6 516.3 319.4 516.6 320.9 516.8 323.9 517.1 328.3 517.4 333.9 517.7 340.2 518.0 347.0 518.3 353.7 518.6 360.1 518.9 365.8 519.1 370.3 519.4 373.5 519.7 375.2 520.0 375.1 520.3 373.5 520.6 370.3 520.9 365.7 521.1 360.0 521.4 353.6 521.7 346.8 522.0 340.1 522.3 333.7 522.6 328.2 522.9 323.8 523.2 320.8 523.4 319.3 523.7 319.5 524.0 321.4 524.3 324.8 524.6 329.5 524.9 335.3 525.2 341.8 525.4 348.6 525.7 355.3 526.0 361.6 526.3 367.0 526.6 371.3 526.9 374.1 527.2 375.3 527.4 374.9 527.7 372.9 528.0 369.3 528.3 364.5 528.6 358.6 528.9 352.0 529.2 345.2 529.5 338.5 529.7 332.3 530.0 327.0 530.3 322.9 530.6 320.3 530.9 319.2 531.2 319.8 531.5 322.1 531.7 325.8 532.0 330.8 532.3 336.8 532.6 343.4 532.9 350.2 533.2 356.9 533.5 363.0 533.8 368.1 534.0 372.1 534.3 374.6 534.6 375.4 534.9 374.6 535.2 372.2 535.5 368.3 535.8 363.2 536.0 357.1 536.3 350.4 536.6 343.6 536.9 337.0 537.2 330.9 537.5 325.9 537.8 322.1 538.0 319.8 538.3 319.2 538.6 320.2 538.9 322.8 539.2 326.9 539.5 332.1 539.8 338.3 540.1 345.0 540.3 351.8 540.6 358.4 540.9 364.3 541.2 369.2" stroke="#33353F" stroke-width="1.1"/>
</g>
<rect x="386.20" y="306.30" width="155.00" height="82.00" fill="none" stroke="#3C3C3C" stroke-width="0.9"/>
<path d="M386.20 388.30h1.6M386.20 374.63h1.6M386.20 360.97h1.6M386.20 347.30h1.6M386.20 333.63h1.6M386.20 319.97h1.6M386.20 306.30h1.6M386.20 388.30v-1.6M412.03 388.30v-1.6M437.87 388.30v-1.6M463.70 388.30v-1.6M489.53 388.30v-1.6M515.37 388.30v-1.6M541.20 388.30v-1.6" stroke="#3C3C3C" stroke-width="0.7" fill="none"/>
<g font-family="'Liberation Serif','Times New Roman',serif" font-size="6.6" fill="#222" stroke="#222" stroke-width="0.2">
<text x="384.90" y="390.50" text-anchor="end">-30</text>
<text x="384.90" y="376.83" text-anchor="end">-20</text>
<text x="384.90" y="363.17" text-anchor="end">-10</text>
<text x="384.90" y="349.50" text-anchor="end">0</text>
<text x="384.90" y="335.83" text-anchor="end">10</text>
<text x="384.90" y="322.17" text-anchor="end">20</text>
<text x="384.90" y="308.50" text-anchor="end">30</text>
<text x="386.20" y="394.90" text-anchor="middle">0.19</text>
<text x="412.03" y="394.90" text-anchor="middle">0.20</text>
<text x="437.87" y="394.90" text-anchor="middle">0.21</text>
<text x="463.70" y="394.90" text-anchor="middle">0.22</text>
<text x="489.53" y="394.90" text-anchor="middle">0.23</text>
<text x="515.37" y="394.90" text-anchor="middle">0.24</text>
<text x="541.20" y="394.90" text-anchor="middle">0.25</text>
</g>
<clipPath id="cpc4"><rect x="386.20" y="403.30" width="155.00" height="81.90"/></clipPath>
<g clip-path="url(#cpc4)" fill="none" stroke-linejoin="round">
<path d="M412.0 444.2L412.3 451.4 412.6 458.9 412.8 464.3 413.1 466.8 413.4 466.4 413.7 464.2 414.0 460.0 414.3 452.5 414.6 435.1 414.9 428.8 415.1 425.2 415.4 423.5 415.7 423.5 416.0 425.2 416.3 428.7 416.6 434.8 416.9 450.8 417.1 457.4 417.4 461.1 417.7 463.0 418.0 463.3 418.3 462.0 418.6 458.9 418.9 453.7 419.1 438.6 419.4 431.2 419.7 427.2 420.0 425.0 420.3 424.4 420.6 425.5 420.9 428.4 421.2 433.3 421.4 447.3 421.7 457.4 422.0 462.2 422.3 464.8 422.6 465.8 422.9 464.9 423.2 462.3 423.4 457.5 423.7 448.2 424.0 431.7 424.3 426.0 424.6 422.8 424.9 421.4 425.2 421.9 425.5 424.3 425.7 428.9 426.0 437.2 426.3 455.9 426.6 462.6 426.9 466.5 427.2 468.3 427.5 468.2 427.7 466.1 428.0 461.7 428.3 454.0 428.6 433.9 428.9 425.8 429.2 421.1 429.5 418.8 429.7 418.5 430.0 420.4 430.3 424.6 430.6 431.8 430.9 452.5 431.2 462.5 431.5 468.0 431.8 470.9 432.0 471.7 432.3 470.2 432.6 466.4 432.9 459.7 433.2 440.6 433.5 427.5 433.8 421.2 434.0 417.7 434.3 416.5 434.6 417.5 434.9 420.8 435.2 426.9 435.5 438.5 435.8 458.8 436.1 465.8 436.3 469.8 436.6 471.4 436.9 470.8 437.2 468.0 437.5 462.6 437.8 453.1 438.1 431.6 438.3 423.9 438.6 419.5 438.9 417.4 439.2 417.5 439.5 419.9 439.8 424.7 440.1 433.1 440.3 454.9 440.6 463.6 440.9 468.5 441.2 471.1 441.5 471.3 441.8 469.4 442.1 465.1 442.4 457.7 442.6 436.5 442.9 426.4 443.2 420.9 443.5 417.9 443.8 417.2 444.1 418.6 444.4 422.3 444.6 428.8 444.9 447.2 445.2 459.3 445.5 465.3 445.8 468.6 446.1 469.7 446.4 468.8 446.7 465.7 446.9 460.3 447.2 449.6 447.5 431.6 447.8 425.4 448.1 421.9 448.4 420.4 448.7 421.0 448.9 423.4 449.2 428.0 449.5 436.3 449.8 454.6 450.1 461.2 450.4 464.9 450.7 466.7 451.0 466.5 451.2 464.6 451.5 460.6 451.8 453.8 452.1 436.1 452.4 429.1 452.7 425.1 453.0 423.1 453.2 422.9 453.5 424.4 453.8 427.8 454.1 433.6 454.4 450.0 454.7 457.7 455.0 462.0 455.2 464.2 455.5 464.8 455.8 463.6 456.1 460.8 456.4 455.8 456.7 441.5 457.0 432.4 457.3 427.9 457.5 425.4 457.8 424.5 458.1 425.3 458.4 427.7 458.7 432.0 459.0 440.5 459.3 454.5 459.5 459.3 459.8 462.1 460.1 463.2 460.4 462.7 460.7 460.7 461.0 456.9 461.3 450.1 461.6 435.2 461.8 430.0 462.1 426.9 462.4 425.5 462.7 425.7 463.0 427.4 463.3 430.8 463.6 436.7 463.8 451.8 464.1 457.7 464.4 461.1 464.7 462.8 465.0 463.0 465.3 461.6 465.6 458.5 465.8 453.2 466.1 438.3 466.4 431.5 466.7 427.7 467.0 425.7 467.3 425.2 467.6 426.3 467.9 429.1 468.1 434.0 468.4 448.1 468.7 456.7 469.0 461.1 469.3 463.5 469.6 464.3 469.9 463.4 470.1 460.9 470.4 456.3 470.7 447.1 471.0 432.5 471.3 427.4 471.6 424.6 471.9 423.4 472.2 423.9 472.4 426.2 472.7 430.5 473.0 438.3 473.3 455.0 473.6 460.8 473.9 464.2 474.2 465.7 474.4 465.5 474.7 463.5 475.0 459.5 475.3 452.5 475.6 434.7 475.9 427.9 476.2 423.9 476.4 422.0 476.7 421.8 477.0 423.6 477.3 427.3 477.6 433.9 477.9 452.2 478.2 460.5 478.5 465.1 478.7 467.6 479.0 468.1 479.3 466.7 479.6 463.1 479.9 457.0 480.2 439.1 480.5 428.5 480.7 423.1 481.0 420.1 481.3 419.1 481.6 420.2 481.9 423.5 482.2 429.3 482.5 441.2 482.8 459.2 483.0 465.5 483.3 469.1 483.6 470.6 483.9 469.8 484.2 466.9 484.5 461.5 484.8 451.6 485.0 430.8 485.3 423.5 485.6 419.3 485.9 417.4 486.2 417.7 486.5 420.2 486.8 425.2 487.1 433.9 487.3 455.7 487.6 464.1 487.9 468.9 488.2 471.3 488.5 471.4 488.8 469.3 489.1 464.8 489.3 457.0 489.6 435.2 489.9 425.5 490.2 420.1 490.5 417.2 490.8 416.6 491.1 418.3 491.3 422.3 491.6 429.4 491.9 449.9 492.2 461.8 492.5 467.9 492.8 471.2 493.1 472.3 493.4 471.1 493.6 467.5 493.9 461.0 494.2 447.7 494.5 428.2 494.8 421.4 495.1 417.5 495.4 416.0 495.6 416.8 495.9 419.9 496.2 425.7 496.5 436.4 496.8 458.4 497.1 466.1 497.4 470.5 497.7 472.5 497.9 472.2 498.2 469.5 498.5 464.3 498.8 455.1 499.1 432.3 499.4 423.6 499.7 418.6 499.9 416.2 500.2 416.1 500.5 418.3 500.8 423.0 501.1 431.1 501.4 453.6 501.7 463.6 501.9 469.1 502.2 472.0 502.5 472.6 502.8 470.9 503.1 466.7 503.4 459.4 503.7 438.3 504.0 426.4 504.2 420.2 504.5 416.8 504.8 415.8 505.1 417.1 505.4 420.7 505.7 427.3 506.0 441.2 506.2 460.4 506.5 467.3 506.8 471.2 507.1 472.7 507.4 471.9 507.7 468.7 508.0 462.8 508.3 451.9 508.5 429.9 508.8 422.3 509.1 417.8 509.4 415.9 509.7 416.3 510.0 419.0 510.3 424.3 510.5 433.6 510.8 456.4 511.1 465.0 511.4 470.0 511.7 472.4 512.0 472.5 512.3 470.3 512.5 465.5 512.8 457.3 513.1 434.6 513.4 424.8 513.7 419.2 514.0 416.3 514.3 415.8 514.6 417.6 514.8 421.8 515.1 429.2 515.4 450.5 515.7 462.3 516.0 468.4 516.3 471.8 516.6 472.8 516.8 471.5 517.1 467.7 517.4 461.1 517.7 446.7 518.0 427.9 518.3 421.1 518.6 417.2 518.9 415.7 519.1 416.6 519.4 419.8 519.7 425.8 520.0 436.8 520.3 458.8 520.6 466.4 520.9 470.8 521.1 472.7 521.4 472.3 521.7 469.5 522.0 464.2 522.3 454.7 522.6 431.9 522.9 423.3 523.2 418.4 523.4 416.0 523.7 415.9 524.0 418.2 524.3 423.0 524.6 431.3 524.9 454.1 525.2 463.9 525.4 469.4 525.7 472.2 526.0 472.8 526.3 470.9 526.6 466.7 526.9 459.2 527.2 437.6 527.4 426.1 527.7 420.0 528.0 416.6 528.3 415.7 528.6 417.0 528.9 420.8 529.2 427.5 529.5 442.6 529.7 460.8 530.0 467.6 530.3 471.4 530.6 472.8 530.9 471.9 531.2 468.7 531.5 462.6 531.7 451.4 532.0 429.6 532.3 422.0 532.6 417.6 532.9 415.7 533.2 416.2 533.5 419.0 533.8 424.4 534.0 433.9 534.3 456.8 534.6 465.3 534.9 470.2 535.2 472.6 535.5 472.6 535.8 470.3 536.0 465.4 536.3 457.0 536.6 434.1 536.9 424.5 537.2 419.0 537.5 416.2 537.8 415.7 538.0 417.6 538.3 421.9 538.6 429.4 538.9 451.2 539.2 462.5 539.5 468.6 539.8 471.9 540.1 472.9 540.3 471.5 540.6 467.7 540.9 460.9 541.2 444.2" stroke="#F08A25" stroke-width="1.1"/>
<path d="M412.0 444.2L412.3 447.2 412.6 450.7 412.8 454.0 413.1 457.1 413.4 459.8 413.7 462.0 414.0 463.9 414.3 465.1 414.6 465.8 414.9 465.9 415.1 464.6 415.4 461.6 415.7 456.2 416.0 440.7 416.3 432.3 416.6 427.9 416.9 425.4 417.1 424.7 417.4 425.6 417.7 428.2 418.0 432.7 418.3 442.7 418.6 455.4 418.9 460.0 419.1 462.7 419.4 463.6 419.7 463.0 420.0 460.7 420.3 456.5 420.6 448.7 420.9 433.2 421.2 427.8 421.4 424.7 421.7 423.4 422.0 423.7 422.3 425.8 422.6 429.9 422.9 437.1 423.2 454.4 423.4 460.9 423.7 464.6 424.0 466.4 424.3 466.5 424.6 464.6 424.9 460.7 425.2 454.0 425.5 435.5 425.7 427.7 426.0 423.2 426.3 420.9 426.6 420.5 426.9 422.1 427.2 425.8 427.5 432.2 427.7 450.7 428.0 460.6 428.3 465.8 428.6 468.7 428.9 469.5 429.2 468.3 429.5 464.8 429.7 458.7 430.0 444.6 430.3 428.2 430.6 422.0 430.9 418.5 431.2 417.2 431.5 418.1 431.8 421.3 432.0 427.1 432.3 437.9 432.6 458.8 432.9 466.0 433.2 470.2 433.5 472.0 433.8 471.6 434.0 468.8 434.3 463.6 434.6 454.4 434.9 432.3 435.2 424.1 435.5 419.4 435.8 417.1 436.1 417.1 436.3 419.3 436.6 424.0 436.9 432.0 437.2 453.7 437.5 462.9 437.8 468.1 438.1 470.7 438.3 471.2 438.6 469.4 438.9 465.3 439.2 458.2 439.5 437.5 439.8 426.8 440.1 421.1 440.3 418.0 440.6 417.1 440.9 418.4 441.2 422.1 441.5 428.5 441.8 445.2 442.1 460.2 442.4 466.6 442.6 470.2 442.9 471.5 443.2 470.7 443.5 467.5 443.8 461.9 444.1 451.2 444.4 431.0 444.6 424.0 444.9 420.0 445.2 418.3 445.5 418.7 445.8 421.2 446.1 426.0 446.4 434.5 446.7 454.6 446.9 462.0 447.2 466.3 447.5 468.3 447.8 468.3 448.1 466.4 448.4 462.3 448.7 455.3 448.9 436.3 449.2 428.5 449.5 424.0 449.8 421.7 450.1 421.3 450.4 422.8 450.7 426.3 451.0 432.2 451.2 449.4 451.5 458.1 451.8 462.8 452.1 465.4 452.4 466.1 452.7 465.0 453.0 462.1 453.2 457.0 453.5 443.3 453.8 432.2 454.1 427.2 454.4 424.4 454.7 423.4 455.0 424.1 455.2 426.5 455.5 430.9 455.8 439.2 456.1 454.6 456.4 459.8 456.7 462.9 457.0 464.2 457.3 463.8 457.5 461.9 457.8 458.1 458.1 451.4 458.4 435.8 458.7 430.1 459.0 426.8 459.3 425.3 459.5 425.3 459.8 426.9 460.1 430.2 460.4 435.9 460.7 451.1 461.0 457.4 461.3 460.9 461.6 462.7 461.8 463.0 462.1 461.7 462.4 458.8 462.7 453.8 463.0 439.3 463.3 432.0 463.6 428.1 463.8 426.0 464.1 425.4 464.4 426.4 464.7 429.0 465.0 433.5 465.3 446.0 465.6 455.5 465.8 459.8 466.1 462.3 466.4 463.1 466.7 462.5 467.0 460.2 467.3 456.0 467.6 448.0 467.9 433.6 468.1 428.7 468.4 425.8 468.7 424.6 469.0 425.0 469.3 427.1 469.6 431.0 469.9 438.0 470.1 454.0 470.4 459.8 470.7 463.1 471.0 464.7 471.3 464.6 471.6 462.8 471.9 459.2 472.2 452.8 472.4 436.0 472.7 429.1 473.0 425.2 473.3 423.3 473.6 423.0 473.9 424.5 474.2 427.9 474.4 433.8 474.7 450.6 475.0 458.9 475.3 463.4 475.6 465.8 475.9 466.4 476.2 465.2 476.4 462.1 476.7 456.6 477.0 441.0 477.3 430.0 477.6 424.8 477.9 421.8 478.2 420.8 478.5 421.7 478.7 424.6 479.0 429.8 479.3 439.9 479.6 457.8 479.9 463.9 480.2 467.5 480.5 468.9 480.7 468.4 481.0 465.8 481.3 460.8 481.6 451.9 481.9 431.8 482.2 424.6 482.5 420.4 482.8 418.5 483.0 418.6 483.3 420.9 483.6 425.6 483.9 433.6 484.2 454.8 484.5 463.3 484.8 468.2 485.0 470.7 485.3 470.9 485.6 469.0 485.9 464.8 486.2 457.4 486.5 436.4 486.8 426.3 487.1 420.7 487.3 417.7 487.6 417.0 487.9 418.5 488.2 422.3 488.5 429.0 488.8 448.0 489.1 460.9 489.3 467.2 489.6 470.7 489.9 471.8 490.2 470.8 490.5 467.4 490.8 461.3 491.1 449.4 491.3 429.1 491.6 422.1 491.9 418.0 492.2 416.4 492.5 417.0 492.8 419.9 493.1 425.5 493.4 435.4 493.6 457.6 493.9 465.6 494.2 470.1 494.5 472.3 494.8 472.1 495.1 469.6 495.4 464.6 495.6 455.8 495.9 433.1 496.2 424.1 496.5 418.9 496.8 416.3 497.1 416.0 497.4 418.1 497.7 422.6 497.9 430.3 498.2 452.5 498.5 463.0 498.8 468.8 499.1 471.9 499.4 472.6 499.7 471.1 499.9 467.1 500.2 460.1 500.5 440.0 500.8 427.0 501.1 420.6 501.4 417.0 501.7 415.8 501.9 416.9 502.2 420.4 502.5 426.7 502.8 439.1 503.1 459.8 503.4 466.9 503.7 471.0 504.0 472.7 504.2 472.0 504.5 469.0 504.8 463.3 505.1 453.1 505.4 430.7 505.7 422.7 506.0 418.1 506.2 416.0 506.5 416.2 506.8 418.7 507.1 423.8 507.4 432.7 507.7 455.6 508.0 464.6 508.3 469.7 508.5 472.3 508.8 472.6 509.1 470.5 509.4 465.9 509.7 458.0 510.0 435.7 510.3 425.3 510.5 419.6 510.8 416.5 511.1 415.8 511.4 417.4 511.7 421.4 512.0 428.5 512.3 448.9 512.5 461.7 512.8 468.1 513.1 471.6 513.4 472.8 513.7 471.6 514.0 468.1 514.3 461.7 514.6 449.0 514.8 428.5 515.1 421.4 515.4 417.4 515.7 415.8 516.0 416.5 516.3 419.5 516.6 425.3 516.8 435.6 517.1 458.0 517.4 466.0 517.7 470.5 518.0 472.6 518.3 472.4 518.6 469.8 518.9 464.6 519.1 455.7 519.4 432.7 519.7 423.8 520.0 418.6 520.3 416.1 520.6 415.9 520.9 418.0 521.1 422.6 521.4 430.6 521.7 453.1 522.0 463.4 522.3 469.1 522.6 472.1 522.9 472.8 523.2 471.1 523.4 467.0 523.7 459.9 524.0 439.2 524.3 426.7 524.6 420.3 524.9 416.8 525.2 415.7 525.4 416.9 525.7 420.4 526.0 426.9 526.3 439.9 526.6 460.1 526.9 467.2 527.2 471.2 527.4 472.8 527.7 472.1 528.0 469.0 528.3 463.2 528.6 452.7 528.9 430.3 529.2 422.4 529.5 417.9 529.7 415.8 530.0 416.1 530.3 418.7 530.6 423.9 530.9 433.0 531.2 456.0 531.5 464.9 531.7 470.0 532.0 472.5 532.3 472.7 532.6 470.5 532.9 465.8 533.2 457.8 533.5 435.2 533.8 425.0 534.0 419.3 534.3 416.3 534.6 415.7 534.9 417.4 535.2 421.5 535.5 428.7 535.8 449.7 536.0 462.0 536.3 468.3 536.6 471.8 536.9 472.9 537.2 471.7 537.5 468.0 537.8 461.5 538.0 448.2 538.3 428.2 538.6 421.2 538.9 417.2 539.2 415.6 539.5 416.4 539.8 419.6 540.1 425.4 540.3 436.1 540.6 458.4 540.9 466.2 541.2 470.7" stroke="#5E9DD8" stroke-width="1.1"/>
<path d="M386.2 444.2L386.5 444.2 386.8 444.2 387.1 444.2 387.3 444.2 387.6 444.2 387.9 444.2 388.2 444.2 388.5 444.2 388.8 444.2 389.1 444.2 389.4 444.2 389.6 444.2 389.9 444.2 390.2 444.2 390.5 444.2 390.8 444.2 391.1 444.2 391.4 444.2 391.6 444.2 391.9 444.2 392.2 444.2 392.5 444.2 392.8 444.2 393.1 444.2 393.4 444.2 393.6 444.2 393.9 444.2 394.2 444.2 394.5 444.2 394.8 444.2 395.1 444.2 395.4 444.2 395.7 444.2 395.9 444.2 396.2 444.2 396.5 444.2 396.8 444.2 397.1 444.2 397.4 444.2 397.7 444.2 397.9 444.2 398.2 444.2 398.5 444.2 398.8 444.2 399.1 444.2 399.4 444.2 399.7 444.2 400.0 444.2 400.2 444.2 400.5 444.2 400.8 444.2 401.1 444.2 401.4 444.2 401.7 444.2 402.0 444.2 402.2 444.2 402.5 444.2 402.8 444.2 403.1 444.2 403.4 444.2 403.7 444.2 404.0 444.2 404.2 444.2 404.5 444.2 404.8 444.2 405.1 444.2 405.4 444.2 405.7 444.2 406.0 444.2 406.3 444.2 406.5 444.2 406.8 444.2 407.1 444.2 407.4 444.2 407.7 444.2 408.0 444.2 408.3 444.2 408.5 444.2 408.8 444.2 409.1 444.2 409.4 444.2 409.7 444.2 410.0 444.2 410.3 444.2 410.6 444.2 410.8 444.2 411.1 444.2 411.4 444.2 411.7 444.2 412.0 444.2 412.3 440.0 412.6 435.1 412.8 430.7 413.1 427.0 413.4 424.2 413.7 422.5 414.0 421.9 414.3 422.8 414.6 425.4 414.9 430.2 415.1 439.7 415.4 454.9 415.7 460.2 416.0 463.2 416.3 464.4 416.6 463.9 416.9 461.8 417.1 457.8 417.4 450.7 417.7 435.2 418.0 429.8 418.3 426.6 418.6 425.2 418.9 425.4 419.1 427.2 419.4 430.8 419.7 437.0 420.0 452.9 420.3 459.0 420.6 462.6 420.9 464.3 421.2 464.5 421.4 462.9 421.7 459.5 422.0 453.5 422.3 436.9 422.6 429.3 422.9 425.0 423.2 422.8 423.4 422.3 423.7 423.6 424.0 426.9 424.3 432.6 424.6 449.0 424.9 458.9 425.2 463.9 425.5 466.7 425.7 467.6 426.0 466.6 426.3 463.6 426.6 458.1 426.9 447.1 427.2 430.2 427.5 424.2 427.7 420.9 428.0 419.5 428.3 420.2 428.6 423.0 428.9 428.2 429.2 437.7 429.5 457.7 429.7 464.7 430.0 468.7 430.3 470.6 430.6 470.3 430.9 467.8 431.2 462.8 431.5 454.2 431.8 432.4 432.0 424.1 432.3 419.2 432.6 416.9 432.9 416.7 433.2 418.8 433.5 423.3 433.8 431.1 434.0 453.0 434.3 462.8 434.6 468.3 434.9 471.2 435.2 471.8 435.5 470.2 435.8 466.2 436.1 459.3 436.3 439.2 436.6 427.6 436.9 421.5 437.2 418.2 437.5 417.2 437.8 418.4 438.1 421.8 438.3 428.0 438.6 440.7 438.9 459.5 439.2 466.1 439.5 469.9 439.8 471.3 440.1 470.6 440.3 467.6 440.6 462.0 440.9 451.8 441.2 430.7 441.5 423.3 441.8 419.0 442.1 417.1 442.4 417.4 442.6 419.9 442.9 424.9 443.2 433.6 443.5 455.2 443.8 463.5 444.1 468.2 444.4 470.6 444.6 470.7 444.9 468.7 445.2 464.5 445.5 457.1 445.8 436.7 446.1 427.7 446.4 422.7 446.7 420.0 446.9 419.5 447.2 420.9 447.5 424.5 447.8 430.6 448.1 448.5 448.4 458.6 448.7 463.9 448.9 466.8 449.2 467.7 449.5 466.7 449.8 463.7 450.1 458.5 450.4 447.5 450.7 431.9 451.0 426.4 451.2 423.3 451.5 422.1 451.8 422.7 452.1 425.1 452.4 429.6 452.7 437.8 453.0 454.6 453.2 460.4 453.5 463.8 453.8 465.3 454.1 465.1 454.4 463.1 454.7 459.2 455.0 452.5 455.2 435.9 455.5 429.6 455.8 426.0 456.1 424.2 456.4 424.2 456.7 425.7 457.0 429.0 457.3 434.7 457.5 450.5 457.8 457.4 458.1 461.2 458.4 463.2 458.7 463.6 459.0 462.4 459.3 459.6 459.5 454.7 459.8 440.4 460.1 432.5 460.4 428.4 460.7 426.1 461.0 425.4 461.3 426.3 461.6 428.7 461.8 433.1 462.1 442.5 462.4 455.0 462.7 459.5 463.0 462.1 463.3 463.1 463.6 462.5 463.8 460.4 464.1 456.5 464.4 449.2 464.7 434.7 465.0 429.7 465.3 426.8 465.6 425.5 465.8 425.8 466.1 427.6 466.4 431.2 466.7 437.5 467.0 452.8 467.3 458.5 467.6 461.8 467.9 463.4 468.1 463.4 468.4 461.9 468.7 458.5 469.0 452.8 469.3 436.9 469.6 430.1 469.9 426.3 470.1 424.3 470.4 424.0 470.7 425.3 471.0 428.4 471.3 433.7 471.6 449.3 471.9 457.8 472.2 462.2 472.4 464.6 472.7 465.4 473.0 464.3 473.3 461.5 473.6 456.5 473.9 445.3 474.2 431.5 474.4 426.3 474.7 423.4 475.0 422.4 475.3 423.1 475.6 425.6 475.9 430.3 476.2 439.1 476.4 456.3 476.7 462.2 477.0 465.7 477.3 467.2 477.6 466.8 477.9 464.5 478.2 460.0 478.5 452.2 478.7 433.2 479.0 426.2 479.3 422.1 479.6 420.2 479.9 420.2 480.2 422.2 480.5 426.4 480.7 433.7 481.0 453.6 481.3 462.0 481.6 466.8 481.9 469.3 482.2 469.7 482.5 468.0 482.8 464.1 483.0 457.3 483.3 437.5 483.6 427.1 483.9 421.5 484.2 418.5 484.5 417.6 484.8 418.9 485.0 422.5 485.3 428.8 485.6 443.6 485.9 460.1 486.2 466.5 486.5 470.1 486.8 471.4 487.1 470.5 487.3 467.4 487.6 461.6 487.9 450.8 488.2 430.0 488.5 422.8 488.8 418.6 489.1 416.9 489.3 417.3 489.6 420.0 489.9 425.3 490.2 434.6 490.5 456.7 490.8 464.8 491.1 469.5 491.3 471.8 491.6 471.8 491.9 469.5 492.2 464.7 492.5 456.4 492.8 434.1 493.1 424.7 493.4 419.4 493.6 416.7 493.9 416.2 494.2 418.1 494.5 422.4 494.8 429.8 495.1 451.4 495.4 462.5 495.6 468.4 495.9 471.7 496.2 472.6 496.5 471.2 496.8 467.4 497.1 460.7 497.4 442.9 497.7 427.6 497.9 421.0 498.2 417.2 498.5 415.9 498.8 416.8 499.1 420.1 499.4 426.2 499.7 437.6 499.9 459.1 500.2 466.5 500.5 470.8 500.8 472.6 501.1 472.1 501.4 469.2 501.7 463.8 501.9 454.1 502.2 431.4 502.5 423.2 502.8 418.4 503.1 416.1 503.4 416.1 503.7 418.5 504.0 423.4 504.2 431.9 504.5 454.6 504.8 464.1 505.1 469.4 505.4 472.2 505.7 472.6 506.0 470.7 506.2 466.3 506.5 458.8 506.8 436.9 507.1 425.9 507.4 419.9 507.7 416.7 508.0 415.8 508.3 417.2 508.5 421.1 508.8 427.9 509.1 446.5 509.4 461.1 509.7 467.7 510.0 471.4 510.3 472.7 510.5 471.8 510.8 468.4 511.1 462.3 511.4 450.6 511.7 429.2 512.0 421.8 512.3 417.6 512.5 415.8 512.8 416.3 513.1 419.2 513.4 424.8 513.7 434.6 514.0 457.3 514.3 465.5 514.6 470.3 514.8 472.5 515.1 472.5 515.4 470.0 515.7 465.1 516.0 456.5 516.3 433.6 516.6 424.3 516.8 418.9 517.1 416.2 517.4 415.8 517.7 417.8 518.0 422.2 518.3 429.9 518.6 451.9 518.9 462.8 519.1 468.7 519.4 472.0 519.7 472.8 520.0 471.3 520.3 467.4 520.6 460.5 520.9 441.4 521.1 427.3 521.4 420.7 521.7 417.0 522.0 415.7 522.3 416.7 522.6 420.1 522.9 426.3 523.2 438.2 523.4 459.5 523.7 466.8 524.0 471.0 524.3 472.8 524.6 472.2 524.9 469.3 525.2 463.7 525.4 453.8 525.7 431.0 526.0 422.9 526.3 418.1 526.6 415.9 526.9 416.0 527.2 418.5 527.4 423.5 527.7 432.2 528.0 455.1 528.3 464.4 528.6 469.7 528.9 472.4 529.2 472.7 529.5 470.7 529.7 466.3 530.0 458.5 530.3 436.3 530.6 425.5 530.9 419.6 531.2 416.5 531.5 415.7 531.7 417.2 532.0 421.1 532.3 428.1 532.6 447.7 532.9 461.4 533.2 467.9 533.5 471.6 533.8 472.9 534.0 471.8 534.3 468.4 534.6 462.1 534.9 450.0 535.2 428.9 535.5 421.6 535.8 417.4 536.0 415.7 536.3 416.3 536.6 419.3 536.9 424.9 537.2 435.0 537.5 457.6 537.8 465.8 538.0 470.5 538.3 472.7 538.6 472.5 538.9 470.0 539.2 465.0 539.5 456.2 539.8 433.2 540.1 424.0 540.3 418.7 540.6 416.1 540.9 415.8 541.2 417.8" stroke="#23242c" stroke-width="1.1"/>
</g>
<rect x="386.20" y="403.30" width="155.00" height="81.90" fill="none" stroke="#3C3C3C" stroke-width="0.9"/>
<path d="M386.20 485.20h1.6M386.20 471.55h1.6M386.20 457.90h1.6M386.20 444.25h1.6M386.20 430.60h1.6M386.20 416.95h1.6M386.20 403.30h1.6M386.20 485.20v-1.6M412.03 485.20v-1.6M437.87 485.20v-1.6M463.70 485.20v-1.6M489.53 485.20v-1.6M515.37 485.20v-1.6M541.20 485.20v-1.6" stroke="#3C3C3C" stroke-width="0.7" fill="none"/>
<g font-family="'Liberation Serif','Times New Roman',serif" font-size="6.6" fill="#222" stroke="#222" stroke-width="0.2">
<text x="384.90" y="487.40" text-anchor="end">-15</text>
<text x="384.90" y="473.75" text-anchor="end">-10</text>
<text x="384.90" y="460.10" text-anchor="end">-5</text>
<text x="384.90" y="446.45" text-anchor="end">0</text>
<text x="384.90" y="432.80" text-anchor="end">5</text>
<text x="384.90" y="419.15" text-anchor="end">10</text>
<text x="384.90" y="405.50" text-anchor="end">15</text>
<text x="386.20" y="491.80" text-anchor="middle">0.19</text>
<text x="412.03" y="491.80" text-anchor="middle">0.20</text>
<text x="437.87" y="491.80" text-anchor="middle">0.21</text>
<text x="463.70" y="491.80" text-anchor="middle">0.22</text>
<text x="489.53" y="491.80" text-anchor="middle">0.23</text>
<text x="515.37" y="491.80" text-anchor="middle">0.24</text>
<text x="541.20" y="491.80" text-anchor="middle">0.25</text>
</g>
<rect x="127.3" y="4.1" width="37.40" height="27.50" fill="#fff" stroke="#3C3C3C" stroke-width="0.9"/>
<path d="M128.4 9.1H142.3" stroke="#F29440" stroke-width="1.3"/>
<text x="144.1" y="11.30" font-family="'Liberation Serif','Times New Roman',serif" font-size="6.6" textLength="19.5" lengthAdjust="spacingAndGlyphs" fill="#1a1a1a" stroke="#1a1a1a" stroke-width="0.1">phase A</text>
<path d="M128.4 18.2H142.3" stroke="#33353F" stroke-width="1.3"/>
<text x="144.1" y="20.40" font-family="'Liberation Serif','Times New Roman',serif" font-size="6.6" textLength="19.5" lengthAdjust="spacingAndGlyphs" fill="#1a1a1a" stroke="#1a1a1a" stroke-width="0.1">phase B</text>
<path d="M128.4 26.9H142.3" stroke="#4A8ACB" stroke-width="1.3"/>
<text x="144.1" y="29.10" font-family="'Liberation Serif','Times New Roman',serif" font-size="6.6" textLength="19.5" lengthAdjust="spacingAndGlyphs" fill="#1a1a1a" stroke="#1a1a1a" stroke-width="0.1">phase C</text>
<rect x="496.3" y="3.5" width="39.40" height="27.00" fill="#fff" stroke="#3C3C3C" stroke-width="0.9"/>
<path d="M497.2 8.6H512.0" stroke="#F29440" stroke-width="1.3"/>
<text x="513.8" y="10.80" font-family="'Liberation Serif','Times New Roman',serif" font-size="6.6" textLength="20.5" lengthAdjust="spacingAndGlyphs" fill="#1a1a1a" stroke="#1a1a1a" stroke-width="0.1">phase A</text>
<path d="M497.2 16.8H512.0" stroke="#33353F" stroke-width="1.3"/>
<text x="513.8" y="19.00" font-family="'Liberation Serif','Times New Roman',serif" font-size="6.6" textLength="20.5" lengthAdjust="spacingAndGlyphs" fill="#1a1a1a" stroke="#1a1a1a" stroke-width="0.1">phase B</text>
<path d="M497.2 25.9H512.0" stroke="#4A8ACB" stroke-width="1.3"/>
<text x="513.8" y="28.10" font-family="'Liberation Serif','Times New Roman',serif" font-size="6.6" textLength="20.5" lengthAdjust="spacingAndGlyphs" fill="#1a1a1a" stroke="#1a1a1a" stroke-width="0.1">phase C</text>
<rect x="289.4" y="8.2" width="61.8" height="18.4" fill="#fff" stroke="#3C3C3C" stroke-width="0.9"/>
<path d="M290.3 13H306.1" stroke="#2E75B6" stroke-width="1.6"/>
<path d="M290.3 21.1H306.1" stroke="#F08018" stroke-width="1.6"/>
<text x="307.4" y="15.3" font-family="'Liberation Serif','Times New Roman',serif" font-size="6.5" fill="#1a1a1a" stroke="#1a1a1a" stroke-width="0.12">MDSOGI-FLL</text>
<text x="307.4" y="23.4" font-family="'Liberation Serif','Times New Roman',serif" font-size="6.5" fill="#1a1a1a" stroke="#1a1a1a" stroke-width="0.12">MDSOGI-IFLL</text>
<text transform="translate(8.9 64.9) rotate(-90)" text-anchor="middle" font-family="'Liberation Serif','Times New Roman',serif" font-size="7.6" letter-spacing="0.18" fill="#2a2a2a" stroke="#2a2a2a" stroke-width="0.06">positive sequence(V)</text>
<text transform="translate(8.9 159.9) rotate(-90)" text-anchor="middle" font-family="'Liberation Serif','Times New Roman',serif" font-size="7.6" letter-spacing="0.18" fill="#2a2a2a" stroke="#2a2a2a" stroke-width="0.06">negative sequence(V)</text>
<text transform="translate(8.9 250.2) rotate(-90)" text-anchor="middle" font-family="'Liberation Serif','Times New Roman',serif" font-size="7.6" letter-spacing="0.18" fill="#2a2a2a" stroke="#2a2a2a" stroke-width="0.06">5th harmonic(V)</text>
<text transform="translate(8.9 345.2) rotate(-90)" text-anchor="middle" font-family="'Liberation Serif','Times New Roman',serif" font-size="7.6" letter-spacing="0.18" fill="#2a2a2a" stroke="#2a2a2a" stroke-width="0.06">7th harmonic(V)</text>
<text transform="translate(8.9 440.6) rotate(-90)" text-anchor="middle" font-family="'Liberation Serif','Times New Roman',serif" font-size="7.6" letter-spacing="0.18" fill="#2a2a2a" stroke="#2a2a2a" stroke-width="0.06">11th harmonic(V)</text>
<text x="84.70" y="502.6" textLength="24.6" lengthAdjust="spacingAndGlyphs" font-family="'Liberation Serif','Times New Roman',serif" font-size="8.3" fill="#1a1a1a" stroke="#1a1a1a" stroke-width="0.15">Time(s)</text>
<text x="265.45" y="502.6" textLength="26.1" lengthAdjust="spacingAndGlyphs" font-family="'Liberation Serif','Times New Roman',serif" font-size="8.3" fill="#1a1a1a" stroke="#1a1a1a" stroke-width="0.15">Time(s)</text>
<text x="448.90" y="502.6" textLength="26.2" lengthAdjust="spacingAndGlyphs" font-family="'Liberation Serif','Times New Roman',serif" font-size="8.3" fill="#1a1a1a" stroke="#1a1a1a" stroke-width="0.15">Time(s)</text>
<text x="86.0" y="526.6" text-anchor="middle" font-family="'Liberation Serif','Times New Roman',serif" font-weight="bold" font-size="10.5" fill="#111">(a)</text>
<text x="271.7" y="526.6" text-anchor="middle" font-family="'Liberation Serif','Times New Roman',serif" font-weight="bold" font-size="10.5" fill="#111">(b)</text>
<text x="457.4" y="526.6" text-anchor="middle" font-family="'Liberation Serif','Times New Roman',serif" font-weight="bold" font-size="10.5" fill="#111">(c)</text>
</svg></body></html>
